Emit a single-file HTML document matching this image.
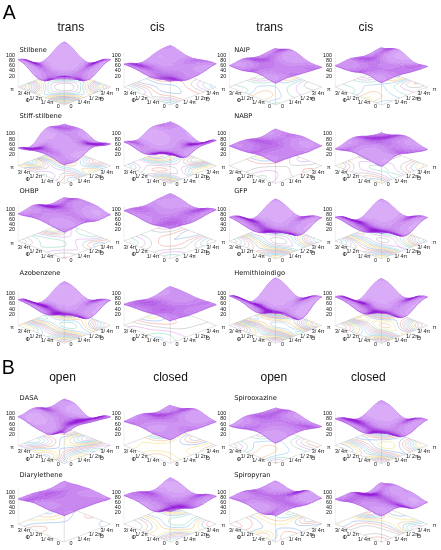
<!DOCTYPE html>
<html><head><meta charset="utf-8"><style>
html,body{margin:0;padding:0;background:#fff;}
body{width:441px;height:550px;position:relative;overflow:hidden;font-family:"Liberation Sans","DejaVu Sans",sans-serif;}
svg{position:absolute;left:0;top:0;}
div{position:absolute;white-space:nowrap;line-height:1;}
.zt{font-size:5.4px;color:#111;}
.fl{font-size:5.4px;color:#111;}
.ax{font-family:"DejaVu Sans",sans-serif;font-size:5.6px;color:#111;}
.nm{font-family:"DejaVu Sans",sans-serif;font-size:6.7px;color:#111;}
.hd{font-size:12px;color:#111;}
.big{font-size:19.5px;color:#000;}
.a{fill:#e0b8fa;stroke:#e0b8fa}.b{fill:#daacf7;stroke:#daacf7}.c{fill:#d4a0f5;stroke:#d4a0f5}.d{fill:#ce94f2;stroke:#ce94f2}.e{fill:#c988f0;stroke:#c988f0}.f{fill:#c37ced;stroke:#c37ced}.g{fill:#bd70ea;stroke:#bd70ea}.h{fill:#b764e8;stroke:#b764e8}.i{fill:#b158e5;stroke:#b158e5}.j{fill:#ab4ce2;stroke:#ab4ce2}.k{fill:#a640e0;stroke:#a640e0}.l{fill:#a034dd;stroke:#a034dd}.m{fill:#9a28db;stroke:#9a28db}.n{fill:#941cd8;stroke:#941cd8}
.s path[class]{stroke-width:1;stroke-linejoin:round}
</style></head><body>
<svg width="441" height="550" viewBox="0 0 1764 2200"><g class="s">
<g fill="none" stroke-width="1.8"><path d="M73 348l184 72 185-72-185-71z" stroke="#c4c4c4" stroke-width="2"/><path d="M257 420V209" stroke="#c4c4c4" stroke-width="2"/><path d="M257 348l0 0" stroke="#f08576"/><path d="M282 361l-5 1-9 1-9 0-4 0-5 0-11 0-6-2-5-1-4-2-2-2-3-4-1-3 1-4 2-4 3-2 4-2 5-2 5 0 9-1 3-1 5 0 4 0 6 0 3 1 7 0 7 1 5 2 4 2 2 2 2 3 1 4-1 4-1 3-3 3-4 2-5 1" stroke="#a8a8a8"/><path d="M290 368l-8 1-4 0-4 0-6 0-9 0-10 0-8 0-5 0-4 0-7-1-7-1-5-1-4-3-3-2-1-3-1-3-1-4 0-6 1-3 1-3 1-3 3-3 4-2 5-1 7-1 7-1 4 0 5 0 5 0 3-1 7 0 9 0 3 1 6 0 4 0 4 0 7 1 7 1 5 1 4 2 3 3 2 3 1 3 0 6 0 5-1 4-2 4-3 2-4 3-5 1-6 1" stroke="#d08be8"/><path d="M310 372l-6 1-9 1-9 0-10 0-9 0-9 0-9 0-10 0-9 0-9 0-9-1-8-1-5-1-4-2-2-3-1-3 0-4 0-4 0-6 0-4 0-4 0-4 1-6 2-3 4-2 5-2 6 0 10-1 9 0 9 0 9 0 10 0 9 0 9 0 9 0 10 0 9 1 7 0 5 2 4 2 2 2 1 4 1 3 0 4-1 4 0 4 0 6 0 4 0 4-1 3-2 3-4 2-5 1" stroke="#6fcfb0"/><path d="M328 379l-9 0-11 0-8-1-9 0-4 0-4 0-6 0-10-1-9 0-9 0-9 1-9 0-4 0-4 0-6 0-10 1-9 0-9 0-9-1-3-2 0-4 2-4 1-3 1-3 1-4 1-6 0-4 0-4-1-3-1-4-1-4-1-4-1-3 0-4 2-3 7-2 9 0 10 1 9 0 8 1 4 0 4 0 6 0 10 0 9 0 10 0 8 0 9 0 4 0 4 0 7-1 10 0 8 0 3-1 6 1 3-1 6 2 3 2 0 4-1 4-1 3-1 3-1 3-1 3 0 4 0 4 0 6 1 3 1 4 1 3 1 3 1 3 0 4-3 3-6 1" stroke="#72b8ec"/><path d="M335 390l-5-2-5-1-6-2-6-1-7-1-7 0-8-1-4 0-4-1-7 0-10 0-8 0-10 0-9 0-8 0-4 1-4 0-7 1-7 0-7 1-6 1-6 2-6 1-5 2M364 318l-5 2-3 2-4 2-2 3-3 3-2 2-2 3-1 3-1 3-1 4 0 4 1 6 1 3 1 4 2 2 2 3 3 3 2 2 4 3 3 2 5 2M151 379l4-2 4-2 3-3 2-2 3-3 2-2 2-3 2-4 1-3 1-6-1-4 0-4-1-3-2-3-2-3-2-2-2-3-3-3-3-2-4-2-4-2M179 307l5 2 6 1 6 1 5 1 8 2 6 0 8 1 4 0 4 1 7 0 10 0 9 0 9 0 9 0 8 0 4-1 4 0 7-1 8 0 6-1 7-2 6-1 5-1 5-2" stroke="#f0ac62"/><path d="M327 393l-5-2-3-1-8-2-6-1-6-1-8-1-5 0-10-1-8 0-3-1-6 0-4 0-5 0-4 1-6 0-10 1-7 0-7 1-7 1-6 1-5 2-6 1-5 2M372 321l-5 2-3 2-4 2-3 3-2 2-3 3-2 3-1 3-1 3-1 4 1 3 1 4 1 4 2 3 2 2 3 3 3 2 4 3 3 2 5 1M143 375l4-1 4-2 3-3 3-2 3-2 2-3 2-2 2-4 1-3 0-4 0-5-1-3-2-3-2-3-2-3-3-2-3-3-3-2-4-2-4-2M187 304l5 2 6 1 5 1 6 2 6 1 8 1 5 0 10 1 8 0 4 0 5 0 4 0 6 0 10 0 9-1 7 0 7-1 7-1 6-2 6-1 5-1 5-2" stroke="#eedc5a"/><path d="M321 395l-5-1-5-2-6-1-6-1-7-2-7 0-7-1-5 0-3-1-8 0-9 0-9 0-7 1-7 0-8 1-6 1-7 2-5 1-5 2-5 1M378 324l-4 2-4 2-4 2-3 2-3 3-2 2-2 3-1 3-1 3 0 4 1 3 1 3 2 3 2 3 3 2 3 3 4 2 4 2 4 2M136 373l5-2 4-2 3-2 3-2 3-3 2-3 2-3 1-3 1-3 0-4-1-3-1-3-2-3-2-2-3-3-3-2-3-2-4-2-5-2M194 301l5 2 5 2 5 1 7 1 6 1 7 1 8 1 5 0 10 1 9 0 9-1 8 0 6-1 8-1 6-1 7-1 6-1 5-2 5-2" stroke="#6c9fe0"/><path d="M315 397l-5-1-5-2-6-1-3-1-9-1-6-1-9-1-8 0-4 0-5 0-4 0-6 0-10 1-7 1-7 1-6 1-6 1-5 2-5 1M384 326l-5 2-4 2-3 2-3 2-3 3-2 2-2 4-1 3 0 5 1 3 2 3 2 3 3 2 3 3 3 2 4 2 5 2M131 371l4-2 4-2 4-2 3-3 2-2 2-2 2-4 1-3 0-4-1-3-1-4-3-3-2-3-3-2-4-2-4-2-4-2M199 299l5 2 5 2 6 1 3 1 10 1 5 1 9 1 9 0 4 0 5 0 4 0 6 0 10-1 7-1 6-1 6-1 6-1 5-2 5-2" stroke="#f08576"/><path d="M310 399l-5-1-5-2-6-1-6-1-7-1-3-1-4 0-7-1-10 0-9 0-8 1-4 0-3 1-7 1-5 1-7 1-5 2-5 1M389 328l-5 2-4 2-3 2-3 2-3 3-2 3-1 3 0 7 1 3 2 3 3 2 2 2 4 3 4 2 5 2M126 369l4-2 4-2 4-2 3-3 2-2 2-3 1-3 1-4-1-3-1-3-2-3-2-3-3-2-4-2-4-2-4-2M204 297l5 2 5 2 6 1 6 1 7 1 7 1 8 0 9 1 9-1 8 0 4-1 10-1 5-1 7-1 5-2 5-2" stroke="#a8a8a8"/><path d="M305 401l-4-1-6-2-5-1-7-1-7-1-8-1-4 0-4 0-6 0-8 0-7 1-8 1-6 1-6 1-5 2-5 1M393 330l-4 2-4 2-3 2-3 2-2 3-2 3-1 3 0 4 2 4 3 3 3 3 3 2 4 2 4 2M121 367l4-2 4-2 3-2 3-3 3-2 1-3 1-3 0-4-2-4-3-4-2-2-4-2-4-2-4-2M209 295l5 2 5 2 6 1 6 1 7 1 8 1 5 0 9 0 4 0 4 0 7-1 8-1 6-1 6-1 6-2 4-2" stroke="#d08be8"/><path d="M301 403l-5-2-6-1-3-1-9-1-6-1-9-1-9 0-10 1-7 1-7 1-6 1-5 1-5 2M398 332l-4 1-4 3-3 2-3 2-2 3-1 3 0 4 1 4 2 2 3 3 3 2 4 2 4 2M116 365l5-2 3-2 4-2 2-3 2-2 2-3 0-4-2-4-2-3-2-2-4-2-3-3-5-1M214 294l5 1 5 2 4 1 9 1 6 1 9 0 9 0 10 0 7-1 6-1 6-1 6-2 5-1" stroke="#6fcfb0"/><path d="M296 405l-5-2-6-1-6-1-7-1-3-1-4 0-7 0-8 0-4 0-4 1-7 1-4 1-7 1-5 2M403 333l-4 2-4 2-3 3-3 2-1 3-1 3 1 3 1 3 3 3 2 2 5 2 4 2M111 363l5-2 3-2 3-2 3-3 1-3 1-3-1-3-1-3-3-2-2-2-4-3-5-2M219 292l5 1 5 2 6 1 7 1 4 0 4 1 6 0 9 0 4-1 10-1 4-1 8-2 5-1" stroke="#72b8ec"/><path d="M291 407l-5-2-5-1-7-1-7-1-9 0-10 0-7 1-7 1-5 1-5 2M408 335l-4 2-3 2-4 3-2 3-1 3 1 4 2 3 3 2 4 2 4 2M106 361l4-2 4-1 3-3 2-3 1-3-1-4-2-3-3-2-4-3-4-2M224 290l5 1 4 2 8 1 7 1 8 0 10 0 8-1 6-1 6-2 5-1" stroke="#f0ac62"/><path d="M285 409l-3-1-8-2-6-1-8 0-5 0-5 0-10 1-6 2-5 1M414 338l-3 1-5 3-2 2-2 3 1 4 3 4 3 2 5 2M101 359l4-2 3-2 3-3 1-3-1-4-3-3-3-2-4-2M229 288l3 1 8 2 7 1 8 0 5 0 5 0 9-1 6-2 5-1" stroke="#eedc5a"/><path d="M279 412l-6-2-6-1-7-1-5 0-5 1-9 1-5 2M420 340l-4 2-3 2-1 3 0 4 4 4 4 2M94 357l4-2 3-3 2-3-1-4-4-3-4-2M236 285l5 2 6 1 8 0 5 0 5 0 8-1 6-2" stroke="#6c9fe0"/><path d="M270 415l-6-1-6-1-8 1-5 1M429 344l-4 2-1 3 5 4M85 353l4-2 2-2-2-3-4-2M245 282l5 1 7 1 7-1 6-1" stroke="#f08576"/></g>
<path d="M73 209V348" stroke="#c8c8c8" stroke-width="1.2"/>
<path d="M73 239l6-2 7 0 7 0 6 1 7 1 6 3 7 2 6 3 7 2 7 1 6 1 7 1 6-1 7-2 7-3 6-5 7-5 6-6 7-7 7-7 6-8 7-7 6-8 7-6 6-7 7-5 7-4 6-3 7 3 6 4 7 5 7 7 6 6 7 8 6 7 7 8 6 7 7 7 7 6 6 5 7 5 6 3 7 2 7 1 6-1 7-1 6-1 7-2 7-3 6-2 7-3 6-1 7-1 6 0 7 0 7 2" fill="none" stroke="#a040e0" stroke-width="2.6"/><path class=b d="M191 239l7-6 7-7 6-7 7-8 6-7 7-8 6-6 7-7 7-5-7-3-7 5-6 7-7 6-6 8-7 7-6 8-7 7-7 7-6 6zM191 247l7-5 7-6 6-7 7-7 6-7 7-8 6-7 7-6 7-6 6-6 7-4-7-4-6 4-7 5-7 7-6 6-7 8-6 7-7 8-6 7-7 7-7 6-6 5zM198 251l7-5 6-6 7-7 6-7 7-7 6-7 7-7 7-6 6-6 7-5 6-5 7-3-7-5-6 3-7 4-6 6-7 6-7 6-6 7-7 8-6 7-7 7-6 7-7 6-7 5zM205 255l6-5 7-6 6-6 7-7 6-7 7-7 7-6 6-7 7-5 6-5 7-4 7-3-7-7-7 3-6 5-7 5-6 6-7 6-7 7-6 7-7 7-6 7-7 7-6 6-7 5zM205 263l6-4 7-5 6-5 7-6 6-7 7-6 7-7 6-6 7-6 6-6 7-5 7-4 6-3-6-6-7 3-7 4-6 5-7 5-6 7-7 6-7 7-6 7-7 7-6 6-7 6-6 5-7 4zM106 265l6-2-6-7-7 2zM211 267l7-4 6-4 7-5 6-6 7-6 7-7 6-6 7-6 6-6 7-5 7-5 6-3 7-3-7-8-6 3-7 4-7 5-6 6-7 6-6 6-7 7-7 6-6 7-7 6-6 5-7 5-6 4zM112 272l7-2-7-7-6 2zM218 272l6-4 7-4 6-5 7-6 7-6 6-6 7-6 6-5 7-6 7-5 6-4 7-4 6-3-6-7-7 3-6 3-7 5-7 5-6 6-7 6-6 6-7 7-7 6-6 6-7 5-6 4-7 4zM119 280l6-2-6-8-7 2zM224 276l7-4 6-4 7-5 7-5 6-5 7-6 6-5 7-6 7-5 6-5 7-4 6-3 7-3-7-8-6 3-7 4-6 4-7 5-7 6-6 5-7 6-6 6-7 6-7 6-6 5-7 4-6 4zM125 287l7-2-7-7-6 2zM237 277l7-4 7-5 6-5 7-5 6-5 7-5 7-5 6-5 7-5 6-4 7-3 6-3-6-7-7 3-6 3-7 4-6 5-7 5-7 6-6 5-7 6-6 5-7 5-7 5-6 4zM132 295l7-2-7-8-7 2zM244 281l7-4 6-4 7-5 6-5 7-4 7-5 6-5 7-5 6-4 7-4 6-3 7-3-7-7-6 3-7 3-6 4-7 5-6 5-7 5-7 5-6 5-7 5-6 5-7 5-7 4zM139 302l6-3-6-6-7 2zM257 281l7-4 6-4 7-5 7-4 6-5 7-5 6-4 7-4 6-4 7-3 7-3-7-6-7 3-6 3-7 4-6 4-7 5-6 5-7 5-7 4-6 5-7 5-6 4zM270 281l7-4 7-5 6-4 7-5 6-4 7-4 6-4 7-4 7-3-7-5-7 3-6 4-7 4-6 4-7 5-6 5-7 4-7 5-6 4zM290 276l7-4 6-5 7-4 6-4-6-4-7 4-6 4-7 5-6 4zM376 302l6-7 7-8 7-7 6-8 7-7 6-7-6-2-7 7-6 7-7 8-7 7-6 8-7 6z"/><path class=c d="M251 178l6-4-6-3-7 4zM178 248l7-4 6-5-6-3-7 5-6 5zM264 178l6-3-6-4-7 3zM185 252l6-5-6-3-7 4zM185 258l6-3 7-4-7-4-6 5-7 3zM93 252l6-2-6-5-7 2zM191 262l7-3 7-4-7-4-7 4-6 3zM99 258l7-2 6-1-6-6-7 1-6 2zM198 266l7-3-7-4-7 3zM112 263l7-1-7-7-6 1zM205 270l6-3-6-4-7 3zM119 270l6-1 7-1-7-7-6 1-7 1zM205 277l6-2 7-3-7-5-6 3-7 2zM125 278l7-2 7 0-7-8-7 1-6 1zM211 281l7-2 6-3-6-4-7 3-6 2zM132 285l7-1 6-1 7-1-7-7-6 1-7 0-7 2zM218 285l6-2 7-3 6-3-6-5-7 4-6 3-7 2zM139 293l6-2 7-1 6-1-6-7-7 1-6 1-7 1zM231 287l6-3 7-3-7-4-6 3-7 3zM145 299l7-1 6-2 7-1-7-6-6 1-7 1-6 2zM237 291l7-3 7-3 6-4-6-4-7 4-7 3-6 3zM145 308l7-3 6-1 7-2-7-6-6 2-7 1-6 3zM330 244l6-3-6-5-7 3zM251 292l6-4 7-3 6-4-6-4-7 4-6 4-7 3zM152 313l6-2 7-2-7-5-6 1-7 3zM316 259l7-4 7-3 6-4 7-2-7-5-6 3-7 3-7 4-6 4zM264 292l6-4 7-4 7-4 6-4-6-4-7 5-7 4-6 4-7 3zM158 317l7-2-7-4-6 2zM277 291l7-4 6-4 7-4 6-4 7-5 6-4 7-4 7-4 6-3-6-3-7 3-7 4-6 4-7 4-6 5-7 4-6 4-7 4-7 4zM297 285l6-4 7-4 6-5-6-2-7 5-6 4-7 4zM356 296l7-6 6-7 7-7-7-1-6 7-7 7-7 6zM356 304l7-6 6-7 7-7 6-8 7-7 7-7-7-1-7 7-6 8-7 7-6 7-7 6-7 6zM356 311l7-6 6-6 7-6 6-8 7-7 7-8 6-7 7-7 6-6-6-1-7 6-6 7-7 7-7 7-6 8-7 7-6 7-7 6-7 5zM415 258l7-6 6-5-6-2-7 5-6 6zM356 317l7-4 6-5 7-6-7-3-6 6-7 6-7 4z"/><path class=d d="M257 174l7-3-7-3-6 3zM172 252l6-4-6-2-7 3zM178 255l7-3-7-4-6 4zM86 247l7-2-7-4-7 2zM178 260l7-2-7-3-6 2zM99 250l7-1-7-5-6 1zM185 264l6-2-6-4-7 2zM112 255l7 0-7-6-6 0zM191 268l7-2-7-4-6 2zM119 262l6-1-6-6-7 0zM191 274l7-2 7-2-7-4-7 2-6 1zM132 268l7 0-7-6-7-1zM198 278l7-1-7-5-7 2zM139 276l6-1 7 1-7-7-6-1-7 0zM205 283l6-2-6-4-7 1zM152 282l6 0-6-6-7-1zM211 287l7-2-7-4-6 2zM158 289l7 0 7 0-7-6-7-1-6 0zM218 291l6-2 7-2-7-4-6 2-7 2zM165 295l7 0 6 0-6-6-7 0-7 0zM224 295l7-2 6-2-6-4-7 2-6 2zM165 302l7-1 6-1 7 0-7-5-6 0-7 0-7 1zM231 299l6-2 7-3 7-2-7-4-7 3-6 2-7 2zM165 309l7-2 6-1 7-1-7-5-6 1-7 1-7 2zM244 300l7-2 6-3 7-3-7-4-6 4-7 2-7 3zM165 315l7-2 6-2-6-4-7 2-7 2zM336 255l7-3 6-3-6-3-7 2-6 4zM257 300l7-2 6-4 7-3-7-3-6 4-7 3-6 3zM165 320l7-2-7-3-7 2zM316 272l7-4 7-4 6-4 7-3-7-2-6 3-7 4-7 4-6 4zM270 300l7-3 7-4 6-4 7-4-7-2-6 4-7 4-7 3-6 4zM284 299l6-4 7-4 6-4 7-4 6-5 7-4 7-5-7-1-7 4-6 5-7 4-6 4-7 4-6 4-7 4zM336 300l7-5 6-6 7-7-7 1-6 6-7 6-6 5zM336 306l7-5 6-6 7-6 7-7 6-7 7-7-7 1-6 7-7 6-7 7-6 6-7 5-6 5zM376 276l6-8 7-7-7 1-6 6-7 7zM343 307l6-5 7-6-7-1-6 6-7 5zM396 262l6-7 7-6-7 0-6 6-7 6zM343 313l6-4 7-5-7-2-6 5-7 4zM415 250l7-5-7-1-6 5zM349 315l7-4-7-2-6 4zM428 247l7-4-7-2-6 4zM349 320l7-3-7-2-6 3z"/><path class=e d="M165 254l7-2-7-3-7 2zM79 243l7-2-7-4-6 2zM172 257l6-2-6-3-7 2zM93 245l6-1-6-4-7 1zM106 249l6 0-6-5-7 0zM178 265l7-1-7-4-6 1zM185 269l6-1-6-4-7 1zM125 261l7 1-7-7-6 0zM185 274l6 0-6-5-7 1zM139 268l6 1-6-6-7-1zM191 279l7-1-7-4-6 0zM152 276l6 0-6-6-7-1zM191 284l7 0 7-1-7-5-7 1-6 0zM158 282l7 1 7 0-7-6-7-1-6 0zM172 289l6 0 7 0 6 0 7 0 7-1 6-1-6-4-7 1-7 0-6 0-7 0-6-1-7 0zM178 295l7-1 6 0 7 0 7-1 6-1 7-1-7-4-6 1-7 1-7 0-6 0-7 0-6 0zM185 300l6-1 7 0 7-1 6 0 7-1 6-2-6-4-7 1-6 1-7 1-7 0-6 0-7 1zM218 301l6-1 7-1-7-4-6 2-7 1zM185 305l6-1 7 0-7-5-6 1-7 0zM231 303l6-1 7-2-7-3-6 2-7 1zM178 311l7-1 6-1-6-4-7 1-6 1zM244 305l7-2 6-3-6-2-7 2-7 2zM172 318l6-2 7-2-7-3-6 2-7 2zM343 257l6-3 7-3-7-2-6 3-7 3zM257 305l7-2 6-3-6-2-7 2-6 3zM330 269l6-4 7-4-7-1-6 4-7 4zM270 305l7-3 7-3-7-2-7 3-6 3zM284 303l6-3 7-3 6-5 7-4 6-4 7-5 7-5 6-4-6-1-7 5-7 4-6 5-7 4-6 4-7 4-6 4-7 3zM297 301l6-3 7-5 6-4 7-5 7-5-7 0-7 5-6 4-7 4-6 5-7 3zM310 298l6-4 7-5 7-5-7 0-7 5-6 4-7 5zM316 299l7-5 7-5 6-5-6 0-7 5-7 5-6 4zM323 299l7-5 6-5 7-6-7 1-6 5-7 5-7 5zM323 304l7-4 6-5 7-6 6-6 7-7-7 1-6 6-7 6-6 5-7 5-7 5zM356 282l7-6 6-7-6 1-7 6-7 7zM330 305l6-5-6 0-7 4zM376 268l6-6-6 1-7 6zM330 310l6-4-6-1-7 4zM389 261l7-6-7 0-7 7zM336 311l7-4-7-1-6 4zM409 249l6-5-6 0-7 5zM336 316l7-3-7-2-6 3zM422 245l6-4-6-1-7 4zM343 318l6-3-6-2-7 3zM435 243l7-4-7-2-7 4z"/><path class=f d="M172 261l6-1-6-3-7 1zM119 255l6 0-6-5-7-1zM178 270l7-1-7-4-6 0zM132 262l7 1-7-6-7-2zM178 274l7 0-7-4-6-1zM145 269l7 1-7-6-6-1zM158 276l7 1 7 1 6 1 7 0 6 0-6-5-7 0-6-1-7-1-7-1-6-1zM172 283l6 1 7 0 6 0-6-5-7 0-6-1-7-1zM198 304l7-1 6-1 7-1-7-3-6 0-7 1-7 0zM191 309l7-1 7-1 6 0 7-1 6-1 7-2-7-3-6 1-7 1-6 1-7 1-7 0-6 1zM231 308l6-2 7-1-7-3-6 1-7 2zM185 314l6-1-6-3-7 1zM251 307l6-2-6-2-7 2zM172 322l6-2-6-2-7 2zM343 261l6-3-6-1-7 3zM264 307l6-2-6-2-7 2zM336 270l7-5-7 0-6 4zM277 306l7-3-7-1-7 3zM330 279l6-5 7-5-7 1-6 4-7 5zM284 308l6-3 7-4-7-1-6 3-7 3zM330 284l6-5 7-6-7 1-6 5-7 5zM297 306l6-4 7-4-7 0-6 3-7 4zM336 284l7-6 6-6-6 1-7 6-6 5zM303 307l7-4 6-4-6-1-7 4-6 4zM343 283l6-6 7-6-7 1-6 6-7 6zM310 307l6-3 7-5-7 0-6 4-7 4zM356 276l7-6-7 1-7 6zM316 308l7-4-7 0-6 3zM369 269l7-6-7 1-6 6zM323 309l7-4-7-1-7 4zM382 262l7-7-7 2-6 6zM396 255l6-6-6 1-7 5zM330 314l6-3-6-1-7 3zM343 322l6-2-6-2-7 2z"/><path class=g d="M158 254l7 0-7-3-6 1zM86 241l7-1-7-3-7 0zM165 258l7-1-7-3-7 0zM99 244l7 0-7-4-6 0zM112 249l7 1-7-5-6-1zM172 265l6 0-6-4-7 0zM125 255l7 2-7-6-6-1zM172 269l6 1-6-5-7 0zM139 263l6 1-6-6-7-1zM152 270l6 1 7 1 7 1 6 1-6-5-7-1-7-1-6-2-7-1zM191 313l7-1 7-1 6-1 7 0 6-1 7-1-7-3-6 1-7 1-6 0-7 1-7 1-6 1zM237 310l7-1 7-2-7-2-7 1-6 2zM178 320l7-2 6-2-6-2-7 2-6 2zM349 258l7-4 7-2-7-1-7 3-6 3zM257 309l7-2-7-2-6 2zM343 265l6-4-6 0-7 4zM270 309l7-3-7-1-6 2zM343 269l6-4-6 0-7 5zM277 310l7-2-7-2-7 3zM343 273l6-5-6 1-7 5zM290 309l7-3-7-1-6 3zM349 272l7-5-7 1-6 5zM297 310l6-3-6-1-7 3zM356 271l7-6-7 2-7 5zM303 310l7-3-7 0-6 3zM363 270l6-6-6 1-7 6zM310 311l6-3-6-1-7 3zM376 263l6-6-6 1-7 6zM316 312l7-3-7-1-6 3zM389 255l7-5-7 1-7 6zM323 313l7-3-7-1-7 3zM237 307l7-1-7 2-6 1zM402 249l7-5-7 1-6 5zM415 244l7-4-7 0-6 4zM330 318l6-2-6-2-7 2zM428 241l7-4-7 0-6 3zM336 320l7-2-7-2-6 2zM277 307l7 2-7-1-7-2z"/><path class=h d="M165 261l7 0-7-3-7 0zM165 265l7 0-7-4-7-1zM165 268l7 1-7-4-7-1zM145 264l7 1-7-5-6-2zM231 311l6-1-6-2-7 1zM191 316l7-1-7-2-6 1zM251 310l6-1-6-2-7 2zM178 323l7-2-7-1-6 2zM349 261l7-3-7 0-6 3zM264 310l6-1-6-2-7 2zM349 265l7-5-7 1-6 4zM349 268l7-4-7 1-6 4zM284 311l6-2-6-1-7 2zM369 264l7-6-7 2-6 5zM323 316l7-2-7-1-7 2zM336 323l7-1-7-2-6 1z"/><path class=i d="M93 240l6 0-6-3-7 0zM158 258l7 0-7-4-6 0zM106 244l6 1-6-4-7-1zM119 250l6 1-6-5-7-1zM132 257l7 1-7-5-7-2zM152 265l6 2 7 1-7-4-6-2-7-2zM198 315l7-1 6-1 7 0 6-1 7-1-7-2-6 1-7 0-6 1-7 1-7 1zM244 312l7-2-7-1-7 1zM185 321l6-2-6-1-7 2zM356 258l7-4-7 0-7 4zM257 312l7-2-7-1-6 1zM270 312l7-2-7-1-6 1zM356 267l7-5-7 2-7 4zM290 312l7-2-7-1-6 2zM363 265l6-5-6 2-7 5zM297 313l6-3-6 0-7 2zM303 313l7-2-7-1-6 3zM382 257l7-6-7 2-6 5zM310 314l6-2-6-1-7 2zM396 250l6-5-6 1-7 5zM316 315l7-2-7-1-6 2zM409 244l6-4-6 1-7 4zM422 240l6-3-6 0-7 3zM330 321l6-1-6-2-7 1z"/><path class=j d="M152 254l6 0-6-2-7-1zM158 260l7 1-7-3-6-1zM139 258l6 2 7 2 6 2 7 1-7-5-6-1-7-2-6-2-7-2zM237 313l7-1-7-2-6 1zM191 319l7-2-7-1-6 2zM363 254l6-3-6 1-7 2zM356 260l7-3-7 1-7 3zM356 264l7-5-7 1-7 5zM277 313l7-2-7-1-7 2zM363 262l6-5-6 2-7 5zM369 260l7-5-7 2-6 5zM376 258l6-5-6 2-7 5zM323 319l7-1-7-2-7 1z"/><path class=k d="M152 257l6 1-6-4-7-1zM125 251l7 2-7-5-6-2zM231 313l6 0-6-2-7 1zM198 317l7-1-7-1-7 1zM251 313l6-1-6-2-7 2zM363 257l6-4-6 1-7 4zM264 313l6-1-6-2-7 2zM244 314l7 1-7 0-7 0zM284 313l6-1-6-1-7 2zM270 314l7 1-7 0-6 0zM389 251l7-5-7 2-7 5zM316 317l7-1-7-1-6 1z"/><path class=l d="M99 240l7 1-7-3-6-1zM112 245l7 1-7-4-6-1zM152 259l6 1-6-3-7-2zM132 253l7 2-7-4-7-3zM205 316l6-1 7 0 6-1 7-1-7-1-6 1-7 0-6 1-7 1zM244 314l7-1-7-1-7 1zM185 323l6-2-6 0-7 2zM363 259l6-4-6 2-7 3zM270 314l7-1-7-1-6 1zM290 314l7-1-7-1-6 1zM382 253l7-5-7 3-6 4zM297 315l6-2-6 0-7 1zM303 315l7-1-7-1-6 2zM224 311l7-2-7 2-6 2zM402 245l7-4-7 1-6 4zM310 316l6-1-6-1-7 1zM415 240l7-3-7 1-6 3zM330 323l6 0-6-2-7 0zM290 311l7 2-7-2-6-2z"/><path class=m d="M145 253l7 1-7-3-6-1zM139 255l6 2 7 2-7-4-6-2-7-2zM191 321l7-2-7 0-6 2zM369 253l7-3-7 1-6 3zM257 314l7-1-7-1-6 1zM369 257l7-4-7 2-6 4zM376 255l6-4-6 2-7 4zM323 321l7 0-7-2-7 0z"/><path class=n d="M106 241l6 1 7 3 6 2 7 2 7 3 6 1-6-3-7-1-7-2-6-3-7-2-6-3-7-1zM119 246l6 2 7 3 7 2 6 2 7 2-7-4-6-1-7-3-7-2-6-2-7-3zM198 319l7-2 6-1 7 0 6-1 7 0 6-1 7 0-7-1-6 0-7 1-6 1-7 0-6 1-7 1-7 2zM191 322l7-2 7-2 6-1 7-1 6-1 7 0 6 0 7 0 7-1 6 0-6-1-7 1-7 0-6 1-7 0-6 1-7 0-6 1-7 2-7 2-6 2zM369 255l7-3 6-3-6 1-7 3-6 4zM251 315l6 0 7-1 6 0-6-1-7 1-6 0-7 1zM198 320l7-2 6-2-6 2-7 2-7 2zM376 253l6-4 7-2-7 2-6 3-7 3zM264 315l6 0 7-1 7-1-7 0-7 1-6 0-7 1zM205 318l6-2-6 2-7 2zM382 251l7-4 7-3-7 3-7 2-6 4zM277 315l7 0 6-1-6-1-7 1-7 1zM389 248l7-3 6-3-6 2-7 3-7 4zM284 315l6 0 7 0-7-1-6 1-7 0zM396 246l6-4 7-3-7 3-6 3-7 3zM290 315l7 1 6-1-6 0-7 0-6 0zM409 241l6-3-6 1-7 3zM297 316l6 0 7 0-7-1-6 1-7-1zM303 317l7 0 6 0-6-1-7 0-6 0zM310 318l6 1 7 0-7-2-6 0-7 0zM310 318l6 2 7 1-7-2-6-1-7-2zM310 318l6 2 7 2 7 1-7-2-7-1-6-2-7-2z"/><path class=c d="M231 313l6 0-6 1-7 1zM231 311l6 0 7 1 7 0 6 1-6 1-7-1-7 0-6 0-7 0zM231 310l6-1 7 0 7 1 6 1 7 1 6 1-6 1-7-1-6-1-7 0-7-1-6 0-7 1zM237 308l7-1 7 1 6 1 7 1 6 2 7 1-7 0-6-1-7-1-6-1-7-1-7 0-6 1zM251 306l6 1 7 1 6 1 7 2 7 2 6 2-6-1-7-1-7-1-6-2-7-1-6-1-7-1zM264 306l6 1 7 2 7 2 6 2-6 0-7-2-7-2-6-1-7-1zM277 308l7 2 6 2-6-1-7-2-7-2z"/><path class=d d="M237 313l7 0 7 1-7 0-7 0-6 0zM218 314l6-1 7 0-7 2-6 0-7 1zM257 313l7 1-7 0-6 0zM224 312l7-1-7 2-6 1zM270 313l7 1-7 0-6 0zM224 311l7-1-7 2-6 1zM277 313l7 1-7 0-7-1zM244 306l7 0-7 1-7 1zM290 313l7 2-7 0-6-2zM257 305l7 1-7 1-6-1zM290 312l7 2 6 2-6-1-7-2-6-2zM270 306l7 2-7-1-6-1zM290 311l7 2-7-1-6-2z"/><path class=e d="M224 315l7-1-7 1-6 1zM251 314l6 0-6 1-7-1zM264 314l6 0-6 1-7-1zM218 313l6-1-6 2-7 2zM231 309l6-1-6 2-7 1zM290 315l7 1-7-1-6-1zM251 305l6 0-6 1-7 0zM264 305l6 1-6 0-7-1zM297 313l6 3-6-2-7-2zM284 309l6 2-6-1-7-2z"/><path class=f d="M231 314l6 0-6 1-7 0zM218 315l6 0-6 1-7 1zM284 314l6 1-6 0-7-1zM297 315l6 2-6-1-7-1z"/><path class=g d="M237 314l7 0-7 1-6 0zM211 316l7-2-7 2-6 2zM277 314l7 1-7 0-7-1zM303 316l7 2-7-2-6-2z"/><path class=h d="M257 314l7 1-7 0-6 0z"/><path class=i d="M211 316l7-1-7 2-6 1zM211 316l7-3-7 3-6 2zM218 313l6-2-6 2-7 3zM303 316l7 2-7-1-6-2zM297 313l6 3 7 2-7-2-6-3-7-2z"/><path class=g d="M257 311l7-2-7-2-6 2z"/><path class=i d="M251 309l6-2-6-1-7 2zM264 309l6-1-6-2-7 1z"/><path class=m d="M244 308l7-2-7 0-7 2zM257 307l7-1-7-1-6 1zM270 308l7 0-7-2-6 0z"/><path class=n d="M231 309l6-2-6 2-7 2zM237 308l7-2 7-1-7 1-7 1-6 2zM251 306l6-1 7 0-7 0-6 0-7 1zM264 306l6 0 7 1-7-1-6-1-7 0zM277 308l7 1 6 2-6-2-7-2-7-1z"/><path d="M73 239l6 4 7 4 7 5 6 6 7 7 6 7 7 8 6 7 7 8 7 7 6 6 7 5 6 4 7 3 7 2 6 1 7 0 6-1 7-2 7-2 6-2 7-3 6-2 7-2 6-1 7 0 7 1 6 2 7-2 6-1 7 0 7 1 6 2 7 2 6 3 7 2 6 2 7 2 7 1 6 0 7-1 6-2 7-3 7-4 6-5 7-6 6-7 7-8 7-7 6-8 7-7 6-7 7-6 6-5 7-4 7-4" fill="none" stroke="#a040e0" stroke-width="2.2"/>
<g fill="none" stroke-width="1.8"><path d="M496 348l185 72 184-72-184-71z" stroke="#c4c4c4" stroke-width="2"/><path d="M681 420V209" stroke="#c4c4c4" stroke-width="2"/><path d="M584 314l5 2 4 2 4 2 5 2 4 2 4 2 5 2 4 1 5 2 5 2 5 1 7 1 7 1 8 1 5 0 10 1 8 1 6 0 7 2 5 1 5 2 4 2 4 2 3 2 3 3 3 2 2 3 2 3 1 3 1 3 0 4-5 3-5 1-9-1-5 0-10-1-7-1-7-1-7-1-6-1-6-1-5-2-5-1-4-2-4-2-3-3-3-2-2-2-4-3-3-2-4-2-4-3-4-1-5-2-3-1-9-2-6-1-5-1-7-1-6-2-6-1-4-1-6-2-5-2" stroke="#6c9fe0"/><path d="M733 400l-4-2-5-2-5-2-5-1-5-2-5-2-3-1-7-2-6-1-6-1-3-1-4 0-6-1-6-1-8-1-6-1-6-1-6-2-4-2-5-2-3-2-3-2-3-3-3-2-3-3-3-2-3-2-3-3-4-2-4-2-5-2-5-1-5-2-5-2-5-1-5-2-6-1-5-2-5-1-5-2-4-2M595 310l5 2 5 2 4 1 5 2 5 2 6 1 3 1 8 2 7 1 7 1 7 0 9 1 9 0 10-1 9 0 8-1 5 0 10-1 8 1 4 2 3 3 1 3 2 3 2 2 2 3 2 3 2 3 3 2 3 2 3 3 4 2 3 2 4 2 4 3 4 2 4 1 4 2 5 2 4 2 5 2 4 2" stroke="#f08576"/><path d="M723 404l-5-2-5-2-5-1-5-2-5-2-6-1-5-1-5-1-8-2-7 0-8-1-4 0-3-1-7 0-10 0-9 0-8-1-6-1-4-2-2-3-1-3-1-3-1-3-2-3-2-3-2-3-3-2-3-3-3-2-3-2-5-2-4-2-5-2-5-2-5-1-5-2-5-2-5-1-5-2-4-2-5-1M787 318l-4 2-5 2-3 2-4 2-2 3-3 3-1 3 1 5 2 3 3 3 2 2 4 2 3 3 4 2 5 2 4 2 4 1 5 2 4 2 5 2 4 2M604 306l5 2 5 2 5 1 6 2 4 1 8 1 6 1 8 1 5 0 10 0 8 0 7-1 7-1 6-1 4-1 7-2 5-1 5-2 5-2 5-1 4-2 5-2 5-2" stroke="#a8a8a8"/><path d="M714 407l-5-2-5-1-5-2-5-1-6-2-6-1-4-1-10-1-8 0-5 0-4 0-4 0-7 1-6 1-5 2M803 324l-4 2-4 2-2 2-3 3-2 3 1 4 3 5 3 2 3 2 4 3 4 2 4 2 4 1 5 2 4 2 5 2M573 378l4-2 3-2 1-3 0-4-2-4-3-3-3-2-3-2-3-2-5-2-5-2-5-2-4-2-5-1-4-2-6-2-5-1-4-2M614 303l5 2 5 1 5 2 4 0 9 2 5 0 10 1 9-1 7 0 7-1 4-1 7-2 6-2 5-1 5-2 4-2 5-1 5-2 4-2" stroke="#d08be8"/><path d="M706 410l-5-1-5-2-6-1-6-2-6-1-5 0-10-1-8 1-6 1-6 1M819 331l-4 2-3 2-1 3 0 4 2 2 2 2 2 2 5 3 4 2 4 2 5 2 4 2M553 371l4-3 2-3-2-4-3-3-4-2-4-2-4-2-5-2-4-1-5-2-5-2-5-2-4-1M624 299l5 1 5 2 7 1 7 1 9 0 9-1 7-1 6-1 6-1 5-2 5-1 5-2 4-2 5-2 5-1" stroke="#6fcfb0"/><path d="M696 414l-5-1-5-2-7-1-7 0-8 0-5 1M843 340l-3 2 2 5 3 2 4 2 5 2M639 293l6 1 7 1 9 0 9-1 6-1 3-1 7-2 5-2 5-2 4-2" stroke="#72b8ec"/></g>
<path d="M496 209V348" stroke="#c8c8c8" stroke-width="1.2"/>
<path d="M496 257l7-2 7-1 6-1 7 0 6 0 7 1 6 0 7 0 7-1 6-2 7-2 6-3 7-4 7-5 6-4 7-6 6-5 7-5 7-5 6-4 7-5 6-3 7-4 6-3 7-3 7-3 6-2 7-3 6 3 7 3 7 4 6 5 7 4 6 5 7 4 6 5 7 4 7 4 6 3 7 3 6 3 7 2 7 1 6 2 7 1 6 1 7 1 7 1 6 1 7 1 6 2 7 1 6 2 7 2 7 3 6 2" fill="none" stroke="#a040e0" stroke-width="2.6"/><path class=b d="M641 229l7-4-7-4-6 5z"/><path class=c d="M589 244l6-4 7-5 6-5 7-5 7-5 6-5 7-5 6-4 7-4-7-2-6 3-7 5-6 4-7 5-7 5-6 5-7 6-6 4-7 5zM595 247l7-4 6-5 7-5 7-5 6-5 7-5 6-4 7-5 6-3 7-4 7-3-7-3-7 3-6 3-7 4-6 4-7 5-6 5-7 5-7 5-6 5-7 5-6 4zM602 249l6-4 7-4 7-5 6-5 7-5 6-5 7-4 6-4 7-4 7-3 6-3 7-3 6-3 7-2 7-3-7-4-7 3-6 3-7 2-6 3-7 3-7 4-6 3-7 5-6 4-7 5-6 5-7 5-7 5-6 5-7 4zM648 225l6-4 7-4 7-4 6-3 7-3 6-3 7-2 7-3 6-2-6-5-7 3-7 2-6 3-7 3-6 3-7 3-7 4-6 4-7 4zM608 252l7-4 7-5 6-4 7-5 6-5-6-3-7 5-6 5-7 5-7 4-6 4zM615 254l7-4 6-4 7-4 6-5 7-4 6-4 7-4 7-4 6-3 7-3 6-3 7-3 7-3 6-2 7-3-7-4-6 2-7 3-7 2-6 3-7 3-6 3-7 4-7 4-6 4-7 4-6 5-7 5-6 4-7 5-7 4zM628 253l7-4 6-4 7-4 6-4 7-4 7-4 6-4 7-3 6-3 7-3 7-3 6-2 7-3 6-2-6-5-7 3-6 2-7 3-7 3-6 3-7 3-6 3-7 4-7 4-6 4-7 4-6 5-7 4-6 4zM635 256l6-4 7-4 6-4 7-4 7-3 6-4 7-3 6-3 7-3 7-3 6-3 7-3 6-2 7-3-7-4-6 2-7 3-6 2-7 3-7 3-6 3-7 3-6 4-7 4-7 4-6 4-7 4-6 4-7 4zM641 259l7-4 6-3 7-4 7-4 6-3 7-4 6-3 7-3 7-3 6-3 7-2 6-3 7-3 6-2-6-5-7 3-6 2-7 3-6 3-7 3-7 3-6 3-7 3-6 4-7 3-7 4-6 4-7 4-6 4zM648 262l6-4 7-3 7-4 6-3 7-4 6-3 7-3 7-3 6-3 7-3 6-2 7-3 6-2 7-3-7-4-6 2-7 3-6 3-7 2-6 3-7 3-7 3-6 3-7 4-6 3-7 4-7 4-6 3-7 4zM654 265l7-4 7-3 6-3 7-4 6-3 7-3 7-3 6-3 7-3 6-3 7-2 6-3 7-3 7-2-7-4-7 3-6 2-7 3-6 2-7 3-6 3-7 3-7 3-6 3-7 4-6 3-7 4-7 3-6 4zM668 265l6-4 7-3 6-3 7-4 7-3 6-3-6-3-7 3-7 3-6 3-7 4-6 3-7 3zM681 264l6-3 7-3-7-3-6 3-7 3zM780 276l6-4 7-5-7-2-6 4-7 5zM780 282l6-4 7-4 6-4 7-5-7-2-6 4-7 5-6 4-7 4zM786 285l7-4 6-4 7-5 7-4 6-5-6-2-7 4-7 5-6 4-7 4-6 4zM793 287l6-4 7-4 7-4 6-5 7-5 6-4-6-2-7 4-6 5-7 4-7 5-6 4-7 4zM799 290l7-4 7-4 6-5 7-5 6-4 7-5-7-2-6 4-7 5-6 5-7 4-7 4-6 4zM806 292l7-4 6-4 7-4 6-5 7-5 6-4 7-4-7-3-6 4-7 5-6 4-7 5-6 5-7 4-7 4z"/><path class=d d="M648 202l6-3 7-3 7-3 6-3 7-2 6-3-6-3-7 3-6 2-7 3-7 3-6 3-7 4zM575 251l7-3 7-4-7-2-7 4-6 3zM668 199l6-3 7-2 6-3 7-3-7-3-6 3-7 2-6 3-7 3zM582 254l7-3 6-4-6-3-7 4-7 3zM595 253l7-4-7-2-6 4zM602 255l6-3-6-3-7 4zM608 258l7-4-7-2-6 3zM615 260l7-3 6-4-6-3-7 4-7 4zM622 262l6-3 7-3-7-3-6 4-7 3zM542 276l7-2-7-3-6 2zM628 265l7-3 6-3-6-3-7 3-6 3zM549 280l7-3-7-3-7 2zM635 268l6-3 7-3-7-3-6 3-7 3zM556 283l6-2-6-4-7 3zM641 271l7-3 6-3-6-3-7 3-6 3zM562 287l7-2 6-2-6-4-7 2-6 2zM707 245l7-3 6-3 7-2 6-3 7-3 7-2 6-3-6-3-7 2-7 3-6 3-7 2-6 3-7 3-6 3zM648 273l6-2 7-3 7-3-7-4-7 4-6 3-7 3zM569 291l6-2 7-2-7-4-6 2-7 2zM694 258l7-4 6-3 7-3 6-3 7-3 6-2 7-3 7-3 6-2 7-3-7-3-6 3-7 2-7 3-6 3-7 2-6 3-7 3-6 3-7 3-7 4zM654 276l7-2 7-3 6-4 7-3-7-3-6 4-7 3-7 3-6 2zM575 295l7-3 7-2-7-3-7 2-6 2zM661 279l7-3 6-3 7-3 6-3 7-3 7-4 6-3 7-3 6-3 7-3 6-3 7-3-7-2-6 2-7 3-6 3-7 3-6 3-7 4-7 3-6 3-7 3-6 4-7 3-7 2zM582 298l7-2 6-2-6-4-7 2-7 3zM668 282l6-3 7-3 6-3 7-3 7-4 6-3 7-3 6-3 7-4 6-3-6-2-7 3-6 3-7 3-6 3-7 4-7 3-6 3-7 3-6 3-7 3zM589 302l6-2 7-2-7-4-6 2-7 2zM681 282l6-3 7-3 7-4 6-3 7-3 6-4 7-3 6-3-6-3-7 4-6 3-7 3-6 3-7 4-7 3-6 3-7 3zM595 305l7-2-7-3-6 2zM694 281l7-3 6-3 7-4 6-3 7-3 6-4 7-3-7-2-6 3-7 3-6 4-7 3-6 3-7 4-7 3zM701 284l6-4 7-3 6-3 7-4 6-3 7-4 7-3-7-2-7 3-6 4-7 3-6 3-7 4-6 3-7 3zM714 283l6-4 7-3 6-4 7-3 7-4 6-4-6-1-7 3-7 4-6 3-7 4-6 3-7 3zM720 285l7-3 6-4 7-3 7-4 6-4 7-4 6-3-6-2-7 3-6 4-7 4-7 3-6 4-7 3-6 4zM727 287l6-3 7-4 7-3 6-4 7-4 6-4 7-4 7-4-7-1-7 4-6 3-7 4-6 4-7 4-7 3-6 4-7 3zM733 289l7-3 7-3 6-4 7-4 6-4 7-4 7-4 6-4 7-4-7-1-6 3-7 4-7 4-6 4-7 4-6 4-7 3-7 4-6 3zM740 292l7-4 6-3 7-4 6-3 7-4 7-5 6-4 7-4 6-4 7-4-7-2-6 4-7 4-6 4-7 4-7 4-6 4-7 4-6 4-7 3-7 3zM793 267l6-4 7-4 7-4-7-2-7 4-6 4-7 4zM740 297l7-3 6-3 7-4 6-3 7-4 7-4-7-2-7 4-6 3-7 4-6 3-7 4-7 3zM806 265l7-4 6-4 7-4-7-2-6 4-7 4-7 4zM747 299l6-3 7-3 6-3 7-4 7-4-7-2-7 4-6 3-7 4-6 3-7 3zM819 263l7-4 6-4-6-2-7 4-6 4zM747 305l6-3 7-3 6-4 7-3 7-3 6-4-6-3-7 4-7 4-6 3-7 3-6 3-7 3zM832 261l7-4 6-4-6-2-7 4-6 4zM753 307l7-3 6-3 7-3 7-3 6-4 7-4-7-2-6 4-7 3-7 3-6 4-7 3-6 3zM839 263l6-4 7-3-7-3-6 4-7 4zM760 310l6-3 7-3 7-4 6-3 7-3 6-4-6-3-7 4-6 4-7 3-7 3-6 3-7 3zM852 262l7-4 6-3-6-2-7 3-7 3zM766 312l7-3 7-3 6-3 7-3 6-4 7-4-7-2-6 4-7 3-6 3-7 4-7 3-6 3z"/><path class=e d="M569 254l6-3-6-2-7 2zM503 260l7-3-7-2-7 2zM575 256l7-2-7-3-6 3zM510 262l6-2-6-3-7 3zM589 256l6-3-6-2-7 3zM516 265l7-3-7-2-6 2zM595 258l7-3-7-2-6 3zM523 267l6-2-6-3-7 3zM602 260l6-2-6-3-7 3zM529 270l7-2-7-3-6 2zM608 263l7-3-7-2-6 2zM536 273l6-2-6-3-7 2zM615 265l7-3-7-2-7 3zM549 274l7-2-7-3-7 2zM622 267l6-2-6-3-7 3zM556 277l6-1-6-4-7 2zM622 272l6-2 7-2-7-3-6 2-7 3zM562 281l7-2-7-3-6 1zM628 275l7-2 6-2-6-3-7 2-6 2zM575 283l7-1-7-4-6 1zM635 278l6-2 7-3-7-2-6 2-7 2zM582 287l7-2-7-3-7 1zM641 281l7-2 6-3-6-3-7 3-6 2zM589 290l6-1 7-1-7-4-6 1-7 2zM740 242l7-2 6-3 7-3 6-2-6-3-7 3-6 2-7 3-7 3zM648 283l6-2 7-2-7-3-6 3-7 2zM595 294l7-1 6-2-6-3-7 1-6 1zM733 250l7-3 7-3 6-2 7-3 6-3 7-2-7-2-6 2-7 3-6 3-7 2-7 3-6 3zM654 286l7-2 7-2-7-3-7 2-6 2zM602 298l6-2-6-3-7 1zM733 256l7-4 7-3 6-3 7-3-7-1-6 2-7 3-7 3-6 3zM661 289l7-2 6-3 7-2-7-3-6 3-7 2-7 2zM602 303l6-2 7-2-7-3-6 2-7 2zM740 258l7-4 6-3 7-3-7-2-6 3-7 3-7 4zM674 289l7-2 6-3 7-3-7-2-6 3-7 2-6 3zM602 308l6-3 7-2-7-2-6 2-7 2zM747 260l6-4 7-3 6-4-6-1-7 3-6 3-7 4zM681 291l6-2 7-3 7-2-7-3-7 3-6 3-7 2zM608 310l7-2-7-3-6 3zM753 261l7-3 6-4 7-3-7-2-6 4-7 3-6 4zM694 291l7-2 6-3 7-3-7-3-6 4-7 2-7 3zM766 260l7-4 7-4-7-1-7 3-6 4zM701 293l6-2 7-3 6-3-6-2-7 3-6 3-7 2zM780 257l6-3 7-4-7-1-6 3-7 4zM707 296l7-3 6-3 7-3-7-2-6 3-7 3-6 2zM793 255l6-4 7-3-7-1-6 3-7 4zM714 298l6-3 7-3 6-3-6-2-7 3-6 3-7 3zM806 253l7-4-7-1-7 3zM714 303l6-3 7-2 6-3 7-3-7-3-6 3-7 3-6 3-7 2zM813 255l6-4 7-3-7-2-6 3-7 4zM720 305l7-2 6-3 7-3-7-2-6 3-7 2-6 3zM826 253l6-4-6-1-7 3zM727 307l6-2 7-3 7-3-7-2-7 3-6 3-7 2zM832 255l7-4 6-3-6-2-7 3-6 4zM733 310l7-3 7-2-7-3-7 3-6 2zM845 253l7-3-7-2-6 3zM740 312l7-2 6-3-6-2-7 2-7 3zM852 256l7-3-7-3-7 3zM740 317l7-2 6-2 7-3-7-3-6 3-7 2-7 2zM747 320l6-2 7-3 6-3-6-2-7 3-6 2-7 2z"/><path class=f d="M582 258l7-2-7-2-7 2zM589 260l6-2-6-2-7 2zM595 262l7-2-7-2-6 2zM536 268l6-2-6-2-7 1zM602 265l6-2-6-3-7 2zM542 271l7-2-7-3-6 2zM608 267l7-2-7-2-6 2zM615 270l7-3-7-2-7 2zM562 276l7-1-7-4-6 1zM615 274l7-2-7-2-7 1zM569 279l6-1-6-3-7 1zM622 277l6-2-6-3-7 2zM582 282l7-1-7-4-7 1zM622 281l6-2 7-1-7-3-6 2-7 1zM589 285l6-1 7-1-7-3-6 1-7 1zM622 285l6-1 7-2 6-1-6-3-7 1-6 2-7 1zM602 288l6-1 7-1-7-3-6 0-7 1zM608 291l7-1 7-1 6-1 7-1 6-2 7-2-7-2-6 1-7 2-6 1-7 1-7 1-6 1zM608 296l7-2 7-1 6-1 7-1 6-2 7-1 6-2-6-3-7 2-6 2-7 1-6 1-7 1-7 1-6 2zM760 243l6-2 7-3 7-3-7-1-7 2-6 3-7 3zM648 292l6-1 7-2-7-3-6 2-7 1zM615 299l7-2 6-1-6-3-7 1-7 2zM760 248l6-3 7-3 7-3-7-1-7 3-6 2-7 3zM654 295l7-2 7-2 6-2-6-2-7 2-7 2-6 1zM615 303l7-1 6-2-6-3-7 2-7 2zM766 249l7-3 7-3-7-1-7 3-6 3zM668 295l6-2 7-2-7-2-6 2-7 2zM615 308l7-2 6-2-6-2-7 1-7 2zM773 251l7-3 6-4-6-1-7 3-7 3zM681 296l6-2 7-3-7-2-6 2-7 2zM615 312l7-2-7-2-7 2zM780 252l6-3 7-3-7-2-6 4-7 3zM687 298l7-2 7-3-7-2-7 3-6 2zM793 250l6-3 7-3-7-1-6 3-7 3zM694 300l7-2 6-2-6-3-7 3-7 2zM806 248l7-3-7-1-7 3zM701 302l6-2 7-2-7-2-6 2-7 2zM813 249l6-3 7-3-7-1-6 3-7 3zM707 305l7-2-7-3-6 2zM826 248l6-3-6-2-7 3zM714 307l6-2-6-2-7 2zM832 249l7-3-7-1-6 3zM714 311l6-2 7-2-7-2-6 2-7 2zM720 313l7-1 6-2-6-3-7 2-6 2zM727 316l6-2 7-2-7-2-6 2-7 1zM733 319l7-2-7-3-6 2zM740 321l7-1-7-3-7 2zM681 325l6-2-6-2-7 2z"/><path class=g d="M562 255l7-1-7-3-6 2zM510 257l6-1-6-2-7 1zM569 258l6-2-6-2-7 1zM516 260l7-1-7-3-6 1zM575 260l7-2-7-2-6 2zM523 262l6-1-6-2-7 1zM582 262l7-2-7-2-7 2zM529 265l7-1-7-3-6 1zM589 264l6-2-6-2-7 2zM595 266l7-1-7-3-6 2zM549 269l7-1-7-2-7 0zM602 269l6-2-6-2-7 1zM556 272l6-1-6-3-7 1zM608 271l7-1-7-3-6 2zM569 275l6-1-6-3-7 0zM608 275l7-1-7-3-6 1zM575 278l7-1 7 0-7-3-7 0-6 1zM589 281l6-1 7-1 6 0 7-1 7-1-7-3-7 1-6 1-7 0-6 1-7 0zM602 283l6 0 7-1 7-1-7-3-7 1-6 0-7 1zM615 286l7-1-7-3-7 1zM628 296l7-1 6-1 7-2-7-3-6 2-7 1-6 1zM780 239l6-2-6-2-7 3zM628 300l7-1 6-2 7-1 6-1-6-3-7 2-6 1-7 1-6 1zM780 243l6-3 7-2-7-1-6 2-7 3zM628 304l7-2 6-1 7-1 6-2 7-1 7-2-7-2-7 2-6 1-7 1-6 2-7 1-6 2zM786 244l7-2 6-3-6-1-7 2-6 3zM661 301l7-2 6-1 7-2-7-3-6 2-7 2-7 1zM622 310l6-2 7-2-7-2-6 2-7 2zM793 246l6-3 7-3-7-1-6 3-7 2zM674 301l7-1 6-2-6-2-7 2-6 1zM622 314l6-3 7-2-7-1-6 2-7 2zM806 244l7-3-7-1-7 3zM681 303l6-1 7-2-7-2-6 2-7 1zM813 245l6-3-6-1-7 3zM687 305l7-1 7-2-7-2-7 2-6 1zM701 306l6-1-6-3-7 2zM707 309l7-2-7-2-6 1zM668 321l6-2-6-1-7 2zM674 323l7-2-7-2-6 2z"/><path class=h d="M556 256l6-1-6-2-7 1zM536 264l6-1-6-3-7 1zM542 266l7 0-7-3-6 1zM595 270l7-1-7-3-6 1zM562 271l7 0-7-3-6 0zM595 273l7-1 6-1-6-2-7 1-6 0zM575 274l7 0-7-3-6 0zM589 277l6-1 7 0 6-1-6-3-7 1-6 0-7 1zM635 306l6-2 7-1 6-1 7-1-7-3-6 2-7 1-6 1-7 2zM661 304l7-1 6-2-6-2-7 2-7 1zM635 309l6-1-6-2-7 2zM674 305l7-2-7-2-6 2zM628 315l7-3 6-1-6-2-7 2-6 3zM681 307l6-2-6-2-7 2zM635 316l6-3-6-1-7 3zM694 308l7-2-7-2-7 1zM701 310l6-1-6-3-7 2zM707 312l7-1-7-2-6 1zM654 318l7-2-7-1-6 2zM714 315l6-2-6-2-7 1zM661 320l7-2-7-2-7 2zM720 317l7-1-7-3-6 2zM727 320l6-1-6-3-7 1zM733 322l7-1-7-2-6 1zM687 323l7-1-7-2-6 1z"/><path class=i d="M516 256l7 0-7-3-6 1zM562 258l7 0-7-3-6 1zM523 259l6-1-6-2-7 0zM569 261l6-1-6-2-7 0zM529 261l7-1-7-2-6 1zM575 263l7-1-7-2-6 1zM582 265l7-1-7-2-7 1zM589 267l6-1-6-2-7 1zM556 268l6 0-6-3-7 1zM589 270l6 0-6-3-7 1zM569 271l6 0-6-3-7 0zM582 274l7-1 6 0-6-3-7 0-7 1zM641 308l7-2 6-1 7-1-7-2-6 1-7 1-6 2zM661 307l7-1 6-1-6-2-7 1-7 1zM641 311l7-2 6-1-6-2-7 2-6 1zM674 307l7 0-7-2-6 1zM641 313l7-1-7-1-6 1zM687 309l7-1-7-3-6 2zM641 317l7-3-7-1-6 3zM694 311l7-1-7-2-7 1zM648 317l6-2-6-1-7 3zM701 313l6-1-6-2-7 1zM707 315l7 0-7-3-6 1zM714 318l6-1-6-2-7 0zM674 319l7-1-7-2-6 2zM720 320l7 0-7-3-6 1zM681 321l6-1-6-2-7 1zM727 323l6-1-6-2-7 0z"/><path class=j d="M549 256l7 0-7-2-7 0zM523 256l6-1-6-2-7 0zM556 259l6-1-6-2-7 0zM536 260l6 0-6-2-7 0zM542 263l7 0-7-3-6 0zM575 265l7 0-7-2-6 0zM549 266l7-1-7-2-7 0zM575 268l7 0 7-1-7-2-7 0-6 0zM562 268l7 0-7-3-6 0zM575 271l7-1 7 0-7-2-7 0-6 0zM654 308l7-1-7-2-6 1zM648 312l6-2 7-1 7-1 6-1-6-1-7 1-7 1-6 1-7 2zM681 309l6 0-6-2-7 0zM648 314l6-1-6-1-7 1zM687 311l7 0-7-2-6 0zM654 315l7-1-7-1-6 1zM694 313l7 0-7-2-7 0zM661 316l7-1-7-1-7 1zM668 318l6-2-6-1-7 1zM694 322l7 0-7-3-7 1z"/><path class=k d="M542 256l7 0-7-2-6 0zM529 258l7 0-7-3-6 1zM562 261l7 0-7-3-6 1zM569 263l6 0-6-2-7 0zM549 263l7 0-7-2-7-1zM556 265l6 0 7 0 6 0-6-2-7 0-6 0-7 0zM569 268l6 0-6-3-7 0zM654 313l7-2 7 0 6-1 7-1-7-2-6 1-7 1-7 1-6 2zM681 312l6-1-6-2-7 1zM661 314l7-1-7-2-7 2zM701 315l6 0-6-2-7 0zM707 318l7 0-7-3-6 0zM681 318l6-1-6-1-7 0zM714 320l6 0-6-2-7 0zM687 320l7-1-7-2-6 1zM720 323l7 0-7-3-6 0zM701 322l6 0-6-3-7 0z"/><path class=l d="M529 255l7 1 6 0-6-2-7-1-6 0zM536 258l6 0 7 0 7 1-7-3-7 0-6 0-7-1zM542 260l7 1 7 0 6 0-6-2-7-1-7 0-6 0zM556 263l6 0 7 0-7-2-6 0-7 0zM668 313l6-1 7 0-7-2-6 1-7 0zM681 314l6-1 7 0-7-2-6 1-7 0zM668 315l6-1-6-1-7 1zM694 315l7 0-7-2-7 0zM674 316l7 0-7-2-6 1zM701 317l6 1-6-3-7 0zM707 320l7 0-7-2-6-1zM694 319l7 0-7-2-7 0zM707 322l7 0 6 1-6-3-7 0-6-1z"/><path class=m d="M674 314l7 0-7-2-6 1zM681 316l6-1 7 0-7-2-6 1-7 0zM687 317l7 0 7 0-7-2-7 0-6 1zM701 319l6 1-6-3-7 0z"/><path d="M496 257l7 3 7 2 6 3 7 2 6 3 7 3 6 3 7 4 7 3 6 4 7 4 6 4 7 3 7 4 6 3 7 3 6 2 7 2 7 2 6 1 7 1 6 1 7 0 6 1 7 2 7 1 6 2 7 2 6-2 7-1 7 0 6 0 7 0 6 1 7 0 6-1 7-1 7-1 6-2 7-3 6-3 7-3 7-3 6-3 7-3 6-4 7-4 7-4 6-4 7-4 6-5 7-5 6-4 7-4 7-4 6-3" fill="none" stroke="#a040e0" stroke-width="2.2"/>
<g fill="none" stroke-width="1.8"><path d="M918 348l184 72 185-72-185-71z" stroke="#c4c4c4" stroke-width="2"/><path d="M1102 420V209" stroke="#c4c4c4" stroke-width="2"/><path d="M1254 361l-5-2-5-1-5-2-4-2-5-1-4-2-4-2-3-3-2-3 0-4 2-3 3-2 3-2 4-2 4-2M1074 288l3 2 1 4-2 4-2 4-2 3-2 2-3 3-4 2-4 2-5 1-7 1-8 0-9 0-3-1-4 0-6-2-5-1" stroke="#a8a8a8"/><path d="M1205 380l-4-2-3-2-4-2-2-3-2-3-2-3-1-3-1-3-1-3 0-4 0-4 1-3 2-3 2-3 3-2 3-2 4-3 3-2 4-2 5-2 4-2 4-1M1115 282l-4 2-4 2-4 2-3 2-2 3-3 2-2 3-2 3-2 2-2 4-2 2-2 3-2 2-4 3-4 2-5 2-5 1-6 1-8 1-4 0-5 0-4 0-7-1-7-1-6-1-6-1-5-2-5-2" stroke="#d08be8"/><path d="M1177 391l-4-2-4-2-4-2-3-2-3-3-2-2-2-2-2-4-2-3-1-3-1-3 0-4 0-4 1-4 3-4 3-3 3-2 4-2 4-2 4-2 4-2 4-2 5-2 4-2 5-2 4-2 5-1 4-2 5-2M1088 414l5-1 6-1 7-1 10 0 5 2M1126 286l-5 2-4 2-3 2-3 2-2 2-4 3-2 3-2 3-1 3-2 3-1 3-2 3-1 3-3 3-3 2-4 2-5 2-6 1-6 1-4 0-4 1-7 0-9 0-8 0-4-1-4 0-7-1-4-1-8-1-5-2-5-1-5-2-5-2M941 340l5 1 5 2 5 1 6 2 6 1 5 1 6 2 4 2 4 2 3 2 2 3 0 4-2 3-3 2-4 2-4 2" stroke="#6fcfb0"/><path d="M1070 407l5-1 5-2 5-2 5-1 6-1 5-2 6-1 5-2 5-1 4-2 3-3 1-3 0-4-1-3-1-3-1-3-2-3-1-3-2-3-2-3-1-3-2-2-2-3-3-3-3-2-4-2-6-2-6-1-8 0-9 0-10 0-9 0-8 1-5 0-8 2-5 2-2 2-2 3-1 3-1 3-2 3-2 2-4 3-3 2-3 3-4 2-4 2-5 2M1134 289l-4 2-4 2-3 2-3 3-3 2-2 3-2 3-1 3 0 4 1 6 1 3 1 3 3 3 4 2 6 1 5 1 9-1 6 0 7-1 6-2 5-1 7-1 5-2 5-2 5-1 5-2 5-2 4-1" stroke="#72b8ec"/><path d="M1055 402l5-2 4-2 5-2 4-2 5-2 4-2 3-2 3-2 2-3 1-3-1-4-2-4-3-3-3-2-4-2-5-1-7-1-9 0-6 1-5 2-5 2-4 1-4 2-5 2-3 2-5 2-4 2-5 2-4 2M1143 293l-4 1-3 2-4 3-3 3-2 2 0 4 1 5 3 3 3 2 5 2 6 1 7 0 8 0 7-1 6-2 5-1 6-1 5-2 4-2" stroke="#f0ac62"/><path d="M1154 297l-5 2-3 2-2 3 1 4 2 2 4 1 6 1 8 0 5-1 8-1 5-2" stroke="#eedc5a"/></g>
<path d="M918 209V348" stroke="#c8c8c8" stroke-width="1.2"/>
<path d="M918 262l7-2 6-4 7-3 6-4 7-4 7-3 6-3 7-3 6-2 7-1 6-1 7 0 7-1 6 0 7-1 6-1 7-2 7-2 6-3 7-3 6-3 7-4 6-3 7-3 7-4 6-3 7-3 6-2 7 2 7 1 6 0 7 0 6 0 7 0 6 0 7 0 7 2 6 2 7 3 6 4 7 4 7 5 6 5 7 6 6 5 7 5 7 5 6 4 7 4 6 3 7 3 6 3 7 2 7 2 6 3 7 2" fill="none" stroke="#a040e0" stroke-width="2.6"/><path class=c d="M944 255l7-3-7-3-6 4zM944 262l7-4 7-4 6-3-6-3-7 4-7 3-6 4zM951 265l7-4 6-4 7-4-7-2-6 3-7 4-7 4zM964 264l7-4 6-4 7-3-7-3-6 3-7 4-6 4zM971 266l6-3 7-4-7-3-6 4-7 4zM1135 225l7-4 6-4 7-4 7-3-7-3-7 3-6 4-7 4-6 4zM1135 231l7-3 6-4 7-4 7-3 6-4 7-3 6-2-6-4-7 3-6 3-7 3-7 4-6 4-7 4-6 4zM1135 238l7-3 6-4 7-3 7-4 6-3 7-3 6-3 7-3-7-4-6 2-7 3-6 4-7 3-7 4-6 4-7 3-6 4zM1142 241l6-3 7-3 7-3 6-3 7-3 6-3 7-3 7-3-7-5-7 3-6 3-7 3-6 3-7 4-7 3-6 4-7 3zM1148 245l7-3 7-3 6-3 7-3 6-2 7-3 7-3 6-3-6-5-7 3-7 3-6 3-7 3-6 3-7 3-7 3-6 3zM1155 249l7-3 6-3 7-2 6-3 7-2 7-3 6-3 7-2-7-6-6 3-7 3-7 3-6 2-7 3-6 3-7 3-7 3zM1168 250l7-2 6-3 7-2 7-2 6-3 7-2 6-3-6-5-7 2-6 3-7 3-7 2-6 3-7 2-6 3zM1181 252l7-2 7-2 6-3 7-2 6-2 7-3-7-5-6 3-7 2-6 3-7 2-7 2-6 3zM1201 252l7-2 6-2 7-3 7-2-7-5-7 3-6 2-7 2-6 3zM1228 249l6-2-6-4-7 2zM1056 306l7-2 6-3-6-4-7 3-6 2zM1063 311l6-3 7-3 7-2 6-3-6-4-7 3-7 2-6 3-7 2zM1069 315l7-3 7-2 6-3 7-3-7-4-6 3-7 2-7 3-6 3zM1076 319l7-3 6-2 7-3 6-3 7-3-7-4-6 3-7 3-6 3-7 2-7 3zM1083 323l6-3 7-3 6-3 7-3 7-3-7-3-7 3-6 3-7 3-6 2-7 3zM1096 324l6-3 7-3 7-3-7-4-7 3-6 3-7 3z"/><path class=d d="M1056 221l7-3 6-3 7-4 7-3 6-4-6-2-7 4-7 3-6 3-7 4-6 3zM951 252l7-4 6-4 7-3-7-2-6 3-7 3-7 4zM925 265l6-3 7-3 6-4-6-2-7 3-6 4-7 2zM964 251l7-4 6-3-6-3-7 3-6 4zM931 268l7-3 6-3-6-3-7 3-6 3zM971 253l6-3 7-3-7-3-6 3-7 4zM938 271l6-3 7-3-7-3-6 3-7 3zM984 253l6-3 7-3-7-3-6 3-7 3zM944 273l7-2 7-4 6-3-6-3-7 4-7 3-6 3zM984 259l6-3 7-4 7-3-7-2-7 3-6 3-7 3zM951 276l7-3 6-3 7-4-7-2-6 3-7 4-7 2zM964 276l7-4 6-3 7-4 6-3 7-4 7-3 6-3-6-3-7 3-7 4-6 3-7 4-6 3-7 4-6 3zM977 274l7-3 6-3 7-4 7-4 6-3-6-2-7 3-7 4-6 3-7 4-6 3zM997 269l7-3 6-3 7-4-7-2-6 3-7 4-7 4zM1116 230l6-3 7-5 6-4 7-4 6-4 7-3 7-3-7-3-7 4-6 3-7 4-6 4-7 5-6 4-7 4zM1162 210l6-3 7-3-7-3-6 3-7 3zM1116 236l6-4 7-3 6-4-6-3-7 5-6 3-7 4zM1116 241l6-3 7-3 6-4-6-2-7 3-6 4-7 3zM1122 244l7-3 6-3-6-3-7 3-6 3zM1122 250l7-3 6-3 7-3-7-3-6 3-7 3-6 3zM1129 252l6-2 7-2 6-3-6-4-7 3-6 3-7 3zM1135 256l7-3 6-2 7-2-7-4-6 3-7 2-6 2zM1142 259l6-2 7-2 7-3 6-2-6-4-7 3-7 2-6 2-7 3zM1148 262l7-2 7-2 6-2 7-2 6-2-6-4-7 2-6 2-7 3-7 2-6 2zM1162 264l6-2 7-2 6-2 7-2 7-2 6-2-6-4-7 2-7 2-6 2-7 2-6 2-7 2zM1043 299l7-3 6-2 7-3 6-2-6-3-7 2-6 3-7 2-6 3zM1181 263l7-2 7-2 6-1 7-2 6-2 7-2 7-3-7-4-7 3-6 2-7 2-6 2-7 2-7 2-6 2zM1050 302l6-2 7-3 6-2 7-2 7-3 6-2-6-3-7 2-7 2-6 2-7 3-6 2-7 3zM1214 259l7-2 7-2 6-2 7-2-7-4-6 2-7 3-7 2-6 2zM1069 301l7-2 7-3 6-2 7-2 6-2-6-4-7 2-6 2-7 3-7 2-6 2zM1234 259l7-3 6-2-6-3-7 2-6 2zM1089 300l7-2 6-3 7-2-7-3-6 2-7 2-6 2zM1247 259l7-2-7-3-6 2zM1096 304l6-3 7-2 7-3 6-2-6-3-7 2-7 2-6 3-7 2zM1109 305l7-3 6-2 7-3-7-3-6 2-7 3-7 2zM1116 308l6-2 7-3 6-2-6-4-7 3-6 2-7 3zM1116 315l6-3 7-3 6-3 7-3-7-2-6 2-7 3-6 2-7 3zM1089 327l7-3-7-4-6 3zM1096 330l6-3 7-3 7-3 6-3 7-3 6-3 7-3-7-3-6 3-7 3-6 3-7 3-7 3-6 3-7 3zM1102 333l7-3 7-3 6-3 7-4 6-3 7-3 6-3-6-2-7 3-6 3-7 3-6 3-7 3-7 3-6 3z"/><path class=e d="M1089 204l7-3 6-3 7-2-7-2-6 2-7 3-6 3zM1043 227l7-3 6-3-6-2-7 3-6 3zM971 241l6-2-6-3-7 3zM1056 226l7-3 6-3 7-4 7-3 6-4 7-3-7-2-6 4-7 3-7 4-6 3-7 3-6 3zM977 244l7-2-7-3-6 2zM984 247l6-3 7-2-7-2-6 2-7 2zM997 247l7-2-7-3-7 2zM1004 249l6-2-6-2-7 2zM1010 252l7-3-7-2-6 2zM958 278l6-2-6-3-7 3zM1010 257l7-3 6-2-6-3-7 3-6 3zM964 280l7-2 6-4-6-2-7 4-6 2zM1109 224l7-5 6-4 7-4-7-1-6 5-7 4-7 4zM1017 259l6-3 7-2-7-2-6 2-7 3zM977 279l7-3 6-3 7-4-7-1-6 3-7 3-6 4zM1102 232l7-3 7-4 6-4 7-5 6-4 7-4 6-3-6-2-7 4-6 4-7 4-6 4-7 5-7 4-6 3zM990 278l7-4 7-3 6-3 7-4 6-3 7-3 7-2-7-2-7 2-6 3-7 4-6 3-7 3-7 4-6 3zM1162 204l6-3-6-2-7 2zM1102 237l7-3 7-4-7-1-7 3-6 4zM1010 272l7-3 6-3 7-3 7-3-7-2-7 3-6 3-7 4-6 3zM1102 242l7-3 7-3-7-2-7 3-6 3zM1102 247l7-3 7-3-7-2-7 3-6 3zM1102 251l7-2 7-2 6-3-6-3-7 3-7 3-6 2zM1102 256l7-2 7-2 6-2-6-3-7 2-7 2-6 2zM1102 261l7-2 7-2 6-2 7-3-7-2-6 2-7 2-7 2-6 2zM1102 265l7-1 7-2 6-2 7-2 6-2-6-4-7 3-6 2-7 2-7 2-6 2zM1102 270l7-2 7-1 6-2 7-2 6-2 7-2-7-3-6 2-7 2-6 2-7 2-7 1-6 2zM1030 293l7-3 6-2 7-3 6-2 7-2 6-2-6-3-7 3-6 2-7 2-6 3-7 2-7 3zM1037 296l6-3 7-2 6-3 7-2 6-2 7-2 7-2 6-2 7-2 6-1 7-2 7-2 6-1 7-2 6-2 7-2 6-2-6-3-7 2-6 2-7 2-6 2-7 1-7 2-6 2-7 1-6 2-7 2-7 2-6 2-7 2-6 2-7 3-6 2-7 3zM1069 289l7-2 7-2 6-2 7-2 6-2 7-1 7-2 6-1 7-2 6-2 7-2 6-2 7-1 7-2-7-4-7 2-6 2-7 2-6 2-7 2-6 1-7 2-7 2-6 1-7 2-6 2-7 2-7 2-6 2zM1089 288l7-2 6-2 7-1 7-2 6-2 7-1 6-2 7-2 6-1 7-2 7-2 6-2 7-2 6-2-6-3-7 2-6 2-7 2-7 1-6 2-7 2-6 2-7 2-6 1-7 2-7 1-6 2-7 2-6 2zM1102 290l7-2 7-2 6-2 7-1 6-2 7-2 6-1 7-2 7-2 6-2 7-2 6-2 7-2 7-1 6-2 7-2 6-2-6-3-7 2-6 1-7 2-7 2-6 2-7 2-6 2-7 2-7 2-6 1-7 2-6 2-7 1-6 2-7 2-7 1-6 2zM1109 293l7-2 6-2 7-2 6-1 7-2 6-2 7-1 7-2 6-2 7-2 6-2 7-2 7-1 6-2 7-2 6-2 7-2 7-1 6-2-6-4-7 2-7 2-6 2-7 2-6 2-7 1-7 2-6 2-7 2-6 2-7 2-7 2-6 1-7 2-6 2-7 1-6 2-7 2-7 2zM1122 294l7-2 6-1 7-2 6-2 7-1 7-2 6-2 7-2 6-2 7-2 7-2 6-1 7-2 6-2 7-2 7-2 6-1 7-2 6-3-6-3-7 3-6 2-7 1-7 2-6 2-7 2-6 2-7 1-7 2-6 2-7 2-6 2-7 2-7 1-6 2-7 2-6 1-7 2-6 2zM1241 266l6-2 7-2 6-2-6-3-7 2-6 3-7 2zM1129 297l6-2 7-1 6-2 7-2 7-1 6-2 7-2 6-2 7-2 7-2 6-2 7-2 6-1-6-3-7 2-6 1-7 2-7 2-6 2-7 2-6 2-7 2-7 1-6 2-7 2-6 1-7 2zM1254 267l6-3 7-2-7-2-6 2-7 2zM1175 290l6-2 7-2 7-2 6-2 7-2 6-2 7-2-7-2-6 1-7 2-6 2-7 2-7 2-6 2-7 2zM1135 301l7-3 6-1 7-2-7-3-6 2-7 1-6 2zM1260 269l7-2 7-3-7-2-7 2-6 3zM1188 291l7-2 6-2 7-2 6-2 7-2-7-3-6 2-7 2-6 2-7 2-7 2zM1142 303l6-2 7-2-7-2-6 1-7 3zM1267 272l7-3 6-2-6-3-7 3-7 2zM1195 294l6-2 7-2 6-2 7-2 7-3 6-2-6-2-7 2-7 2-6 2-7 2-6 2-7 2zM1142 309l6-3 7-2 7-2-7-3-7 2-6 2-7 3zM1274 274l6-2 7-3-7-2-6 2-7 3zM1208 294l6-2 7-2 7-2 6-2 7-2-7-3-6 2-7 3-7 2-6 2-7 2zM1148 311l7-2 7-2-7-3-7 2-6 3z"/><path class=f d="M1030 231l7-2 6-2-6-2-7 2-7 2zM977 239l7-2-7-3-6 2zM1096 206l6-3 7-3-7-2-6 3-7 3zM1043 231l7-2 6-3-6-2-7 3-6 2zM984 242l6-2-6-3-7 2zM1056 230l7-3 6-3 7-3 7-4 6-4 7-3-7-1-6 4-7 3-7 4-6 3-7 3-6 3zM1076 225l7-4 6-3 7-4-7-1-6 4-7 4-7 3zM1004 245l6-2-6-2-7 1zM1089 222l7-4-7 0-6 3zM1010 247l7-2-7-2-6 2zM1089 226l7-4 6-4 7-4-7 0-6 4-7 4-6 4zM1017 249l6-2-6-2-7 2zM1089 230l7-3 6-4 7-4 7-4 6-5-6 0-7 4-7 4-6 4-7 4-6 4zM1023 252l7-3-7-2-6 2zM1129 211l6-4 7-4-7 0-6 3-7 4zM1089 235l7-4 6-3 7-4-7-1-6 4-7 3-6 4zM1030 254l7-3-7-2-7 3zM971 282l6-3-6-1-7 2zM1148 205l7-4 7-2-7-2-7 3-6 3zM1089 239l7-3 6-4-6-1-7 4-6 2zM1037 256l6-3-6-2-7 3zM984 281l6-3-6-2-7 3zM1089 243l7-3 6-3-6-1-7 3-6 2zM1037 260l6-2 7-3 6-2-6-2-7 2-6 3-7 2zM997 279l7-3 6-4-6-1-7 3-7 4zM1089 247l7-2 6-3-6-2-7 3-6 2zM1010 277l7-3 6-3 7-3 7-3 6-3 7-3 6-2 7-2-7-2-6 2-7 3-6 2-7 3-7 3-6 3-7 3-6 4zM1023 275l7-3 7-3 6-3 7-2 6-3 7-2 6-2 7-2 7-2 6-2 7-2 6-2-6-2-7 2-6 2-7 2-7 2-6 2-7 2-6 2-7 3-6 3-7 3-7 3-6 3zM1037 273l6-3 7-2 6-2 7-3 6-2 7-2 7-2 6-2 7-2 6-2-6-2-7 2-6 2-7 2-7 2-6 2-7 2-6 3-7 2-6 3-7 3zM1043 275l7-3 6-2 7-2 6-2 7-2 7-2 6-2 7-2 6-2-6-3-7 2-6 2-7 2-7 2-6 2-7 3-6 2-7 2-6 3zM1037 281l6-2 7-3 6-2 7-2 6-2 7-2 7-2 6-2 7-1 6-2-6-3-7 2-6 2-7 2-7 2-6 2-7 2-6 2-7 3-6 2-7 3zM1023 291l7-3 7-2 6-3 7-2 6-2 7-3 6-2 7-2 7-1 6-2 7-2 6-2-6-2-7 1-6 2-7 2-7 2-6 2-7 2-6 2-7 3-6 2-7 3-7 2-6 3zM1069 279l7-2 7-2 6-2 7-1 6-2-6-3-7 2-6 2-7 1-7 2-6 2zM1214 274l7-2 7-2 6-2 7-2-7-2-6 1-7 2-7 2-6 2zM1221 276l7-2 6-2 7-1 6-2 7-2-7-3-6 2-7 2-6 2-7 2-7 2zM1155 295l7-2 6-1 7-2-7-3-6 2-7 1-7 2zM1221 281l7-2 6-2 7-2 6-2 7-2 6-2-6-2-7 2-6 2-7 1-6 2-7 2-7 2zM1155 299l7-1 6-2 7-2 6-1 7-2-7-3-6 2-7 2-6 1-7 2-7 2zM1234 281l7-2 6-2 7-1 6-2 7-2-7-3-6 2-7 2-6 2-7 2-6 2zM1162 302l6-2 7-1 6-2 7-1 7-2-7-3-7 2-6 1-7 2-6 2-7 1zM1241 284l6-2 7-2 6-2 7-2 7-2-7-2-7 2-6 2-7 1-6 2-7 2zM1162 307l6-2 7-2 6-2 7-1 7-2 6-2 7-2-7-2-6 2-7 2-7 1-6 2-7 1-6 2-7 2z"/><path class=g d="M1023 232l7-1-7-2-6 1zM984 237l6-1-6-3-7 1zM1109 200l7-3-7-1-7 2zM1037 233l6-2-6-2-7 2zM990 240l7-2-7-2-6 1zM1096 210l6-4 7-3-7 0-6 3-7 3zM1050 233l6-3-6-1-7 2zM997 242l7-1-7-3-7 2zM1096 214l6-4 7-3-7-1-6 4-7 3zM1063 231l6-3 7-3-7-1-6 3-7 3zM1096 218l6-4 7-4-7 0-6 4-7 4zM1069 232l7-3 7-3 6-4-6-1-7 4-7 3-6 3zM1109 214l7-4 6-4-6 0-7 4-7 4zM1076 233l7-3 6-4-6 0-7 3-7 3zM1023 247l7-1-7-2-6 1zM1122 210l7-4 6-3-6 0-7 3-6 4zM1083 234l6-4-6 0-7 3zM1030 249l7-2-7-1-7 1zM1142 203l6-3-6 0-7 3zM1083 237l6-2-6-1-7 2zM1037 251l6-2-6-2-7 2zM1083 241l6-2-6-2-7 3zM1043 253l7-2 6-2-6-2-7 2-6 2zM977 283l7-2-7-2-6 3zM1056 253l7-2 6-2 7-2 7-2 6-2-6-2-7 2-7 2-6 2-7 2-6 2zM984 284l6-2 7-3-7-1-6 3-7 2zM1063 255l6-2 7-2 7-2 6-2-6-2-7 2-7 2-6 2-7 2zM997 282l7-2 6-3-6-1-7 3-7 3zM1010 280l7-2 6-3-6-1-7 3-6 3zM1017 281l6-2 7-3 7-3-7-1-7 3-6 3-7 2zM1017 285l6-3 7-2 7-3 6-2-6-2-7 3-7 3-6 2-7 3zM1017 289l6-3 7-2 7-3-7-1-7 2-6 3-7 2z"/><path class=h d="M1017 233l6-1-6-2-7 1zM990 236l7-1-7-3-6 1zM1030 234l7-1-7-2-7 1zM997 238l7-1-7-2-7 1zM1109 203l7-3-7 0-7 3zM1043 235l7-2-7-2-6 2zM1004 241l6-2-6-2-7 1zM1109 207l7-4-7 0-7 3zM1056 234l7-3-7-1-6 3zM1010 243l7-1-7-3-6 2zM1109 210l7-4-7 1-7 3zM1063 235l6-3-6-1-7 3zM1017 245l6-1-6-2-7 1zM1122 206l7-3-7 0-6 3zM1069 236l7-3-7-1-6 3zM1030 246l7-2-7-2-7 2zM1135 203l7-3-7-1-6 4zM1069 239l7-3 7-2-7-1-7 3-6 2zM1037 247l6-1-6-2-7 2zM1148 200l7-3-7 0-6 3zM1069 242l7-2 7-3-7-1-7 3-6 2zM1043 249l7-2 6-1-6-2-7 2-6 1zM1056 249l7-2 6-2 7-2 7-2-7-1-7 2-6 2-7 2-6 1zM990 285l7-3-7 0-6 2zM997 286l7-3 6-3-6 0-7 2-7 3zM1004 287l6-3 7-3-7-1-6 3-7 3zM1010 287l7-2-7-1-6 3z"/><path class=i d="M997 235l7-1 6 0 7-1-7-2-6 0-7 1-7 0zM1023 235l7-1-7-2-6 1zM1004 237l6 0-6-3-7 1zM1116 200l6-3-6 0-7 3zM1037 236l6-1-6-2-7 1zM1010 239l7 0-7-2-6 0zM1116 203l6-3-6 0-7 3zM1043 237l7-1 6-2-6-1-7 2-6 1zM1017 242l6-1-6-2-7 0zM1116 206l6-3-6 0-7 4zM1056 237l7-2-7-1-6 2zM1023 244l7-2-7-1-6 1zM1129 203l6-4-6 1-7 3zM1056 240l7-2 6-2-6-1-7 2-6 2zM1037 244l6-1-6-2-7 1zM1043 246l7-2 6-1 7-2 6-2-6-1-7 2-6 1-7 2-6 1zM1056 246l7-2 6-2-6-1-7 2-6 1z"/><path class=j d="M1010 237l7-1 6-1-6-2-7 1-6 0zM1017 239l6-1 7-1 7-1-7-2-7 1-6 1-7 1zM1122 200l7-3-7 0-6 3zM1023 241l7-1 7-1 6-2-6-1-7 1-7 1-6 1zM1122 203l7-3-7 0-6 3zM1030 242l7-1 6-1 7-1 6-2-6-1-7 1-6 2-7 1-7 1zM1043 243l7-2 6-1-6-1-7 1-6 1zM1142 200l6-3-6 0-7 2z"/><path class=k d="M1129 200l6-3-6 0-7 3zM1135 199l7-2-7 0-6 3z"/><path d="M918 262l7 3 6 3 7 3 6 2 7 3 7 2 6 2 7 2 6 1 7 1 6 1 7 1 7 1 6 0 7 2 6 2 7 2 7 3 6 3 7 3 6 4 7 5 6 4 7 4 7 4 6 4 7 3 6 3 7-3 7-3 6-3 7-4 6-3 7-3 6-3 7-2 7-2 6-2 7-2 6-2 7-1 7-2 6-2 7-2 6-2 7-2 7-2 6-2 7-2 6-2 7-2 6-2 7-2 7-2 6-2 7-3" fill="none" stroke="#a040e0" stroke-width="2.2"/>
<g fill="none" stroke-width="1.8"><path d="M1341 348l185 72 184-72-184-71z" stroke="#c4c4c4" stroke-width="2"/><path d="M1526 420V209" stroke="#c4c4c4" stroke-width="2"/><path d="M1673 334l-6 1-7 1-4-3 6-3" stroke="#f08576"/><path d="M1696 343l-4 2-6 1-5 2-7 1-7 1-8 0-8 0-8-1-6-1-5-2-3-2-3-2-1-4 3-4 2-2 4-2 4-3 4-1 4-2M1489 291l3 1 3 4-1 4-2 3-2 2-4 3-5 2-5 1-3 1-4 0-7 0-7 0-6-2-6-1" stroke="#a8a8a8"/><path d="M1656 369l-4-2-6-1-5-2-5-1-5-2-5-1-5-2-5-2-4-2-3-2-3-3-2-2-1-4 1-3 3-3 2-3 3-1 5-3 4-2 4-2 4-2 5-2 4-1M1509 283l3 3 1 3 0 4-1 3-2 3-1 3-2 3-2 3-3 3-3 2-4 2-4 2-6 1-4 1-9 1-4 0-5 1-4-1-7 0-7-1-6-1-5-2-5-2" stroke="#d08be8"/><path d="M1626 381l-4-2-5-2-4-2-4-2-5-1-4-2-4-3-3-2-4-2-3-2-3-3-2-2-2-3-2-3 0-4 2-4 4-4 4-2 4-2 4-2 4-2 5-1 4-2 5-2 4-2 5-2 5-1 4-2M1541 283l-5 2-3 2-3 2-2 3-2 3-2 3-2 3-2 3-2 5-3 3-2 3-2 3-3 2-3 2-5 2-5 2-6 1-7 1-7 1-9 0-9 0-9-1-7 0-6-2-6-1-6-1-5-2-5-2M1373 336l5 2 5 2 3 1 6 2 5 2 4 1 5 2 4 2 3 3 3 2 2 2 2 4 0 4-2 2-2 3-4 2-5 2" stroke="#6fcfb0"/><path d="M1598 392l-5-2-4-2-4-2-5-2-4-2-4-2-3-2-4-2-3-2-3-2-4-3-2-2-3-3-2-3-3-2-2-3-2-3-2-3-2-3-1-3-2-2-2-2-5-3-10 0-9 1-8 1-5 0-10 1-8 0-6 1-7 2-5 1-4 2-2 3-1 3 0 4-1 3-1 3-2 3-2 3-3 2-3 2-4 3-4 2-4 2-4 1M1504 412l5-2 5-2 5-1 6-2 4-1 8-1 6-1 10 0 8 1 5 1M1551 287l-4 2-4 2-3 2-3 3-2 2-2 3-1 3-2 3-1 4-1 4 0 4 1 6 1 4 1 3 2 3 4 0 4 0 4 0 8-1 6-1 7-1 4-1 8-2 6-1 6-1 5-2 5-1 6-2 5-1 4-2 5-2 5-2" stroke="#72b8ec"/><path d="M1491 407l5-2 4-2 5-2 4-2 5-2 4-2 4-2 3-2 2-3 1-3-1-4-3-3-3-3-3-2-4-2-4-2-5-2-6-1-9 0-7 2-5 1-5 2-4 2-5 2-4 2-4 1-5 2-4 2-5 2-4 2M1560 290l-5 2-3 2-3 2-3 3-2 3-1 3-1 3 1 4 2 4 2 2 4 3 5 1 5 1 10 0 8 0 6-1 7-1 6-2 5-1 6-2 5-1 4-2" stroke="#f0ac62"/><path d="M1473 400l5-2 3-2 3-3-6-5-5 1-7 1-5 1-5 2M1569 294l-5 1-3 3-3 2-2 3 0 5 2 3 3 2 4 2 7 1 8 0 8 0 6-1 7-2 5-1 5-2" stroke="#eedc5a"/><path d="M1581 298l-3 2-3 3 2 4 6 1 5 0 7-1 5-1" stroke="#6c9fe0"/></g>
<path d="M1341 209V348" stroke="#c8c8c8" stroke-width="1.2"/>
<path d="M1341 263l7-3 6-3 7-3 7-4 6-3 7-3 6-4 7-2 6-3 7-2 7-1 6-1 7-1 6-1 7-1 7-1 6-1 7-2 6-3 7-3 7-3 6-3 7-4 6-4 7-4 6-3 7-4 7-2 6 2 7 1 6 0 7 1 7-1 6 0 7 0 6 1 7 1 6 2 7 3 7 5 6 5 7 5 6 7 7 6 7 6 6 6 7 5 6 4 7 3 6 3 7 2 7 1 6 2 7 1 6 2 7 2" fill="none" stroke="#a040e0" stroke-width="2.6"/><path class=b d="M1578 227l7-4 6-3 7-4 7-3-7-5-7 4-6 3-7 4-6 4zM1585 232l6-4 7-3 7-3 6-3 7-3-7-5-6 2-7 3-7 4-6 3-7 4zM1591 237l7-3 7-3 6-3 7-3 6-2-6-7-7 3-6 3-7 3-7 3-6 4zM1605 239l6-2 7-3 6-2 7-3-7-6-6 2-7 3-6 3-7 3zM1624 240l7-2 7-3-7-6-7 3-6 2z"/><path class=c d="M1552 228l7-4 6-5 7-4 6-4 7-4 6-3-6-3-7 3-6 4-7 4-6 5-7 4-7 4zM1552 234l7-3 6-4 7-4 6-4 7-4 6-3 7-4 7-2-7-5-7 3-6 3-7 4-6 4-7 4-6 5-7 4-7 3zM1605 213l6-2-6-5-7 2zM1552 241l7-3 6-4 7-3 6-4-6-4-7 4-6 4-7 3-7 4zM1559 244l6-3 7-3 6-3 7-3-7-5-6 4-7 3-6 4-7 3zM1565 248l7-3 6-3 7-2 6-3-6-5-7 3-6 3-7 3-6 3zM1578 249l7-2 6-3 7-2 7-3-7-5-7 3-6 3-7 2-6 3zM1591 251l7-2 7-2 6-2 7-3 6-2-6-6-7 3-6 2-7 3-7 2-6 3zM1611 251l7-1 6-2 7-2 7-3 6-2-6-6-7 3-7 2-6 2-7 3-6 2zM1631 252l7-2 6-2 7-2-7-5-6 2-7 3-7 2zM1651 252l6-2-6-4-7 2zM1486 307l7-2-7-4-6 2zM1493 312l6-3 7-2 6-3-6-4-7 2-6 3-7 2zM1499 316l7-2 6-3 7-3 7-2 6-3-6-4-7 3-7 2-6 3-7 2-6 3zM1506 321l6-3 7-3 7-3 6-3 7-3-7-3-6 3-7 2-7 3-6 3-7 2zM1512 325l7-3 7-3 6-3 7-3 6-3-6-4-7 3-6 3-7 3-7 3-6 3zM1532 322l7-3 6-3-6-3-7 3-6 3z"/><path class=d d="M1480 221l6-4 7-3 6-4 7-4 6-4 7-3-7-2-6 3-7 4-6 4-7 4-6 3-7 3zM1354 263l7-3 7-3 6-4 7-3 6-4 7-3 6-3-6-2-7 2-6 4-7 3-6 3-7 4-7 3-6 3zM1361 266l7-4 6-3 7-3 6-4 7-3 6-3 7-3-7-3-6 3-7 3-6 4-7 3-6 4-7 3-7 3zM1368 268l6-3 7-3 6-4 7-3 6-4 7-3 7-3-7-2-7 3-6 3-7 3-6 4-7 3-6 3-7 4zM1374 271l7-3 6-4 7-3 6-4 7-3 7-3 6-3-6-3-7 3-7 3-6 4-7 3-6 4-7 3-6 3zM1381 273l6-3 7-3 6-4 7-3 7-4 6-3 7-3-7-2-6 3-7 3-7 3-6 4-7 3-6 4-7 3zM1387 275l7-3 6-3 7-3 7-4 6-3 7-4 6-3-6-2-7 3-6 3-7 4-7 3-6 4-7 3-6 3zM1400 275l7-4 7-3 6-4 7-3 6-3-6-3-7 4-6 3-7 4-7 3-6 3zM1414 273l6-3 7-3 6-4 7-3-7-2-6 3-7 3-6 4-7 3zM1539 223l6-4 7-4 7-5 6-4-6-1-7 4-7 4-6 5-7 4zM1532 233l7-4 6-4 7-4 7-4 6-5 7-4 6-4 7-3-7-2-6 3-7 4-6 4-7 5-7 4-6 4-7 4-6 4zM1591 204l7-3-7-3-6 3zM1532 238l7-3 6-4 7-3-7-3-6 4-7 4-6 3zM1539 241l6-3 7-4-7-3-6 4-7 3zM1539 246l6-2 7-3-7-3-6 3-7 2zM1545 249l7-2 7-3-7-3-7 3-6 2zM1552 252l7-2 6-2-6-4-7 3-7 2zM1559 255l6-2 7-2 6-2-6-4-7 3-6 2-7 2zM1572 257l6-2 7-2 6-2-6-4-7 2-6 2-7 2zM1585 258l6-1 7-2 7-2 6-2-6-4-7 2-7 2-6 2-7 2zM1605 259l6-2 7-1 6-2 7-2-7-4-6 2-7 1-6 2-7 2zM1631 258l7-2 6-2 7-2-7-4-6 2-7 2-7 2zM1473 300l7-3-7-3-7 3zM1651 258l6-2 7-3-7-3-6 2-7 2zM1480 303l6-2 7-2 6-3 7-2-7-3-6 2-7 2-6 2-7 3zM1493 305l6-3 7-2 6-2 7-3 7-2-7-3-7 2-6 2-7 2-6 3-7 2zM1512 304l7-2 7-3 6-2 7-2-7-4-6 2-7 2-7 3-6 2zM1532 303l7-3 6-2 7-3-7-3-6 3-7 2-6 2zM1539 306l6-2 7-3 7-3-7-3-7 3-6 2-7 3zM1545 310l7-3 7-3 6-3-6-3-7 3-7 3-6 2zM1545 316l7-3 7-3 6-3 7-3-7-3-6 3-7 3-7 3-6 3zM1519 328l7-3 6-3-6-3-7 3-7 3zM1526 331l6-3 7-3 6-3 7-3 7-3 6-3 7-4 6-2-6-3-7 3-6 3-7 3-7 3-6 3-7 3-6 3-7 3z"/><path class=e d="M1519 199l7-4 6-2-6-2-7 2-7 4zM1466 226l7-2 7-3-7-3-7 3-6 3zM1400 240l7-2-7-3-6 3zM1348 266l6-3-6-3-7 3zM1486 222l7-3 6-4 7-4 6-4 7-3 7-4-7-1-7 3-6 4-7 4-6 4-7 3-6 4zM1407 243l7-3-7-2-7 2zM1354 268l7-2-7-3-6 3zM1414 245l6-2-6-3-7 3zM1361 271l7-3-7-2-7 2zM1420 248l7-3-7-2-6 2zM1368 273l6-2-6-3-7 3zM1427 250l6-3-6-2-7 3zM1374 276l7-3-7-2-6 2zM1433 252l7-2-7-3-6 3zM1381 278l6-3-6-2-7 3zM1433 258l7-3 7-3-7-2-7 2-6 3zM1387 280l7-2 6-3-6-3-7 3-6 3zM1526 226l6-4 7-4 6-5 7-4-7-1-6 5-7 4-6 4-7 4zM1440 260l7-3 6-3-6-2-7 3-7 3zM1394 282l6-2 7-3 7-4-7-2-7 4-6 3-7 2zM1565 206l7-4 6-3-6-2-7 4-6 4zM1526 231l6-4 7-4-7-1-6 4-7 4zM1407 281l7-3 6-3 7-3 6-3 7-4 7-3 6-3 7-3 6-3-6-2-7 3-6 3-7 3-7 3-6 4-7 3-6 3-7 4-7 3zM1585 201l6-3-6-2-7 3zM1526 236l6-3-6-2-7 3zM1420 280l7-3 6-3 7-4 7-3 6-3 7-3 6-3 7-3-7-2-6 3-7 3-6 3-7 3-7 4-6 3-7 3-6 3zM1526 241l6-3-6-2-7 3zM1440 275l7-3 6-3 7-3 6-4 7-2-7-2-6 3-7 3-6 3-7 3-7 4zM1526 246l6-3 7-2-7-3-6 3-7 3zM1460 270l6-3 7-3 7-2-7-2-7 2-6 4-7 3zM1526 251l6-3 7-2-7-3-6 3-7 2zM1526 255l6-2 7-2 6-2-6-3-7 2-6 3-7 2zM1519 262l7-2 6-2 7-2 6-2 7-2-7-3-6 2-7 2-6 2-7 2-7 2zM1519 267l7-2 6-2 7-2 6-2 7-2 7-2-7-3-7 2-6 2-7 2-6 2-7 2-7 2zM1526 269l6-1 7-2 6-2 7-2 7-2 6-1 7-2-7-4-6 2-7 2-7 2-6 2-7 2-6 2-7 2zM1532 272l7-1 6-2 7-2 7-2 6-2 7-1 6-2 7-2-7-3-6 2-7 2-6 1-7 2-7 2-6 2-7 2-6 1zM1539 275l6-2 7-1 7-2 6-2 7-1 6-2 7-2 6-1 7-2 7-1-7-4-7 2-6 1-7 2-6 2-7 1-6 2-7 2-7 2-6 2-7 1zM1466 297l7-3 7-2 6-2-6-3-7 3-7 2-6 3zM1552 276l7-1 6-2 7-2 6-1 7-2 6-2 7-1 7-2 6-1 7-1 6-2 7-1-7-4-6 2-7 1-6 2-7 1-7 2-6 1-7 2-6 2-7 1-6 2-7 2-7 1zM1480 297l6-2 7-2 6-2 7-2 6-2 7-2 7-2-7-3-7 2-6 2-7 2-6 2-7 2-6 2-7 2zM1638 261l6-1 7-2-7-4-6 2-7 2zM1506 294l6-2 7-2 7-2 6-2 7-2 6-1-6-3-7 2-6 1-7 2-7 2-6 2-7 2zM1657 260l7-2 6-2-6-3-7 3-6 2zM1526 293l6-2 7-2 6-2 7-1-7-3-6 1-7 2-6 2-7 2zM1539 295l6-3 7-2 7-2-7-2-7 1-6 2-7 2zM1552 295l7-2 6-2-6-3-7 2-7 2zM1559 298l6-2 7-2 6-2-6-3-7 2-6 2-7 2zM1565 301l7-2 6-2 7-2-7-3-6 2-7 2-6 2zM1572 304l6-3 7-2 6-2-6-2-7 2-6 2-7 2zM1690 273l7-2 6-2 7-3-7-2-6 2-7 3-6 2zM1578 307l7-3 6-2 7-2-7-3-6 2-7 2-6 3z"/><path class=f d="M1460 228l6-2-6-2-7 2zM1407 238l7-2-7-3-7 2zM1526 200l6-3-6-2-7 4zM1473 228l7-3 6-3-6-1-7 3-7 2zM1414 240l6-2-6-2-7 2zM1486 226l7-3 6-3 7-4 6-4 7-4 7-4 6-3-6-1-7 4-7 3-6 4-7 4-6 4-7 3-6 3zM1420 243l7-2-7-3-6 2zM1506 220l6-4 7-4 7-4-7 0-7 4-6 4-7 4zM1427 245l6-2-6-2-7 2zM1433 247l7-2-7-2-6 2zM1519 221l7-4 6-5-6 0-7 5-7 4zM1440 250l7-3 6-2-6-2-7 2-7 2zM1519 225l7-4 6-4 7-4 6-5 7-4-7 0-6 4-7 4-6 5-7 4-7 4zM1447 252l6-3 7-2-7-2-6 2-7 3zM1552 209l7-4 6-4-6-1-7 4-7 4zM1512 233l7-3 7-4-7-1-7 4-6 3zM1453 254l7-3 6-2-6-2-7 2-6 3zM1578 199l7-3-7-1-6 2zM1512 237l7-3 7-3-7-1-7 3-6 3zM1466 253l7-2-7-2-6 2zM1400 284l7-3-7-1-6 2zM1512 242l7-3 7-3-7-2-7 3-6 3zM1473 255l7-2 6-3-6-2-7 3-7 2zM1407 286l7-3 6-3-6-2-7 3-7 3zM1473 260l7-3 6-2 7-3 6-2 7-2 6-2 7-2 7-3-7-2-7 3-6 2-7 2-6 2-7 2-6 3-7 2-7 3zM1420 284l7-3 6-3 7-3-7-1-6 3-7 3-6 3zM1480 262l6-3 7-2 6-2 7-3 6-2 7-2 7-2-7-2-7 2-6 2-7 2-6 2-7 3-6 2-7 3zM1433 282l7-3 7-3 6-3 7-3-7-1-6 3-7 3-7 3-6 3zM1453 278l7-3 6-3 7-3 7-3 6-2 7-3 6-2 7-2 6-2 7-2 7-2-7-3-7 2-6 2-7 3-6 2-7 2-6 3-7 2-7 3-6 3-7 3-6 3zM1460 279l6-3 7-3 7-2 6-3 7-2 6-2 7-3 6-2 7-2 7-2-7-2-7 2-6 2-7 2-6 2-7 3-6 2-7 3-7 3-6 3-7 3zM1473 278l7-3 6-2 7-3 6-2 7-2 6-2 7-2-7-3-6 2-7 3-6 2-7 2-6 3-7 2-7 3zM1480 279l6-2 7-2 6-2 7-2 6-2 7-2-7-3-6 2-7 2-6 2-7 3-6 2-7 3zM1486 281l7-2 6-2 7-2 6-2 7-2 7-2-7-2-7 2-6 2-7 2-6 2-7 2-6 2zM1460 295l6-3 7-2 7-3 6-2 7-2 6-2 7-2 6-1 7-2 7-2 6-2-6-3-7 2-7 2-6 2-7 2-6 2-7 2-6 2-7 2-7 3-6 2-7 3zM1486 290l7-2 6-2 7-2 6-2 7-2 7-1 6-2 7-2-7-3-6 2-7 2-7 2-6 1-7 2-6 2-7 2-6 2zM1526 283l6-1 7-2 6-2 7-2-7-3-6 2-7 2-6 2-7 1zM1545 283l7-2 7-2 6-1 7-2 6-2 7-2 6-1 7-2 7-1 6-1 7-2 6-1 7-1 7-2-7-3-7 1-6 2-7 1-6 1-7 2-7 1-6 2-7 2-6 1-7 2-6 2-7 1-7 2-6 2zM1638 265l6-1 7-2 6-2-6-2-7 2-6 1-7 2zM1552 286l7-2 6-2 7-2 6-1 7-2 6-2 7-1 7-2 6-1 7-2 6-1-6-3-7 2-6 1-7 1-7 2-6 1-7 2-6 2-7 2-6 1-7 2-7 2zM1664 262l6-2 7-2-7-2-6 2-7 2zM1559 288l6-1 7-2 6-2 7-2 6-1 7-2 7-2 6-1 7-2 6-1-6-3-7 2-6 1-7 2-7 1-6 2-7 2-6 1-7 2-6 2-7 2zM1565 291l7-2 6-2 7-1 6-2 7-2 7-1 6-2 7-1 6-2-6-3-7 2-6 1-7 2-7 2-6 1-7 2-6 2-7 2-6 1zM1578 292l7-2 6-2 7-1 7-2 6-2 7-1 6-2 7-2 7-1-7-3-7 2-6 2-7 1-6 2-7 1-7 2-6 2-7 1-6 2zM1585 295l6-2 7-2 7-2 6-1 7-2 6-2 7-1 7-2 6-2 7-2-7-2-6 2-7 1-7 2-6 2-7 1-6 2-7 2-7 1-6 2-7 2zM1591 297l7-2 7-1 6-2 7-2 6-1 7-2 7-2 6-2 7-1 6-2 7-2 6-2 7-3 7-2 6-2 7-3 6-2-6-2-7 3-6 2-7 2-7 2-6 2-7 2-6 2-7 2-6 2-7 2-7 1-6 2-7 2-6 1-7 2-7 2-6 2zM1598 300l7-2 6-2 7-2 6-1 7-2 7-1 6-2 7-2 6-2 7-2 6-2 7-2 7-2 6-3-6-2-7 2-7 3-6 2-7 2-6 2-7 1-6 2-7 2-7 2-6 1-7 2-6 2-7 1-7 2z"/><path class=g d="M1453 229l7-1-7-2-6 1zM1414 236l6-2 7-1-7-2-6 1-7 1zM1532 197l7-3-7-1-6 2zM1466 230l7-2-7-2-6 2zM1420 238l7-1-7-3-6 2zM1532 201l7-4-7 0-6 3zM1480 229l6-3-6-1-7 3zM1427 241l6-2-6-2-7 1zM1526 208l6-4 7-3-7 0-6 3-7 4zM1493 227l6-3 7-4-7 0-6 3-7 3zM1433 243l7-2-7-2-6 2zM1499 228l7-4 6-3 7-4 7-5 6-4 7-4-7 0-6 4-7 4-7 4-6 4-7 4-6 3zM1440 245l7-2-7-2-7 2zM1532 212l7-4 6-4-6 0-7 4-6 4zM1506 228l6-3 7-4-7 0-6 3-7 4zM1453 245l7-2-7-2-6 2zM1552 204l7-4-7 0-7 4zM1506 232l6-3 7-4-7 0-6 3-7 3zM1460 247l6-2-6-2-7 2zM1565 201l7-4-7 0-6 3zM1506 236l6-3-6-1-7 3zM1466 249l7-2 7-2-7-2-7 2-6 2zM1473 251l7-3 6-2 7-2 6-2 7-2 6-3-6-1-7 2-6 3-7 2-6 2-7 2-7 2zM1486 250l7-2 6-2 7-2 6-2-6-2-7 2-6 2-7 2-6 2zM1414 287l6-3-6-1-7 3zM1420 288l7-3 6-3-6-1-7 3-6 3zM1433 286l7-3 7-3 6-2-6-2-7 3-7 3-6 3zM1447 284l6-3 7-2-7-1-6 2-7 3zM1453 285l7-2 6-3 7-2-7-2-6 3-7 2-6 3zM1453 289l7-3 6-2 7-3 7-2-7-1-7 2-6 3-7 2-6 3zM1453 293l7-3 6-2 7-3 7-2 6-2-6-2-7 2-7 3-6 2-7 3-6 2zM1624 268l7-1 7-2-7-2-7 1-6 1zM1624 272l7-2 7-1 6-2 7-1 6-2 7-2-7-2-6 2-7 2-6 1-7 2-7 1-6 1zM1624 276l7-2 7-1 6-2 7-2 6-1 7-2 6-2 7-2 7-3-7-1-7 2-6 2-7 2-6 2-7 1-6 2-7 1-7 2-6 1zM1638 277l6-2 7-2 6-2 7-2 6-2 7-2 7-2 6-2-6-2-7 3-7 2-6 2-7 2-6 1-7 2-6 2-7 1zM1651 277l6-2 7-2 6-2 7-2 7-2 6-2 7-3-7-1-6 2-7 2-7 2-6 2-7 2-6 2-7 2z"/><path class=h d="M1427 233l6-1 7-1 7-1 6-1-6-2-7 1-7 1-6 1-7 1zM1460 231l6-1-6-2-7 1zM1427 237l6-2 7-1-7-2-6 1-7 1zM1539 197l6-3-6 0-7 3zM1473 231l7-2-7-1-7 2zM1433 239l7-1-7-3-6 2zM1539 201l6-4-6 0-7 4zM1480 232l6-2 7-3-7-1-6 3-7 2zM1440 241l7-2-7-1-7 1zM1539 204l6-4-6 1-7 3zM1493 231l6-3-6-1-7 3zM1447 243l6-2 7-1-7-2-6 1-7 2zM1545 204l7-4-7 0-6 4zM1493 234l6-3 7-3-7 0-6 3-7 2zM1460 243l6-2-6-1-7 1zM1559 200l6-3-6 0-7 3zM1493 237l6-2 7-3-7-1-6 3-7 2zM1466 245l7-2 7-2-7-1-7 1-6 2zM1572 197l6-2-6-1-7 3zM1480 245l6-2 7-2 6-3 7-2-7-1-6 2-7 2-6 2-7 2zM1427 289l6-3-6-1-7 3zM1433 289l7-2 7-3-7-1-7 3-6 3zM1440 290l7-2 6-3-6-1-7 3-7 2zM1447 291l6-2-6-1-7 2z"/><path class=i d="M1440 234l7-1 6-1 7-1-7-2-6 1-7 1-7 1zM1440 238l7-2 6-1 7-1 6-1 7-2-7-1-6 1-7 1-6 1-7 1-7 1zM1473 234l7-2-7-1-7 2zM1447 239l6-1 7-1-7-2-6 1-7 2zM1545 200l7-3-7 0-6 4zM1480 235l6-2 7-2-7-1-6 2-7 2zM1460 240l6-2-6-1-7 1zM1552 200l7-3-7 0-7 3zM1466 241l7-1 7-2 6-2 7-2-7-1-6 2-7 2-7 1-6 2zM1480 241l6-2 7-2-7-1-6 2-7 2z"/><path class=j d="M1545 197l7-2-7-1-6 3zM1460 237l6-1 7-2-7-1-6 1-7 1zM1466 238l7-1 7-2-7-1-7 2-6 1zM1565 197l7-3-7 0-6 3z"/><path class=k d="M1552 197l7-3-7 1-7 2zM1559 197l6-3-6 0-7 3z"/><path d="M1341 263l7 3 6 2 7 3 7 2 6 3 7 2 6 2 7 2 6 2 7 2 7 1 6 1 7 1 6 0 7 1 7 1 6 2 7 2 6 2 7 3 7 3 6 4 7 5 6 4 7 5 6 4 7 3 7 3 6-3 7-3 6-3 7-3 7-3 6-3 7-4 6-2 7-3 6-2 7-2 7-2 6-2 7-2 6-1 7-2 7-1 6-2 7-2 6-2 7-2 6-2 7-2 7-2 6-3 7-2 6-2 7-3" fill="none" stroke="#a040e0" stroke-width="2.2"/>
<g fill="none" stroke-width="1.8"><path d="M73 663l184 71 185-71-185-72z" stroke="#c4c4c4" stroke-width="2"/><path d="M257 734V524" stroke="#c4c4c4" stroke-width="2"/><path d="M127 642l4 2 3 2-1 4-5 2-8 0-8-1-6-1" stroke="#6fcfb0"/><path d="M134 639l4 2 4 2 2 3 2 2 0 4-3 2-5 2-6 1-8 0-8 0-4 0-3-1-6-1-5-2" stroke="#72b8ec"/><path d="M138 637l5 2 4 2 3 3 3 2 2 2 1 4-2 3-3 2-5 2-6 1-7 1-9 0-10 0-7-1-6-1-6-1-5-2" stroke="#f0ac62"/><path d="M142 636l5 2 4 2 4 2 3 2 3 3 2 2 1 3-1 5-5 3-5 2-5 1-4 1-10 1-9 0-9 0-11 0-7-1-6-1-8-1-5-2" stroke="#eedc5a"/><path d="M275 728l-4-3-2-2 0-4 2-4 3-3 4-2 7-1 9 0 6 1 6 2 5 2M146 634l4 2 5 2 4 2 3 2 4 3 2 2 3 3 1 3 0 5-3 3-3 2-5 2-5 1-6 2-7 0-8 1-5 0-10 1-10 0-8 1-6 1" stroke="#6c9fe0"/><path d="M238 727l4-2 3-2 2-3 3-3 2-3 2-2 2-3 3-3 3-2 5-2 6-1 6 0 8 0 7 1 6 2 5 1 6 2 5 1 4 2M407 649l-6 2-4 1-10 0-7-1-6-1-3-3-2-3 4-4 4-2M149 633l5 2 4 2 4 2 4 2 4 2 3 2 3 3 3 2 2 3 1 3-1 4-2 4-4 3-4 2-6 1-6 1-7 1-7 1-7 0-9 1-7 1-7 1-5 1" stroke="#f08576"/><path d="M417 653l-5 2-6 1-4 1-11 0-8 0-7-1-7-1-5-2-4-1-3-3-1-3 1-4 4-3 3-3 5-2M223 721l5-2 3-2 2-2 3-3 2-3 1-3 2-3 1-3 2-3 3-2 5-2 3-1 10 0 8 1 7 0 6 2 6 1 6 1 5 2 3 1 7 2 5 2 5 1 4 2M153 632l4 2 5 1 4 2 4 2 3 2 5 3 3 2 3 2 3 3 2 2 2 3 1 3 1 4 0 4-1 3-3 2-5 2-6 1-7 1-4 0-3 1-7 0-8 1-6 1-8 1-7 1-5 1" stroke="#a8a8a8"/><path d="M428 658l-5 1-6 1-7 1-8 1-9 0-4 0-7-1-8-1-4 0-9-2-5-1-5-2-3-2-2-2-2-4 1-4 2-3 3-2 3-2 4-2 5-2M209 716l4-2 4-3 2-2 1-3 0-4-2-3-2-2-3-3-3-2-5-2-5-2-5-1-6-1-8-1-6 0-9 0-9 0-4 0-3 1-6 1-5 1M156 630l5 2 4 2 5 2 4 2 4 2 4 2 4 2 3 2 3 2 3 3 3 2 2 2 3 4 3 2 2 3 2 2 4 3 3 2 4 2 5 2 5 2 5 1 7 1 6 1 6 1 7 2 6 1 6 1 6 1 6 2 5 1 5 2 5 1 5 2 4 2 5 2 5 1 4 2 5 2 5 2" stroke="#d08be8"/><path d="M426 669l-6-1-3-1-4 0-8 0-9-1-8 0-4 0-4-1-7 0-8-1-6-1-6-2-6-1-4-2-4-2-3-2-2-3-1-3 1-4 3-4 2-2 4-3 4-2 4-2 4-2M186 707l3-3-3-3-4-2-7-1-9 1M160 629l4 2 5 2 4 1 5 2 4 2 4 2 4 2 4 2 4 2 2 2 5 3 3 2 3 3 3 2 4 2 3 2 4 2 3 2 6 2 5 2 5 1 6 2 6 1 5 1 7 2 6 1 6 1 3 1 8 2 5 2 4 1 5 2 4 2 4 2 5 2 4 2 4 2 5 2 4 2 5 1" stroke="#6fcfb0"/><path d="M412 674l-6-1-6-1-7-1-6-1-9-1-7 0-8-1-7-1-7-1-6-1-6-1-5-2-4-2-3-2-2-3-2-3 0-4 1-3 2-3 2-2 3-3 3-2 4-3 4-2 4-2 4-1M164 628l4 1 5 2 4 2 5 2 4 2 5 1 4 2 4 2 4 2 4 2 4 2 4 3 4 2 4 2 3 2 5 2 4 2 4 2 5 1 6 2 5 1 6 1 3 1 3 1 7 1 6 1 6 1 6 1 5 2 5 2 4 2 4 2 4 2 4 2 3 2 4 2 4 2 4 2 4 2 4 2 5 2" stroke="#72b8ec"/><path d="M400 679l-5-2-6-1-6-1-8-1-7 0-8-1-9 0-4 0-5 0-4 0-6 1-4 2 0 4 3 4 3 3 3 2 4 2 2 2 6 2 4 2M279 600l-6 1-6 1-9 0-7-1-6-2-5-1M168 626l4 2 5 1 5 2 4 2 5 2 5 2 4 1 5 2 4 2 5 2 4 2 4 2 5 2 4 1 5 2 4 2 5 2 5 1 6 2 5 1 7 1 7 1 8 1 5 0 4 0 4-1 5-1 2-3 1-3 1-3 1-3 1-3 2-3 2-2 3-4 3-2 3-2 4-3 3-2 5-2 4-2 4-2" stroke="#f0ac62"/><path d="M387 684l-5-2-7-1-7 0-8 0-5 2-1 3 2 3 3 2 5 2M305 610l-5 1-5 1-8 1-5 1-9 0-4 0-4-1-8 0-6-1-6-2-6-1-5-2-5-1-5-2M173 624l4 2 5 2 5 1 5 2 4 2 5 1 5 2 5 2 5 1 5 2 5 2 5 1 5 2 6 1 5 2 5 1 7 2 7 0 10 0 5-1 4-2 4-3 2-2 3-3 3-2 3-3 2-2 3-3 3-2 4-2 3-3 4-2 4-2 4-2" stroke="#eedc5a"/><path d="M179 622l4 1 5 2 5 2 6 1 5 2 6 1 5 2 6 1 6 1 6 1 4 1 9 1 5 1 8 0 6-2 4-2 3-2-1-4-4-2-5-2-4-1-6-2-6-1-5-2-5-2-5-1-5-2-5-2-5-1-4-2" stroke="#6c9fe0"/></g>
<path d="M73 524V663" stroke="#c8c8c8" stroke-width="1.2"/>
<path d="M73 592l6-2 7 0 7 0 6 0 7 1 6-1 7-2 6-4 7-6 7-8 6-8 7-10 6-9 7-10 7-7 6-7 7-5 6-4 7-2 7-2 6 0 7-1 6 0 7-1 6-1 7-2 7-2 6-2 7 2 6 2 7 2 7 2 6 2 7 1 6 2 7 2 6 2 7 3 7 3 6 5 7 5 6 5 7 6 7 7 6 6 7 5 6 5 7 3 7 3 6 1 7 1 6 0 7 0 6 1 7 1 7 2" fill="none" stroke="#a040e0" stroke-width="2.6"/><path class=b d="M139 580l6-7 7-9 6-10 7-9 7-9 6-8 7-6-7-3-6 7-7 7-7 10-6 9-7 10-6 8-7 8zM152 574l6-8 7-9 7-10 6-8 7-8 6-7-6-2-7 6-6 8-7 9-7 9-6 10-7 9zM165 567l7-9 6-9 7-8 6-7 7-7-7-3-6 7-7 8-6 8-7 10-7 9zM172 568l6-8 7-9 6-7 7-8 7-6-7-3-7 7-6 7-7 8-6 9-7 9zM185 561l6-8 7-7 7-7 6-6-6-3-7 6-7 8-6 7-7 9zM198 555l7-7 6-6 7-6-7-3-6 6-7 7-7 7zM205 557l6-7 7-6 6-5-6-3-7 6-6 6-7 7zM349 544l7-3-7-6-6 3zM356 550l7-2-7-7-7 3zM290 623l7-5 6-5 7-6-7-2-6 5-7 5-6 5zM297 627l6-5 7-6 6-6-6-3-7 6-6 5-7 5zM303 630l7-5 6-6 7-7 7-6-7-2-7 6-6 6-7 6-6 5zM310 633l6-6 7-6 7-6 6-7-6-2-7 6-7 7-6 6-7 5zM316 636l7-6 7-6 6-7 7-6 6-6-6-3-7 6-6 7-7 6-7 6-6 6z"/><path class=c d="M185 522l6-6-6-2-7 5zM132 586l7-6-7-2-7 6zM191 524l7-5 7-3-7-3-7 3-6 6zM139 587l6-6 7-7-7-1-6 7-7 6zM198 527l7-5 6-3-6-3-7 3-7 5zM152 582l6-7 7-8-7-1-6 8-7 7zM205 530l6-5 7-3-7-3-6 3-7 5zM165 576l7-8-7-1-7 8zM211 533l7-5 6-3-6-3-7 3-6 5zM172 576l6-7 7-8-7-1-6 8-7 8zM218 536l6-5 7-3-7-3-6 3-7 5zM185 569l6-7 7-7-7-2-6 8-7 8zM224 539l7-5 6-3-6-3-7 3-6 5zM191 570l7-6 7-7-7-2-7 7-6 7zM198 571l7-6 6-6 7-6 6-6 7-5 6-5 7-3-7-3-6 3-7 5-6 5-7 6-6 7-7 7-7 6zM205 572l6-6 7-5 6-6 7-5 6-5 7-5 7-3-7-3-7 3-6 5-7 5-6 6-7 6-6 6-7 6zM211 574l7-6 6-5 7-6 6-5 7-4 7-5 6-3-6-3-7 3-7 5-6 5-7 5-6 6-7 5-6 6zM211 580l7-5 6-5 7-5 6-5 7-5 7-5 6-3 7-4-7-3-6 3-7 5-7 4-6 5-7 6-6 5-7 6-6 5zM323 529l7-2 6-2-6-5-7 3-7 2zM218 582l6-5 7-5 6-5 7-5 7-4 6-5 7-3 6-3-6-4-7 4-6 3-7 5-7 5-6 5-7 5-6 5-7 5zM316 538l7-2 7-2 6-2 7-2-7-5-6 2-7 2-7 2-6 3zM218 589l6-5 7-4 6-5 7-5 7-5 6-4 7-4 6-4 7-3-7-3-6 3-7 3-6 5-7 4-7 5-6 5-7 5-6 5-7 4zM316 545l7-2 7-1 6-2 7-2 6-3-6-5-7 2-6 2-7 2-7 2-6 2zM224 591l7-4 6-5 7-4 7-5 6-5 7-4 6-4 7-4 7-2-7-4-7 3-6 4-7 4-6 4-7 5-7 5-6 5-7 4-6 5zM330 549l6-2 7-1 6-2-6-6-7 2-6 2-7 1zM231 594l6-4 7-5 7-4 6-5 7-5 6-4 7-4 7-3-7-4-7 4-6 4-7 4-6 5-7 5-7 4-6 5-7 4zM336 554l7-1 6-1 7-2-7-6-6 2-7 1-6 2zM237 597l7-4 7-5 6-4 7-5 6-4 7-5 7-3 6-4-6-3-7 3-7 4-6 4-7 5-6 5-7 4-7 5-6 4zM349 559l7-1 7-2 6-2-6-6-7 2-7 2-6 1zM244 600l7-4 6-4 7-5 6-5 7-4 7-4 6-4 7-3-7-4-6 4-7 3-7 5-6 4-7 5-6 4-7 5-7 4zM363 563l6-2 7-2-7-5-6 2-7 2zM251 603l6-4 7-4 6-5 7-4 7-5 6-4 7-4-7-3-6 4-7 4-7 4-6 5-7 5-6 4-7 4zM376 566l6-2-6-5-7 2zM251 609l6-3 7-4 6-4 7-5 7-4 6-5 7-4 6-4-6-3-7 4-6 4-7 5-7 4-6 5-7 4-6 4-7 3zM257 613l7-4 6-3 7-5 7-5 6-4 7-5 6-5 7-3-7-3-6 4-7 4-6 5-7 4-7 5-6 4-7 4-6 3zM257 619l7-3 6-3 7-4 7-5 6-5 7-5 6-5 7-4-7-3-6 5-7 5-6 4-7 5-7 5-6 3-7 4-6 2zM264 623l6-3 7-4 7-4 6-5 7-5 6-5 7-5 6-5-6-2-7 4-6 5-7 5-6 5-7 5-7 4-6 3-7 3zM218 636l6-2-6-4-7 2zM264 630l6-3 7-3 7-4 6-5 7-5 6-5 7-6 6-5 7-5-7-2-6 5-7 5-6 5-7 5-6 5-7 4-7 4-6 3-7 2zM224 641l7-3-7-4-6 2zM310 607l6-6 7-5 7-5-7-2-7 5-6 5-7 6zM270 634l7-3 7-3 6-5-6-3-7 4-7 3-6 3zM231 645l6-2-6-5-7 3zM316 610l7-6 7-6 6-5-6-2-7 5-7 5-6 6zM277 638l7-3 6-4 7-4-7-4-6 5-7 3-7 3zM237 649l7-2-7-4-6 2zM330 606l6-6 7-6-7-1-6 5-7 6zM284 641l6-3 7-3 6-5-6-3-7 4-6 4-7 3zM336 608l7-6 6-5 7-5-7-2-6 4-7 6-6 6zM297 642l6-4 7-5-7-3-6 5-7 3zM349 605l7-6 7-5-7-2-7 5-6 5zM303 644l7-4 6-4-6-3-7 5-6 4z"/><path class=d d="M191 516l7-3-7-3-6 4zM125 590l7-4-7-2-6 4zM211 519l7-3-7-3-6 3zM145 588l7-6-7-1-6 6zM218 522l6-3-6-3-7 3zM158 582l7-6-7-1-6 7zM224 525l7-3-7-3-6 3zM165 582l7-6-7 0-7 6zM231 528l6-3-6-3-7 3zM178 576l7-7-7 0-6 7zM237 531l7-3-7-3-6 3zM185 576l6-6-6-1-7 7zM244 534l7-3 6-3-6-3-7 3-7 3zM191 577l7-6-7-1-6 6zM251 537l6-3 7-3-7-3-6 3-7 3zM198 577l7-5-7-1-7 6zM257 540l7-3 6-3 7-2-7-3-6 2-7 3-6 3zM198 583l7-4 6-5-6-2-7 5-7 5zM264 543l6-3 7-2 7-3 6-2 7-2 6-2 7-2 6-2 7-2 7-3-7-3-7 2-6 2-7 3-6 2-7 2-6 2-7 2-7 2-6 3-7 3zM205 585l6-5-6-1-7 4zM270 547l7-3 7-3 6-2 7-2 6-2 7-1 6-3 7-2-7-4-6 2-7 2-6 2-7 2-6 2-7 3-7 2-6 3zM205 590l6-4 7-4-7-2-6 5-7 3zM277 550l7-3 6-2 7-2 6-1 7-2 6-2-6-4-7 1-6 2-7 2-6 2-7 3-7 3zM211 592l7-3-7-3-6 4zM284 554l6-3 7-2 6-1 7-2 6-1-6-5-7 2-6 1-7 2-6 2-7 3zM218 595l6-4-6-2-7 3zM284 560l6-3 7-2 6-1 7-2 6-1 7-1 7-1-7-6-7 2-6 1-7 2-6 1-7 2-6 3-7 2zM218 600l6-3 7-3-7-3-6 4-7 2zM323 556l7-1 6-1-6-5-7 1-7 1zM290 563l7-2 6-2 7-1-7-4-6 1-7 2-6 3zM224 603l7-3 6-3-6-3-7 3-6 3zM336 560l7 0 6-1-6-6-7 1-6 1zM297 567l6-3 7-1-7-4-6 2-7 2zM231 606l6-3 7-3-7-3-6 3-7 3zM356 564l7-1-7-5-7 1zM297 573l6-3 7-2-7-4-6 3-7 3zM237 609l7-3 7-3-7-3-7 3-6 3zM191 621l7-3-7-3-6 3zM369 567l7-1-7-5-6 2zM303 576l7-3-7-3-6 3zM244 612l7-3-7-3-7 3zM198 624l7-2-7-4-7 3zM382 570l7-3-7-3-6 2zM310 579l6-3-6-3-7 3zM244 618l7-3 6-2-6-4-7 3-7 2zM205 628l6-2 7-2-7-4-6 2-7 2zM310 585l6-4 7-3-7-2-6 3-7 3zM244 623l7-2 6-2-6-4-7 3-7 1zM211 632l7-2 6-2 7-2-7-4-6 2-7 2-6 2zM316 587l7-4-7-2-6 4zM224 634l7-2 6-2 7-1 7-2 6-2 7-2-7-4-6 2-7 2-7 2-6 1-7 2-6 2zM323 589l7-4-7-2-7 4zM231 638l6-2 7-1 7-2 6-1 7-2-7-5-6 2-7 2-7 1-6 2-7 2zM330 591l6-5-6-1-7 4zM237 643l7-2 7-2 6-1 7-2 6-2-6-4-7 2-6 1-7 2-7 1-6 2zM336 593l7-5-7-2-6 5zM244 647l7-2 6-2 7-1 6-2 7-2-7-4-6 2-7 2-6 1-7 2-7 2zM343 594l6-4 7-4-7-2-6 4-7 5zM270 645l7-1 7-3-7-3-7 2-6 2zM244 653l7-2 6-2 7-2-7-4-6 2-7 2-7 2zM356 592l7-4-7-2-7 4zM284 647l6-2 7-3-7-4-6 3-7 3zM251 656l6-2-6-3-7 2zM363 594l6-4-6-2-7 4zM297 648l6-4-6-2-7 3z"/><path class=e d="M257 501l7-2-7-2-6 2zM198 513l7-3-7-2-7 2zM205 516l6-3-6-3-7 3zM132 591l7-4-7-1-7 4zM152 587l6-5-6 0-7 6zM231 522l6-2-6-3-7 2zM237 525l7-3-7-2-6 2zM172 582l6-6-6 0-7 6zM244 528l7-3-7-3-7 3zM178 582l7-6-7 0-6 6zM257 528l7-2-7-3-6 2zM185 582l6-5-6-1-7 6zM310 516l6-2-6-2-7 2zM264 531l6-2 7-2-7-3-6 2-7 2zM191 582l7-5-7 0-6 5zM277 532l7-2 6-2 7-2 6-2 7-3 6-2 7-2-7-3-6 2-7 3-6 2-7 2-6 2-7 2-7 2zM191 587l7-4-7-1-6 4zM198 588l7-3-7-2-7 4zM198 593l7-3-7-2-7 3zM205 595l6-3-6-2-7 3zM211 597l7-2-7-3-6 3zM211 602l7-2-7-3-6 3zM310 558l6-1 7-1-7-5-6 1-7 2zM218 605l6-2-6-3-7 2zM178 615l7-2-7-3-6 2zM310 563l6-1 7-1 7-1 6 0-6-5-7 1-7 1-6 1-7 1zM224 608l7-2-7-3-6 2zM185 618l6-3 7-2-7-2-6 2-7 2zM349 564l7 0-7-5-6 1zM310 568l6-2-6-3-7 1zM224 612l7-1 6-2-6-3-7 2-6 1zM198 618l7-1-7-4-7 2zM363 568l6-1-6-4-7 1zM310 573l6-2-6-3-7 2zM205 622l6-2 7-2 6-1 7-1 6-2 7-2-7-3-6 2-7 1-6 2-7 1-6 2-7 1zM376 571l6-1-6-4-7 1zM316 576l7-3-7-2-6 2zM218 624l6-2 7-1 6-2 7-1-7-4-6 2-7 1-6 1-7 2zM231 626l6-1 7-2-7-4-6 2-7 1zM323 583l7-3-7-2-7 3zM330 585l6-4-6-1-7 3zM336 586l7-3-7-2-6 4zM343 588l6-4-6-1-7 3zM264 647l6-2-6-3-7 1zM363 588l6-3-6-2-7 3zM257 654l7-2 6-2 7-1 7-2-7-3-7 1-6 2-7 2-6 2zM369 590l7-3-7-2-6 3zM284 652l6-2 7-2-7-3-6 2-7 2zM257 659l7-2 6-2-6-3-7 2-6 2z"/><path class=f d="M251 503l6-2-6-2-7 2zM119 592l6-2-6-2-7 2zM79 594l7-2-7-2-6 2zM257 506l7-2 6-3-6-2-7 2-6 2zM211 513l7-1-7-3-6 1zM270 506l7-3-7-2-6 3zM218 516l6-2-6-2-7 1zM139 591l6-3-6-1-7 4zM277 507l7-2-7-2-7 3zM224 519l7-2-7-3-6 2zM158 587l7-5-7 0-6 5zM244 522l7-1-7-3-7 2zM251 525l6-2 7-2-7-2-6 2-7 1zM297 516l6-2 7-2-7-2-6 2-7 2zM264 526l6-2 7-2-7-2-6 1-7 2zM277 527l7-2 6-2 7-2 6-2 7-3-7-2-6 2-7 2-6 2-7 2-7 2zM185 586l6-4-6 0-7 4zM191 591l7-3-7-1-6 3zM191 595l7-2-7-2-6 3zM198 597l7-2-7-2-7 2zM158 608l7-2-7-2-6 2zM205 600l6-3-6-2-7 2zM165 610l7-2-7-2-7 2zM205 604l6-2-6-2-7 1zM172 612l6-2 7-2-7-2-6 2-7 2zM211 606l7-1-7-3-6 2zM185 613l6-2-6-3-7 2zM198 613l7-1 6-1 7-2 6-1-6-3-7 1-6 2-7 1-7 2zM316 566l7-1 7 0 6-1 7 0 6 0-6-4-7 0-6 0-7 1-7 1-6 1zM205 617l6-2 7-1 6-2-6-3-7 2-6 1-7 1zM356 568l7 0-7-4-7 0zM316 571l7-2-7-3-6 2zM323 573l7-1-7-3-7 2zM389 572l7-2-7-3-7 3zM323 578l7-3-7-2-7 3zM330 580l6-3-6-2-7 3zM336 581l7-2-7-2-6 3zM343 583l6-3-6-1-7 2zM349 584l7-2-7-2-6 3zM356 586l7-3-7-1-7 2zM435 578l7-2-7-2-7 2zM376 587l6-2-6-2-7 2zM270 655l7-2 7-1-7-3-7 1-6 2z"/><path class=g d="M237 506l7-1 7-2-7-2-7 2-6 1zM205 510l6-1-6-3-7 2zM251 507l6-1-6-3-7 2zM86 596l7-2-7-2-7 2zM257 509l7-1 6-2-6-2-7 2-6 1zM270 509l7-2-7-1-6 2zM231 517l6-1-6-3-7 1zM277 511l7-2 6-2-6-2-7 2-7 2zM237 520l7-2-7-2-6 1zM284 513l6-2 7-3-7-1-6 2-7 2zM251 521l6-2-6-2-7 1zM165 586l7-4-7 0-7 5zM284 516l6-2 7-2 6-2-6-2-7 3-6 2-7 2zM264 521l6-1 7-2-7-2-6 2-7 1zM172 586l6-4-6 0-7 4zM277 522l7-2 6-2 7-2-7-2-6 2-7 2-7 2zM178 586l7-4-7 0-6 4zM185 590l6-3-6-1-7 3zM185 594l6-3-6-1-7 3zM145 605l7-3-7-1-6 2zM152 606l6-2-6-2-7 3zM191 599l7-2-7-2-6 2zM165 606l7-2-7-2-7 2zM191 603l7-2 7-1-7-3-7 2-6 2zM172 608l6-2 7-2-7-2-6 2-7 2zM185 608l6-1 7-2 7-1-7-3-7 2-6 1-7 2zM191 611l7-2 7-1 6-2-6-2-7 1-7 2-6 1zM349 568l7 0-7-4-6 0zM323 569l7-1-7-3-7 1zM369 571l7 0-7-4-6 1zM382 573l7-1-7-2-6 1zM330 575l6-1-6-2-7 1zM369 585l7-2-7-2-6 2zM428 580l7-2-7-2-6 2zM382 585l7-1-7-2-6 1z"/><path class=h d="M231 507l6-1-6-2-7 1zM211 509l7-1-7-2-6 0zM244 508l7-1-7-2-7 1zM218 512l6-1-6-3-7 1zM125 593l7-2-7-1-6 2zM251 511l6-2-6-2-7 1zM224 514l7-1-7-2-6 1zM93 597l6-2-6-1-7 2zM257 512l7-1 6-2-6-1-7 1-6 2zM237 516l7-1-7-3-6 1zM145 591l7-4-7 1-6 3zM264 514l6-1 7-2-7-2-6 2-7 1zM244 518l7-1 6-1-6-2-7 1-7 1zM257 519l7-1 6-2 7-1 7-2-7-2-7 2-6 1-7 2-6 1zM277 518l7-2-7-1-7 1zM178 589l7-3-7 0-6 3zM178 593l7-3-7-1-6 3zM139 603l6-2-6-1-7 2zM152 602l6-1-6-2-7 2zM178 599l7-2 6-2-6-1-7 2-6 1zM158 604l7-2-7-1-6 1zM172 604l6-2 7-1 6-2-6-2-7 2-6 1-7 2zM185 604l6-1-6-2-7 1zM330 568l6 0 7 0 6 0-6-4-7 0-6 1-7 0zM363 572l6-1-6-3-7 0zM330 572l6-1-6-3-7 1zM396 573l6-2-6-1-7 2zM336 577l7-1-7-2-6 1zM356 582l7-2-7-2-7 2zM363 583l6-2-6-1-7 2zM428 576l7-2-7-1-6 2zM422 581l6-1-6-2-7 1z"/><path class=i d="M218 508l6 0 7-1-7-2-6 0-7 1zM86 592l7 0-7-2-7 0zM224 511l7-1 6-1 7-1-7-2-6 1-7 1-6 0zM231 513l6-1 7 0 7-1-7-3-7 1-6 1-7 1zM244 515l7-1 6-2-6-1-7 1-7 0zM99 598l7-2-7-1-6 2zM257 516l7-2-7-2-6 2zM152 591l6-4-6 0-7 4zM165 589l7-3-7 0-7 4zM119 601l6-3-6 0-7 2zM172 589l6-3-6 0-7 3zM125 601l7-2-7-1-6 3zM132 602l7-2-7-1-7 2zM145 601l7-2-7-1-6 2zM172 597l6-1 7-2-7-1-6 2-7 1zM158 601l7-2-7-1-6 1zM165 602l7-2 6-1-6-2-7 2-7 2zM356 571l7 1-7-4-7 0zM336 571l7 0-7-3-6 0zM376 574l6-1-6-2-7 0zM336 574l7-1-7-2-6 1zM343 579l6-2-6-1-7 1zM349 580l7-2-7-1-6 2zM422 578l6-2-6-1-7 2zM376 583l6-1-6-2-7 1zM415 582l7-1-7-2-6 1zM389 584l7-1-7-2-7 1z"/><path class=j d="M112 593l7-1-7-2-6 1zM132 594l7-3-7 0-7 2zM106 599l6-2-6-1-7 2zM158 590l7-4-7 1-6 4zM112 600l7-2-7-1-6 2zM172 592l6-3-6 0-7 3zM139 600l6-2-6-1-7 2zM172 595l6-2-6-1-7 2zM152 599l6-1-6-1-7 1zM165 599l7-2-7-1-7 2zM343 571l6 0 7 0-7-3-6 0-7 0zM389 575l7-2-7-1-7 1zM343 576l6-1-6-2-7 1zM402 574l7-2-7-1-6 2zM422 575l6-2-6-1-7 2zM369 581l7-1-7-1-6 1zM396 583l6 0 7-1 6 0-6-2-7 0-6 1-7 0z"/><path class=k d="M93 594l6-1-6-1-7 0zM165 592l7-3-7 0-7 3zM132 599l7-2-7 0-7 1zM158 598l7-2 7-1-7-1-7 1-6 2zM369 574l7 0-7-3-6 1zM343 573l6 0-6-2-7 0zM349 577l7-1-7-1-6 1zM409 574l6-2-6 0-7 2zM356 578l7-1-7-1-7 1zM415 574l7-2-7 0-6 2zM363 580l6-1-6-2-7 1zM415 579l7-1-7-1-6 1zM382 582l7-1-7-2-6 1z"/><path class=l d="M119 594l6-1-6-1-7 1zM99 595l7 0-7-2-6 1zM139 593l6-2-6 0-7 3zM125 598l7-1-7-1-6 2zM165 594l7-2-7 0-7 1zM145 598l7-1-7-1-6 1zM363 574l6 0-6-2-7-1zM382 575l7 0-7-2-6 1zM396 575l6-1-6-1-7 2zM415 577l7-2-7-1-6 2zM376 580l6-1-6-1-7 1zM409 580l6-1-6-1-7 0zM389 581l7 0-7-2-7 0z"/><path class=m d="M106 593l6 0-6-2-7-1zM93 592l6 0-6-2-7 0zM106 596l6-1-6 0-7 0zM145 593l7-2-7 0-6 2zM112 597l7-1-7-1-6 1zM119 598l6-2-6 0-7 1zM158 592l7-3-7 1-6 2zM139 597l6-1-6 0-7 1zM152 597l6-2 7-1-7-1-6 2-7 1zM349 573l7 0 7 1-7-3-7 0-6 0zM349 575l7 0-7-2-6 0zM409 576l6-2-6 0-7 2zM396 581l6-1 7 0-7-2-6 1-7 0z"/><path class=n d="M99 592l7 1-7-3-6 0zM99 593l7 1 6 0 7 0-7-1-6 0-7-1-6 0zM106 595l6 0 7 0 6 0 7-1-7-1-6 1-7 0-6 0-7-1zM112 595l7 0 6 0 7 0 7-2-7 1-7 1-6 0-7 0-6 0zM119 596l6-1 7 0 7-1 6-1-6 0-7 2-7 0-6 0-7 0zM125 596l7 0 7-1 6-1 7-2 6-2-6 1-7 2-6 1-7 1-7 0-6 1zM132 597l7-1 6-1 7-1 6-2-6 0-7 2-6 1-7 1-7 0zM145 596l7-1 6-2 7-1-7 0-6 2-7 1-6 1zM356 575l7 0 6 0 7 0 6 0-6-1-7 0-6 0-7-1-7 0zM356 576l7 0 6 0 7 0 6 0 7 0 7-1-7 0-7 0-6 0-7 0-6 0-7 0-7 0zM363 577l6 0 7 0 6 0 7 0 7 0 6-1 7-2-7 0-6 1-7 1-7 0-6 0-7 0-6 0-7 0zM369 579l7-1 6 0 7 0 7-1 6 0 7-1-7 0-6 1-7 0-7 0-6 0-7 0-6 0zM382 579l7 0 7 0 6-1 7 0 6-1-6-1-7 1-6 0-7 1-7 0-6 0z"/><path d="M73 592l6 2 7 2 7 1 6 1 7 1 6 1 7 1 6 0 7 1 7 1 6 2 7 1 6 2 7 2 7 2 6 3 7 3 6 3 7 3 7 4 6 4 7 4 6 5 7 4 6 4 7 4 7 3 6 3 7-2 6-2 7-2 7-1 6-2 7-2 6-4 7-4 6-4 7-6 7-6 6-7 7-6 6-6 7-6 7-5 6-4 7-3 6-2 7-1 7-1 6 0 7-1 6 0 7-1 6-1 7-2 7-2" fill="none" stroke="#a040e0" stroke-width="2.2"/>
<g fill="none" stroke-width="1.8"><path d="M496 663l185 71 184-71-184-72z" stroke="#c4c4c4" stroke-width="2"/><path d="M681 734V524" stroke="#c4c4c4" stroke-width="2"/><path d="M808 641l-5 1-6 1-10 0-6-1-2-3 4-5 4-2" stroke="#eedc5a"/><path d="M816 644l-4 2-6 1-3 1-10 1-9 0-10-1-4-1-3-1-3-1-1-3 0-4 3-3 3-2 4-2 3-2 2 0" stroke="#6c9fe0"/><path d="M823 646l-5 2-6 1-5 2-6 1-8 1-5 0-10 1-8-1-5 0-8-2-4-2-3-2-1-3 1-4 2-3 3-3 3-2 4-2 4-2 4-2M660 683l-5 1-11 0-9 1-9-1-9 0-3-1-6-2-1-4 3-2 5-2 6-1 7-1 4 0 6 0 10 1 7 1 6 1 5 2 4 2-4 4-6 1" stroke="#f08576"/><path d="M828 648l-5 2-5 2-6 1-6 1-4 1-9 1-5 1-10 1-9 0-10 0-8-1-5-1-6-2-3-1-3-4 1-5 1-3 2-2 3-3 3-2 4-3 3-2 4-2 4-2 5-2M563 689l4-2 3-3 3-2 3-3 2-3 3-5 1-3 2-3 4-3 6-1 8 0 9 0 8 1 4 0 4 0 6 0 11 1 8 0 3 1 5 0 6 0 9 1 4 1 9 1 6 2 4 1 4 3 3 2 2 3 1 3 1 3 1 3 1 4-2 4-9 0-8-1-5 0-10-1-7-1-6 0-10 0-9 0-9 0-8 0-6 1-9 1-7 0-7 2-6 1-5 2" stroke="#a8a8a8"/><path d="M730 715l-5-1-5-2-4-2-5-2-4-2-5-1-5-2-6-1-5-2-6-1-7-1-4 0-3-1-8 0-9 0-10 0-8 0-3 1-4 0-7 1-4 1-8 2-4 1M833 650l-5 2-5 1-6 2-5 1-6 2-6 1-7 1-4 0-3 1-8 0-7 1-6 0-10 1-8 1-6 1-6 1-4 2-3 2-1 3-1 4 1 4 1 3 1 3 2 2 3 3 3 3 3 2 3 2 4 2 5 2 4 2M548 683l4-2 4-2 2-3 2-2 1-4-1-3-2-3-2-3-4-2-3-2-4-2-5-2-4-2-5-2M558 639l4 2 5 2 5 1 4 2 5 2 6 1 5 2 5 1 7 1 7 1 7 1 7 1 8 0 4 1 4 0 7 0 10 0 9 1 9 0 9-1 8 0 5-1 8-1 4-2 3-3 3-2 3-3 2-2 3-3 3-2 3-3 3-2 4-2 3-2 4-2 5-2 4-2 4-2" stroke="#d08be8"/><path d="M723 718l-5-2-5-1-4-2-5-2-4-2-6-1-5-2-5-1-6-2-6-1-8-1-5 0-10 0-9 0-7 0-7 1-6 1-6 2-5 2M837 652l-4 2-5 1-5 2-6 1-6 2-6 1-6 1-6 1-4 1-10 1-4 1-9 1-7 1-5 2-5 1-3 2-3 3-1 3-1 3 1 4 2 2 2 3 3 3 3 2 4 2 4 2 5 2M535 678l4-2 3-2 2-4-1-3-2-3-3-3-4-2-4-2-4-2-5-2M566 636l4 2 5 1 5 2 5 2 5 1 6 2 5 1 5 1 8 1 7 1 7 1 5 0 10 1 10 0 9 0 8-1 4 0 10-1 6-2 5-1 5-2 4-2 4-2 4-2 3-2 4-2 3-2 4-3 4-2 3-2 5-2 4-2 4-2 5-2" stroke="#6fcfb0"/><path d="M717 720l-4-2-5-1-5-2-5-2-5-1-5-2-5-1-6-2-6-1-7-1-4 0-4 0-6-1-9 1-5 0-9 1-5 2-5 1M843 654l-5 2-5 1-5 2-5 2-6 1-6 1-6 2-6 1-6 1-5 1-8 1-6 1-5 2-4 1-5 2-4 3-2 3 1 7 2 2 3 3 3 2 5 2 4 2M521 672l4-2 1-3-3-4-3-2-4-2-4-2M572 633l5 2 4 2 5 2 6 1 5 2 6 1 6 1 7 1 7 1 7 1 8 0 9 0 11 0 8-1 4 0 9-2 5-1 5-2 5-2 4-2 4-2 4-2 4-2 4-2 4-2 4-2 4-2 4-2 4-2 5-2 4-2" stroke="#72b8ec"/><path d="M712 722l-4-2-5-1-5-2-5-2-5-1-5-2-6-1-3-1-10-1-4-1-4 0-6 0-8 0-7 1-6 2-5 1M848 656l-4 2-5 2-5 1-5 2-3 1-8 2-6 1-6 2-4 0-8 2-6 1-5 2-5 1-5 2-3 2-3 3 0 4 2 3 3 3 4 2 4 2M578 631l4 2 5 2 6 1 4 1 7 2 6 1 6 1 8 1 4 0 4 1 6 0 9 0 3-1 5 0 7-1 7-1 5-1 6-2 5-1 4-2 4-2 4-2 4-2 4-2 4-2 4-2 4-2 4-2 4-2 5-2 4-2" stroke="#f0ac62"/><path d="M708 724l-5-2-5-2-5-1-5-2-5-1-6-2-4 0-9-2-4 0-4 0-6 0-4 0-4 0-6 2-5 1M857 659l-5 2-5 2-5 1-5 2-5 2-6 1-5 2-6 1-6 1-6 2-5 1-5 2-5 1-3 3-3 2 1 3 3 3 4 2M583 629l5 2 5 1 6 2 5 1 7 1 3 1 11 1 8 0 4 0 6 0 9-1 7-1 6-1 5-1 5-2 5-2 4-2 4-2 3-2 4-2 4-2 3-3 4-2 3-2 4-2 3-1 6-3" stroke="#eedc5a"/><path d="M703 726l-5-2-5-2-5-1-5-2-6-1-4-1-9-1-4 0-5 0-4 0-7 1-3 1-2 0M590 627l4 1 6 2 5 1 6 1 7 1 7 1 9 0 8-1 6 0 7-2 5-1 5-2 4-2 4-2 3-2 3-3 3-2 2-3 2-3 2-3 2-2 2-3 3-3 4-1 0-1" stroke="#6c9fe0"/><path d="M697 728l-4-2-5-1-6-2-6-1-6-1-8-1-8 1-5 1 0 0M597 624l5 1 4 2 8 1 7 1 9 0 8-1 6-1 5-2 4-2 3-2 3-3 1-3-1-3-2-4-3-2-5-2" stroke="#f08576"/><path d="M690 731l-5-2-6-1-6-1-4-1-6 1-1 0M609 619l6 1 4 1 4 0 4-1 5-1 1-3-5-4" stroke="#a8a8a8"/></g>
<path d="M496 524V663" stroke="#c8c8c8" stroke-width="1.2"/>
<path d="M496 568l7-2 7-1 6 0 7 0 6 0 7-1 6-2 7-2 7-4 6-6 7-6 6-6 7-7 7-7 6-6 7-5 6-4 7-3 7-3 6-2 7-1 6-2 7-1 6-2 7-1 7-2 6-2 7-3 6 3 7 3 7 3 6 3 7 4 6 4 7 4 6 5 7 5 7 5 6 6 7 6 6 7 7 6 7 6 6 5 7 4 6 3 7 1 7 1 6-1 7-2 6-3 7-2 6-2 7-1 7 0 6 2" fill="none" stroke="#a040e0" stroke-width="2.6"/><path class=b d="M569 553l6-6 7-7 7-6 6-7 7-6-7-3-6 6-7 7-7 7-6 6-7 6zM575 556l7-6 7-7 6-6 7-7 6-6 7-5-7-3-6 5-7 6-6 7-7 6-7 7-6 6zM582 558l7-5 6-7 7-6 6-6 7-6 7-5 6-4-6-4-7 4-7 5-6 6-7 7-6 6-7 7-7 6zM589 561l6-5 7-6 6-6 7-6 7-6 6-5 7-4-7-4-6 4-7 5-7 6-6 6-7 6-6 7-7 5zM595 564l7-5 6-5 7-6 7-6 6-5 7-5 6-4-6-5-7 4-6 5-7 6-7 6-6 6-7 6-6 5zM602 568l6-5 7-6 7-5 6-6 7-5 6-4 7-4 6-4-6-5-7 4-6 4-7 5-6 5-7 6-7 6-6 5-7 5zM608 571l7-5 7-5 6-5 7-5 6-5 7-4 6-4 7-4-7-5-6 4-7 4-6 4-7 5-6 6-7 5-7 6-6 5zM615 575l7-5 6-5 7-5 6-4 7-5 6-4 7-4 7-4-7-5-7 4-6 4-7 4-6 5-7 5-6 5-7 5-7 5zM622 578l6-4 7-5 6-4 7-5 6-4 7-4 7-4 6-4-6-5-7 4-7 4-6 4-7 5-6 4-7 5-6 5-7 5zM628 582l7-4 6-5 7-4 6-4 7-5 7-4 6-3 7-4-7-5-6 4-7 4-7 4-6 4-7 5-6 4-7 5-6 4zM747 535l6-3-6-6-7 3zM641 582l7-5 6-4 7-4 7-4 6-4 7-4-7-4-6 3-7 4-7 5-6 4-7 4-6 5zM753 541l7-3-7-6-6 3zM654 581l7-4 7-4 6-4 7-4-7-4-6 4-7 4-7 4-6 4zM760 547l6-2-6-7-7 3zM766 553l7-2-7-6-6 2z"/><path class=c d="M602 521l6-5 7-4-7-3-6 4-7 5zM556 562l6-4 7-5-7-3-6 6-7 4zM615 519l7-4 6-3-6-4-7 4-7 4zM562 565l7-4 6-5-6-3-7 5-6 4zM628 519l7-3 6-3-6-4-7 3-6 3zM569 567l6-4 7-5-7-2-6 5-7 4zM635 523l6-3 7-3-7-4-6 3-7 3zM575 570l7-4 7-5-7-3-7 5-6 4zM641 528l7-4 6-2 7-3-7-4-6 2-7 3-6 3zM582 573l7-4 6-5-6-3-7 5-7 4zM654 529l7-3 7-2 6-2-6-5-7 2-7 3-6 2zM589 576l6-4 7-4-7-4-6 5-7 4zM536 590l6-2-6-5-7 2zM661 534l7-3 6-2 7-3 6-2 7-2 7-2 6-2 7-2 6-3 7-2-7-4-6 2-7 2-6 3-7 2-7 2-6 2-7 2-6 2-7 2-7 3zM595 579l7-4 6-4-6-3-7 4-6 4zM542 594l7-2-7-4-6 2zM668 539l6-3 7-2 6-3 7-2 7-2 6-2 7-2 6-3 7-2 6-2-6-5-7 2-6 3-7 2-6 2-7 2-7 2-6 2-7 3-6 2-7 3zM602 582l6-3 7-4-7-4-6 4-7 4zM549 599l7-3-7-4-7 2zM674 544l7-3 6-2 7-3 7-2 6-2 7-2 6-2 7-2 6-3 7-2-7-5-6 2-7 2-6 3-7 2-6 2-7 2-7 2-6 3-7 2-6 3zM602 589l6-3 7-4 7-4-7-3-7 4-6 3-7 3zM556 603l6-2-6-5-7 3zM681 549l6-2 7-3 7-2 6-2 7-3 6-2 7-2 6-2 7-2 7-3-7-5-7 2-6 3-7 2-6 2-7 2-6 2-7 2-7 3-6 2-7 3zM608 592l7-3 7-3 6-4-6-4-7 4-7 4-6 3zM681 557l6-3 7-2 7-3 6-2 7-2 6-2 7-2 6-2 7-2 7-2-7-6-7 2-6 2-7 2-6 2-7 3-6 2-7 2-7 3-6 2-7 4zM622 593l6-4 7-3 6-4-6-4-7 4-6 4-7 3zM681 565l6-3 7-3 7-3 6-2 7-2 6-2 7-1 6-2 7-2 7-2 6-2-6-6-7 2-7 2-6 2-7 2-6 2-7 2-6 2-7 3-7 2-6 3-7 4zM628 596l7-3 6-4 7-4 6-4-6-4-7 5-6 4-7 3-6 4zM641 596l7-3 6-4 7-4 7-4 6-4 7-4 6-4 7-3 7-3 6-2 7-2 6-2 7-1 6-2 7-1 7-2 6-2 7-2-7-6-6 2-7 2-7 2-6 2-7 1-6 2-7 2-6 2-7 3-7 3-6 3-7 4-6 4-7 4-7 4-6 4-7 4-6 4zM740 559l7-1 6-1 7-2 6-2-6-6-7 2-6 2-7 2-7 1zM654 596l7-4 7-4 6-4 7-4 6-3 7-4 7-3 6-3 7-2-7-4-6 2-7 3-7 3-6 4-7 4-6 4-7 4-7 4-6 4zM760 562l6-1 7-2 7-2-7-6-7 2-6 2-7 2zM668 595l6-4 7-4 6-3 7-4 7-3 6-3-6-4-7 3-7 4-6 3-7 4-6 4-7 4zM773 566l7-2 6-2-6-5-7 2-7 2zM681 594l6-4 7-3 7-4-7-3-7 4-6 3-7 4zM740 611l7-5-7-2-7 5zM740 618l7-5 6-6 7-5 6-6-6-1-7 5-6 6-7 5-7 4zM747 620l6-5 7-6 6-5 7-6 7-5-7-2-7 5-6 6-7 5-6 6-7 5zM747 627l6-5 7-5 6-5 7-6 7-6 6-5 7-4-7-3-6 5-7 5-7 6-6 5-7 6-6 5-7 4z"/><path class=d d="M615 512l7-4 6-2-6-3-7 3-7 3zM628 512l7-3-7-3-6 2zM694 498l7-2-7-3-7 2zM641 513l7-2-7-4-6 2zM516 577l7-2-7-3-6 2zM687 506l7-2 7-2 6-3-6-3-7 2-7 2-6 2zM648 517l6-2 7-2 7-2-7-4-7 2-6 2-7 2zM569 573l6-3-6-3-7 3zM523 581l6-2-6-4-7 2zM661 519l7-2 6-2 7-2 6-1 7-2 7-3 6-2 7-2-7-4-6 3-7 2-7 2-6 2-7 2-6 1-7 2-7 2zM575 576l7-3-7-3-6 3zM529 585l7-2 6-1-6-4-7 1-6 2zM674 522l7-2 6-2 7-2 7-2 6-3 7-2 6-2-6-4-7 2-6 2-7 3-7 2-6 1-7 2-6 2zM582 579l7-3-7-3-7 3zM542 588l7-2-7-4-6 1zM582 584l7-2 6-3-6-3-7 3-7 2zM549 592l7-2 6-1-6-4-7 1-7 2zM582 589l7-1 6-3 7-3-7-3-6 3-7 2-7 2zM556 596l6-2 7-1 6-2-6-4-7 2-6 1-7 2zM562 601l7-2 6-2 7-2 7-2 6-2 7-2-7-4-6 3-7 1-7 2-6 2-7 1-6 2zM562 607l7-2 6-2 7-2 7-2 6-2 7-2 6-3-6-3-7 2-6 2-7 2-7 2-6 2-7 2-6 2zM602 600l6-2 7-2 7-3-7-4-7 3-6 3-7 2zM569 611l6-3 7-2 7-2-7-3-7 2-6 2-7 2zM615 601l7-2 6-3-6-3-7 3-7 2zM575 614l7-3-7-3-6 3zM628 602l7-3 6-3-6-3-7 3-6 3zM714 565l6-2 7-1 6-1 7-2-7-5-6 2-7 1-6 2-7 2zM641 602l7-3 6-3-6-3-7 3-6 3zM707 574l7-3 6-2 7-2 6-1 7-1 7-1 6-1 7-1-7-5-6 1-7 1-7 2-6 1-7 1-6 2-7 2-6 3zM654 601l7-3 7-3-7-3-7 4-6 3zM760 568l6-1 7-1-7-5-6 1-7 1zM701 583l6-3 7-3 6-3-6-3-7 3-6 3-7 3zM668 601l6-3 7-4-7-3-6 4-7 3zM780 570l6-2 7-2-7-4-6 2-7 2zM674 603l7-3 6-3 7-4 7-4 6-4 7-3 6-3-6-2-7 3-6 3-7 4-7 3-6 4-7 4-6 3zM687 602l7-3 7-4 6-4 7-3 6-4-6-2-7 3-6 4-7 4-7 4-6 3zM701 601l6-4 7-4 6-4-6-1-7 3-6 4-7 4zM707 602l7-3 6-4-6-2-7 4-6 4zM714 604l6-4-6-1-7 3zM720 606l7-5 6-4-6-1-7 4-6 4zM720 611l7-4 6-4 7-5-7-1-6 4-7 5-6 3zM720 617l7-4 6-4 7-5 7-5 6-5-6-1-7 5-7 5-6 4-7 4-6 4zM747 606l6-6 7-5-7-1-6 5-7 5zM727 619l6-4 7-4-7-2-6 4-7 4zM766 596l7-5-7-1-6 5zM733 622l7-4-7-3-6 4zM780 593l6-5-6-1-7 4zM740 624l7-4-7-2-7 4zM793 591l6-4 7-4-7-2-6 4-7 3z"/><path class=e d="M674 494l7-2 6-2-6-3-7 3-6 2zM628 506l7-2-7-3-6 2zM549 565l7-3-7-2-7 2zM503 571l7-2-7-3-7 2zM668 501l6-2 7-2 6-2 7-2-7-3-6 2-7 2-6 2-7 2zM635 509l6-2 7-2-7-3-6 2-7 2zM556 567l6-2-6-3-7 3zM510 574l6-2-6-3-7 2zM648 511l6-2 7-2 7-1 6-2 7-2 6-2 7-2-7-3-6 2-7 2-6 2-7 2-7 1-6 1-7 2zM562 570l7-3-7-2-6 2zM668 511l6-1 7-2 6-2-6-4-7 2-6 2-7 1zM529 579l7-1-7-4-6 1zM569 578l6-2-6-3-7 2zM542 582l7-1-7-4-6 1zM569 582l6-1 7-2-7-3-6 2-7 1zM549 586l7-1 6-2-6-3-7 1-7 1zM562 589l7-2 6-1 7-2-7-3-6 1-7 1-6 2zM575 591l7-2-7-3-6 1zM589 604l6-2 7-2-7-3-6 2-7 2zM582 611l7-2 6-2 7-2 6-2 7-2-7-3-6 2-7 2-6 2-7 2-7 2zM615 606l7-2 6-2-6-3-7 2-7 2zM582 616l7-3-7-2-7 3zM635 604l6-2-6-3-7 3zM648 604l6-3-6-2-7 3zM747 569l6-1 7 0-7-5-6 1-7 1zM720 574l7-2 6-1-6-4-7 2-6 2zM661 604l7-3-7-3-7 3zM773 571l7-1-7-4-7 1zM720 579l7-2-7-3-6 3zM668 606l6-3-6-2-7 3zM793 571l6-2-6-3-7 2zM720 584l7-3-7-2-6 3zM681 605l6-3-6-2-7 3zM720 589l7-3-7-2-6 4zM687 607l7-3 7-3-7-2-7 3-6 3zM720 595l7-4 6-4-6-1-7 3-6 4zM694 609l7-3 6-4-6-1-7 3-7 3zM720 600l7-4 6-4-6-1-7 4-6 4zM701 611l6-3 7-4-7-2-6 4-7 3zM733 597l7-5-7 0-6 4zM707 613l7-4 6-3-6-2-7 4-6 3zM740 598l7-5 6-4-6-1-7 4-7 5zM714 615l6-4-6-2-7 4zM753 594l7-5-7 0-6 4zM760 595l6-5-6-1-7 5zM720 622l7-3-7-2-6 2zM773 591l7-4-7-1-7 4zM727 624l6-2-6-3-7 3zM786 588l7-3-7-2-6 4zM733 627l7-3-7-2-6 2zM806 583l7-2-7-2-7 2zM740 629l7-2-7-3-7 3z"/><path class=f d="M654 500l7-2 7-2 6-2-6-2-7 2-7 1-6 2zM635 504l6-2 7-1-7-3-6 2-7 1zM542 567l7-2-7-3-6 2zM648 505l6-1 7-1 7-2-7-3-7 2-6 1-7 1zM549 569l7-2-7-2-7 2zM516 572l7-1-7-3-6 1zM556 572l6-2-6-3-7 2zM523 575l6-1-6-3-7 1zM562 575l7-2-7-3-6 2zM536 578l6-1-6-4-7 1zM562 579l7-1-7-3-6 1zM549 581l7-1-7-4-7 1zM562 583l7-1-7-3-6 1zM589 613l6-2 7-2 6-1 7-2-7-3-6 2-7 2-6 2-7 2zM628 606l7-2-7-2-6 2zM641 606l7-2-7-2-6 2zM733 571l7-1 7-1-7-4-7 1-6 1zM654 606l7-2-7-3-6 3zM766 571l7 0-7-4-6 1zM727 577l6-2 7-1-7-3-6 1-7 2zM786 572l7-1-7-3-6 2zM727 581l6-2-6-2-7 2zM674 607l7-2-7-2-6 3zM727 586l6-3-6-2-7 3zM681 609l6-2-6-2-7 2zM733 587l7-3-7-1-6 3zM733 592l7-4-7-1-6 4zM740 592l7-4-7 0-7 4zM701 615l6-2-6-2-7 2zM707 617l7-2-7-2-6 2zM760 589l6-4-6 0-7 4zM714 619l6-2-6-2-7 2zM766 590l7-4-7-1-6 4zM780 587l6-4-6-1-7 4zM793 585l6-4-6-1-7 3zM813 581l6-3 7-2 6-2 7-2 6-3 7-2 7-3 6-2-6-2-7 3-7 2-6 2-7 3-6 2-7 2-6 2-7 3z"/><path class=g d="M648 501l6-1-6-3-7 1zM510 569l6-1-6-3-7 1zM529 574l7-1-7-3-6 1zM556 576l6-1-6-3-7 1zM542 577l7-1-7-3-6 0zM556 580l6-1-6-3-7 0zM615 610l7-2 6-2-6-2-7 2-7 2zM589 617l6-2 7-2-7-2-6 2-7 3zM635 608l6-2-6-2-7 2zM648 608l6-2-6-2-7 2zM740 574l7-1 6-1 7 0 6-1-6-3-7 0-6 1-7 1-7 1zM661 608l7-2-7-2-7 2zM780 573l6-1-6-2-7 1zM733 579l7-2-7-2-6 2zM799 573l7-3-7-1-6 2zM733 583l7-3-7-1-6 2zM687 611l7-2-7-2-6 2zM740 588l7-4-7 0-7 3zM694 613l7-2-7-2-7 2zM747 588l6-3-6-1-7 4zM753 589l7-4-7 0-6 3zM773 586l7-4-7 0-7 3zM714 623l6-1-6-3-7 1zM786 583l7-3-7-1-6 3zM720 625l7-1-7-2-6 1zM799 581l7-2-7-2-6 3zM727 628l6-1-6-3-7 1zM733 631l7-2-7-2-6 1zM681 622l6-2-6-2-7 2z"/><path class=h d="M542 570l7-1-7-2-6 0zM523 571l6-1-6-3-7 1zM549 573l7-1-7-3-7 1zM536 573l6 0-6-3-7 0zM549 576l7 0-7-3-7 0zM602 613l6-2 7-1-7-2-6 1-7 2zM628 609l7-1-7-2-6 2zM595 618l7-2-7-1-6 2zM654 609l7-1-7-2-6 2zM773 574l7-1-7-2-7 0zM740 577l7-1-7-2-7 1zM668 609l6-2-6-1-7 2zM740 580l7-2-7-1-7 2zM674 611l7-2-7-2-6 2zM740 584l7-3-7-1-7 3zM747 584l6-2-6-1-7 3zM701 618l6-1-6-2-7 1zM766 585l7-3-7 0-6 3zM707 620l7-1-7-2-6 1zM806 579l7-3-7-1-7 2zM674 620l7-2-7-2-6 2z"/><path class=i d="M536 567l6 0-6-3-7 1zM516 568l7-1-7-2-6 0zM529 570l7 0 6 0-6-3-7 0-6 0zM542 573l7 0-7-3-6 0zM622 611l6-2-6-1-7 2zM602 616l6-2-6-1-7 2zM641 609l7-1-7-2-6 2zM766 574l7 0-7-3-6 1zM747 576l6-1-6-2-7 1zM793 574l6-1-6-2-7 1zM681 612l6-1-6-2-7 2zM687 614l7-1-7-2-6 1zM753 585l7-3-7 0-6 2zM694 616l7-1-7-2-7 1zM760 585l6-3-6 0-7 3zM826 567l6-2-6 3-7 2zM780 582l6-3-6 0-7 3zM793 580l6-3-6 0-7 2zM668 618l6-2-6-1-7 1zM813 576l6-2 7-2-7-1-6 2-7 2z"/><path class=j d="M523 567l6 0 7 0-7-2-6 0-7 0zM608 614l7-2 7-1-7-1-7 1-6 2zM635 610l6-1-6-1-7 1zM602 618l6-2-6 0-7 2zM648 610l6-1-6-1-7 1zM753 575l7 0 6-1-6-2-7 0-6 1zM661 610l7-1-7-1-7 1zM747 578l6-1-6-1-7 1zM747 581l6-2-6-1-7 2zM773 582l7-3-7 0-7 3zM661 616l7-1-7-1-7 1zM826 572l6-2 7-3 6-2 7-2 7-3-7 0-7 2-6 3-7 2-6 2-7 2z"/><path class=k d="M786 575l7-1-7-2-6 1zM668 612l6-1-6-2-7 1zM806 573l7-2-7-1-7 3zM753 582l7-2-7-1-6 2zM760 582l6-2-6 0-7 2zM766 582l7-3-7 1-6 2zM674 614l7 2-7-2-6-1zM701 620l6 0-6-2-7 0zM681 616l6 2-6-2-7-2zM654 615l7-1-7-1-6 2zM786 579l7-2-7 0-6 2zM707 623l7 0-7-3-6 0zM799 577l7-2-7 0-6 2zM714 625l6 0-6-2-7 0zM694 619l7 3-7-2-7-3zM720 628l7 0-7-3-6 0zM701 622l6 2-6-2-7-3zM727 630l6 1-6-3-7 0zM687 620l7 0-7-2-6 0z"/><path class=l d="M608 616l7-2 7-1 6-1 7-2-7-1-6 2-7 1-7 2-6 2zM608 618l7-2-7 0-6 2zM654 611l7-1-7-1-6 1zM780 576l6-1-6-2-7 1zM753 577l7-1-7-1-6 1zM753 579l7-1-7-1-6 1zM674 613l7-1-7-1-6 1zM681 614l6 0-6-2-7 1zM687 616l7 0-7-2-6 0zM668 613l6 1-6-1-7 0zM694 618l7 0-7-2-7 0zM648 615l6-2-6 0-7 2zM687 617l7 2-7-2-6-1zM707 624l7 3-7-3-6-2z"/><path class=m d="M641 611l7-1-7-1-6 1zM773 576l7 0-7-2-7 0zM760 576l6 0-6-1-7 0zM799 574l7-1-7 0-6 1zM813 572l6-2-6 2-7 2zM826 568l6-3-6 3-7 2zM832 565l7-2-7 2-6 3zM780 579l6-2-6 0-7 2zM681 618l6 0-6-2-7 0z"/><path class=n d="M615 616l7-2 6-1 7-1 6-1-6-1-7 2-6 1-7 1-7 2zM615 617l7-2 6-1 7-1 6-1 7 0 6-1-6-1-7 1-6 1-7 1-6 1-7 2-7 2zM766 576l7 0-7-2-6 1zM622 617l6-2 7-2 6-1 7 0 6 0 7 0 7 0-7-2-7 1-6 1-7 0-6 1-7 1-6 1-7 2zM760 578l6-1 7 0 7-1 6 0 7-1 6-1-6 0-7 1-6 1-7 0-7 0-6 0-7 1zM628 616l7-2 6-1 7-1 6 0 7 1 7 0 6 0-6-1-7 0-7 0-6 0-7 0-6 1-7 2-6 2zM793 575l6 0 7-1 7-2 6-2-6 1-7 2-7 1-6 1-7 1zM786 576l7-1-7 1-6 0zM760 580l6-2 7-1 7-1 6 0-6 0-7 1-7 0-6 1-7 1zM661 613l7 0 6 1 7 0-7-1-6 0-7 0-7-1zM635 615l6-2 7-1 6 0-6 0-7 1-6 1-7 2zM819 570l7-2-7 2-6 2zM766 580l7-2 7-1 6-1-6 0-7 1-7 1-6 2zM674 614l7 1 6 1-6-2-7 0-6-1zM641 615l7-2 6-1 7 0-7 0-6 0-7 1-6 2zM681 616l6 1 7 1-7-2-6-1-7-1zM687 618l7 1 7 1-7-2-7-1-6-1zM694 620l7 2 6 1-6-3-7-1-7-1zM701 622l6 2 7 1-7-2-6-1-7-2zM707 624l7 3 6 1-6-3-7-1-6-2zM714 627l6 2 7 1-7-2-6-1-7-3z"/><path class=f d="M799 574l7-1-7 2-6 0zM799 574l7-1 7-2 6-1-6 2-7 1-7 1-6 1z"/><path class=g d="M793 575l6-1-6 1-7 1z"/><path class=h d="M806 573l7-1-7 2-7 1zM819 570l7-2-7 2-6 2zM813 571l6-2 7-2-7 3-6 1-7 2z"/><path class=i d="M786 576l7-1-7 1-6 0zM793 575l6-1-6 1-7 1z"/><path class=j d="M661 612l7 1-7 0-7-1zM668 613l6 1-6-1-7-1zM806 572l7-1-7 2-7 1zM674 614l7 2-7-2-6-1z"/><path class=k d="M654 612l7 1-7-1-6 0zM681 616l6 1 7 3-7-2-6-2-7-2z"/><path class=n d="M694 620l7 2 6 2-6-2-7-3-7-1z"/><path class=l d="M806 575l7-2-7 0-7 2z"/><path class=m d="M813 573l6-2-6 0-7 2z"/><path class=n d="M773 579l7-2 6-1 7-1-7 1-6 1-7 1-7 2zM654 613l7 0 7 0-7-1-7 0-6 1zM786 577l7-2 6-1 7-2-7 2-6 1-7 1-6 1zM661 614l7-1 6 1-6-1-7 0-7 0zM793 577l6-2 7-2 7-2 6-1 7-2 6-2 7-3 6-2-6 2-7 2-6 2-7 2-6 2-7 1-7 2-6 1-7 2zM668 615l6-1 7 2-7-2-6-1-7 1zM819 571l7-2 6-2 7-2 6-3 7-2-7 1-6 2-7 3-6 2-7 2-6 1zM674 616l7 0 6 1-6-1-7-2-6 1zM687 618l7 1 7 3-7-3-7-2-6-1z"/><path d="M496 568l7 3 7 3 6 3 7 4 6 4 7 5 6 4 7 5 7 4 6 4 7 4 6 3 7 2 7 1 6 1 7 0 6 0 7-1 7 0 6-1 7-1 6 0 7 0 6 0 7 1 7 2 6 2 7 2 6-2 7 0 7 2 6 2 7 3 6 2 7 1 6 1 7-2 7-2 6-5 7-5 6-5 7-6 7-6 6-5 7-4 6-4 7-4 7-2 6-3 7-2 6-2 7-2 6-3 7-2 7-3 6-2" fill="none" stroke="#a040e0" stroke-width="2.2"/>
<g fill="none" stroke-width="1.8"><path d="M918 663l184 71 185-71-185-72z" stroke="#c4c4c4" stroke-width="2"/><path d="M1102 734V524" stroke="#c4c4c4" stroke-width="2"/><path d="M1056 609l4 2 3 3 2 2-1 3-4 2-6 2-6 0-7-1-6-1-5-2" stroke="#f0ac62"/><path d="M1072 603l5 2 4 2 3 2 4 2 2 3 2 2 1 4-1 3-2 3-3 2-4 2-5 2-6 1-6 1-10 0-8 0-3-1-4 0-6-1-6-2-5-1-5-2-5-1" stroke="#eedc5a"/><path d="M1088 597l5 2 4 1 4 2 4 2 4 3 3 2 2 3 2 2 1 4-1 4-1 3-2 3-2 2-3 3-3 2-4 2-4 2-5 2-6 1-7 1-7 1-4 0-5 0-4 0-6 0-9-1-5-1-8-2-5-1-6-2-5-1-5-2-4-2-5-1" stroke="#6c9fe0"/><path d="M1217 690l-4-2-3-3 1-5 4-2 4-2 6-1 5-1 10 0 8 0 5 2M1155 611l-4 2-4 3-2 2-3 3-2 3-1 3-2 3-2 2-2 3-2 3-2 3-3 2-3 3-5 2-4 1-6 2-4 1-9 1-6 1-9 0-8 1-4 0-5 0-5 0-4 0-4 0-7-1-8-1-6-1-6-1-5-2-5-2-5-1-4-2-5-2-4-2-5-2-4-1" stroke="#f08576"/><path d="M1174 707l-4-3-3-2-2-3-1-3-2-3-1-3-1-3-1-3 0-4-2-3-1-3-2-3-3-2-5-2-7-1-8 0-8 0-4 0-5 0-4 0-6 0-10 0-10 0-8 1-8 0-5 1-11 0-7 1-7 1-7 1-5 1-6 2-5 1-5 2-4 2-5 2-4 2-5 2-4 1-5 2M1176 620l-5 2-3 2-3 2-3 3-2 3-1 3-1 3 0 7 1 4 1 4 3 4 3 2 3 1 3 1 8 0 9 1 9-1 10 0 8-1 4 0 4 0 7-1 8-1 5 0 8-1 6-2 5-1" stroke="#a8a8a8"/><path d="M1087 729l5-2 3-2 3-3 3-2 3-3 2-3 2-3 1-3 2-2 1-4 0-4-2-6-2-3-3-2-5-2-5-1-6-1-8-1-10 0-9 1-7 1-7 1-4 0-8 2-5 2-6 1-5 2-5 1-5 2-4 2M1197 628l-4 2-3 2-2 3 1 4 3 3 4 2 6 2 6 1 9 0 9-1 4 0 7-3" stroke="#d08be8"/><path d="M1057 717l4-2 3-3 2-2-1-4-3-2-5-1-10-1-6 1-6 2-5 1" stroke="#6fcfb0"/></g>
<path d="M918 524V663" stroke="#c8c8c8" stroke-width="1.2"/>
<path d="M918 584l7-3 6-3 7-2 6-3 7-3 7-3 6-2 7-2 6-2 7-2 6-1 7-1 7-1 6 0 7-1 6-1 7-1 7-2 6-2 7-3 6-3 7-4 6-4 7-5 7-4 6-4 7-3 6-3 7 3 7 2 6 3 7 2 6 2 7 2 6 2 7 2 7 2 6 1 7 1 6 2 7 1 7 1 6 2 7 2 6 2 7 3 7 3 6 3 7 4 6 3 7 4 6 3 7 3 7 4 6 3 7 2" fill="none" stroke="#a040e0" stroke-width="2.6"/><path class=c d="M1069 541l7-4 7-4 6-4-6-3-7 4-7 5-6 4zM1083 539l6-4 7-4-7-2-6 4-7 4zM1201 572l7-3 6-3-6-3-7 3-6 3zM1201 579l7-3 6-4 7-3 7-3-7-3-7 3-6 3-7 3-6 4zM1208 582l6-3 7-3 7-3 6-3 7-3-7-4-6 3-7 3-7 3-6 4-7 3zM1208 589l6-3 7-4 7-3 6-3 7-3 6-3-6-3-7 3-6 3-7 3-7 3-6 3-7 3zM1221 589l7-3 6-3 7-3 6-3 7-3-7-4-6 3-7 3-6 3-7 3-7 4zM1228 592l6-3 7-3 6-3 7-3-7-3-6 3-7 3-6 3-7 3z"/><path class=d d="M1089 529l7-4 6-4 7-2-7-3-6 3-7 3-6 4zM1056 548l7-3 6-4-6-2-7 4-6 3zM944 578l7-3-7-2-6 3zM1096 531l6-4 7-3 7-3-7-2-7 2-6 4-7 4zM1063 550l6-3 7-4 7-4-7-2-7 4-6 4-7 3zM944 583l7-2 7-3-7-3-7 3-6 3zM1076 549l7-4 6-4 7-4 6-4 7-3 7-4-7-2-7 3-6 4-7 4-6 4-7 4-7 4zM951 586l7-3 6-2 7-3-7-3-6 3-7 3-7 2zM1089 547l7-4 6-4 7-3 7-4 6-3-6-3-7 4-7 3-6 4-7 4-6 4zM958 589l6-3 7-3-7-2-6 2-7 3zM1096 549l6-4 7-4 7-3 6-4 7-3-7-2-6 3-7 4-7 3-6 4-7 4zM1116 543l6-3-6-2-7 3zM1168 565l7-3 6-4-6-2-7 4-6 3zM1168 571l7-3 6-4 7-3 7-4 6-3-6-2-7 3-7 3-6 4-7 3-6 4zM1168 576l7-3 6-3 7-3 7-4 6-3 7-3 6-3-6-3-7 3-6 3-7 4-7 3-6 4-7 3-6 3zM1168 582l7-3 6-3 7-3 7-4 6-3 7-3 6-3 7-3 7-3-7-3-7 3-6 3-7 3-6 3-7 4-7 3-6 3-7 3-6 3zM1214 566l7-3 7-3 6-3-6-3-7 3-7 3-6 3zM1168 587l7-2 6-3 7-3 7-3 6-4-6-3-7 4-7 3-6 3-7 3-6 2zM1228 566l6-3 7-2-7-4-6 3-7 3zM1175 590l6-2 7-3 7-3 6-3-6-3-7 3-7 3-6 3-7 2zM1056 628l7-3-7-3-6 3zM1241 567l6-3-6-3-7 2zM1175 595l6-2 7-2 7-3 6-3 7-3-7-3-6 3-7 3-7 3-6 2-7 2zM1063 631l6-2 7-3 7-2-7-3-7 2-6 2-7 3zM1247 570l7-2-7-4-6 3zM1181 599l7-3 7-2 6-3 7-2-7-4-6 3-7 3-7 2-6 2zM1069 635l7-3 7-2 6-2 7-3-7-3-6 2-7 2-7 3-6 2zM1254 574l6-3-6-3-7 2zM1188 602l7-2 6-3 7-2 6-3 7-3-7-3-6 3-7 2-6 3-7 2-7 3zM1076 638l7-2 6-3 7-2 6-2 7-2-7-4-6 2-7 3-6 2-7 2-7 3zM1254 580l6-3 7-3-7-3-6 3-7 3zM1201 603l7-3 6-2 7-3 7-3-7-3-7 3-6 3-7 2-6 3zM1083 641l6-2 7-2 6-3 7-2 7-2-7-3-7 2-6 2-7 2-6 3-7 2zM1214 603l7-2 7-3 6-3 7-3 6-3 7-3 6-3 7-3 7-2-7-4-7 3-6 3-7 3-6 3-7 3-6 3-7 3-7 3-6 2zM1089 645l7-3 6-2 7-3 7-2-7-3-7 2-6 3-7 2-6 2zM1221 606l7-2 6-3 7-3 6-3 7-3 6-3 7-3 7-3 6-2-6-3-7 2-7 3-6 3-7 3-6 3-7 3-6 3-7 3-7 2zM1096 648l6-3 7-2-7-3-6 2-7 3zM1241 604l6-3 7-3 6-3 7-3 7-3 6-3 7-3-7-2-6 2-7 3-7 3-6 3-7 3-6 3-7 3z"/><path class=e d="M1043 554l7-3 6-3-6-2-7 3-6 2zM951 575l7-2 6-3 7-2 6-3-6-2-7 2-6 2-7 3-7 3zM925 586l6-2 7-3 6-3-6-2-7 2-6 3-7 3zM1056 553l7-3-7-2-6 3zM958 578l6-3 7-2 6-3 7-2-7-3-6 3-7 2-6 3-7 2zM931 589l7-3 6-3-6-2-7 3-6 2zM1116 526l6-2-6-3-7 3zM1063 555l6-3 7-3-7-2-6 3-7 3zM971 578l6-3 7-2 6-2-6-3-7 2-6 3-7 2zM938 591l6-2 7-3-7-3-6 3-7 3zM1122 529l7-3-7-2-6 2zM1076 554l7-3 6-4-6-2-7 4-7 3zM971 583l6-2 7-3 6-2 7-3-7-2-6 2-7 2-6 3-7 3zM944 594l7-3 7-2-7-3-7 3-6 2zM1129 531l6-3-6-2-7 3zM1083 555l6-3 7-3-7-2-6 4-7 3zM951 596l7-2 6-3 7-2 6-3 7-3 6-2 7-3 7-2-7-3-7 3-6 2-7 3-6 2-7 3-6 3-7 2-7 3zM1122 540l7-4 6-3 7-3-7-2-6 3-7 3-6 4zM1096 554l6-4 7-3 7-4-7-2-7 4-6 4-7 3zM958 599l6-3 7-2 6-3 7-3 6-2 7-3 7-2 6-3-6-2-7 2-7 3-6 2-7 3-6 3-7 2-6 3-7 2zM1102 555l7-3 7-4 6-3 7-4 6-3 7-3 6-3-6-2-7 3-6 3-7 4-6 3-7 4-7 3-6 4zM964 601l7-2 6-3 7-3 6-2 7-3 7-2 6-3 7-2-7-3-6 3-7 2-7 3-6 2-7 3-6 3-7 2-6 3zM1116 553l6-3 7-4 6-3 7-3 6-3-6-2-7 3-6 3-7 4-6 3-7 4zM971 603l6-2 7-3 6-2 7-3 7-3 6-2 7-3-7-2-6 3-7 2-7 3-6 2-7 3-6 3-7 2zM1129 551l6-3 7-4-7-1-6 3-7 4zM990 600l7-2 7-3 6-3-6-2-7 3-7 3-6 2zM1142 558l6-3 7-3-7-2-6 4-7 3zM1135 566l7-3 6-3 7-4 7-3 6-3-6-2-7 4-7 3-6 3-7 4-6 3zM1142 568l6-3 7-4 7-3 6-3 7-4 6-3-6-1-7 3-6 3-7 3-7 4-6 3-7 3zM1142 573l6-3 7-3 7-4 6-3 7-4 6-3 7-3 7-3-7-2-7 3-6 3-7 4-6 3-7 3-7 4-6 3-7 3zM1181 558l7-3 7-3 6-3 7-3-7-2-6 3-7 3-7 3-6 3zM1142 577l6-2 7-3 7-3 6-4-6-2-7 4-7 3-6 3-7 2zM1201 554l7-3 6-3-6-2-7 3-6 3zM1142 582l6-2 7-3 7-3 6-3-6-2-7 3-7 3-6 2-7 3zM1214 554l7-3-7-3-6 3zM1142 587l6-3 7-2 7-3 6-3-6-2-7 3-7 3-6 2-7 2zM1142 591l6-2 7-2 7-3 6-2-6-3-7 3-7 2-6 3-7 2zM1043 622l7-2 6-3 7-2-7-2-6 2-7 2-6 3zM1050 625l6-3 7-2 6-2 7-2 7-2 6-2 7-2 6-2 7-2 7-2 6-2 7-2 6-2 7-2 6-2 7-2 7-2 6-3-6-3-7 3-7 2-6 2-7 2-6 2-7 2-6 2-7 2-7 2-6 2-7 2-6 2-7 2-7 2-6 2-7 2-6 3-7 2zM1063 625l6-2 7-2 7-2 6-2 7-2 6-2 7-2 7-2 6-2 7-2 6-2 7-2 6-2 7-2 7-2 6-3 7-2-7-3-6 3-7 2-7 2-6 2-7 2-6 2-7 2-6 2-7 2-7 2-6 2-7 2-6 2-7 2-7 2-6 2-7 2zM1083 624l6-2 7-2 6-2 7-2 7-2 6-2 7-2 6-2 7-2 6-2 7-2 7-2 6-2 7-3-7-3-6 3-7 2-7 2-6 2-7 2-6 2-7 2-6 2-7 2-7 2-6 2-7 2-6 2-7 2zM1096 625l6-2 7-2 7-2 6-2 7-2 6-2 7-2 6-2 7-2 7-2 6-2 7-2 6-2-6-4-7 3-6 2-7 2-7 2-6 2-7 2-6 2-7 2-6 2-7 2-7 2-6 2-7 2zM1109 627l7-2 6-3 7-2 6-2 7-2 6-2 7-2 7-2 6-2 7-2 6-2 7-2-7-3-6 2-7 2-6 2-7 2-7 2-6 2-7 2-6 2-7 2-6 2-7 2-7 2zM1116 630l6-2 7-2 6-3 7-2 6-2 7-2 7-2 6-2 7-2 6-2 7-2 7-2 6-2-6-3-7 2-7 2-6 2-7 2-6 2-7 2-7 2-6 2-7 2-6 2-7 2-6 3-7 2zM1116 635l6-2 7-2 6-2 7-3 6-2 7-2 7-2 6-2 7-2 6-2 7-2 7-2 6-2 7-2 6-3-6-3-7 3-6 2-7 2-7 2-6 2-7 2-6 2-7 2-7 2-6 2-7 2-6 3-7 2-6 2-7 2zM1109 643l7-3 6-2 7-2 6-2 7-3 6-2 7-2 7-2 6-3 7-2 6-2 7-2 7-2 6-1 7-2 6-2 7-3-7-3-6 3-7 2-6 2-7 2-7 2-6 2-7 2-6 2-7 2-7 2-6 2-7 3-6 2-7 2-6 2-7 2-7 3zM1214 613l7-2 7-2 6-2 7-3-7-3-6 3-7 2-7 3-6 2zM1102 650l7-2 7-3 6-2 7-2 6-2 7-3 6-2 7-2 7-2 6-3 7-2 6-2 7-2-7-3-6 2-7 2-6 3-7 2-7 2-6 2-7 3-6 2-7 2-6 2-7 3-7 2-6 3z"/><path class=f d="M1037 555l6-1-6-3-7 2zM977 565l7-1 6-2-6-3-7 2-6 2zM1050 556l6-3-6-2-7 3zM984 568l6-2 7-1-7-3-6 2-7 1zM1056 558l7-3-7-2-6 3zM990 571l7-2 7-2-7-2-7 1-6 2zM1069 557l7-3-7-2-6 3zM997 573l7-2 6-1-6-3-7 2-7 2zM1076 558l7-3-7-1-7 3zM1004 576l6-2 7-2-7-2-6 1-7 2zM1083 560l6-3 7-3-7-2-6 3-7 3zM1010 578l7-2 6-1-6-3-7 2-6 2zM1096 558l6-3-6-1-7 3zM1017 581l6-2 7-2-7-2-6 1-7 2zM1148 537l7-3-7-2-6 3zM1102 559l7-3 7-3-7-1-7 3-6 3zM1017 585l6-2 7-2 7-2-7-2-7 2-6 2-7 2zM1142 544l6-3 7-3 7-2-7-2-7 3-6 3-7 3zM1102 563l7-3 7-3 6-3 7-3-7-1-6 3-7 3-7 3-6 3zM1010 592l7-2 6-3 7-2 7-2-7-2-7 2-6 2-7 3-6 2zM977 605l7-2 6-3-6-2-7 3-6 2zM1109 565l7-3 6-3 7-3 6-4 7-3 6-3 7-3 7-3 6-3-6-1-7 2-7 3-6 3-7 4-6 3-7 3-6 3-7 3-7 3zM984 607l6-2 7-3 7-3 6-2 7-3 6-2 7-3 7-2 6-2-6-2-7 2-7 2-6 3-7 2-6 3-7 3-7 2-6 3-7 2zM1116 566l6-3 7-3 6-3 7-3 6-4 7-3 7-3 6-3-6-1-7 3-7 3-6 3-7 3-6 4-7 3-6 3-7 3zM990 609l7-3 7-2 6-3 7-2 6-3 7-2 7-3 6-2-6-2-7 2-7 3-6 2-7 3-6 2-7 3-7 3-6 2zM1155 552l7-4 6-3 7-3-7-1-6 3-7 3-7 3zM1116 570l6-2 7-3 6-3 7-4-7-1-6 3-7 3-6 3-7 3zM1017 603l6-3 7-2 7-3-7-1-7 2-6 3-7 2zM1168 550l7-3 6-3-6-2-7 3-6 3zM1116 574l6-2 7-3 6-3-6-1-7 3-6 2-7 3zM1181 548l7-3 7-3-7-1-7 3-6 3zM1122 576l7-2 6-3 7-3-7-2-6 3-7 3-6 2zM1195 547l6-3-6-2-7 3zM1122 580l7-2 6-3 7-2-7-2-6 3-7 2-6 2zM1122 584l7-2 6-2 7-3-7-2-6 3-7 2-6 2zM1023 616l7-3-7-1-6 2zM1030 618l7-3 6-2 7-2 6-3 7-2 6-2 7-2 7-2 6-2 7-2 6-2 7-2 7-2 6-2 7-2 6-2 7-2-7-2-6 2-7 2-6 2-7 2-7 2-6 2-7 2-6 2-7 2-7 2-6 2-7 2-6 3-7 2-6 2-7 2-7 3zM1037 620l6-3 7-2 6-2 7-2 6-2 7-2 7-2 6-2 7-2 6-2 7-2 7-2 6-2 7-2 6-2 7-2-7-3-6 2-7 2-6 2-7 2-7 2-6 2-7 2-6 2-7 2-7 2-6 2-7 2-6 3-7 2-6 2-7 3zM1063 615l6-2 7-2 7-2 6-2 7-2 6-2 7-2 7-2 6-2 7-2 6-2 7-2-7-2-6 2-7 2-6 2-7 2-7 2-6 2-7 2-6 2-7 2-7 2-6 2-7 2zM1188 621l7-2 6-2 7-2 6-2-6-2-7 2-6 1-7 2-7 2z"/><path class=g d="M1030 557l7-2-7-2-7 1zM990 562l7-1-7-3-6 1zM1043 557l7-1-7-2-6 1zM997 565l7-2-7-2-7 1zM1050 559l6-1-6-2-7 1zM1004 567l6-1-6-3-7 2zM1056 561l7-2 6-2-6-2-7 3-6 1zM1010 570l7-2-7-2-6 1zM1069 561l7-3-7-1-6 2zM1017 572l6-1 7-2-7-2-6 1-7 2zM1076 562l7-2-7-2-7 3zM1023 575l7-2 7-1-7-3-7 2-6 1zM1083 563l6-2 7-3-7-1-6 3-7 2zM1030 577l7-2 6-1-6-2-7 1-7 2zM1089 565l7-3 6-3-6-1-7 3-6 2zM1037 579l6-2 7-1-7-2-6 1-7 2zM1089 568l7-2 6-3-6-1-7 3-6 2zM1037 583l6-2 7-2 6-1-6-2-7 1-6 2-7 2zM1089 572l7-2 6-3 7-2-7-2-6 3-7 2-6 2zM1043 585l7-2 6-2 7-2-7-1-6 1-7 2-6 2zM1168 541l7-3-7-1-6 3zM1096 573l6-2 7-2 7-3-7-1-7 2-6 3-7 2zM1043 589l7-2 6-2 7-2 6-2-6-2-7 2-6 2-7 2-6 2zM1175 542l6-2-6-2-7 3zM1096 577l6-2 7-2 7-3-7-1-7 2-6 2-7 2zM1037 595l6-2 7-2 6-2 7-2 6-2 7-2-7-2-6 2-7 2-6 2-7 2-6 2-7 3zM997 610l7-2 6-3 7-2-7-2-6 3-7 2-7 3zM1181 544l7-3-7-1-6 2zM1004 612l6-3 7-2 6-3 7-2 7-3 6-2 7-2 6-2 7-3 6-2 7-2 7-2 6-1 7-2 6-2 7-2 7-3-7-1-7 2-6 2-7 2-6 2-7 2-7 2-6 2-7 2-6 2-7 2-6 2-7 3-7 2-6 3-7 2-6 3-7 2zM1010 613l7-3 6-2 7-2 7-3 6-2 7-2 6-3 7-2 6-2 7-2 7-2 6-2 7-2 6-2 7-2 7-2 6-2-6-2-7 3-7 2-6 2-7 2-6 1-7 2-7 2-6 2-7 3-6 2-7 2-6 2-7 3-7 2-6 3-7 2-6 3zM1017 614l6-2 7-3 7-2 6-2 7-2 6-3 7-2 6-2 7-2 7-2 6-2 7-2 6-2 7-2 7-2 6-2-6-2-7 2-7 2-6 2-7 2-6 2-7 2-7 2-6 2-7 2-6 3-7 2-6 2-7 3-7 2-6 2-7 3zM1030 613l7-2 6-2 7-2 6-3 7-2 6-2 7-2 7-2 6-2 7-2 6-2 7-2 7-2 6-2-6-2-7 2-7 2-6 2-7 2-6 2-7 2-7 2-6 2-7 2-6 3-7 2-6 2-7 2-7 3z"/><path class=h d="M1017 558l6 0 7-1-7-3-6 1-7 1zM997 561l7-1 6-1-6-3-7 1-7 1zM1030 560l7-1 6-2-6-2-7 2-7 1zM1004 563l6-1 7-1-7-2-6 1-7 1zM1043 561l7-2-7-2-6 2zM1010 566l7-1 6-1-6-3-7 1-6 1zM1050 563l6-2-6-2-7 2zM1017 568l6-1 7-1-7-2-6 1-7 1zM1056 564l7-1 6-2-6-2-7 2-6 2zM1030 569l7-1-7-2-7 1zM1063 566l6-2 7-2-7-1-6 2-7 1zM1037 572l6-2 7-1-7-2-6 1-7 1zM1043 574l7-2 6-1 7-2 6-2 7-1 7-3-7-1-7 2-6 2-7 1-6 2-7 1-6 2zM1050 576l6-2 7-2 6-1 7-2 7-2 6-2-6-2-7 3-7 1-6 2-7 2-6 1-7 2zM1056 578l7-2 6-2 7-2 7-2 6-2-6-1-7 2-7 2-6 1-7 2-6 2zM1063 579l6-1 7-2 7-2 6-2-6-2-7 2-7 2-6 2-7 2zM1069 581l7-2 7-2 6-2 7-2-7-1-6 2-7 2-7 2-6 1zM1076 583l7-2 6-2 7-2-7-2-6 2-7 2-7 2z"/><path class=i d="M1010 559l7-1-7-2-6 0zM1017 561l6 0 7-1-7-2-6 0-7 1zM1023 564l7-1 7-1 6-1-6-2-7 1-7 1-6 0zM1030 566l7-1 6-1 7-1-7-2-6 1-7 1-7 1zM1037 568l6-1 7-1 6-2-6-1-7 1-6 1-7 1zM1050 569l6-2 7-1-7-2-6 2-7 1z"/><path d="M918 584l7 2 6 3 7 2 6 3 7 2 7 3 6 2 7 2 6 2 7 2 6 2 7 1 7 2 6 1 7 1 6 2 7 2 7 2 6 2 7 3 6 3 7 3 6 4 7 3 7 3 6 4 7 3 6 2 7-2 7-3 6-2 7-2 6-2 7-3 6-2 7-2 7-2 6-3 7-2 6-2 7-2 7-2 6-2 7-2 6-2 7-2 7-2 6-2 7-3 6-3 7-3 6-3 7-3 7-3 6-3 7-3" fill="none" stroke="#a040e0" stroke-width="2.2"/>
<g fill="none" stroke-width="1.8"><path d="M1341 663l185 71 184-71-184-72z" stroke="#c4c4c4" stroke-width="2"/><path d="M1526 734V524" stroke="#c4c4c4" stroke-width="2"/><path d="M1551 601l-5 2-6 1-4 1-8 1-6 1-10 0-7-1-7-1-5-1" stroke="#72b8ec"/><path d="M1693 669l-3-2-2-3 4-5 4-2M1564 606l-5 2-5 1-5 2-6 1-7 1-4 1-10 1-8 0-4 0-6 0-10-1-6-1-6-1-5-2" stroke="#f0ac62"/><path d="M1673 677l-4-2-3-2-2-3-1-3 2-4 2-3 3-2 3-2 4-2 5-2M1506 727l3-1 4 0 5 1 6 1 6 1 5 2M1574 610l-4 2-5 2-6 1-5 1-3 1-3 1-6 1-7 1-7 1-6 0-10 1-9-1-8 0-5-1-9-1-6-1-5-2-5-1M1359 656l4 2 3 2 1 3-3 5-4 2" stroke="#eedc5a"/><path d="M1657 683l-4-2-4-2-2-2-2-3-1-3 0-4 2-4 2-3 3-2 3-2 4-3 4-2 4-2 5-1M1478 716l6-1 9-1 8 1 4 1 9 1 6 2 5 1 6 2 5 1 5 2 4 2M1584 614l-5 2-5 1-5 2-5 1-6 2-5 1-7 1-6 1-7 1-7 1-9 0-9 0-10 0-8-1-4 0-10-1-5-1-7-2-5-1-5-2M1370 652l4 1 4 3 3 2 2 3 1 3-1 4-3 3-3 2-4 2" stroke="#6c9fe0"/><path d="M1643 689l-4-2-4-2-4-2-3-3-2-3-1-3-1-3 0-4 3-4 2-3 3-2 4-3 3-2 4-2 4-2 5-2 4-2 4-1M1451 705l5-1 8-1 9 0 3 1 7 0 7 1 7 1 5 1 6 2 6 1 5 2 5 1 5 2 5 2 5 1 5 2 5 2 4 2M1594 618l-5 1-5 2-5 2-5 1-5 2-5 1-6 2-6 1-7 1-4 1-10 1-8 0-4 0-5 0-5 0-4 0-4 0-7 0-9-1-7-1-7-1-6-1-6-1-5-2-6-1-4-2M1380 648l4 2 4 2 4 2 3 2 2 3 2 3 0 5-1 3-3 3-2 3-4 2-4 2" stroke="#f08576"/><path d="M1630 694l-4-2-4-2-4-2-4-2-3-3-3-2-2-3-2-3-1-3 0-4 1-3 1-4 2-2 3-3 4-2 3-2 4-2 5-2 4-2 5-2 4-1 5-2 5-2M1420 693l5-1 8 0 9 0 8 0 4 0 4 1 8 0 7 1 6 1 7 1 6 1 6 1 6 2 5 1 5 2 5 2 5 1 5 2 4 2 5 2 4 2 5 1 4 2 5 2 4 2M1605 622l-4 2-5 2-5 2-4 1-5 2-5 2-5 1-6 2-6 1-6 1-7 1-7 0-9 1-9 0-9 0-10 0-9-1-8 0-5-1-10-1-6-1-7-1-6-1-3-1-8-2-5-2-4-1M1391 643l5 2 4 2 4 2 3 3 3 2 2 3 2 2 2 4 0 4-1 6-1 4-1 3-2 2-2 4-4 2" stroke="#a8a8a8"/><path d="M1618 698l-4-1-5-2-4-2-4-2-4-2-3-3-3-1-4-3-2-3-2-3-2-2-2-3-2-3-1-3-2-3-2-3-2-3-4-2-5-1-6-2-4 0-11-1-8-1-5 0-10 0-9-1-8 0-4 0-5-1-6 0-10 0-9-1-8 0-4 0-5 0-4 0-6 1-3 3 1 4 0 4 1 3 0 4 1 3 1 3 2 3 3 2 3 3 5 1 5 2 6 1 6 2 6 1 6 1 6 1 6 1 6 2 6 1 5 1 4 2 6 2 5 1 4 2 5 2 4 2 4 2 4 2 4 2 4 2 4 2 5 2 4 2" stroke="#d08be8"/><path d="M1605 704l-5-2-5-2-5-1-3-2-7-2-5-1-6-2-5-1-5-2-5-2-2-2-2-3-1-3-2-3-2-3-3-2-3-3-4-2-5-1-5-2-6-1-7-1-8-1-10 1-8 1-5 1-4 3 1 5 3 2 4 2 5 2 6 1 5 1 6 1 7 2 6 1 4 1 9 1 6 1 5 2 4 2 4 2 1 3 3 3 2 3 2 2 3 2 2 2 6 3 4 2 4 2" stroke="#6fcfb0"/></g>
<path d="M1341 524V663" stroke="#c8c8c8" stroke-width="1.2"/>
<path d="M1341 595l7-3 6-3 7-5 7-4 6-5 7-5 6-5 7-5 6-3 7-4 7-2 6-2 7-2 6-1 7 0 7-1 6 0 7 0 6 0 7-1 7-1 6-1 7-1 6-1 7-2 6-2 7-2 7-3 6 3 7 2 6 1 7 1 7 1 6 1 7 0 6 0 7 0 6 0 7 0 7 1 6 1 7 1 6 2 7 3 7 3 6 4 7 4 6 5 7 5 6 5 7 4 7 5 6 4 7 4 6 4 7 3" fill="none" stroke="#a040e0" stroke-width="2.6"/><path class=b d="M1532 648l7-6 6-6-6-2-7 5-6 6zM1539 650l6-5 7-6-7-3-6 6-7 6zM1552 647l7-6-7-2-7 6z"/><path class=c d="M1361 591l7-4 6-5 7-5 6-5 7-5 6-4 7-4-7-2-6 3-7 5-6 5-7 5-6 5-7 4-7 5zM1381 584l6-5 7-5 6-4 7-5-7-2-6 4-7 5-6 5-7 5zM1400 576l7-4-7-2-6 4zM1440 610l7-4 6-3 7-4 6-4-6-3-7 4-6 4-7 3-7 4zM1440 616l7-3 6-4 7-3 6-4 7-4 7-4-7-3-7 4-6 4-7 4-6 3-7 4-7 3zM1447 619l6-3 7-3 6-4 7-4 7-4 6-4 7-4-7-3-6 4-7 4-7 4-6 4-7 3-6 4-7 3zM1453 623l7-3 6-4 7-4 7-4 6-4 7-4 6-4 7-4-7-3-6 4-7 4-6 4-7 4-7 4-6 4-7 3-6 3zM1460 626l6-3 7-4 7-4 6-4 7-4 6-4 7-4 6-4-6-3-7 4-6 4-7 4-6 4-7 4-7 4-6 4-7 3zM1466 630l7-4 7-3 6-4 7-5 6-4 7-4 6-4 7-4-7-3-6 4-7 4-6 4-7 4-6 4-7 4-7 4-6 3zM1624 569l7-2 7-3 6-2 7-3-7-4-6 2-7 3-7 3-6 2zM1473 633l7-3 6-4 7-4 6-5 7-4 6-4 7-5 7-3-7-3-7 4-6 4-7 4-6 4-7 5-6 4-7 3-7 4zM1624 576l7-3 7-2 6-2 7-3 6-2-6-5-7 3-6 2-7 3-7 2-6 3zM1480 637l6-4 7-4 6-4 7-5 6-4 7-5 7-4 6-4-6-2-7 3-7 5-6 4-7 4-6 5-7 4-6 4-7 3zM1631 580l7-2 6-2 7-3 6-2 7-2-7-5-6 2-7 3-6 2-7 2-7 3zM1486 640l7-4 6-4 7-4 6-5 7-5 7-4 6-4-6-3-7 4-7 5-6 4-7 5-6 4-7 4-6 4zM1644 582l7-2 6-2 7-2 6-2-6-5-7 2-6 2-7 3-6 2zM1486 646l7-3 6-3 7-5 6-4 7-5 7-5 6-5 7-4-7-2-6 4-7 4-7 5-6 5-7 4-6 4-7 4-6 3zM1657 585l7-2 6-2 7-3-7-4-6 2-7 2-6 2zM1493 650l6-3 7-4 6-4 7-5 7-5 6-6 7-4 6-5-6-2-7 4-6 5-7 5-7 5-6 4-7 5-6 3-7 3zM1670 588l7-3 7-2-7-5-7 3-6 2zM1499 653l7-3 6-4 7-4 7-5 6-6 7-5 6-5 7-5-7-2-6 5-7 4-6 6-7 5-7 5-6 4-7 4-6 3zM1684 590l6-3-6-4-7 2zM1512 653l7-4 7-4 6-6 7-5 6-6 7-5 7-4-7-3-7 5-6 5-7 5-6 6-7 5-7 4-6 4zM1545 636l7-5 7-6 6-4-6-2-7 4-7 5-6 6zM1519 657l7-4 6-5-6-3-7 4-7 4zM1552 639l7-6 6-5 7-5-7-2-6 4-7 6-7 5zM1526 660l6-5 7-5-7-2-6 5-7 4zM1559 641l6-5 7-6 6-4-6-3-7 5-6 5-7 6zM1532 662l7-4 6-5 7-6-7-2-6 5-7 5-6 5z"/><path class=d d="M1407 559l7-3-7-3-7 4zM1354 595l7-4-7-2-6 3zM1407 565l7-4 6-3-6-2-7 3-7 4zM1368 593l6-5 7-4-7-2-6 5-7 4zM1407 572l7-5 6-3 7-3-7-3-6 3-7 4-7 5zM1381 590l6-5 7-4 6-5-6-2-7 5-6 5-7 4zM1394 587l6-5 7-4 7-5 6-4 7-3 6-3-6-2-7 3-6 3-7 5-7 4-6 5-7 4zM1407 583l7-4 6-4 7-4 6-3-6-2-7 3-6 4-7 5-7 4zM1420 581l7-4 6-4-6-2-7 4-6 4zM1427 598l6-3 7-4 7-3 6-4-6-2-7 4-7 3-6 4-7 3zM1420 607l7-3 6-4 7-3 7-4 6-3 7-4 6-3-6-2-7 3-6 4-7 3-7 4-6 3-7 3-6 3zM1420 612l7-2 6-3 7-4 7-3 6-4 7-4 6-3 7-4 7-3-7-2-7 3-6 3-7 4-6 3-7 4-7 3-6 4-7 3-6 3zM1466 595l7-4 7-3 6-4-6-2-7 3-7 4-6 3zM1427 615l6-2 7-3-7-3-6 3-7 2zM1480 594l6-4 7-3 6-3-6-3-7 3-6 4-7 3zM1433 619l7-3-7-3-6 2zM1493 593l6-4 7-3 6-3-6-2-7 3-6 3-7 3zM1440 622l7-3-7-3-7 3zM1506 592l6-3 7-3-7-3-6 3-7 3zM1447 626l6-3-6-4-7 3zM1591 569l7-2 7-3 6-2 7-3 6-3 7-2 7-3-7-3-7 3-6 2-7 3-6 3-7 2-7 3-6 2zM1512 595l7-3 7-3-7-3-7 3-6 3zM1453 629l7-3-7-3-6 3zM1591 575l7-3 7-2 6-2 7-3 6-2 7-3 7-3 6-2-6-4-7 3-7 2-6 3-7 3-6 2-7 3-7 2-6 2zM1519 598l7-3 6-3 7-3-7-3-6 3-7 3-7 3zM1460 632l6-2-6-4-7 3zM1598 578l7-2 6-2 7-2 6-3-6-4-7 3-6 2-7 2-7 3zM1526 601l6-4 7-3-7-2-6 3-7 3zM1466 636l7-3-7-3-6 2zM1605 582l6-2 7-2 6-2-6-4-7 2-6 2-7 2zM1532 603l7-3 6-3-6-3-7 3-6 4zM1473 639l7-2-7-4-7 3zM1611 585l7-1 6-2 7-2-7-4-6 2-7 2-6 2zM1532 610l7-4 6-3 7-3-7-3-6 3-7 3-6 4zM1480 643l6-3-6-3-7 2zM1618 589l6-1 7-2 7-2 6-2-6-4-7 2-7 2-6 2-7 1zM1539 612l6-4 7-3-7-2-6 3-7 4zM1631 592l7-2 6-1 7-2 6-2-6-5-7 2-6 2-7 2-7 2zM1545 614l7-4 7-3-7-2-7 3-6 4zM1644 594l7-1 6-2 7-1 6-2-6-5-7 2-6 2-7 2-6 1zM1552 616l7-3-7-3-7 4zM1657 597l7-2 6-1 7-2 7-2-7-5-7 3-6 2-7 1-6 2zM1559 619l6-4-6-2-7 3zM1506 657l6-4-6-3-7 3zM1677 597l7-1 6-2 7-3-7-4-6 3-7 2-7 2zM1565 621l7-4-7-2-6 4zM1512 660l7-3-7-4-6 4zM1690 599l7-2 6-2-6-4-7 3-6 2zM1572 623l6-4-6-2-7 4zM1519 663l7-3-7-3-7 3zM1578 626l7-4 6-3-6-3-7 3-6 4zM1526 665l6-3-6-2-7 3z"/><path class=e d="M1526 536l6-2-6-3-7 3zM1414 556l6-3-6-2-7 2zM1348 598l6-3-6-3-7 3zM1420 558l7-2-7-3-6 3zM1361 596l7-3-7-2-7 4zM1427 561l6-3-6-2-7 2zM1374 594l7-4-7-2-6 5zM1433 563l7-3-7-2-6 3zM1381 595l6-4 7-4-7-2-6 5-7 4zM1433 568l7-3 7-3-7-2-7 3-6 3zM1394 592l6-4 7-5-7-1-6 5-7 4zM1433 573l7-3 7-3 6-3-6-2-7 3-7 3-6 3zM1400 592l7-3 7-4 6-4-6-2-7 4-7 5-6 4zM1407 593l7-3 6-4 7-4 6-3 7-4 7-3 6-3-6-2-7 3-7 3-6 4-7 4-6 4-7 4-7 3zM1414 595l6-4 7-4 6-3 7-4 7-3 6-3 7-3-7-2-6 3-7 3-7 4-6 3-7 4-6 4-7 3zM1414 599l6-3 7-3 6-4 7-3 7-4 6-3 7-3 6-3-6-2-7 3-6 3-7 3-7 4-6 3-7 4-6 4-7 3zM1453 584l7-3 6-3 7-3-7-2-6 3-7 3-6 3zM1407 607l7-3 6-3 7-3-7-2-6 3-7 3-7 3zM1466 583l7-3 7-3-7-2-7 3-6 3zM1414 610l6-3-6-3-7 3zM1480 582l6-3 7-3-7-2-6 3-7 3zM1486 584l7-3 6-3-6-2-7 3-6 3zM1499 584l7-3 6-3-6-2-7 2-6 3zM1578 564l7-3 6-2 7-3 7-3 6-2 7-3-7-2-6 3-7 2-7 3-6 2-7 3-6 2zM1512 583l7-2 7-2-7-3-7 2-6 3zM1572 571l6-3 7-2 6-2 7-3 7-2 6-3 7-3 6-2 7-3-7-3-6 3-7 3-6 2-7 3-7 3-6 2-7 3-6 2-7 2zM1519 586l7-2 6-3-6-2-7 2-7 2zM1572 575l6-2 7-2 6-2-6-3-7 2-6 3-7 1zM1526 589l6-3 7-2 6-2-6-3-7 2-6 3-7 2zM1572 580l6-2 7-1 6-2-6-4-7 2-6 2-7 2zM1539 589l6-2 7-2-7-3-6 2-7 2zM1572 585l6-2 7-1 6-2 7-2-7-3-6 2-7 1-6 2-7 2zM1539 594l6-2 7-2 7-2 6-2-6-3-7 2-7 2-6 2-7 3zM1578 588l7-2 6-1 7-2 7-1-7-4-7 2-6 2-7 1-6 2zM1545 597l7-2 7-2 6-2 7-2-7-3-6 2-7 2-7 2-6 2zM1585 591l6-1 7-2 7-1 6-2-6-3-7 1-7 2-6 1-7 2zM1552 600l7-3 6-1-6-3-7 2-7 2zM1598 593l7-1 6-1 7-2-7-4-6 2-7 1-7 2zM1552 605l7-3 6-2-6-3-7 3-7 3zM1611 596l7-2 6-1 7-1-7-4-6 1-7 2-6 1zM1559 607l6-2-6-3-7 3zM1624 598l7-1 7-1 6-2-6-4-7 2-7 1-6 1zM1559 613l6-4 7-2-7-2-6 2-7 3zM1638 600l6-1 7-1 6-1-6-4-7 1-6 2-7 1zM1565 615l7-3 6-3-6-2-7 2-6 4zM1657 601l7-1 6-1 7-2-7-3-6 1-7 2-6 1zM1572 617l6-3-6-2-7 3zM1677 602l7-1 6-2-6-3-7 1-7 2zM1578 619l7-3-7-2-6 3zM1697 602l6-2 7-2-7-3-6 2-7 2zM1591 619l7-2-7-3-6 2z"/><path class=f d="M1506 542l6-2 7-2 7-2-7-2-7 2-6 2-7 2zM1420 553l7-2-7-2-6 2zM1526 540l6-2 7-2-7-2-6 2-7 2zM1427 556l6-2-6-3-7 2zM1354 599l7-3-7-1-6 3zM1433 558l7-2-7-2-6 2zM1368 597l6-3-6-1-7 3zM1440 560l7-2-7-2-7 2zM1374 598l7-3-7-1-6 3zM1447 562l6-2-6-2-7 2zM1387 595l7-3-7-1-6 4zM1453 564l7-2-7-2-6 2zM1394 596l6-4-6 0-7 3zM1453 569l7-3 6-2-6-2-7 2-6 3zM1400 597l7-4-7-1-6 4zM1460 571l6-3 7-2-7-2-6 2-7 3zM1400 601l7-3 7-3-7-2-7 4-6 3zM1466 573l7-3 7-2-7-2-7 2-6 3zM1400 605l7-3 7-3-7-1-7 3-6 3zM1473 575l7-3 6-2-6-2-7 2-7 3zM1480 577l6-3 7-2-7-2-6 2-7 3zM1493 576l6-2 7-2-7-2-6 2-7 2zM1499 578l7-2 6-2-6-2-7 2-6 2zM1559 566l6-3 7-2 6-2 7-3 6-2 7-3 7-2 6-3-6-2-7 3-7 3-6 2-7 3-6 2-7 2-6 2-7 2zM1512 578l7-2 7-2-7-2-7 2-6 2zM1618 548l6-3-6-2-7 3zM1526 579l6-2 7-2 6-2 7-1 7-2 6-2 7-2 6-2-6-3-7 2-6 3-7 1-7 2-6 2-7 2-6 1-7 2zM1532 581l7-2 6-1 7-2 7-2 6-2 7-1-7-3-6 2-7 2-7 1-6 2-7 2-6 2zM1545 582l7-2 7-1 6-2 7-2-7-3-6 2-7 2-7 2-6 1zM1552 585l7-2 6-1 7-2-7-3-6 2-7 1-7 2zM1565 586l7-1-7-3-6 1zM1572 589l6-1-6-3-7 1zM1565 596l7-2 6-2 7-1-7-3-6 1-7 2-6 2zM1565 600l7-2 6-1 7-1 6-2 7-1-7-3-6 1-7 1-6 2-7 2-6 1zM1565 605l7-2 6-2 7-1 6-1 7-1 7-1 6-1-6-4-7 1-7 1-6 2-7 1-6 1-7 2-6 2zM1605 601l6-1 7-1 6-1-6-4-7 2-6 1-7 1zM1572 607l6-2 7-1-7-3-6 2-7 2zM1618 603l6-1 7-1 7-1-7-3-7 1-6 1-7 1zM1578 609l7-1-7-3-6 2zM1631 606l7-1 6-1 7-1 6-2-6-3-7 1-6 1-7 1-7 1zM1578 614l7-2-7-3-6 3zM1651 607l6-1 7-1 6-2 7-1-7-3-6 1-7 1-6 2-7 1zM1585 616l6-2-6-2-7 2zM1684 605l6-1 7-2-7-3-6 2-7 1z"/><path class=g d="M1499 543l7-1-7-2-6 1zM1427 551l6-1-6-3-7 2zM1512 544l7-2 7-2-7-2-7 2-6 2zM1433 554l7-2-7-2-6 1zM1532 542l7-2 6-3-6-1-7 2-6 2zM1440 556l7-2-7-2-7 2zM1361 600l7-3-7-1-7 3zM1545 541l7-3-7-1-6 3zM1447 558l6-1-6-3-7 2zM1453 560l7-1-7-2-6 1zM1381 598l6-3-6 0-7 3zM1460 562l6-2-6-1-7 1zM1387 599l7-3-7-1-6 3zM1466 564l7-2-7-2-6 2zM1394 600l6-3-6-1-7 3zM1473 566l7-2-7-2-7 2zM1394 604l6-3-6-1-7 3zM1480 568l6-2-6-2-7 2zM1486 570l7-2-7-2-6 2zM1493 572l6-2 7-2-7-2-6 2-7 2zM1506 572l6-2 7-2-7-2-6 2-7 2zM1512 574l7-2 7-2 6-1 7-2 6-2 7-2 7-2 6-2 7-2 6-2 7-3 6-2 7-3-7-1-6 2-7 3-6 2-7 3-6 2-7 2-7 2-6 1-7 2-6 2-7 1-7 2-6 2zM1611 546l7-3-7-1-6 2zM1526 574l6-1 7-2 6-2 7-2 7-1-7-3-7 2-6 2-7 2-6 1-7 2zM1585 604l6-1 7-1 7-1-7-3-7 1-6 1-7 1zM1585 608l6-2 7 0 7-1 6-1 7-1-7-3-6 1-7 1-7 1-6 1-7 1zM1618 607l6-1 7 0-7-4-6 1-7 1zM1585 612l6-2 7-1-7-3-6 2-7 1zM1631 609l7 0 6-1 7-1-7-3-6 1-7 1-7 0zM1591 614l7-1-7-3-6 2zM1651 610l6-1 7-1 6-1 7-1 7-1-7-3-7 1-6 2-7 1-6 1-7 1zM1598 617l7-2-7-2-7 1z"/><path class=h d="M1486 546l7-1 6-2-6-2-7 1-6 1zM1433 550l7-1-7-3-6 1zM1506 545l6-1-6-2-7 1zM1440 552l7-1-7-2-7 1zM1519 545l7-1 6-2-6-2-7 2-7 2zM1447 554l6-1-6-2-7 1zM1539 543l6-2-6-1-7 2zM1453 557l7-2-7-2-6 1zM1368 601l6-3-6-1-7 3zM1552 542l7-3-7-1-7 3zM1460 559l6-2-6-2-7 2zM1374 601l7-3-7 0-6 3zM1466 560l7-1-7-2-6 2zM1381 602l6-3-6-1-7 3zM1473 562l7-1-7-2-7 1zM1387 603l7-3-7-1-6 3zM1480 564l6-1-6-2-7 1zM1486 566l7-2-7-1-6 1zM1493 568l6-2 7-2-7-1-6 1-7 2zM1506 568l6-2 7-1-7-2-6 1-7 2zM1519 568l7-1 6-2 7-2 6-1 7-2 7-2 6-2 7-3 6-2-6-1-7 2-6 2-7 2-7 2-6 2-7 2-6 1-7 2-7 1zM1598 547l7-3 6-2-6-1-7 2-7 3zM1598 609l7-1 6 0 7-1-7-3-6 1-7 1-7 0zM1598 613l7-1 6-1 7-1 6 0 7-1-7-3-6 1-7 1-6 0-7 1-7 1zM1631 613l7-1 6-1 7-1-7-2-6 1-7 0-7 1zM1605 615l6-1 7 0-7-3-6 1-7 1z"/><path class=i d="M1473 547l7-1 6 0-6-3-7 1-7 1zM1440 549l7-1-7-2-7 0zM1493 548l6-1 7-2-7-2-6 2-7 1zM1447 551l6-1-6-2-7 1zM1512 547l7-2-7-1-6 1zM1453 553l7-1-7-2-6 1zM1526 547l6-2 7-2-7-1-6 2-7 1zM1545 544l7-2-7-1-6 2zM1559 542l6-2-6-1-7 3zM1473 559l7-1-7-2-7 1zM1480 561l6-2-6-1-7 1zM1486 563l7-2-7-2-6 2zM1493 564l6-1 7-2-7-1-6 1-7 2zM1506 564l6-1 7-1-7-2-6 1-7 2zM1519 565l7-2 6-1 7-2 6-2 7-2 7-2-7 0-7 1-6 2-7 2-6 1-7 2-7 1zM1578 551l7-3 6-2 7-3 7-2-7-1-7 3-6 2-7 3-6 2zM1618 614l6-1 7 0-7-3-6 0-7 1z"/><path class=j d="M1447 548l6 0 7 0 6-1 7 0-7-2-6 0-7 0-6 0-7 1zM1480 549l6-1 7 0-7-2-6 0-7 1zM1453 550l7 0-7-2-6 0zM1499 549l7-1 6-1-6-2-7 2-6 1zM1519 548l7-1-7-2-7 2zM1460 555l6-1-6-2-7 1zM1532 548l7-2 6-2-6-1-7 2-6 2zM1466 557l7-1-7-2-6 1zM1545 546l7-2 7-2-7 0-7 2-6 2zM1480 558l6-1-6-2-7 1zM1565 542l7-2-7 0-6 2zM1486 559l7-1-7-1-6 1zM1572 542l6-2-6 0-7 2zM1493 561l6-1 7-1-7-2-6 1-7 1zM1506 561l6-1 7-1-7-1-6 1-7 1zM1585 543l6-3-6 0-7 3zM1519 562l7-2 6-1 7-2 6-2-6 0-7 1-6 1-7 2-7 1zM1559 554l6-2 7-2 6-2 7-3 6-2 7-3-7 0-6 3-7 2-6 2-7 3-6 2-7 2z"/><path class=k d="M1460 550l6 0 7-1 7 0-7-2-7 0-6 1-7 0zM1486 551l7-1 6-1-6-1-7 0-6 1zM1460 552l6 0 7 0-7-2-6 0-7 0zM1506 550l6-1 7-1-7-1-6 1-7 1zM1466 554l7 0-7-2-6 0zM1519 550l7-1 6-1-6-1-7 1-7 1zM1473 556l7-1-7-1-7 0zM1539 548l6-2-6 0-7 2zM1486 557l7-1-7-1-6 0zM1552 547l7-2 6-3-6 0-7 2-7 2zM1493 558l6-1-6-1-7 1zM1559 547l6-2 7-3-7 0-6 3-7 2zM1506 559l6-1-6-2-7 1zM1559 549l6-2 7-2 6-2 7-3-7 0-6 2-7 3-6 2-7 2zM1519 559l7-2 6-1 7-1-7-1-6 1-7 1-7 2zM1545 555l7-1 7-2 6-2 7-3 6-2 7-2-7 0-6 2-7 2-6 2-7 2-7 2-6 2z"/><path class=l d="M1473 552l7-1 6 0-6-2-7 0-7 1zM1473 554l7-1 6 0 7-1 6-1 7-1-7-1-6 1-7 1-6 0-7 1-7 0zM1506 552l6 0 7-2-7-1-6 1-7 1zM1480 555l6 0 7-1-7-1-6 0-7 1zM1526 551l6-1 7-2-7 0-6 1-7 1zM1493 556l6-1-6-1-7 1zM1532 552l7-2 6-1 7-2-7-1-6 2-7 2-6 1zM1499 557l7-1 6-1-6-1-7 1-6 1zM1512 558l7-2 7-1 6-1 7-2 6-1 7-2 7-2-7 0-7 2-6 1-7 2-6 1-7 1-7 1-6 1zM1539 555l6-2 7-2 7-2-7 0-7 2-6 1-7 2z"/><path class=m d="M1493 554l6-1 7-1-7-1-6 1-7 1zM1499 555l7-1 6-1 7-1 7-1-7-1-7 2-6 0-7 1-6 1zM1512 555l7-1 7-1 6-1-6-1-7 1-7 1-6 1z"/><path d="M1341 595l7 3 6 1 7 1 7 1 6 0 7 1 6 1 7 1 6 1 7 2 7 3 6 2 7 3 6 4 7 3 7 4 6 3 7 3 6 4 7 3 7 4 6 3 7 4 6 3 7 4 6 3 7 3 7 2 6-3 7-4 6-5 7-6 7-6 6-5 7-6 6-4 7-4 6-3 7-2 7-2 6-1 7 0 6-1 7 0 7-1 6-1 7-1 6-1 7-1 6-1 7-1 7-1 6-1 7-2 6-2 7-2" fill="none" stroke="#a040e0" stroke-width="2.2"/>
<g fill="none" stroke-width="1.8"><path d="M73 964l184 71 185-71-185-72z" stroke="#c4c4c4" stroke-width="2"/><path d="M257 1035V824" stroke="#c4c4c4" stroke-width="2"/><path d="M234 901l4 2 2 3-1 4-2 3-2 3-3 2-4 2-5 2-6 1-9 0-10-1-3-1-8-2" stroke="#eedc5a"/><path d="M381 987l-4-2-3-2-1-3 2-3 4-2 5-1 6-2 7-1 8 0 8 0 3 1 3 0M267 896l-4 2-3 2-2 3-2 3-2 3-1 3-2 3-2 2-3 3-3 2-4 2-5 2-5 2-7 1-4 0-4 0-6 0-4 0-3-1-7-1-5-1-7-1-4-2" stroke="#6c9fe0"/><path d="M366 993l-4-2-4-2-3-3-2-2-2-3 1-4 4-4 4-2 4-2 6-1 6-1 3-1 4 0 7-1 4-1 9-1 5-1 8-1 6-1 5-2M246 1031l5-2 5 0 8 0 6 1M280 901l-4 2-4 2-3 2-2 3-3 3-2 2-2 3-2 3-2 3-3 2-4 2-4 2-5 2-5 1-8 1-5 0-9 0-4 0-4 0-7-1-7-1-6-1-6-2-5-1-5-2" stroke="#f08576"/><path d="M353 998l-5-2-4-2-3-2-3-2-3-3-2-3-2-2-1-4 1-3 2-4 3-2 4-2 5-2 6-1 6-1 4 0 3-1 7-1 4 0 3-1 7 0 4-1 9-2 6-1 6-1 5-2M213 1018l5-2 5-1 6-1 7-1 7-1 8-1 9 0 10 1 9 0 4 1 9 2 5 1 5 2M289 905l-4 1-3 3-3 2-3 2-2 3-2 3-2 3-1 3-2 3-3 3-3 2-3 2-5 2-6 1-6 1-5 1-10 0-9 0-8-1-6 0-8-1-7-1-6-2-5-1-6-1-5-2-5-2M92 956l5 2 3 2 3 3 2 2-1 4-2 2-4 2" stroke="#a8a8a8"/><path d="M189 1009l4-2 6-2 6-1 5-1 9-1 4 0 11-1 8 0 9-1 4 0 4 0 6 0 9 0 10 0 9 0 10-1 5-1 2-3 0-4-2-4-1-3-1-3-2-4-1-3-1-7 1-3 1-4 4-2 6-1 8-1 8 0 9 0 9 0 9 0 4 0 4-1 7 0 8-1 5-1 8-1 6-1 5-2M299 908l-4 2-3 3-3 2-2 3-2 3-1 3 0 4 0 4 0 6 0 4-3 2-4 2-5 1-9 1-9 0-10 0-10-1-8 0-8-1-6 0-8-1-6-1-8-1-6-1-3-1-9-2-5-1-5-2-5-1-5-2M107 950l4 2 4 2 4 2 3 3 3 2 2 2 2 4 0 4-1 3-3 3-3 2-5 2" stroke="#d08be8"/><path d="M313 914l-4 2-3 2-1 3 1 4 3 4 3 2 4 3 4 2 4 2 5 1 4 2 5 2 6 1 4 1 9 1 4 1 4 0 6 0 4-1 9-1 5-2M126 943l4 2 5 2 3 2 3 2 4 2 3 3 3 2 3 3 2 2 2 3 2 3 1 3 1 4 1 5 1 4 4 3 6 0 9 1 9 0 9 0 10 0 9 0 8-1 8 0 7-1 8-1 6-1 4-2 3-2 1-3-1-5-3-4-3-1-4-3-5-2-5-2-5-1-6-1-6-1-6-1-8-1-6-1-7-1-7-1-6-1-7-1-6-2-6-1-6-1-6-2-4-1-7-1-5-2-5-2" stroke="#6fcfb0"/></g>
<path d="M73 824V964" stroke="#c8c8c8" stroke-width="1.2"/>
<path d="M73 855l6-2 7-4 7-4 6-4 7-4 6-4 7-4 6-4 7-3 7-2 6-1 7 0 6-1 7 1 7 0 6 1 7 0 6-1 7-1 7-2 6-2 7-3 6-4 7-4 6-3 7-4 7-3 6-3 7 2 6 1 7 1 7 0 6 0 7 0 6 0 7 1 6 1 7 2 7 2 6 3 7 2 6 3 7 2 7 3 6 3 7 2 6 4 7 3 7 4 6 5 7 4 6 5 7 5 6 4 7 4 7 3" fill="none" stroke="#a040e0" stroke-width="2.6"/><path class=b d="M369 850l7-3 6-4-6-4-7 3-6 4zM376 855l6-4 7-3 7-4-7-5-7 4-6 4-7 3zM382 859l7-3 7-4 6-3-6-5-7 4-7 3-6 4zM396 860l6-3-6-5-7 4z"/><path class=c d="M99 848l7-4 6-5 7-4 6-4-6-2-7 4-6 4-7 4-6 4zM112 846l7-4 6-5-6-2-7 4-6 5zM205 884l6-3 7-3 6-3-6-4-7 3-6 4-7 3zM330 842l6-4 7-3 6-4 7-3-7-3-6 3-7 4-6 3-7 4zM205 890l6-3 7-3 6-3 7-3 6-3-6-4-7 4-6 3-7 3-6 3-7 3zM330 848l6-3 7-3 6-4 7-4 7-3 6-4-6-3-7 4-7 3-6 4-7 3-6 4-7 3zM205 897l6-3 7-3 6-3 7-3 6-4 7-3 7-3-7-3-7 3-6 3-7 3-6 3-7 3-6 3-7 3zM336 852l7-3 6-4 7-3 7-4 6-4 7-3 6-3-6-4-7 3-6 4-7 3-7 4-6 4-7 3-6 3zM211 900l7-3 6-3 7-3 6-3 7-3 7-4 6-3-6-3-7 3-7 3-6 4-7 3-6 3-7 3-6 3zM336 858l7-2 6-3 7-4 7-3 6-4 7-3 6-4 7-3 7-3-7-4-7 3-6 3-7 3-6 4-7 4-7 3-6 4-7 3-6 2zM218 904l6-3 7-3 6-3 7-3 7-4 6-3 7-3 6-3-6-4-7 3-6 3-7 4-7 3-6 3-7 3-6 3-7 3zM382 843l7-4 7-3 6-2-6-5-7 3-7 3-6 4zM343 862l6-2 7-3 7-3 6-4-6-4-7 3-7 4-6 3-7 2zM224 907l7-2 6-3 7-4 7-3 6-3 7-4 6-3 7-3-7-3-6 3-7 3-6 3-7 4-7 3-6 3-7 3-6 3zM396 844l6-3 7-3-7-4-6 2-7 3zM349 866l7-2 7-3 6-3 7-3-7-5-6 4-7 3-7 3-6 2zM237 908l7-3 7-3 6-3 7-4 6-3 7-4 7-3-7-3-7 3-6 3-7 4-6 3-7 3-7 4-6 3zM402 849l7-3 6-3-6-5-7 3-6 3zM363 868l6-2 7-3 6-4-6-4-7 3-6 3-7 3zM244 911l7-3 6-3 7-3 6-4 7-3 7-4 6-3-6-3-7 3-7 4-6 3-7 4-6 3-7 3-7 3zM402 857l7-3 6-4 7-2-7-5-6 3-7 3-6 3zM369 872l7-2 6-3 7-3 7-4-7-4-7 3-6 4-7 3-6 2zM257 912l7-4 6-3 7-3 7-4 6-3 7-4-7-3-6 3-7 4-7 3-6 4-7 3-6 3zM382 874l7-3 7-3 6-3 7-4 6-3 7-3 6-3-6-4-7 2-6 4-7 3-6 3-7 4-7 3-6 3zM270 911l7-3 7-3 6-4 7-3-7-3-6 3-7 4-7 3-6 3zM396 875l6-3 7-4 6-3 7-4 6-3 7-2-7-4-6 3-7 3-6 3-7 4-6 3-7 3zM290 907l7-3 6-4-6-2-7 3-6 4zM415 871l7-3-7-3-6 3z"/><path class=d d="M224 813l7-4 6-3 7-4 7-4 6-3-6-2-7 3-7 4-6 3-7 4-6 4zM125 831l7-3-7-3-6 4zM86 855l7-3 6-4-6-3-7 4-7 4zM125 837l7-3 7-4-7-2-7 3-6 4zM93 857l6-3 7-4 6-4-6-2-7 4-6 4-7 3zM106 855l6-3 7-4 6-4 7-4 7-4 6-3-6-3-7 4-7 3-6 5-7 4-6 4-7 4zM119 853l6-3 7-4 7-4 6-4 7-3-7-2-6 3-7 4-7 4-6 4-7 4zM132 851l7-3 6-4 7-3 6-4-6-2-7 3-6 4-7 4-7 4zM139 853l6-3 7-4 6-3 7-3-7-3-6 4-7 3-6 4-7 3zM152 852l6-4 7-3-7-2-6 3-7 4zM297 817l6-4 7-3 6-4-6-2-7 4-6 3-7 4zM178 860l7-3 6-3-6-2-7 3-6 3zM297 823l6-4 7-4 6-3 7-3 7-4-7-2-7 3-6 4-7 3-6 4-7 3zM172 869l6-3 7-3 6-3 7-3 7-3-7-2-7 2-6 3-7 3-6 3-7 3zM297 828l6-3 7-4 6-3 7-4 7-3 6-3-6-3-7 4-7 3-6 3-7 4-6 4-7 3zM158 879l7-2 7-3 6-3 7-3 6-3 7-2 7-3 6-3-6-3-7 3-7 3-6 3-7 3-6 3-7 2-7 3-6 3zM297 833l6-3 7-3 6-3 7-4 7-3 6-3 7-4-7-2-6 3-7 3-7 4-6 3-7 4-6 3-7 3zM165 882l7-2 6-3 7-3 6-3 7-3 7-3 6-3 7-2 6-3-6-3-7 3-6 3-7 3-7 2-6 3-7 3-6 3-7 3-7 2zM303 836l7-3 6-3 7-4 7-3 6-4 7-3 6-3-6-3-7 4-6 3-7 3-7 4-6 3-7 3-6 3zM172 886l6-3 7-3 6-3 7-3 7-3 6-3 7-3 6-3 7-2 6-3-6-3-7 3-6 3-7 2-6 3-7 3-7 3-6 3-7 3-6 3-7 2zM303 841l7-2 6-3 7-4 7-3 6-4 7-3 6-3 7-3-7-3-6 3-7 3-6 4-7 3-7 4-6 3-7 3-6 3zM178 889l7-3 6-3 7-2 7-3 6-4 7-3 6-3 7-3 6-2 7-3-7-3-6 3-7 2-6 3-7 3-6 3-7 3-7 3-6 3-7 3-6 3zM303 847l7-3 6-2 7-3 7-4 6-3 7-4 6-3 7-4 7-3 6-2-6-3-7 3-7 3-6 3-7 3-6 4-7 3-7 4-6 3-7 2-6 3zM224 875l7-4 6-3 7-2 7-3 6-2-6-3-7 2-7 3-6 2-7 3-6 3zM185 892l6-2 7-3 7-3-7-3-7 2-6 3-7 3zM356 828l7-4 6-3 7-3-7-2-6 2-7 3-7 4zM310 850l6-3 7-2 7-3-7-3-7 3-6 2-7 3zM237 875l7-3 7-3 6-3 7-2-7-3-6 2-7 3-7 2-6 3zM191 896l7-3 7-3-7-3-7 3-6 2zM369 827l7-3 6-2-6-4-7 3-6 3zM310 855l6-2 7-2 7-3-7-3-7 2-6 3-7 2zM251 875l6-3 7-3 6-2-6-3-7 2-6 3-7 3zM198 899l7-2-7-4-7 3zM382 828l7-3-7-3-6 2zM316 859l7-2 7-3 6-2-6-4-7 3-7 2-6 2zM257 878l7-3 6-3 7-2 7-2-7-4-7 3-6 2-7 3-6 3zM205 903l6-3-6-3-7 2zM323 862l7-2 6-2-6-4-7 3-7 2zM270 879l7-3 7-3 6-2-6-3-7 2-7 2-6 3zM211 906l7-2-7-4-6 3zM330 866l6-2 7-2-7-4-6 2-7 2zM277 882l7-3 6-3 7-2-7-3-6 2-7 3-7 3zM218 910l6-3-6-3-7 2zM343 868l6-2-6-4-7 2zM284 885l6-3 7-3 6-2-6-3-7 2-6 3-7 3zM224 913l7-2 6-3-6-3-7 2-6 3zM349 872l7-2 7-2-7-4-7 2-6 2zM290 888l7-3 6-3 7-2-7-3-6 2-7 3-6 3zM231 917l6-3 7-3-7-3-6 3-7 2zM363 874l6-2-6-4-7 2zM297 891l6-3 7-3-7-3-6 3-7 3zM237 920l7-3 7-2 6-3-6-4-7 3-7 3-6 3zM369 878l7-2 6-2-6-4-7 2-6 2zM297 898l6-4 7-3 6-3-6-3-7 3-6 3-7 4zM244 923l7-3 6-2 7-3 6-4-6-3-7 4-6 3-7 2-7 3zM382 879l7-2 7-2-7-4-7 3-6 2zM303 900l7-3 6-3 7-3-7-3-6 3-7 3-6 4zM251 926l6-3 7-2 6-3 7-4 7-3 6-4-6-2-7 3-7 3-6 4-7 3-6 2-7 3zM422 868l6-4 7-3 7-2-7-3-7 2-6 3-7 4zM396 880l6-3 7-3 6-3-6-3-7 4-6 3-7 2zM264 926l6-3 7-3 7-3 6-3 7-4 6-3 7-4 6-3 7-4 7-2-7-3-7 3-6 3-7 3-6 4-7 3-6 4-7 3-7 4-6 3-7 2z"/><path class=e d="M257 795l7-3-7-2-6 3zM211 819l7-3 6-3-6-2-7 3-6 2zM132 828l7-3-7-3-7 3zM79 858l7-3-7-2-6 2zM231 814l6-3 7-4 7-4 6-4-6-1-7 4-7 4-6 3-7 4zM139 830l6-3-6-2-7 3zM86 860l7-3-7-2-7 3zM145 833l7-3-7-3-6 3zM99 859l7-4-7-1-6 3zM152 835l6-3-6-2-7 3zM106 860l6-3 7-4-7-1-6 3-7 4zM158 837l7-2-7-3-6 3zM119 858l6-3 7-4-7-1-6 3-7 4zM165 840l7-3-7-2-7 2zM125 860l7-3 7-4-7-2-7 4-6 3zM165 845l7-3 6-3-6-2-7 3-7 3zM132 861l7-3 6-3 7-3-7-2-6 3-7 4-7 3zM139 863l6-3 7-3 6-3 7-4 7-3 6-3 7-2 6-3-6-2-7 2-6 3-7 3-7 3-6 4-7 3-6 3-7 3zM277 817l7-3 6-4 7-4 6-4-6-1-7 4-6 4-7 4-7 3zM145 865l7-3 6-3 7-3 7-3 6-3 7-3 6-3 7-2-7-3-6 3-7 2-6 3-7 3-7 4-6 3-7 3-6 3zM277 822l7-3 6-4 7-4 6-3 7-4 6-3-6-2-7 3-6 4-7 4-6 4-7 3-7 4zM145 869l7-2 6-3 7-3 7-3 6-3 7-3 6-3 7-3 7-2-7-2-7 2-6 3-7 3-6 3-7 3-7 3-6 3-7 3-6 2zM316 806l7-3 7-3-7-2-7 3-6 3zM277 827l7-3 6-4 7-3-7-2-6 4-7 3-7 3zM191 854l7-2 7-3 6-2-6-3-7 2-7 3-6 3zM145 874l7-2 6-3 7-3 7-3 6-3-6-2-7 3-7 3-6 3-7 2-6 3zM330 805l6-2-6-3-7 3zM284 829l6-3 7-3-7-3-6 4-7 3zM205 854l6-3 7-2 6-2-6-3-7 3-6 2-7 3zM152 877l6-3 7-3 7-2-7-3-7 3-6 3-7 2zM336 808l7-3-7-2-6 2zM284 834l6-3 7-3-7-2-6 3-7 3zM211 857l7-3 6-2 7-3-7-2-6 2-7 2-6 3zM343 810l6-2-6-3-7 3zM284 838l6-2 7-3-7-2-6 3-7 2zM224 857l7-3 6-2 7-2-7-3-6 2-7 3-6 2zM349 813l7-3-7-2-6 2zM284 843l6-2 7-2 6-3-6-3-7 3-6 2-7 3zM237 857l7-2 7-2 6-2-6-3-7 2-7 2-6 2zM356 816l7-3-7-3-7 3zM284 848l6-2 7-2 6-3-6-2-7 2-6 2-7 2zM244 860l7-2 6-3 7-2 6-1-6-3-7 2-6 2-7 2-7 2zM257 861l7-3 6-2 7-2 7-1 6-2 7-2 6-2-6-3-7 2-6 2-7 2-7 2-6 1-7 2-6 3zM264 864l6-3 7-2 7-2 6-1 7-2 6-2 7-2-7-3-6 2-7 2-6 2-7 1-7 2-6 2-7 3zM270 867l7-3 7-2 6-1 7-2 6-2 7-2-7-3-6 2-7 2-6 1-7 2-7 2-6 3zM284 868l6-2 7-2 6-2 7-2 6-1-6-4-7 2-6 2-7 2-6 1-7 2zM290 871l7-2 6-2 7-2 6-1 7-2-7-3-6 1-7 2-6 2-7 2-6 2zM297 874l6-2 7-2 6-1 7-2 7-1-7-4-7 2-6 1-7 2-6 2-7 2zM303 877l7-2 6-2 7-1 7-1 6-2 7-1-7-4-6 2-7 1-7 2-6 1-7 2-6 2zM336 874l7-1 6-1-6-4-7 1-6 2zM310 880l6-2 7-1-7-4-6 2-7 2zM349 877l7-2 7-1-7-4-7 2-6 1zM310 885l6-2 7-2-7-3-6 2-7 2zM363 879l6-1-6-4-7 1zM316 888l7-2 7-2-7-3-7 2-6 2zM376 881l6-2-6-3-7 2zM323 891l7-2 6-2-6-3-7 2-7 2zM389 882l7-2-7-3-7 2zM330 894l6-3-6-2-7 2zM257 929l7-3-7-3-6 3z"/><path class=f d="M139 825l6-2-6-3-7 2zM257 799l7-3 6-3-6-1-7 3-6 3zM224 818l7-4-7-1-6 3zM145 827l7-2-7-2-6 2zM237 815l7-4 7-3 6-4 7-4-7-1-6 4-7 4-7 4-6 3zM152 830l6-2-6-3-7 2zM93 862l6-3-6-2-7 3zM158 832l7-2-7-2-6 2zM99 863l7-3-7-1-6 3zM165 835l7-3-7-2-7 2zM106 864l6-2 7-4-7-1-6 3-7 3zM172 837l6-2-6-3-7 3zM119 863l6-3-6-2-7 4zM270 812l7-4-7 0-6 4zM178 839l7-2 6-2-6-2-7 2-6 2zM125 864l7-3-7-1-6 3zM270 816l7-3 7-4 6-4 7-4-7-1-6 4-7 4-7 4-6 4zM191 839l7-2-7-2-6 2zM125 868l7-2 7-3-7-2-7 3-6 3zM303 802l7-3-7-1-6 3zM270 821l7-4-7-1-6 4zM198 842l7-2-7-3-7 2zM132 870l7-3 6-2-6-2-7 3-7 2zM316 801l7-3-7-2-6 3zM270 825l7-3-7-1-6 3zM205 844l6-2 7-2-7-2-6 2-7 2zM139 872l6-3-6-2-7 3zM270 830l7-3-7-2-6 3zM211 847l7-3 6-2-6-2-7 2-6 2zM270 834l7-2 7-3-7-2-7 3-6 2zM224 847l7-2 6-2-6-2-7 1-6 2zM264 840l6-2 7-2 7-2-7-2-7 2-6 2-7 2zM231 849l6-2 7-2 7-1 6-2-6-3-7 2-7 2-6 2-7 2zM244 850l7-2 6-2 7-2 6-1 7-2 7-3-7-2-7 2-6 2-7 2-6 2-7 1-7 2zM257 851l7-2 6-2 7-2 7-2-7-2-7 2-6 1-7 2-6 2zM270 852l7-2 7-2-7-3-7 2-6 2zM323 877l7-2 6-1-6-3-7 1-7 1zM323 881l7-1 6-2 7-1 6 0-6-4-7 1-6 1-7 2-7 1zM356 880l7-1-7-4-7 2zM330 884l6-1 7-2-7-3-6 2-7 1zM369 882l7-1-7-3-6 1zM336 887l7-2-7-2-6 1zM382 884l7-2-7-3-6 2zM336 891l7-2-7-2-6 2z"/><path class=g d="M205 820l6-1-6-3-7 2zM145 823l7-1-7-3-6 1zM218 820l6-2-6-2-7 3zM152 825l6-1-6-2-7 1zM264 800l6-3-6-1-7 3zM231 818l6-3-6-1-7 4zM158 828l7-2-7-2-6 1zM244 815l7-3 6-4 7-4 6-4-6 0-7 4-6 4-7 3-7 4zM165 830l7-1-7-3-7 2zM251 816l6-4 7-4 6-4-6 0-7 4-6 4-7 3zM172 832l6-1-6-2-7 1zM257 816l7-4 6-4 7-4 7-4-7 0-7 4-6 4-7 4-6 4zM178 835l7-2-7-2-6 1zM112 866l7-3-7-1-6 2zM277 808l7-4 6-4-6 0-7 4-7 4zM257 819l7-3 6-4-6 0-7 4-6 3zM119 867l6-3-6-1-7 3zM297 801l6-3-6-1-7 3zM257 823l7-3 6-4-6 0-7 3-6 3zM198 837l7-1-7-2-7 1zM310 799l6-3-6-1-7 3zM264 824l6-3-6-1-7 3zM205 840l6-2-6-2-7 1zM257 830l7-2 6-3-6-1-7 3-6 2zM218 840l6-2-6-2-7 2zM257 834l7-2 6-2-6-2-7 2-6 2zM224 842l7-1 6-2-6-2-7 1-6 2zM237 843l7-2 7-2 6-1 7-2 6-2-6-2-7 2-6 2-7 1-7 2-6 2zM257 842l7-2-7-2-6 1zM343 881l6 0 7-1-7-3-6 0-7 1zM343 885l6-1 7 0 7-1 6-1-6-3-7 1-7 1-6 0-7 2zM376 885l6-1-6-3-7 1zM343 889l6-1 7-1-7-3-6 1-7 2z"/><path class=h d="M198 822l7-2-7-2-7 1zM211 822l7-2-7-1-6 1zM270 797l7-3-7-1-6 3zM224 821l7-3-7 0-6 2zM270 800l7-3-7 0-6 3zM237 819l7-4-7 0-6 3zM270 804l7-4 7-3-7 0-7 3-6 4zM244 819l7-3-7-1-7 4zM178 831l7-1-7-2-6 1zM284 800l6-3-6 0-7 3zM251 819l6-3-6 0-7 3zM185 833l6-1-6-2-7 1zM290 800l7-3-7 0-6 3zM251 822l6-3-6 0-7 3zM191 835l7-1-7-2-6 1zM303 798l7-3-7-1-6 3zM251 826l6-3-6-1-7 3zM205 836l6-2-6-2-7 2zM251 829l6-2 7-3-7-1-6 3-7 2zM211 838l7-2-7-2-6 2zM251 832l6-2-6-1-7 2zM224 838l7-1 6-2-6-1-7 1-6 1zM237 839l7-2 7-1 6-2-6-2-7 2-7 1-6 2zM356 887l7-1 6 0 7-1-7-3-6 1-7 1-7 0z"/><path class=i d="M152 822l6-1-6-2-7 0zM158 824l7-1-7-2-6 1zM218 823l6-2-6-1-7 2zM165 826l7 0-7-3-7 1zM277 797l7-3-7 0-7 3zM231 822l6-3-6-1-7 3zM172 829l6-1-6-2-7 0zM237 822l7-3-7 0-6 3zM244 822l7-3-7 0-7 3zM297 797l6-3-6 0-7 3zM244 825l7-3-7 0-7 3zM198 834l7-2-7-1-7 1zM244 831l7-2-7-1-7 2zM218 836l6-1 7-1-7-2-6 1-7 1zM237 835l7-1 7-2-7-1-7 1-6 2z"/><path class=j d="M191 822l7 0-7-3-6 1zM205 823l6-1-6-2-7 2zM224 824l7-2-7-1-6 2zM284 797l6-3-6 0-7 3zM231 824l6-2-6 0-7 2zM185 830l6-1-6-2-7 1zM290 797l7-3-7 0-6 3zM237 825l7-3-7 0-6 2zM191 832l7-1-7-2-6 1zM244 828l7-2-7-1-7 2zM211 834l7-1-7-1-6 0zM231 834l6-2 7-1-7-1-6 1-7 1z"/><path class=k d="M158 821l7 0-7-3-6 1zM198 824l7-1-7-1-7 0zM165 823l7 0-7-2-7 0zM211 824l7-1-7-1-6 1zM172 826l6-1-6-2-7 0zM178 828l7-1-7-2-6 1zM198 831l7-1-7-2-7 1zM237 827l7-2-7 0-6 1zM205 832l6 0-6-2-7 1zM218 833l6-1 7-1 6-1 7-2-7-1-6 2-7 1-6 1-7 1z"/><path class=l d="M185 822l6 0-6-2-7 0zM165 821l7 0-7-2-7-1zM218 825l6-1-6-1-7 1zM224 826l7-2-7 0-6 1zM191 829l7-1-7-1-6 0zM231 826l6-1-6-1-7 2zM211 832l7-1 6-1 7-1 6-2-6-1-7 2-6 1-7 0-6 1z"/><path class=m d="M172 821l6 1 7 0-7-2-6-1-7 0zM191 824l7 0-7-2-6 0zM172 823l6 0-6-2-7 0zM205 825l6-1-6-1-7 1zM178 825l7 0-7-2-6 0zM211 826l7-1-7-1-6 1zM185 827l6 0-6-2-7 0zM218 827l6-1-6-1-7 1zM224 828l7-2-7 0-6 1zM205 830l6-1-6-1-7 0z"/><path class=n d="M178 823l7 1 6 0-6-2-7 0-6-1zM185 825l6 0 7 0 7 0-7-1-7 0-6 0-7-1zM191 827l7 0 7 0 6-1-6-1-7 0-7 0-6 0zM198 828l7 0 6 0 7-1-7-1-6 1-7 0-7 0zM211 829l7 0 6-1-6-1-7 1-6 0z"/><path d="M73 855l6 3 7 2 7 2 6 1 7 1 6 2 7 1 6 1 7 2 7 2 6 2 7 3 6 2 7 3 7 4 6 3 7 3 6 4 7 3 7 4 6 3 7 4 6 3 7 4 6 3 7 3 7 3 6 3 7-3 6-3 7-3 7-3 6-3 7-4 6-3 7-4 6-3 7-4 7-2 6-3 7-2 6-1 7-1 7-1 6 0 7-1 6-1 7-2 7-2 6-3 7-3 6-3 7-3 6-4 7-3 7-2" fill="none" stroke="#a040e0" stroke-width="2.2"/>
<g fill="none" stroke-width="1.8"><path d="M496 964l185 71 184-71-184-72z" stroke="#c4c4c4" stroke-width="2"/><path d="M681 1035V824" stroke="#c4c4c4" stroke-width="2"/><path d="M797 937l-5 2-4 2-6 1-5 2-5 1-6 1-6 2-6 1-7 1-6 1-7 1-6 1-3 1-4 0-7 1-5 2-7 0-5 0 5-3 3-2 3-3 3-2 2-3 3-3 3-2 2-2 4-3 4-2 4-2 3-2 4-2 5-2 4-2 5-2" stroke="#6c9fe0"/><path d="M807 941l-5 2-4 2-5 1-5 2-5 2-4 1-5 2-5 2-5 2-4 1-5 2-4 2-4 2-4 2-4 2-3 3-3 1-5 3-5 2-4 1-5 2-5 1-7 2-6 1-8 0-7 1-9 0-10 0-7-1-6-1-4-2-4-2-3-3-2-2-1-3-1-4 0-4 1-7 1-3 3-2 3-3 4-2 5-1 5-2 5-1 6-2 6-1 5-1 6-2 5-1 5-2 6-2 5-1 4-2 5-2 5-1 4-2 5-2 5-2 4-1 5-2" stroke="#f08576"/><path d="M816 944l-5 2-5 2-4 2-5 2-4 1-4 2-5 2-4 2-3 2-4 3-4 2-3 2-3 2-2 2-4 3-2 3-3 3-3 2-3 3-3 2-4 2-5 1-6 2-7 1-7 0-7 1-7 1-9 0-3 1-4 0-8 1-7 0-5 1-10 1-4 1-9 1-6 1-3 1-3 1-5 1-5 2-5 1M584 998l4-2 4-2 4-2 3-3 2-3 2-2 2-3 1-4 0-6-1-3-1-3-2-3-2-3-2-2-3-3-3-3-3-2-4-2-5-2-4-2-4-1-5-2-5-2M606 921l4 2 6 2 4 1 7 1 7 1 8 1 4 0 5 0 4-1 7 0 8-1 5-1 8-1 6-1 4-1 7-2 6-1 5-2 5-2 5-1 5-2 4-2" stroke="#a8a8a8"/><path d="M741 1012l-4-1-7-2-6-1-4-1-4 0-7 0-10 0-8 0-8 0-6 1-9 1-5 1-7 1-6 1-5 2-6 2-3 1-1 0M824 948l-4 1-5 2-4 2-4 2-4 2-4 2-4 2-3 2-4 3-2 3-3 2-2 3-1 3 0 4 1 3 2 4 3 2 5 3M563 989l4-1 4-3 3-1 3-3 2-3 1-3 0-4-1-4-2-3-2-2-3-3-3-2-4-2-3-2-5-2-4-2-5-2-4-2M630 912l4 1 7 2 6 1 4 0 4 0 6 0 8 0 7-1 7-1 6-1 4 0 8-3 5-1 5-2 5-1" stroke="#d08be8"/><path d="M716 1022l-5-2-6-1-8-1-6 0-8 0-5 1-9 1-6 1-3 1-3 1-4 1M833 951l-4 2-4 2-5 2-3 2-4 2-3 3-3 2-2 3-2 3 0 5 2 3 3 2 4 2M543 982l4-2 4-3 2-2 0-4-1-4-3-2-3-3-3-2-4-2-4-2-4-2-5-2" stroke="#6fcfb0"/><path d="M845 956l-4 2-4 2-4 2-3 2-2 3-1 3 2 4 3 2 1 0" stroke="#72b8ec"/></g>
<path d="M496 824V964" stroke="#c8c8c8" stroke-width="1.2"/>
<path d="M496 843l7-3 7-2 6-2 7-1 6-2 7-1 6-1 7-1 7-1 6-2 7-1 6-2 7-2 7-3 6-3 7-3 6-4 7-3 7-4 6-4 7-3 6-3 7-3 6-3 7-3 7-3 6-3 7-2 6 2 7 3 7 3 6 4 7 3 6 4 7 4 6 5 7 4 7 5 6 5 7 4 6 4 7 3 7 3 6 1 7 2 6 0 7 0 7 0 6 0 7-1 6 0 7 1 6 0 7 1 7 2 6 2" fill="none" stroke="#a040e0" stroke-width="2.6"/><path class=c d="M628 811l7-4 6-3-6-3-7 4-6 3zM635 814l6-4 7-3 6-3 7-4-7-3-6 4-7 3-6 3-7 4zM635 820l6-3 7-3 6-4 7-3 7-3 6-3 7-3-7-4-6 3-7 3-7 4-6 3-7 3-6 4-7 3zM641 823l7-3 6-3 7-3 7-4 6-3 7-3 6-3 7-3 7-3-7-3-7 3-6 3-7 3-6 3-7 3-7 3-6 4-7 3-6 3zM648 827l6-3 7-4 7-3 6-3 7-3 6-3 7-3 7-3 6-3 7-2 6-3-6-4-7 3-6 2-7 3-7 3-6 3-7 3-6 3-7 4-7 3-6 3-7 3zM654 830l7-3 7-3 6-3 7-3 6-3 7-3 7-3 6-3 7-2 6-3 7-3-7-4-6 3-7 2-6 3-7 3-7 3-6 3-7 3-6 3-7 3-7 4-6 3zM661 833l7-2 6-3 7-3 6-3 7-3 7-3 6-3 7-2 6-3 7-3 6-2-6-5-7 3-6 3-7 2-6 3-7 3-7 3-6 3-7 3-6 3-7 3-7 3zM674 834l7-3 6-2 7-3 7-3 6-2 7-3 6-3 7-2 6-3 7-3-7-4-6 2-7 3-6 3-7 2-6 3-7 3-7 3-6 3-7 3-6 3zM687 835l7-3 7-2 6-3 7-2 6-3 7-2 6-3 7-2 7-3-7-5-7 3-6 3-7 2-6 3-7 3-6 2-7 3-7 3-6 2zM714 831l6-2 7-3 6-2 7-2 7-3 6-2-6-5-7 3-7 2-6 3-7 2-6 3-7 2zM740 828l7-2 6-2 7-3-7-4-6 2-7 3-7 2z"/><path class=d d="M595 821l7-3 6-3 7-3 7-4 6-3 7-4 6-3 7-4 6-3 7-3 7-3 6-2-6-3-7 3-7 3-6 3-7 3-6 3-7 3-6 4-7 4-7 3-6 4-7 3-6 3zM641 804l7-3 6-4 7-3 7-3 6-3 7-2 6-3 7-3-7-3-6 3-7 3-6 2-7 3-7 3-6 3-7 4-6 3zM602 824l6-3 7-3 7-3 6-4-6-3-7 4-7 3-6 3-7 3zM661 800l7-3 6-3 7-3 6-2 7-3 7-3-7-3-7 3-6 3-7 2-6 3-7 3-7 3zM608 827l7-3 7-3 6-4 7-3-7-3-6 4-7 3-7 3-6 3zM681 798l6-3 7-3 7-3 6-2-6-4-7 3-7 3-6 2-7 3zM615 829l7-2 6-3 7-4-7-3-6 4-7 3-7 3zM701 795l6-2 7-3-7-3-6 2-7 3zM622 832l6-3 7-2 6-4-6-3-7 4-6 3-7 2zM529 857l7-3-7-3-6 3zM622 838l6-3 7-3 6-2 7-3-7-4-6 4-7 2-6 3-7 3zM536 860l6-2-6-4-7 3zM628 841l7-3 6-2 7-3 6-3-6-3-7 3-6 2-7 3-6 3zM542 863l7-2 7-2-7-4-7 3-6 2zM635 844l6-3 7-2 6-3 7-3-7-3-6 3-7 3-6 2-7 3zM549 867l7-2 6-2 7-2-7-4-6 2-7 2-7 2zM635 849l6-2 7-2 6-3 7-2 7-3 6-3-6-3-7 2-7 3-6 3-7 2-6 3-7 2zM556 871l6-3 7-2 6-2 7-2-7-3-6 2-7 2-6 2-7 2zM641 852l7-2 6-2 7-3 7-2 6-3 7-2 6-3-6-4-7 3-6 3-7 3-7 2-6 3-7 2-6 2zM562 875l7-3 6-2 7-2 7-2-7-4-7 2-6 2-7 2-6 3zM648 856l6-3 7-2 7-2 6-3 7-2 6-3 7-2 7-3 6-2 7-3-7-4-6 3-7 2-7 3-6 3-7 2-6 3-7 2-7 3-6 2-7 2zM569 879l6-3 7-2 7-2 6-2 7-2-7-4-6 2-7 2-7 2-6 2-7 3zM661 857l7-3 6-2 7-3 6-2 7-3 7-2 6-3 7-2 6-2 7-2 6-3 7-2-7-4-6 2-7 3-6 2-7 3-6 2-7 3-7 2-6 3-7 2-6 3-7 2-7 2zM575 882l7-2 7-2 6-3 7-2 6-2-6-3-7 2-6 2-7 2-7 2-6 3zM674 857l7-2 6-3 7-2 7-3 6-2 7-2 6-3 7-2 6-2 7-2 7-2 6-2 7-3 6-2-6-4-7 3-6 2-7 2-7 2-6 3-7 2-6 2-7 2-6 3-7 2-7 3-6 2-7 3-6 2zM582 886l7-2 6-3 7-2 6-2-6-4-7 2-6 3-7 2-7 2zM760 833l6-2 7-3-7-3-6 2-7 3zM589 889l6-2 7-3 6-2-6-3-7 2-6 3-7 2zM595 892l7-2 6-3-6-3-7 3-6 2zM773 881l7-3 6-3 7-4 6-4 7-3 7-4 6-4 7-3-7-2-6 3-7 4-7 4-6 3-7 4-6 4-7 3-7 3zM773 887l7-3 6-3 7-4 6-3 7-4 7-4 6-4 7-4 6-3 7-4 6-3 7-3-7-2-6 3-7 3-6 4-7 3-6 4-7 4-7 3-6 4-7 4-6 3-7 3-7 3z"/><path class=e d="M674 783l7-3 6-3-6-2-7 2-6 3zM582 826l7-2 6-3-6-2-7 3-7 2zM503 845l7-2 6-2-6-3-7 2-7 3zM589 829l6-2 7-3-7-3-6 3-7 2zM510 848l6-2 7-3-7-2-6 2-7 2zM595 832l7-3 6-2-6-3-7 3-6 2zM516 851l7-3 6-2-6-3-7 3-6 2zM602 834l6-2 7-3-7-2-6 2-7 3zM523 854l6-3 7-2 6-2-6-3-7 2-6 2-7 3zM602 839l6-2 7-2 7-3-7-3-7 3-6 2-7 2zM536 854l6-2 7-2-7-3-6 2-7 2zM608 842l7-2 7-2-7-3-7 2-6 2zM542 858l7-3 7-1 6-2-6-3-7 1-7 2-6 2zM608 847l7-2 7-2 6-2-6-3-7 2-7 2-6 1zM556 859l6-2 7-2 6-1-6-3-7 1-6 2-7 1zM569 861l6-2 7-2 7-1 6-2 7-1 6-2 7-1 7-2 6-2 7-2-7-3-6 2-7 2-7 2-6 1-7 2-6 1-7 1-7 2-6 1-7 2zM582 862l7-1 6-2 7-1 6-2 7-1 7-2 6-2 7-2-7-3-6 2-7 2-7 1-6 2-7 1-6 2-7 1-7 2zM589 866l6-2 7-1 6-2 7-2 7-1 6-2 7-2 6-2-6-3-7 2-6 2-7 2-7 1-6 2-7 1-6 2-7 1zM602 868l6-2 7-2 7-1 6-2 7-2 6-2 7-1-7-4-6 2-7 2-6 2-7 1-7 2-6 2-7 1zM608 871l7-1 7-2 6-2 7-2 6-1 7-2 6-2 7-2-7-4-6 3-7 1-6 2-7 2-6 2-7 1-7 2-6 2zM608 877l7-2 7-2 6-2 7-2 6-2 7-1 6-2 7-2 7-2 6-3-6-3-7 3-7 2-6 2-7 2-6 1-7 2-6 2-7 2-7 1-6 2zM608 882l7-2 7-2 6-2 7-2 6-2 7-2 6-2 7-1 7-2 6-3 7-2 6-2 7-3 7-2 6-3 7-2 6-3 7-2 6-2 7-2 7-2 6-2 7-2-7-3-6 2-7 2-7 2-6 2-7 2-6 3-7 2-6 2-7 3-7 2-6 3-7 2-6 3-7 2-7 2-6 2-7 1-6 2-7 2-6 2-7 2-7 2-6 2zM760 837l6-2 7-2 7-2-7-3-7 3-6 2-7 2zM674 867l7-2 6-2 7-3 7-2 6-3 7-2 6-3 7-2 6-2-6-3-7 2-6 3-7 2-6 3-7 2-7 3-6 2-7 2-6 3zM608 887l7-2 7-2 6-2 7-2 6-2-6-3-7 2-6 2-7 2-7 2-6 2zM694 865l7-3 6-2 7-3 6-2-6-2-7 2-6 3-7 2-7 3zM602 895l6-3 7-2 7-2 6-3 7-2-7-2-6 2-7 2-7 2-6 3-7 2zM608 897l7-2 7-3-7-2-7 2-6 3zM760 872l6-3 7-3-7-2-6 4-7 3zM753 880l7-3 6-3 7-3 7-4 6-3 7-4 6-4-6-1-7 4-6 3-7 4-7 3-6 3-7 3-6 3zM753 885l7-3 6-3 7-3 7-3 6-4 7-4 6-3 7-4 7-4 6-3 7-4-7-1-6 3-7 4-7 3-6 4-7 4-6 3-7 4-7 3-6 3-7 3-6 3zM826 853l6-4 7-3 6-3-6-2-7 3-6 3-7 4zM753 889l7-2 6-3 7-3-7-2-6 3-7 3-6 2zM852 845l7-3 6-3-6-2-7 3-7 3zM753 894l7-2 6-2 7-3-7-3-6 3-7 2-6 3zM681 914l6-2 7-2-7-3-6 3-7 2z"/><path class=f d="M569 830l6-2 7-2-7-2-6 2-7 1zM516 841l7-2 6-2-6-2-7 1-6 2zM575 833l7-2 7-2-7-3-7 2-6 2zM523 843l6-1 7-2-7-3-6 2-7 2zM575 837l7-2 7-2 6-1-6-3-7 2-7 2-6 1zM529 846l7-2 6-1 7-1-7-3-6 1-7 2-6 1zM582 839l7-1 6-2 7-2-7-2-6 1-7 2-7 2zM542 847l7-1 7-2 6-1-6-3-7 2-7 1-6 1zM549 850l7-1 6-2 7-1 6-1 7-1 7-2 6-1 7-2-7-3-6 2-7 1-7 2-6 1-7 1-6 1-7 2-7 1zM562 852l7-1 6-2 7-1 7-1 6-2 7-2 6-1-6-3-7 2-6 1-7 2-7 1-6 1-7 1-6 2zM575 854l7-2 7-1 6-1 7-2 6-1-6-4-7 2-6 2-7 1-7 1-6 2zM733 846l7-2 7-2 6-2 7-3-7-2-6 2-7 2-7 2-6 2zM641 877l7-2 6-2 7-2 7-2 6-2-6-2-7 2-7 1-6 2-7 2-6 2zM773 837l7-2 6-3-6-1-7 2-7 2zM720 855l7-3 6-2 7-2 7-2-7-2-7 2-6 2-7 2-6 3zM635 883l6-2 7-2 6-2 7-2 7-2 6-2 7-2 6-2 7-2-7-2-6 2-7 2-6 2-7 2-7 2-6 2-7 2-6 2-7 2zM622 892l6-2 7-2 6-3 7-2 6-2 7-2 7-2 6-1 7-2 6-3 7-2 7-2 6-3 7-2 6-3 7-2 6-3 7-2-7-2-6 2-7 3-6 2-7 3-6 2-7 3-7 2-6 2-7 2-6 2-7 2-7 2-6 2-7 2-6 2-7 2-6 3-7 2zM694 873l7-2 6-2 7-3 6-2 7-3 6-3 7-2-7-2-6 3-7 2-6 3-7 2-6 3-7 2-7 2zM615 899l7-3 6-2 7-2 6-3 7-2-7-2-6 3-7 2-6 2-7 3-7 2zM714 870l6-2 7-3 6-3 7-2-7-2-6 3-7 3-6 2-7 3zM622 901l6-3-6-2-7 3zM727 869l6-2 7-3-7-2-6 3-7 3zM727 873l6-2 7-3 7-3 6-3-6-1-7 3-7 3-6 2-7 3zM733 875l7-3 7-3 6-3 7-3 6-3-6-1-7 3-6 3-7 3-7 3-6 2zM733 879l7-3 7-2 6-3 7-3 6-4 7-3 7-3-7-1-7 3-6 3-7 3-6 3-7 3-7 3-6 2zM773 866l7-4 6-3 7-4 6-3-6-1-7 3-6 4-7 3-7 3zM733 883l7-2 7-3 6-3 7-3-7-1-6 3-7 2-7 3-6 2zM799 856l7-3 7-4 6-3-6-1-7 3-7 4-6 3zM733 887l7-2 7-2 6-3-6-2-7 3-7 2-6 2zM826 847l6-3 7-3-7-1-6 3-7 3zM733 891l7-2 7-2 6-2-6-2-7 2-7 2-6 2zM668 910l6-2-6-2-7 2zM845 843l7-3 7-3-7-2-7 3-6 3zM740 894l7-2 6-3-6-2-7 2-7 2zM674 912l7-2 6-3 7-2-7-2-6 2-7 3-6 2zM733 899l7-1 7-2 6-2-6-2-7 2-7 1-6 2zM694 910l7-2 6-2 7-2-7-2-6 1-7 2-7 2z"/><path class=g d="M529 837l7-1 6-1 7-1 7-1 6-2 7-1-7-3-6 2-7 1-7 1-6 1-7 1-6 2zM536 840l6-1 7-1 7-2 6-1 7-1 6-1-6-3-7 1-6 2-7 1-7 1-6 1-7 1zM549 842l7-2 6-1 7-1 6-1-6-3-7 1-6 1-7 2-7 1zM562 843l7-1 6-1 7-2-7-2-6 1-7 1-6 1zM747 846l6-3 7-2 6-2 7-2-7-2-6 2-7 3-6 2-7 2zM786 836l7-2-7-2-6 3zM740 852l7-3 6-2 7-2-7-2-6 3-7 2-7 2zM740 856l7-3 6-2-6-2-7 3-7 2zM648 887l6-2 7-2 7-2 6-2 7-2 6-2 7-2-7-2-6 3-7 2-6 1-7 2-7 2-6 2-7 2zM740 860l7-3 6-3 7-2-7-1-6 2-7 3-7 2zM628 898l7-2 6-3 7-2 6-2 7-2 7-2 6-2 7-2 6-2 7-2 7-2 6-2 7-3-7-1-6 2-7 2-7 2-6 2-7 2-6 2-7 2-7 2-6 2-7 2-6 3-7 2-6 2zM740 864l7-3 6-3 7-3-7-1-6 3-7 3-7 2zM687 883l7-2 7-2 6-2 7-3 6-2 7-3-7-1-6 2-7 3-6 2-7 2-7 2-6 2zM628 902l7-3 6-2 7-2 6-2-6-2-7 2-6 3-7 2-6 3zM753 862l7-3 6-3 7-3-7-1-6 3-7 3-6 3zM701 882l6-2 7-2 6-2 7-3-7-1-6 2-7 3-6 2-7 2zM635 903l6-2-6-2-7 3zM766 860l7-3 7-3-7-1-7 3-6 3zM707 884l7-2 6-2 7-3 6-2-6-2-7 3-6 2-7 2-6 2zM641 904l7-2-7-1-6 2zM780 858l6-4 7-3-7-1-6 4-7 3zM714 886l6-2 7-3 6-2-6-2-7 3-6 2-7 2zM648 905l6-2-6-1-7 2zM799 852l7-4 7-3-7 0-7 3-6 3zM714 889l6-2 7-2 6-2-6-2-7 3-6 2-7 1zM654 907l7-3 7-2-7-1-7 2-6 2zM819 846l7-3 6-3-6-1-7 3-6 3zM714 893l6-2 7-2 6-2-6-2-7 2-6 2-7 2zM661 908l7-2 6-2 7-3-7-1-6 2-7 2-7 3zM839 841l6-3 7-3-7-1-6 3-7 3zM714 896l6-1 7-2 6-2-6-2-7 2-6 2-7 1zM674 908l7-3 6-2 7-2 7-1-7-2-7 2-6 1-7 3-6 2zM694 905l7-2 6-1 7-2 6-1 7-2 6-2 7-1-7-3-6 2-7 2-6 1-7 2-6 2-7 1-7 2zM714 904l6-1 7-2 6-2-6-2-7 2-6 1-7 2z"/><path class=h d="M760 845l6-2 7-2 7-3 6-2-6-1-7 2-7 2-6 2-7 2zM753 851l7-3 6-2-6-1-7 2-6 2zM760 852l6-3-6-1-7 3zM760 855l6-3 7-2-7-1-6 3-7 2zM654 893l7-3 7-1 6-2 7-2 6-2-6-2-7 2-6 2-7 2-7 2-6 2zM773 853l7-3-7 0-7 2zM641 901l7-3 6-2 7-2 7-2 6-2 7-2 6-2 7-2 7-2-7-1-7 2-6 2-7 2-6 2-7 1-7 3-6 2-7 2-6 2zM780 854l6-4 7-3-7 0-6 3-7 3zM648 902l6-3 7-2 7-2 6-2 7-2 6-1 7-2 7-2 6-2-6-2-7 2-7 2-6 2-7 2-6 2-7 2-7 2-6 2-7 3zM793 851l6-3 7-3-7-1-6 3-7 3zM654 903l7-2 7-3 6-2 7-1 6-2 7-2 7-2 6-2 7-1-7-2-6 2-7 2-7 2-6 1-7 2-6 2-7 2-7 2-6 3zM813 845l6-3 7-3-7 0-6 3-7 3zM668 902l6-2 7-2 6-2 7-2 7-1 6-2 7-2-7-2-6 2-7 2-7 2-6 2-7 1-6 2-7 3zM832 840l7-3 6-3-6 0-7 2-6 3zM681 901l6-1 7-2 7-2 6-2 7-1-7-2-6 2-7 1-7 2-6 2-7 2zM701 900l6-2 7-2-7-2-6 2-7 2z"/><path class=i d="M766 846l7-2 7-3 6-2 7-2 6-3-6 0-7 2-6 2-7 3-7 2-6 2zM766 849l7-3 7-2-7 0-7 2-6 2zM773 850l7-3-7-1-7 3zM780 850l6-3 7-3-7 0-6 3-7 3zM793 847l6-3-6 0-7 3zM806 845l7-3 6-3-6 0-7 2-7 3zM826 839l6-3 7-2-7-1-6 3-7 3z"/><path class=j d="M780 844l6-2 7-3 6-2 7-3-7 0-6 3-7 2-6 2-7 3zM780 847l6-3 7-2-7 0-6 2-7 2zM793 844l6-2-6 0-7 2zM799 844l7-3 7-2-7 0-7 3-6 2zM819 839l7-3 6-3-6 0-7 3-6 3z"/><path class=k d="M793 842l6-3 7-3 7-2-7 0-7 3-6 2-7 3zM799 842l7-3 7-3-7 0-7 3-6 3zM813 839l6-3 7-3-7 1-6 2-7 3z"/><path class=l d="M813 836l6-2-6 0-7 2z"/><path d="M496 843l7 2 7 3 6 3 7 3 6 3 7 3 6 3 7 4 7 4 6 4 7 4 6 3 7 4 7 3 6 3 7 3 6 2 7 2 7 2 6 1 7 1 6 1 7 1 6 2 7 1 7 2 6 2 7 2 6-2 7-2 7-2 6-2 7-2 6-1 7-2 6-2 7-1 7-2 6-2 7-2 6-2 7-3 7-3 6-3 7-4 6-3 7-4 7-4 6-4 7-4 6-3 7-4 6-3 7-3 7-3 6-3" fill="none" stroke="#a040e0" stroke-width="2.2"/>
<g fill="none" stroke-width="1.8"><path d="M918 964l184 71 185-71-185-72z" stroke="#c4c4c4" stroke-width="2"/><path d="M1102 1035V824" stroke="#c4c4c4" stroke-width="2"/><path d="M1140 975l-6 1-8 0-8-1-5 0-8-2-5-1-5-2-4-2-3-2-3-3-2-3-2-3 1-4 6-2 7-1 6 0 8 0 6 1 8 1 5 1 5 2 4 2 3 3 3 2 2 3 1 3-1 4-5 3" stroke="#a8a8a8"/><path d="M1027 921l4 2 5 2 4 2 5 2 4 2 4 2 5 1 5 2 6 1 6 2 6 1 7 0 7 1 7 1 8 1 4 0 4 0 7 1 6 1 6 1 6 2 4 2 4 2 3 2 2 3 3 3 2 2 2 3 2 3 2 3 2 3 1 3 1 3-1 3-5 1-6 1-9 0-9-1-4 0-4 0-7-1-8-1-6 0-7-2-6-1-5-1-5-2-5-2-4-2-4-2-3-2-3-2-3-3-3-2-2-2-3-3-3-3-3-2-4-3-4-2-4-2-5-1-5-2-5-2-5-1-5-2-5-1-5-2-5-2" stroke="#d08be8"/><path d="M1191 1001l-5-2-5-1-5-2-6-1-6-2-6-1-7-1-7-1-7 0-6-1-8-1-5-1-9-1-6-1-7-1-6-1-5-2-5-2-4-1-4-2-4-2-4-3-3-2-4-2-3-3-3-2-3-2-3-3-3-2-3-2-5-2-4-2-4-2-4-2-5-2-5-2-4-1-5-2-5-2-4-2M1035 918l4 2 5 2 4 2 5 1 5 2 5 2 5 1 6 2 4 1 8 1 6 1 3 1 4 0 8 1 7 1 5 0 11 1 7 0 6 1 8 1 5 2 4 2 3 2 3 3 2 3 3 5 2 3 2 2 3 4 2 2 2 3 3 2 3 3 3 2 4 2 3 3 4 2 4 2 4 2 5 2" stroke="#6fcfb0"/><path d="M1182 1004l-5-1-5-2-5-1-6-2-6-1-6-1-7-1-7-1-7-1-7-1-7-1-7-1-7-1-6-1-6-1-6-1-5-2-5-1-4-2-5-2-3-2-4-3-3-2-4-2-3-2-2-2-4-3-3-3-3-2-4-2-4-2-3-2-4-2-5-2-4-2-4-2-5-2-4-2-5-2-5-1M1040 916l5 2 5 2 5 1 5 2 5 2 5 1 6 1 5 2 6 1 4 1 10 1 4 0 3 1 8 0 8 1 9 0 4 0 5 0 4 0 6 0 9 0 8 0 6 1 3 3 0 5 1 4 0 4 2 4 1 3 2 3 2 2 2 3 3 3 3 2 3 3 3 2 3 1 4 3 4 2 4 2 5 2 4 2" stroke="#72b8ec"/><path d="M1175 1007l-5-2-5-1-5-2-6-1-4-1-8-2-7-1-7 0-7-1-7-1-6-1-9-1-4 0-9-2-6-1-6-1-5-2-5-1-5-2-4-2-3-2-4-2-3-3-4-2-2-2-4-3-3-2-2-2-4-3-3-2-4-3-3-2-4-2-4-2-4-2-4-2-4-2-5-2-4-1-5-2M1208 933l-5 2-3 2-3 2-3 3-2 3-1 3-1 3 1 3 1 3 2 3 2 3 2 3 3 2 2 3 4 2 3 2 4 2 4 3 4 1 5 2 4 2M1046 914l4 2 5 2 5 1 5 2 5 1 6 2 6 1 6 1 6 1 7 1 3 1 5 0 7 0 9 1 9 0 9-1 7-1 7 0 7-1 6-2 5-1 5-2" stroke="#f0ac62"/><path d="M1169 1009l-5-1-5-2-5-1-3-1-3-1-6-1-7-1-7-1-7-1-7-1-6 0-9-1-7-1-8 0-6-1-7-1-4-1-7-2-5-2-5-2-4-2-3-2-4-2-3-2-3-3-3-2-2-3-3-2-3-3-3-2-3-3-3-2-4-2-2-2-5-3-4-2-4-2-4-2-4-2-5-1-4-2M1217 937l-4 1-4 3-3 2-3 2-2 3-1 4 1 5 2 3 2 3 2 3 3 2 3 3 4 2 3 2 4 2 4 2 5 2 4 2M1051 912l4 2 5 2 5 1 3 1 8 2 6 2 6 1 6 1 7 1 4 0 11 1 9 0 9 0 8-1 6-1 7-1 6-1 5-2 5-1" stroke="#eedc5a"/><path d="M1164 1011l-5-1-5-2-4-1-8-2-6-1-4 0-3-1-7-1-7 0-8-1-8 0-3-1-5 0-6 0-9-1-8-1-7-1-6-1-6-1-6-1-4-2-4-2-3-3-3-2-2-3-3-2-2-3-3-3-2-2-3-3-2-2-3-3-2-2-4-3-3-2-4-2-3-2-4-3-4-2-4-2-5-1-4-2M1225 939l-5 2-3 2-3 2-3 4-1 3-1 3 1 3 2 3 2 2 2 3 3 2 3 3 4 2 4 2 4 2 4 2 5 2M1055 910l5 2 5 2 5 1 6 2 5 1 6 1 5 1 8 1 6 1 10 1 9 0 9-1 7-1 7-1 3-1 8-1 5-2" stroke="#6c9fe0"/><path d="M1158 1013l-4-1-4-1-7-2-6-1-7-1-7-1-6-1-9-1-8 0-5 0-4 0-6-1-10 0-9 0-10 0-9 0-8 0-3 1-5 0-6 1M1232 942l-5 2-3 2-3 3-2 3-1 3 1 3 1 3 3 2 2 3 3 2 4 3 4 2 4 2 4 2 4 1M1009 999l3-2 2-3-1-3 0-5-2-4-2-4-1-3-2-2-2-3-2-3-3-3-3-2-3-3-3-2-3-2-4-2-4-2-4-2-4-2-5-2M1060 908l5 2 5 2 5 1 6 2 6 1 6 1 7 1 7 1 8 0 9 0 10 0 7-1 6-2 5-1 5-2" stroke="#f08576"/><path d="M1153 1016l-5-2-5-2-6-1-6-1-3-1-4 0-7-1-8 0-4-1-4 0-6 0-10 0-8 0-5 1-4 0-7 0-7 1-6 2-5 1M1239 945l-4 2-4 2-2 3-1 3 1 4 3 4 3 3 3 2 4 2 4 2 3 2 5 2M987 990l4-2 2-2 2-3 1-4-1-3-1-3-1-3-2-2-2-3-3-3-3-2-3-3-3-2-3-2-4-2-5-2-4-2M1065 906l5 2 5 2 5 1 6 2 6 1 4 0 3 1 7 1 8 0 4 0 6 0 10-1 6-1 6-2 5-1" stroke="#a8a8a8"/><path d="M1148 1018l-5-2-6-2-6-1-4 0-9-2-4 0-4 0-6 0-10 0-8 0-4 0-4 0-8 1-6 1-6 1-5 2M1247 948l-4 2-3 3-1 3 0 4 3 3 2 2 4 3 4 2 4 2 5 2M972 984l4-2 3-2 1-3 1-3-1-4-2-5-2-2-3-3-3-2-3-3-4-2-4-2-5-2M1071 904l4 2 6 2 5 1 6 1 4 1 10 1 8 1 4 0 6-1 9-1 6-1 3-1 2-1" stroke="#d08be8"/><path d="M1142 1020l-5-2-6-1-4-1-9-1-5-1-10 0-9 0-8 1-6 0-8 1-5 2-5 1M1258 952l-4 2-2 3 2 4 3 3 3 3 4 2 5 2M957 979l4-2 3-3 1-3 0-4-1-3-3-3-3-2-2-2-5-3-4-2M1077 902l5 2 5 1 6 1 6 2 7 0 9 1 10-1 6-1 5-2" stroke="#6fcfb0"/><path d="M1135 1022l-5-1-6-2-6-1-4 0-4 0-7 0-8 0-4 0-4 1-6 1-6 1-5 2M1284 962l2 2M940 972l4-2 2-3-1-3-2-3-3-2-4-2M1085 899l5 2 5 1 7 1 8 1 4 0 7-1 5-2" stroke="#72b8ec"/><path d="M1127 1026l-5-2-5-1-8-1-4 0-6 0-9 1-4 1-8 2" stroke="#f0ac62"/><path d="M1116 1030l-6-1-7-1-7 1-6 1" stroke="#eedc5a"/></g>
<path d="M918 824V964" stroke="#c8c8c8" stroke-width="1.2"/>
<path d="M918 869l7-2 6-2 7-1 6 0 7 0 7 1 6 2 7 2 6 2 7 2 6 2 7 1 7 0 6-1 7-3 6-4 7-5 7-6 6-7 7-7 6-8 7-7 6-7 7-7 7-6 6-5 7-4 6-3 7 3 7 3 6 4 7 5 6 5 7 5 6 6 7 7 7 6 6 6 7 6 6 5 7 4 7 3 6 2 7 0 6 1 7-1 7-1 6-1 7 0 6-1 7 0 6 1 7 1 7 2 6 2 7 2" fill="none" stroke="#a040e0" stroke-width="2.6"/><path class=b d="M1037 866l6-6 7-7 6-7 7-8 6-7 7-8 7-6 6-6-6-3-7 6-7 7-6 7-7 7-6 8-7 7-6 7-7 6zM1043 868l7-5 6-7 7-7 6-8 7-7 7-7 6-7 7-6 6-5-6-3-7 5-6 6-7 6-7 8-6 7-7 8-6 7-7 7-6 6zM1050 871l6-6 7-6 6-7 7-8 7-7 6-7 7-6 6-6 7-5-7-4-6 5-7 6-6 7-7 7-7 7-6 8-7 7-6 7-7 5zM1056 874l7-6 6-6 7-7 7-7 6-7 7-7 6-6 7-5 7-5 6-4-6-5-7 4-7 5-6 6-7 6-6 7-7 7-7 8-6 7-7 6-6 6zM1069 871l7-6 7-6 6-7 7-7 6-6 7-6 7-6 6-4 7-4-7-5-6 4-7 5-7 5-6 6-7 7-6 7-7 7-7 7-6 6zM1076 874l7-5 6-6 7-7 6-6 7-6 7-6 6-5 7-5 6-4 7-3-7-5-6 3-7 4-6 4-7 6-7 6-6 6-7 7-6 7-7 6-7 6zM1083 878l6-6 7-5 6-6 7-6 7-6 6-6 7-5 6-4 7-4 6-3-6-6-7 3-6 4-7 5-6 5-7 6-7 6-6 6-7 7-6 6-7 5zM1089 881l7-5 6-5 7-6 7-5 6-6 7-5 6-5 7-4 6-3 7-3-7-7-6 3-7 4-6 4-7 5-6 6-7 6-7 6-6 6-7 5-6 6zM1096 885l6-5 7-5 7-5 6-5 7-5 6-5 7-5 6-4 7-3 7-3-7-6-7 3-6 3-7 4-6 5-7 5-6 6-7 5-7 6-6 5-7 5zM1102 888l7-4 7-5 6-5 7-5 6-4 7-5 6-4 7-4 7-3 6-3-6-6-7 3-7 3-6 4-7 5-6 5-7 5-6 5-7 5-7 5-6 5zM1109 892l7-4 6-5 7-4 6-5 7-5 6-4 7-4 7-3 6-3 7-3-7-6-6 3-7 3-7 4-6 4-7 5-6 4-7 5-6 5-7 5-7 4zM1122 891l7-4 6-5 7-4 6-4 7-4 7-4 6-3-6-5-7 3-7 4-6 4-7 5-6 5-7 4-6 5zM1221 920l7-7 6-6 7-7 6-7-6-2-7 7-6 6-7 7-7 6zM1228 922l6-6 7-7 6-7 7-7 6-6-6-2-7 6-6 7-7 7-6 6-7 7z"/><path class=c d="M1089 811l7-5 6-4-6-3-7 4-6 5zM1030 871l7-5-7-3-7 5zM1102 809l7-4 7-3-7-3-7 3-6 4zM1037 873l6-5-6-2-7 5zM1109 813l7-4 6-3-6-4-7 3-7 4zM1043 876l7-5-7-3-6 5zM1122 814l7-3-7-5-6 3zM1050 878l6-4-6-3-7 5zM1129 819l6-3-6-5-7 3zM1056 881l7-5 6-5-6-3-7 6-6 4zM1063 883l6-4 7-5-7-3-6 5-7 5zM1069 886l7-4 7-4-7-4-7 5-6 4zM964 895l7-3-7-4-6 2zM1076 889l7-3 6-5-6-3-7 4-7 4zM971 899l6-2-6-5-7 3zM1083 893l6-4 7-4-7-4-6 5-7 3zM977 903l7-2-7-4-6 2zM1089 896l7-4 6-4-6-3-7 4-6 4zM1096 899l6-3 7-4-7-4-6 4-7 4zM1168 863l7-4 6-2-6-5-7 3-6 3zM1102 903l7-4 7-4 6-4-6-3-7 4-7 4-6 3zM1109 906l7-3 6-4 7-5 6-4 7-4 6-5 7-4 7-4 6-3 7-4 6-3 7-2-7-4-6 2-7 4-6 3-7 4-7 4-6 4-7 4-6 5-7 4-6 4-7 4-7 4zM1122 905l7-3 6-5 7-4 6-4 7-5 7-4 6-4 7-3-7-3-6 3-7 4-7 4-6 5-7 4-6 4-7 5-6 4zM1129 908l6-4 7-4 6-5 7-4 7-4-7-3-7 5-6 4-7 4-6 5-7 3zM1148 902l7-5-7-2-6 5zM1188 910l7-5 6-6-6-1-7 5-7 6zM1188 917l7-5 6-6 7-6 6-7 7-6-7-1-6 6-7 7-6 6-7 5-7 6zM1195 919l6-6 7-6 6-6 7-7 7-6 6-6-6-1-7 6-7 6-6 7-7 6-6 6-7 5zM1195 926l6-5 7-6 6-6 7-6 7-7 6-7 7-6 6-6-6-1-7 6-6 6-7 6-7 7-6 6-7 6-6 6-7 5zM1201 928l7-5 6-6 7-6 7-7 6-6 7-7 6-6 7-6 6-5-6-2-7 5-6 6-7 6-6 7-7 7-7 6-6 6-7 6-6 5zM1247 893l7-6 6-6 7-5-7-2-6 5-7 6-6 6zM1208 930l6-5 7-5-7-3-6 6-7 5zM1260 889l7-6 7-5 6-4-6-2-7 4-7 5-6 6zM1208 937l6-4 7-5 7-6-7-2-7 5-6 5-7 4z"/><path class=d d="M1102 802l7-3-7-3-6 3zM1023 875l7-4-7-3-6 4zM1030 877l7-4-7-2-7 4zM931 875l7-2-7-3-6 2zM1037 879l6-3-6-3-7 4zM938 879l6-3-6-3-7 2zM1043 882l7-4-7-2-6 3zM944 882l7-2-7-4-6 3zM1050 884l6-3-6-3-7 4zM951 886l7-2 6-2-6-4-7 2-7 2zM1056 887l7-4-7-2-6 3zM958 890l6-2 7-1-7-5-6 2-7 2zM1063 889l6-3-6-3-7 4zM971 892l6-1-6-4-7 1zM1069 892l7-3-7-3-6 3zM977 897l7-2-7-4-6 1zM1069 898l7-3 7-2-7-4-7 3-6 2zM984 901l6-2-6-4-7 2zM1076 901l7-2 6-3-6-3-7 2-7 3zM984 907l6-2 7-2-7-4-6 2-7 2zM1083 904l6-2 7-3-7-3-6 3-7 2zM990 911l7-2 7-2-7-4-7 2-6 2zM1089 908l7-2 6-3-6-4-7 3-6 2zM997 915l7-2 6-2-6-4-7 2-7 2zM1096 911l6-2 7-3-7-3-6 3-7 2zM1004 919l6-3-6-3-7 2zM1175 873l6-4 7-3 7-2-7-3-7 2-6 3-7 4zM1109 912l7-3 6-4-6-2-7 3-7 3zM1010 922l7-2-7-4-6 3zM1162 887l6-5 7-4 6-3-6-2-7 3-6 4-7 4zM1116 914l6-3 7-3-7-3-6 4-7 3zM1155 897l7-4 6-5 7-4-7-2-6 5-7 4-7 4zM1129 914l6-4 7-4 6-4-6-2-7 4-6 4-7 3zM1135 916l7-4 6-4 7-4 7-5 6-5 7-5 6-4-6-1-7 4-6 5-7 4-7 5-6 4-7 4-6 4zM1148 914l7-4 7-5 6-5 7-5 6-5-6-1-7 5-6 5-7 5-7 4-6 4zM1155 915l7-4 6-4 7-6 6-5 7-5-7-1-6 5-7 5-6 5-7 5-7 4zM1162 917l6-4 7-5 6-6 7-5 7-6-7 0-7 5-6 5-7 6-6 4-7 4zM1168 918l7-4 6-5 7-6 7-5 6-6 7-6-7 0-6 5-7 6-7 5-6 6-7 5-6 4zM1201 899l7-7 6-6 7-6-7 0-6 6-7 6-6 6zM1175 920l6-4 7-6-7-1-6 5-7 4zM1221 887l7-6 6-6-6 0-7 5-7 6zM1175 926l6-4 7-5-7-1-6 4-7 4zM1234 882l7-6-7-1-6 6zM1181 928l7-4 7-5-7-2-7 5-6 4zM1247 877l7-5-7-1-6 5zM1188 930l7-4-7-2-7 4zM1260 874l7-4-7-2-6 4zM1195 932l6-4-6-2-7 4zM1267 876l7-4-7-2-7 4zM1201 934l7-4-7-2-6 4zM1280 874l7-3-7-2-6 3z"/><path class=e d="M1017 877l6-2-6-3-7 3zM925 872l6-2-6-3-7 2zM1023 879l7-2-7-2-6 2zM938 873l6-2-6-3-7 2zM1030 882l7-3-7-2-7 2zM944 876l7-1-7-4-6 2zM1037 884l6-2-6-3-7 3zM951 880l7-2 6-1-6-3-7 1-7 1zM1043 886l7-2-7-2-6 2zM964 882l7-1-7-4-6 1zM1050 889l6-2-6-3-7 2zM971 887l6-1-6-5-7 1zM1056 892l7-3-7-2-6 2zM977 891l7-1-7-4-6 1zM1063 894l6-2-6-3-7 3zM984 895l6-1-6-4-7 1zM990 899l7-1-7-4-6 1zM1069 902l7-1-7-3-6 1zM997 903l7-1-7-4-7 1zM1076 906l7-2-7-3-7 1zM1004 907l6-1-6-4-7 1zM1083 909l6-1-6-4-7 2zM1010 911l7-1-7-4-6 1zM1089 912l7-1-7-3-6 1zM1010 916l7-1 6-2-6-3-7 1-6 2zM1102 914l7-2-7-3-6 2zM1017 920l6-2-6-3-7 1zM1181 875l7-4 7-3-7-2-7 3-6 4zM1109 917l7-3-7-2-7 2zM1017 925l6-2 7-2-7-3-6 2-7 2zM1175 884l6-4 7-4-7-1-6 3-7 4zM1122 917l7-3-7-3-6 3zM1023 927l7-2-7-2-6 2zM1181 885l7-5-7 0-6 4zM1129 919l6-3-6-2-7 3zM1181 890l7-5-7 0-6 4zM1135 920l7-2 6-4-6-2-7 4-6 3zM1188 891l7-6-7 0-7 5zM1148 919l7-4-7-1-6 4zM1195 891l6-5 7-6-7 0-6 5-7 6zM1155 921l7-4-7-2-7 4zM1208 886l6-6-6 0-7 6zM1162 922l6-4-6-1-7 4zM1221 880l7-5-7 0-7 5zM1168 924l7-4-7-2-6 4zM1234 875l7-5-7 0-6 5zM1168 929l7-3-7-2-6 3zM1241 876l6-5-6-1-7 5zM1175 930l6-2-6-2-7 3zM1254 872l6-4-6-1-7 4zM1181 932l7-2-7-2-6 2zM1267 870l7-3-7-2-7 3zM1188 935l7-3-7-2-7 2zM1274 872l6-3-6-2-7 3zM1195 937l6-3-6-2-7 3zM1201 940l7-3-7-3-6 3z"/><path class=f d="M931 870l7-2-7-3-6 2zM944 871l7-1-7-3-6 1zM951 875l7-1-7-4-7 1zM971 881l6 0-6-4-7 0zM977 886l7-1-7-4-6 0zM1050 893l6-1-6-3-7 1zM984 890l6-1-6-4-7 1zM1056 896l7-2-7-2-6 1zM990 894l7-1-7-4-6 1zM1063 899l6-1-6-4-7 2zM997 898l7 0-7-5-7 1zM1063 903l6-1-6-3-7 1zM1004 902l6 0-6-4-7 0zM1069 907l7-1-7-4-6 1zM1010 906l7-1-7-3-6 0zM1076 910l7-1-7-3-7 1zM1017 910l6-1-6-4-7 1zM1083 913l6-1-6-3-7 1zM1023 913l7 0-7-4-6 1zM1096 915l6-1-6-3-7 1zM1023 918l7-1-7-4-6 2zM1195 868l6-2-6-2-7 2zM1102 918l7-1-7-3-6 1zM1030 921l7-2-7-2-7 1zM1188 876l7-4-7-1-7 4zM1116 919l6-2-6-3-7 3zM1030 925l7-2-7-2-7 2zM1188 880l7-4-7 0-7 4zM1122 921l7-2-7-2-6 2zM1030 929l7-2-7-2-7 2zM1188 885l7-4-7-1-7 5zM1129 923l6-3-6-1-7 2zM1195 885l6-5-6 1-7 4zM1142 922l6-3-6-1-7 2zM1208 880l6-5-6 1-7 4zM1148 924l7-3-7-2-6 3zM1214 880l7-5-7 0-6 5zM1155 925l7-3-7-1-7 3zM1228 875l6-5-6 0-7 5zM1162 927l6-3-6-2-7 3zM1247 871l7-4-7-1-6 4zM1260 868l7-3-7-1-6 3zM1188 939l7-2-7-2-7 1zM1195 941l6-1-6-3-7 2zM1102 934l7-2-7-2-6 2z"/><path class=g d="M1010 878l7-1-7-2-6 1zM938 868l6-1-6-3-7 1zM958 874l6-1-6-3-7 0zM964 877l7 0-7-4-6 1zM1037 888l6-2-6-2-7 1zM977 881l7 0-7-4-6 0zM1043 890l7-1-7-3-6 2zM984 885l6 0-6-4-7 0zM990 889l7 0-7-4-6 0zM1050 897l6-1-6-3-7 1zM997 893l7 0-7-4-7 0zM1056 900l7-1-7-3-6 1zM1004 898l6-1-6-4-7 0zM1010 902l7-1-7-4-6 1zM1063 907l6 0-6-4-7 1zM1017 905l6 0-6-4-7 1zM1069 910l7 0-7-3-6 0zM1023 909l7 0-7-4-6 0zM1030 913l7-1-7-3-7 0zM1089 916l7-1-7-3-6 1zM1030 917l7-1-7-3-7 0zM1096 919l6-1-6-3-7 1zM1037 919l6 0-6-3-7 1zM1195 872l6-3 7-3-7 0-6 2-7 3zM1109 921l7-2-7-2-7 1zM1037 923l6-1-6-3-7 2zM1195 876l6-3-6-1-7 4zM1116 923l6-2-6-2-7 2zM1037 927l6-2-6-2-7 2zM1195 881l6-5-6 0-7 4zM1201 880l7-4-7 0-6 5zM1135 924l7-2-7-2-6 3zM1142 926l6-2-6-2-7 2zM1221 875l7-5-7 1-7 4zM1148 927l7-2-7-1-6 2zM1155 929l7-2-7-2-7 2zM1241 870l6-4-6 0-7 4zM1162 931l6-2-6-2-7 2zM1254 867l6-3-6-1-7 3zM1168 932l7-2-7-1-6 2zM1175 934l6-2-6-2-7 2zM1181 936l7-1-7-3-6 2zM1109 932l7-1-7-3-7 2z"/><path class=h d="M1017 881l6-2-6-2-7 1zM951 870l7 0-7-3-7 0zM1023 883l7-1-7-3-6 2zM1030 885l7-1-7-2-7 1zM971 877l6 0-6-4-7 0zM990 885l7 1-7-4-6-1zM1043 894l7-1-7-3-6 1zM997 889l7 1-7-4-7-1zM1004 893l6 1-6-4-7-1zM1050 900l6 0-6-3-7 0zM1010 897l7 1-7-4-6-1zM1056 904l7-1-7-3-6 0zM1017 901l6 0-6-3-7-1zM1056 907l7 0-7-3-6-1zM1023 905l7 0-7-4-6 0zM1063 910l6 0-6-3-7 0zM1030 909l7 0-7-4-7 0zM1076 914l7-1-7-3-7 0zM1037 912l6 0-6-3-7 0zM1083 917l6-1-6-3-7 1zM1037 916l6-1-6-3-7 1zM1043 919l7-1-7-3-6 1zM1102 922l7-1-7-3-6 1zM1043 922l7-1-7-2-6 0zM1201 873l7-4-7 0-6 3zM1201 876l7-4-7 1-6 3zM1122 924l7-1-7-2-6 2zM1037 930l6-2-6-1-7 2zM1208 876l6-4-6 0-7 4zM1129 926l6-2-6-1-7 1zM1214 875l7-4-7 1-6 4zM1234 870l7-4-7 1-6 3zM1096 932l6-2-6-1-7 2z"/><path class=i d="M944 867l7 0-7-3-6 0zM964 873l7 0-7-3-6 0zM984 881l6 1-6-4-7-1zM1037 891l6-1-6-2-7 0zM1037 894l6 0-6-3-7 0zM1004 890l6 0-6-3-7-1zM1043 897l7 0-7-3-6 0zM1010 894l7 0-7-4-6 0zM1043 900l7 0-7-3-6 0zM1017 898l6 0 7 1-7-4-6-1-7 0zM1023 901l7 1 7 0 6 1 7 0 6 1-6-4-7 0-6-1-7 0-7-1-6 0zM1030 905l7 1 6 0 7 1 6 0-6-4-7 0-6-1-7 0-7-1zM1056 910l7 0-7-3-6 0zM1037 909l6 0 7 0-7-3-6 0-7-1zM1069 914l7 0-7-4-6 0zM1043 912l7 0-7-3-6 0zM1076 917l7 0-7-3-7 0zM1043 915l7 0-7-3-6 0zM1089 920l7-1-7-3-6 1zM1050 918l6 0-6-3-7 0zM1050 921l6 0-6-3-7 1zM1109 924l7-1-7-2-7 1zM1043 925l7-1-7-2-6 1zM1043 928l7-2-7-1-6 2zM1043 931l7-2-7-1-6 2zM1135 927l7-1-7-2-6 2zM1228 870l6-3-6 0-7 4zM1142 929l6-2-6-1-7 1zM1148 930l7-1-7-2-6 2zM1247 866l7-3-7 0-6 3zM1168 935l7-1-7-2-6 1zM1109 926l7 0-7 0-7-1zM1175 937l6-1-6-2-7 1zM1181 939l7 0-7-3-6 1zM1188 942l7-1-7-2-7 0z"/><path class=j d="M958 870l6 0-6-3-7 0zM1023 885l7 0-7-2-6 0zM977 877l7 1-7-4-6-1zM1030 888l7 0-7-3-7 0zM997 886l7 1-7-4-7-1zM1010 890l7 1-7-3-6-1zM1017 894l6 1 7 1 7 1 6 0-6-3-7-1-7-1-6-1-7-1zM1030 899l7 0 6 1-6-3-7-1-7-1zM1050 909l6 1-6-3-7-1zM1050 912l6 1 7 0 6 1-6-4-7 0-6-1-7 0zM1050 915l6 0 7 1 6 0 7 1-7-3-6-1-7 0-6-1-7 0zM1083 919l6 1-6-3-7 0zM1056 918l7 0-7-3-6 0zM1096 922l6 0-6-3-7 1zM1208 869l6-2-6-1-7 3zM1102 924l7 0-7-2-6 0zM1050 924l6-1-6-2-7 1zM1208 872l6-3-6 0-7 4zM1116 925l6-1-6-1-7 1zM1050 926l6-1-6-1-7 1zM1214 872l7-4-7 1-6 3zM1122 927l7-1-7-2-6 1zM1221 871l7-4-7 1-7 4zM1241 866l6-3-6 1-7 3zM1155 932l7-1-7-2-7 1zM1162 933l6-1-6-1-7 1zM1089 931l7-2-7-1-6 2zM1102 930l7-2-7-1-6 2z"/><path class=k d="M1004 878l6 0-6-2-7 0zM951 867l7 0-7-3-7 0zM1010 881l7 0-7-3-6 0zM1017 883l6 0-6-2-7 0zM971 873l6 1-6-3-7-1zM990 882l7 1-7-4-6-1zM1030 891l7 0-7-3-7 0zM1004 887l6 1-6-4-7-1zM1017 891l6 1 7 1 7 1-7-3-7-1-6-1-7-1zM1063 918l6 1 7 0 7 0-7-2-7-1-6 0-7-1zM1089 922l7 0-7-2-6-1zM1056 921l7 0-7-3-6 0zM1056 923l7 0-7-2-6 0zM1214 869l7-3-7 1-6 2zM1050 929l6-2-6-1-7 2zM1129 928l6-1-6-1-7 1zM1050 931l6-2-6 0-7 2zM1083 930l6-2-6 0-7 2z"/><path class=l d="M964 870l7 1-7-3-6-1zM984 878l6 1-6-3-7-2zM1023 888l7 0-7-3-6 0zM997 883l7 1-7-3-7-2zM1010 888l7 1 6 1 7 1-7-3-6-1-7-1-6-2zM1063 921l6 0 7 0 7 1 6 0-6-3-7 0-7 0-6-1-7 0zM1096 924l6 0-6-2-7 0zM1063 923l6 0-6-2-7 0zM1109 926l7-1-7-1-7 0zM1056 925l7-1-7-1-6 1zM1221 868l7-3-7 1-7 3zM1056 927l7-1-7-1-6 1zM1228 867l6-3-6 1-7 3zM1234 867l7-3-7 0-6 3zM1135 930l7-1-7-2-6 1zM1056 931l7-2-7 0-6 2zM1142 931l6-1-6-1-7 1zM1175 939l6 0-6-2-7 0zM1181 942l7 0-7-3-6 0z"/><path class=m d="M958 867l6 1-6-3-7-1zM977 874l7 2-7-4-6-1zM1017 885l6 0-6-2-7-1zM990 879l7 2-7-4-6-1zM1017 887l6 1-6-3-7-1zM1004 884l6 2-6-4-7-1zM1089 924l7 0-7-2-6 0zM1069 923l7 0-7-2-6 0zM1102 926l7 0-7-2-6 0zM1063 924l6 0-6-1-7 0zM1116 927l6 0-6-2-7 1zM1056 929l7-2-7 0-6 2zM1063 931l6-2-6 0-7 2zM1148 932l7 0-7-2-6 1zM1089 926l7 0-7 0-6 0zM1069 930l7-2-7 1-6 2zM1155 934l7-1-7-1-7 0zM1076 930l7-2-7 0-7 2zM1162 935l6 0-6-2-7 1zM1168 937l7 0-7-2-6 0zM1135 929l7 2-7-2-6-1z"/><path class=n d="M964 868l7 1 6 2 7 2 6 2 7 2 7 1-7-2-7-1-6-2-7-2-6-2-7-2-6-2zM971 871l6 1 7 2 6 2 7 2 7 2 6 1-6-3-7-1-7-2-6-2-7-2-6-2-7-1zM984 876l6 1 7 2 7 2 6 1 7 1-7-2-6-1-7-2-7-2-6-2-7-2zM997 881l7 1 6 2 7 1-7-3-6-1-7-2-7-2zM1010 886l7 1-7-3-6-2zM1076 923l7 0 6 1-6-2-7-1-7 0zM1069 924l7 0 7 1 6 0 7 1 6 0-6-2-7 0-6-1-7 0-7 0-6 0zM1063 926l6-1 7 0 7 0 6 1 7 0 6 1 7 0 7 0-7-1-7 0-6 0-7-1-6 0-7-1-7 0-6 0-7 1zM1063 927l6-1 7 0 7 0 6 0 7 1 6 0 7 1 7 0 6 1 7-1-7-1-6 0-7 0-7 0-6-1-7 0-6-1-7 0-7 0-6 1-7 1zM1109 928l7 1 6 0 7 1 6 0-6-2-7 1-6-1-7 0-7-1zM1063 929l6-2 7-1 7 0 6 0-6 0-7 0-7 0-6 1-7 2zM1122 929l7 1 6 1 7 0-7-1-6 0-7-1-6 0zM1069 929l7-2 7-1 6 0-6 0-7 0-7 1-6 2zM1135 931l7 1 6 0-6-1-7 0-6-1zM1076 928l7-1 6-1-6 0-7 1-7 2zM1142 932l6 1 7 1-7-2-6 0-7-1zM1148 933l7 1 7 1-7-1-7-1-6-1zM1155 935l7 1 6 1-6-2-7-1-7-1zM1162 937l6 1 7 1-7-2-6-1-7-1zM1155 935l7 2-7-2-7-2z"/><path class=d d="M1109 927l7 1-7-1-7 0zM1116 927l6 1 7 1-7 0-6-1-7-1zM1129 928l6 2-6-1-7-1z"/><path class=e d="M1116 928l6 1-6-1-7-1zM1102 926l7 1-7 0-6-1zM1129 929l6 2-6-1-7-1zM1109 926l7 1-7 0-7-1zM1135 930l7 2-7-1-6-2zM1122 927l7 1-7 0-6-1zM1135 929l7 2-7-1-6-2z"/><path class=f d="M1096 926l6 1 7 0 7 1-7 0-7-1-6-1-7 0zM1122 929l7 1-7-1-6-1zM1116 926l6 1-6 0-7-1zM1142 931l6 2-6-1-7-2zM1129 928l6 1-6-1-7-1z"/><path class=g d="M1096 926l6 0-6 0-7 0zM1102 925l7 1-7 0-6 0z"/><path class=h d="M1116 928l6 1-6 0-7-1zM1135 931l7 1-7-1-6-1zM1142 932l6 1-6-1-7-1z"/><path class=i d="M1089 926l7 0-7 0-6 0zM1148 933l7 2-7-2-6-1zM1122 927l7 1-7-1-6-1zM1142 931l6 2 7 2-7-2-6-2-7-2z"/><path class=j d="M1096 926l6 1 7 1-7-1-6 0-7-1zM1129 930l6 1-6-1-7-1z"/><path class=l d="M1089 926l7 0-7 0-6 0z"/><path class=i d="M1116 931l6-1-6-2-7 0z"/><path class=l d="M1096 929l6-2-6-1-7 2zM1109 928l7 0-7-2-7 1zM1122 930l7 0-7-2-6 0z"/><path class=n d="M1083 928l6-2 7 0 6-1-6 1-7 0-6 1-7 1zM1089 928l7-2 6 0 7 0-7-1-6 1-7 0-6 2zM1102 927l7-1 7 0 6 1-6-1-7 0-7 0-6 0zM1116 928l6 0 7 0 6 1-6-1-7-1-6-1-7 0zM1129 930l6 0 7 1 6 2 7 2 7 2 6 2 7 2 6 1-6-3-7-1-6-1-7-2-7-2-6-2-7-2-6-1-7 0z"/><path d="M918 869l7 3 6 3 7 4 6 3 7 4 7 4 6 5 7 4 6 4 7 4 6 4 7 4 7 4 6 3 7 3 6 2 7 2 7 1 6 1 7 0 6 0 7 0 6-1 7 0 7 0 6 1 7 1 6 2 7-2 7-1 6-1 7 0 6 0 7 1 6 2 7 2 7 2 6 2 7 2 6 1 7 0 7-1 6-1 7-3 6-4 7-5 7-6 6-6 7-7 6-7 7-7 6-6 7-6 7-5 6-4 7-3" fill="none" stroke="#a040e0" stroke-width="2.2"/>
<g fill="none" stroke-width="1.8"><path d="M1341 964l185 71 184-71-184-72z" stroke="#c4c4c4" stroke-width="2"/><path d="M1526 1035V824" stroke="#c4c4c4" stroke-width="2"/><path d="M1551 970l-6 1-9-1-4 0-8-2-5-2-4-2-4-2-3-2-2-3 1-4 6-2 7 0 8 1 7 1 6 1 5 2 4 2 4 2 2 3-1 5-4 2M1444 924l4 2 4 2 4 2 2 3-2 4-8-1-6-1-6-1-6-1-5-2" stroke="#a8a8a8"/><path d="M1618 999l-4-2-4-2-4-2-4-2-4-2-4-2-6-1-7-1-6-1-7-1-7-1-7-1-7-1-6-1-4 0-3-1-6-1-6-1-4-1-7-2-5-2-4-2-4-2-4-2-4-2-3-2-4-2-3-2-4-3-4-2-5-2-5-1-5-2-5-1-6-2-5-1-5-2-6-1-5-2-5-2-4-1M1453 920l5 2 4 2 5 2 4 2 4 1 5 2 4 2 5 2 5 2 5 1 6 1 6 2 7 1 6 1 4 0 10 1 4 1 9 2 6 1 5 1 4 2 4 3 3 2 2 2 3 3 2 3 2 3 1 3 2 2 2 4 2 2 2 3 4 2 2 3 4 2 5 2 6 1 5 1 5 2 5 2" stroke="#d08be8"/><path d="M1606 1004l-5-2-4-2-5-1-5-2-4-2-5-1-6-2-4-1-7-2-6-1-6-1-6-1-7-2-5-1-7-1-6-1-6-1-4-2-6-2-5-1-4-2-4-2-4-2-4-2-4-2-4-3-3-2-4-2-4-2-5-2-4-2-5-1-5-2-5-2-5-1-5-2-5-2-5-1-4-2-5-2M1460 918l4 1 5 2 4 2 5 2 5 1 5 2 5 2 5 1 5 2 6 1 6 1 4 1 10 1 4 1 10 1 7 1 7 1 7 0 7 2 5 1 4 2 3 2 3 3 2 3 2 3 2 4 3 4 3 3 2 2 2 2 4 3 4 3 3 2 4 2 5 2 4 2 4 1 5 2 4 2" stroke="#6fcfb0"/><path d="M1599 1007l-5-2-4-2-5-2-5-1-5-2-5-1-6-2-5-1-4-1-8-2-6-1-5-1-8-1-6-1-3-1-3-1-6-1-6-1-5-2-5-2-5-1-4-2-4-2-4-2-4-2-4-2-4-3-3-2-4-2-4-2-4-2-5-2-4-1-5-2-4-2-5-2-5-2-5-1-4-2-5-2-5-2M1465 915l5 2 5 2 4 2 5 1 5 2 5 2 5 1 6 2 6 1 4 1 9 1 6 1 8 1 4 0 11 1 9 0 9 0 9 0 8 1 7 1 3 2 1 3 1 4 0 4 1 3 1 3 1 3 2 3 2 2 2 3 3 3 3 2 3 2 3 3 4 2 4 2 4 2 5 2 4 1 5 2" stroke="#72b8ec"/><path d="M1593 1009l-4-2-5-2-5-1-5-2-5-1-6-2-4-1-7-2-6-1-7-1-6-1-6-1-4-1-9-1-6-2-6-1-6-1-5-2-5-2-4-1-5-2-4-2-4-2-4-2-3-3-4-2-4-2-3-2-4-2-3-2-5-2-5-2-4-2-4-2-5-2-4-1-5-2-5-2-4-2-5-2M1631 933l-4 2-4 2-3 2-3 3-2 3-2 2-1 4 0 4 1 3 2 3 2 3 2 3 3 2 3 3 3 2 3 2 4 2 4 2 5 2 4 2 5 2M1470 914l5 1 5 2 4 2 5 1 6 2 5 1 5 2 6 1 6 1 7 1 5 1 10 1 8 0 4 0 5 0 4 0 6 0 10-1 7 0 6-2 5-1 6-1 5-2" stroke="#f0ac62"/><path d="M1588 1011l-5-2-4-2-5-1-6-2-5-1-3-1-3-1-5-1-7-1-5-1-7-1-7-1-7-1-6-1-3-1-4 0-6-2-6-1-4-1-7-2-5-1-4-2-4-2-4-2-4-2-4-2-4-3-3-2-4-2-3-2-4-2-4-2-4-3-4-2-4-1-4-3-4-1-5-2-4-2-5-2-4-2-5-2M1641 937l-3 1-6 3-3 2-3 2-2 3-1 3-1 4 1 3 1 3 2 3 2 3 3 2 3 3 3 2 4 2 4 2 4 2 5 2 4 2M1475 912l5 1 4 2 5 2 6 1 5 2 5 1 6 2 6 1 7 1 5 1 10 0 8 1 10 0 10-1 7-1 6-1 5-1 6-2 5-2" stroke="#eedc5a"/><path d="M1583 1013l-4-2-5-2-5-1-6-2-4-1-7-1-6-2-6-1-7-1-7-1-7-1-7 0-7-1-7-1-7-1-6-1-5-2-6-1-5-2-4-2-4-2-4-2-4-2-3-2-4-3-3-2-3-2-4-2-3-3-3-2-4-2-4-2-4-2-4-2-4-2-4-2-4-2-5-2-4-2-5-2M1648 940l-4 1-4 3-3 2-3 2-1 3-2 4 1 3 1 3 2 3 2 3 3 2 3 3 4 2 4 2 4 2 4 2 4 2M1480 910l4 2 5 1 5 2 6 1 5 2 6 1 4 1 8 2 7 0 8 1 9 0 4 0 6 0 9-1 4-1 8-1 6-2 5-2" stroke="#6c9fe0"/><path d="M1579 1015l-5-2-5-2-5-1-6-2-6-1-6-1-6-1-7-1-7-1-7-1-6 0-10-1-7-1-7 0-8-1-5-1-8-1-6-2-5-1-4-2-4-2-3-3-3-2-3-2-3-3-3-2-3-3-2-2-3-3-4-2-3-2-3-3-4-2-3-2-4-2-4-2-5-2-4-2-4-2-5-2M1655 942l-4 2-4 2-3 3-2 2-1 4-1 3 2 3 2 3 2 3 3 2 3 3 4 2 4 2 4 2 5 2M1484 908l5 2 5 1 5 2 6 1 5 2 6 1 7 1 7 1 7 1 5 0 4 0 5 0 6-1 9-1 6-1 5-1 5-2" stroke="#f08576"/><path d="M1574 1017l-5-2-5-2-5-1-4-1-8-2-7-1-7-1-7-1-7 0-6-1-10 0-10 0-9 0-8 0-8 0-6 1-7 2M1662 945l-4 2-4 2-2 3-2 3 1 7 2 2 2 3 4 2 3 2 4 3 4 2 5 1M1419 994l4-2 1-3 0-4-1-3-2-3-2-3-2-2-3-3-2-3-3-2-3-2-4-3-3-2-4-2-4-2-4-2-5-2-4-2M1489 906l5 2 5 1 5 2 6 1 6 2 6 1 7 1 8 0 6 0 8 0 6 0 8-2 6-1 4-2" stroke="#a8a8a8"/><path d="M1569 1018l-5-1-5-2-6-1-6-2-6-1-5 0-9-1-8-1-5 0-4 0-6 0-4 0-4 0-7 1-8 1-5 1-6 2M1670 948l-4 2-4 2-2 3 1 6 2 3 2 3 3 2 4 2 4 2 5 2M1398 986l4-3 2-2 0-4-1-4-3-4-2-2-3-3-3-2-4-2-3-3-4-2-5-2-4-1M1495 904l4 2 6 1 5 2 6 1 6 1 7 1 3 1 5 0 6 0 8 0 7-1 6-2 5-1" stroke="#d08be8"/><path d="M1563 1021l-4-2-6-2-5-1-7-1-5-1-9-1-9 0-4 0-5 0-11 1-6 1-6 1-5 2M1679 952l-4 2-2 2-1 4 2 3 3 3 3 2 4 2 4 2M1381 979l4-2 2-3-1-6-2-3-3-2-4-3-3-2-4-2-5-2M1501 902l5 1 5 2 5 1 7 1 6 1 3 1 5 0 4 0 7 0 8-2 5-1" stroke="#6fcfb0"/><path d="M1557 1023l-4-2-6-1-6-2-5 0-9-1-9 0-11 0-6 1-6 2-5 1M1694 957l-3 3 1 3 3 3 4 2M1364 973l4-3-1-6-3-2-4-2-4-2M1508 899l5 1 6 2 6 1 7 1 6 0 4 0 3-1 6-1" stroke="#72b8ec"/><path d="M1550 1026l-5-2-5-1-7-1-7-1-9 0-7 1-6 1-5 2" stroke="#f0ac62"/><path d="M1540 1029l-5-1-7-1-5 0-5 0-8 2" stroke="#eedc5a"/></g>
<path d="M1341 824V964" stroke="#c8c8c8" stroke-width="1.2"/>
<path d="M1341 869l7-2 6-1 7 0 7 0 6 1 7 2 6 2 7 3 6 2 7 2 7 1 6 1 7-1 6-2 7-3 7-4 6-5 7-7 6-7 7-7 7-8 6-7 7-8 6-6 7-6 6-6 7-4 7-3 6 3 7 3 6 4 7 4 7 5 6 6 7 6 6 6 7 6 6 6 7 6 7 5 6 4 7 3 6 2 7 2 7 0 6-1 7-1 6-1 7 0 6-1 7 0 7 0 6 1 7 2 6 2 7 2" fill="none" stroke="#a040e0" stroke-width="2.6"/><path class=b d="M1460 867l6-6 7-7 7-7 6-8 7-8 6-7 7-7 6-6-6-2-7 6-6 6-7 8-6 7-7 8-7 7-6 7-7 7zM1466 870l7-6 7-7 6-8 7-7 6-8 7-7 6-7 7-5 7-6-7-3-7 5-6 6-7 7-6 7-7 8-6 8-7 7-7 7-6 6zM1473 872l7-6 6-6 7-8 6-7 7-7 6-7 7-7 7-6 6-5-6-4-7 6-7 5-6 7-7 7-6 8-7 7-6 8-7 7-7 6zM1480 875l6-6 7-7 6-6 7-7 6-8 7-6 7-7 6-6 7-4 6-5-6-4-7 4-6 5-7 6-7 7-6 7-7 7-6 7-7 8-6 6-7 6zM1493 872l6-6 7-7 6-7 7-7 7-6 6-6 7-6 6-5 7-4-7-5-6 5-7 4-6 6-7 7-7 6-6 8-7 7-6 6-7 7zM1499 875l7-6 6-6 7-7 7-6 6-6 7-6 6-6 7-4 7-4 6-3-6-6-7 3-7 4-6 5-7 6-6 6-7 6-7 7-6 7-7 7-6 6zM1506 878l6-6 7-5 7-7 6-6 7-5 6-6 7-5 7-5 6-3 7-3-7-6-6 3-7 4-7 4-6 6-7 6-6 6-7 6-7 7-6 6-7 6zM1512 881l7-5 7-5 6-6 7-6 6-5 7-6 7-4 6-5 7-3 6-3-6-6-7 3-6 3-7 5-7 5-6 6-7 5-6 6-7 7-7 5-6 6zM1519 884l7-4 6-5 7-6 6-5 7-5 7-5 6-5 7-4 6-3 7-3-7-6-6 3-7 3-6 5-7 4-7 6-6 5-7 6-6 6-7 5-7 5zM1526 888l6-5 7-5 6-4 7-5 7-5 6-5 7-4 6-4 7-3 6-3-6-6-7 3-6 3-7 4-6 5-7 5-7 5-6 5-7 6-6 5-7 4zM1539 887l6-5 7-4 7-5 6-4 7-5 6-4 7-3 6-3 7-3-7-6-6 3-7 3-6 4-7 4-6 5-7 5-7 5-6 4-7 5zM1552 886l7-5 6-4 7-4 6-4 7-4 6-3-6-5-7 3-6 4-7 5-6 4-7 5-7 4zM1638 917l6-7 7-7-7-2-6 7-7 6zM1638 925l6-6 7-7 6-7 7-7 6-7-6-2-7 7-6 7-7 7-6 7-7 6zM1644 928l7-7 6-7 7-7 6-7 7-6 7-7-7-2-7 6-6 7-7 7-6 7-7 7-6 6z"/><path class=c d="M1512 811l7-5 7-4-7-3-7 4-6 6zM1447 877l6-4 7-6-7-2-6 5-7 4zM1526 809l6-4 7-3-7-3-6 3-7 4zM1453 879l7-4 6-5-6-3-7 6-6 4zM1532 813l7-4 6-3-6-4-7 3-6 4zM1466 877l7-5-7-2-6 5zM1545 813l7-3-7-4-6 3zM1473 879l7-4-7-3-7 5zM1552 818l7-3-7-5-7 3zM1480 882l6-5 7-5-7-3-6 6-7 4zM1486 884l7-4 6-5-6-3-7 5-6 5zM1493 887l6-4 7-5-7-3-6 5-7 4zM1499 890l7-4 6-5-6-3-7 5-6 4zM1506 893l6-4 7-5-7-3-6 5-7 4zM1512 896l7-4 7-4-7-4-7 5-6 4zM1519 899l7-4 6-4 7-4-7-4-6 5-7 4-7 4zM1591 862l7-3 7-3-7-5-7 3-6 3zM1526 902l6-3 7-4 6-5 7-4-7-4-6 5-7 4-6 4-7 4zM1532 905l7-3 6-4 7-5 7-4 6-4 7-4 6-5 7-3 6-4 7-3 7-3 6-3-6-4-7 3-7 3-6 3-7 4-6 4-7 4-6 4-7 5-7 4-6 5-7 4-6 3zM1545 904l7-4 7-4 6-4 7-4 6-5 7-4 6-3 7-4-7-3-6 4-7 3-6 5-7 4-6 4-7 4-7 5-6 4zM1559 903l6-4 7-5 6-4 7-4-7-3-6 5-7 4-6 4-7 4zM1605 915l6-6 7-6 6-6-6 0-7 5-6 6-7 5zM1605 921l6-5 7-5 6-6 7-7 7-6-7-1-7 6-6 6-7 6-6 6-7 4zM1605 928l6-4 7-6 6-5 7-7 7-6 6-7 7-7-7 0-6 6-7 6-7 7-6 6-7 5-6 5-7 5zM1611 930l7-4 6-5 7-7 7-6 6-7 7-7 6-6 7-6-7-2-6 6-7 7-6 7-7 6-7 7-6 5-7 6-6 4zM1651 903l6-7 7-7 6-6 7-5-7-2-6 6-7 6-6 6-7 7zM1618 933l6-5 7-5 7-6-7-3-7 7-6 5-7 4zM1670 891l7-6 7-6 6-4-6-2-7 5-7 5-6 6zM1624 936l7-5 7-6-7-2-7 5-6 5zM1684 887l6-5 7-5-7-2-6 4-7 6zM1631 938l7-5 6-5-6-3-7 6-7 5z"/><path class=d d="M1526 802l6-3-6-3-7 3zM1440 880l7-3-7-3-7 3zM1460 881l6-4-6-2-7 4zM1361 878l7-2-7-3-7 2zM1466 883l7-4-7-2-6 4zM1368 882l6-2-6-4-7 2zM1473 885l7-3-7-3-7 4zM1374 886l7-2-7-4-6 2zM1480 888l6-4-6-2-7 3zM1381 890l6-2-6-4-7 2zM1486 890l7-3-7-3-6 4zM1387 894l7-2 6-1-6-4-7 1-6 2zM1493 893l6-3-6-3-7 3zM1394 898l6-2 7-1-7-4-6 1-7 2zM1499 896l7-3-7-3-6 3zM1400 902l7-2 7-1-7-4-7 1-6 2zM1499 901l7-2 6-3-6-3-7 3-6 2zM1407 906l7-2-7-4-7 2zM1506 904l6-2 7-3-7-3-6 3-7 2zM1414 910l6-2-6-4-7 2zM1519 905l7-3-7-3-7 3zM1420 913l7-2-7-3-6 2zM1526 908l6-3-6-3-7 3zM1427 916l6-2-6-3-7 2zM1598 872l7-3 6-3 7-3-7-3-6 3-7 3-7 3zM1532 911l7-3 6-4-6-2-7 3-6 3zM1585 886l6-4 7-4 7-4 6-3-6-2-7 3-7 4-6 3-7 4zM1545 910l7-3 7-4-7-3-7 4-6 4zM1552 912l7-3 6-4 7-4 6-5 7-4 6-5 7-4-7-1-6 4-7 4-6 4-7 5-6 4-7 4-7 3zM1565 911l7-4 6-5 7-4 6-5 7-4-7-2-6 5-7 4-6 5-7 4-6 4zM1572 912l6-4 7-4 6-5 7-5 7-5-7 0-7 4-6 5-7 4-6 5-7 4zM1578 914l7-4 6-5 7-5 7-5-7-1-7 5-6 5-7 4-6 4zM1585 916l6-5 7-4 7-6 6-5 7-6-7 0-6 5-7 5-7 5-6 5-7 4zM1585 921l6-4 7-4 7-5 6-6 7-5 6-6-6-1-7 6-6 5-7 6-7 4-6 5-7 3zM1624 897l7-6 7-6-7 0-7 6-6 6zM1591 923l7-4 7-4-7-2-7 4-6 4zM1638 892l6-6 7-6-7-1-6 6-7 6zM1591 929l7-3 7-5-7-2-7 4-6 3zM1651 886l6-6 7-5-7-1-6 6-7 6zM1598 931l7-3-7-2-7 3zM1664 882l6-6 7-5-7-1-6 5-7 5zM1605 934l6-4-6-2-7 3zM1677 878l7-5-7-2-7 5zM1611 936l7-3-7-3-6 4zM1690 875l7-4-7-2-6 4zM1618 939l6-3-6-3-7 3zM1697 877l6-4 7-3-7-2-6 3-7 4zM1624 942l7-4-7-2-6 3z"/><path class=e d="M1348 872l6-2-6-3-7 2zM1447 882l6-3-6-2-7 3zM1354 875l7-2-7-3-6 2zM1453 884l7-3-7-2-6 3zM1460 886l6-3-6-2-7 3zM1374 880l7-1-7-4-6 1zM1466 888l7-3-7-2-6 3zM1381 884l6-1-6-4-7 1zM1473 890l7-2-7-3-7 3zM1387 888l7-1-7-4-6 1zM1480 893l6-3-6-2-7 2zM1486 895l7-2-7-3-6 3zM1493 898l6-2-6-3-7 2zM1414 899l6-1-6-4-7 1zM1414 904l6-2-6-3-7 1zM1499 906l7-2-7-3-6 2zM1420 908l7-2-7-4-6 2zM1512 907l7-2-7-3-6 2zM1427 911l6-2-6-3-7 2zM1519 910l7-2-7-3-7 2zM1433 914l7-2-7-3-6 2zM1526 913l6-2-6-3-7 2zM1433 919l7-2 7-2-7-3-7 2-6 2zM1611 871l7-3 6-3-6-2-7 3-6 3zM1532 915l7-2 6-3-6-2-7 3-6 2zM1440 922l7-2-7-3-7 2zM1598 883l7-4 6-3-6-2-7 4-7 4zM1545 915l7-3-7-2-6 3zM1598 889l7-5 6-4-6-1-7 4-7 4zM1552 917l7-3 6-3-6-2-7 3-7 3zM1605 889l6-4-6-1-7 5zM1559 919l6-3 7-4-7-1-6 3-7 3zM1605 895l6-5 7-5-7 0-6 4-7 5zM1565 921l7-3 6-4-6-2-7 4-6 3zM1618 890l6-5-6 0-7 5zM1572 922l6-3 7-3-7-2-6 4-7 3zM1624 891l7-6 7-5-7 0-7 5-6 5zM1578 924l7-3-7-2-6 3zM1638 885l6-6-6 1-7 5zM1585 926l6-3-6-2-7 3zM1651 880l6-6-6 0-7 5zM1664 875l6-5-6 0-7 4zM1591 933l7-2-7-2-6 2zM1677 871l7-4-7-1-7 4zM1598 936l7-2-7-3-7 2zM1684 873l6-4-6-2-7 4zM1605 939l6-3-6-2-7 2zM1697 871l6-3-6-2-7 3zM1611 941l7-2-7-3-6 3zM1618 944l6-2-6-3-7 2z"/><path class=f d="M1433 881l7-1-7-3-6 2zM1361 873l7-1-7-3-7 1zM1368 876l6-1-6-3-7 1zM1387 883l7-1-7-4-6 1zM1394 887l6-1-6-4-7 1zM1473 894l7-1-7-3-7 2zM1400 891l7-1-7-4-6 1zM1480 897l6-2-6-2-7 1zM1407 895l7-1-7-4-7 1zM1486 900l7-2-7-3-6 2zM1493 903l6-2-6-3-7 2zM1420 902l7-1-7-3-6 1zM1427 906l6-1-6-4-7 1zM1506 909l6-2-6-3-7 2zM1433 909l7-1-7-3-6 1zM1512 912l7-2-7-3-6 2zM1440 912l7-1-7-3-7 1zM1519 914l7-1-7-3-7 2zM1447 915l6-1-6-3-7 1zM1447 920l6-2-6-3-7 2zM1611 876l7-4 6-3-6-1-7 3-6 3zM1539 917l6-2-6-2-7 2zM1447 924l6-2-6-2-7 2zM1611 880l7-4-7 0-6 3zM1545 919l7-2-7-2-6 2zM1453 926l7-2-7-2-6 2zM1611 885l7-5-7 0-6 4zM1618 885l6-5-6 0-7 5zM1624 885l7-5-7 0-6 5zM1638 880l6-5-6 0-7 5zM1572 927l6-3-6-2-7 3zM1644 879l7-5-7 1-6 5zM1578 929l7-3-7-2-6 3zM1657 874l7-4-7 0-6 4zM1585 931l6-2-6-3-7 3zM1670 870l7-4-7 0-6 4zM1690 869l7-3-7-2-6 3zM1526 934l6-3-6-2-7 2z"/><path class=g d="M1354 870l7-1-7-3-6 1zM1440 884l7-2-7-2-7 1zM1447 886l6-2-6-2-7 2zM1374 875l7 0-7-4-6 1zM1453 888l7-2-7-2-6 2zM1381 879l6-1-6-3-7 0zM1460 890l6-2-6-2-7 2zM1466 892l7-2-7-2-6 2zM1400 886l7 0-7-4-6 0zM1407 890l7 0-7-4-7 0zM1414 894l6-1-6-3-7 0zM1480 901l6-1-6-3-7 1zM1420 898l7-1-7-4-6 1zM1486 904l7-1-7-3-6 1zM1427 901l6 0-6-4-7 1zM1493 907l6-1-6-3-7 1zM1433 905l7-1-7-3-6 0zM1499 910l7-1-7-3-6 1zM1440 908l7 0-7-4-7 1zM1506 913l6-1-6-3-7 1zM1447 911l6 0-6-3-7 0zM1512 915l7-1-7-2-6 1zM1526 917l6-2-6-2-7 1zM1453 918l7-1-7-3-6 1zM1624 869l7-2-7-2-6 3zM1532 919l7-2-7-2-6 2zM1453 922l7-2-7-2-6 2zM1618 876l6-3-6-1-7 4zM1460 924l6-2-6-2-7 2zM1618 880l6-4-6 0-7 4zM1552 921l7-2-7-2-7 2zM1460 928l6-3-6-1-7 2zM1624 880l7-4-7 0-6 4zM1559 923l6-2-6-2-7 2zM1631 880l7-5-7 1-7 4zM1565 925l7-3-7-1-6 2zM1651 874l6-4-6 0-7 5zM1664 870l6-4-6 0-7 4zM1585 935l6-2-6-2-7 1zM1684 867l6-3-6-1-7 3zM1591 937l7-1-7-3-6 2zM1598 940l7-1-7-3-7 1zM1605 942l6-1-6-2-7 1zM1611 945l7-1-7-3-6 1z"/><path class=h d="M1368 872l6-1-6-3-7 1zM1394 882l6 0-6-3-7-1zM1466 895l7-1-7-2-6 1zM1473 898l7-1-7-3-7 1zM1420 893l7 1-7-4-6 0zM1427 897l6 0-6-3-7-1zM1480 904l6 0-6-3-7 0zM1433 901l7 0-7-4-6 0zM1486 907l7 0-7-3-6 0zM1440 904l7 0-7-3-7 0zM1493 910l6 0-6-3-7 0zM1447 908l6-1-6-3-7 0zM1499 913l7 0-7-3-6 0zM1453 911l7-1-7-3-6 1zM1453 914l7 0-7-3-6 0zM1519 918l7-1-7-3-7 1zM1460 917l6-1-6-2-7 0zM1460 920l6-1-6-2-7 1zM1624 873l7-4-7 0-6 3zM1539 921l6-2-6-2-7 2zM1624 876l7-4-7 1-6 3zM1545 923l7-2-7-2-6 2zM1552 924l7-1-7-2-7 2zM1466 929l7-3-7-1-6 3zM1638 875l6-4-6 1-7 4zM1559 926l6-1-6-2-7 1zM1644 875l7-5-7 1-6 4zM1565 928l7-1-7-2-6 1zM1572 930l6-1-6-2-7 1zM1578 932l7-1-7-2-6 1zM1677 866l7-3-7 0-7 3zM1519 931l7-2-7-1-7 2zM1532 931l7-1-7-2-6 1z"/><path class=i d="M1427 882l6-1-6-2-7 1zM1361 869l7-1-7-2-7 0zM1381 875l6 0-6-3-7-1zM1387 878l7 1-7-4-6 0zM1460 893l6-1-6-2-7 0zM1407 886l7 0-7-3-7-1zM1414 890l6 0-6-4-7 0zM1466 898l7 0-7-3-6 0zM1473 901l7 0-7-3-7 0zM1433 897l7 1-7-4-6 0zM1440 901l7 0-7-3-7-1zM1480 907l6 0-6-3-7 0zM1447 904l6 0-6-3-7 0zM1486 910l7 0-7-3-6 0zM1453 907l7 1-7-4-6 0zM1506 916l6-1-6-2-7 0zM1460 914l6-1-6-3-7 1zM1526 920l6-1-6-2-7 1zM1466 919l7-1-7-2-6 1zM1631 869l7-2-7 0-7 2zM1532 922l7-1-7-2-6 1zM1466 922l7-1-7-2-6 1zM1466 925l7-1-7-2-6 2zM1631 876l7-4-7 0-7 4zM1657 870l7-4-7 1-6 3zM1670 866l7-3-7 0-6 3zM1512 930l7-2-7-1-6 2z"/><path class=j d="M1433 884l7 0-7-3-6 1zM1440 886l7 0-7-2-7 0zM1447 888l6 0-6-2-7 0zM1453 890l7 0-7-2-6 0zM1400 882l7 1-7-4-6 0zM1460 895l6 0-6-2-7 0zM1420 890l7 1-7-4-6-1zM1427 894l6 0-6-3-7-1zM1466 901l7 0-7-3-6 0zM1473 904l7 0-7-3-7 0zM1447 901l6 1-6-4-7 0zM1473 906l7 1-7-3-7-1zM1453 904l7 1-7-3-6-1zM1460 908l6 0-6-3-7-1zM1493 913l6 0-6-3-7 0zM1460 910l6 1-6-3-7-1zM1499 916l7 0-7-3-6 0zM1466 913l7 1-7-3-6-1zM1512 918l7 0-7-3-6 1zM1466 916l7 0-7-3-6 1zM1473 921l7-1-7-2-7 1zM1631 872l7-3-7 0-7 4zM1539 924l6-1-6-2-7 1zM1473 924l7-1-7-2-7 1zM1638 872l6-4-6 1-7 3zM1545 925l7-1-7-1-6 1zM1473 926l7-1-7-1-7 1zM1552 927l7-1-7-2-7 1zM1473 929l7-2-7-1-7 3zM1651 870l6-3-6 0-7 4zM1559 929l6-1-6-2-7 1zM1565 931l7-1-7-2-6 1zM1572 933l6-1-6-2-7 1zM1578 935l7 0-7-3-6 1zM1585 937l6 0-6-2-7 0zM1591 940l7 0-7-3-6 0zM1526 929l6-1-6-2-7 2zM1539 930l6 0-6-3-7 1z"/><path class=k d="M1374 871l7 1-7-3-6-1zM1394 879l6 0-6-3-7-1zM1453 893l7 0-7-3-6 0zM1414 886l6 1-6-3-7-1zM1460 898l6 0-6-3-7 0zM1433 894l7 1-7-3-6-1zM1460 900l6 1-6-3-7-1zM1440 898l7 0 6 1-6-3-7-1-7-1zM1453 902l7 1 6 0 7 1-7-3-6-1-7-1-6-1zM1460 905l6 1 7 0-7-3-6 0-7-1zM1466 908l7 1 7 0 6 1-6-3-7-1-7 0-6-1zM1466 911l7 0 7 1 6 0 7 1-7-3-6-1-7 0-7-1-6 0zM1473 914l7 0-7-3-7 0zM1506 918l6 0-6-2-7 0zM1473 916l7 0-7-2-7-1zM1519 920l7 0-7-2-7 0zM1473 918l7 0-7-2-7 0zM1526 922l6 0-6-2-7 0zM1638 869l6-3-6 1-7 2zM1644 871l7-4-7 1-6 4zM1480 929l6-2-6 0-7 2zM1664 866l6-3-6 1-7 3zM1506 929l6-2-6 0-7 2zM1598 942l7 0-7-2-7 0zM1605 945l6 0-6-3-7 0z"/><path class=l d="M1368 868l6 1-6-3-7 0zM1387 875l7 1-7-3-6-1zM1447 890l6 0-6-2-7 0zM1407 883l7 1-7-3-7-2zM1453 895l7 0-7-2-6-1zM1427 891l6 1-6-3-7-2zM1440 895l7 1 6 1 7 1-7-3-6-1-7-1-7-1zM1453 899l7 1-7-3-6-1zM1480 914l6 1 7 0 6 1-6-3-7-1-6 0-7-1zM1499 918l7 0-7-2-6-1zM1480 916l6 0-6-2-7 0zM1512 920l7 0-7-2-6 0zM1480 918l6 0-6-2-7 0zM1480 920l6 0-6-2-7 0zM1532 924l7 0-7-2-6 0zM1480 923l6-1-6-2-7 1zM1480 925l6-1-6-1-7 1zM1480 927l6-2-6 0-7 1zM1657 867l7-3-7 0-6 3zM1486 929l7-2-7 0-6 2zM1493 929l6-2-6 0-7 2zM1499 929l7-2-7 0-6 2zM1532 925l7 1-7-1-6 0zM1519 928l7-2-7 0-7 1zM1572 935l6 2 7 3-7-3-6-2-7-3z"/><path class=m d="M1420 882l7 0-7-2-6-1zM1427 884l6 0-6-2-7 0zM1381 872l6 1-6-3-7-1zM1433 886l7 0-7-2-6 0zM1440 888l7 0-7-2-7 0zM1400 879l7 2-7-3-6-2zM1447 892l6 1-6-3-7 0zM1420 887l7 2-7-4-6-1zM1447 894l6 1-6-3-7-1zM1433 892l7 1-7-3-6-1zM1486 916l7 1 6 1-6-3-7 0-6-1zM1506 920l6 0-6-2-7 0zM1486 918l7 1-7-3-6 0zM1519 922l7 0-7-2-7 0zM1486 920l7 0-7-2-6 0zM1486 922l7 0-7-2-6 0zM1644 868l7-3-7 1-6 3zM1539 926l6-1-6-1-7 0zM1651 867l6-3-6 1-7 3zM1545 927l7 0-7-2-6 1zM1552 929l7 0-7-2-7 0zM1486 927l7-2-7 0-6 2zM1559 930l6 1-6-2-7 0z"/><path class=n d="M1374 869l7 1 6 2 7 2 6 2 7 2 7 2 6 2-6-3-7-1-7-2-6-2-7-3-6-2-7-2-6-1zM1387 873l7 2 6 2 7 2 7 2 6 2 7 1-7-2-6-2-7-2-7-2-6-2-7-2-6-2zM1394 876l6 2 7 1 7 2 6 2 7 2 6 1-6-2-7-1-6-2-7-2-7-2-6-2-7-2zM1407 881l7 1 6 2 7 2 6 1 7 1-7-2-6-1-7-2-6-2-7-2-7-1zM1414 884l6 1 7 2 6 2 7 1 7 0-7-2-7-1-6-1-7-2-6-2-7-1zM1427 889l6 1 7 1 7 1-7-2-7-1-6-2-7-2zM1440 893l7 1-7-3-7-1zM1493 919l6 0 7 1-7-2-6-1-7-1zM1493 920l6 1 7 0 6 1 7 0-7-2-6 0-7-1-6 0-7-1zM1493 922l6 0 7 0 6 1 7 0 7 1 6 0-6-2-7 0-7 0-6-1-7 0-6-1-7 0zM1486 924l7-1 6 0 7 0 6 1 7 0 7 1 6 0 7 1-7-2-6 0-7-1-7 0-6-1-7 0-6 0-7 0-6 1zM1486 925l7-1 6 0 7 0 6 0 7 1 7 0 6 1 7 1 6 0-6-1-7-1-6 0-7-1-7 0-6-1-7 0-6 0-7 1-6 1zM1493 925l6-1 7 0 6 0 7 1 7 0 6 1 7 1 6 1 7 1-7-2-6 0-7-1-6-1-7 0-7-1-6 0-7 0-6 0-7 1zM1539 927l6 2 7 1 7 0-7-1-7-1-6-1-7-1zM1493 927l6-2 7 0 6-1 7 0-7 0-6 0-7 0-6 1-7 2zM1552 930l7 1 6 1 7 1-7-2-6-1-7 0-7-1zM1499 927l7-2 6 0 7-1-7 0-6 1-7 0-6 2zM1559 931l6 2 7 1 6 1-6-2-7-1-6-1-7-1zM1506 927l6-2 7 0 7 0-7-1-7 1-6 0-7 2zM1565 933l7 2 6 2 7 0-7-2-6-1-7-1-6-2zM1578 937l7 2 6 1-6-3-7 0-6-2zM1572 935l6 2-6-2-7-2zM1578 937l7 2 6 2 7 1-7-2-6-1-7-2-6-2zM1585 940l6 2 7 2 7 1-7-3-7-1-6-2-7-2z"/><path class=e d="M1539 926l6 2-6-1-7-1zM1545 927l7 2 7 2-7-1-7-2-6-2z"/><path class=f d="M1532 926l7 1-7-1-6-1zM1545 928l7 2-7-1-6-2zM1532 925l7 1-7 0-6-1zM1552 928l7 2 6 3-6-2-7-2-7-2z"/><path class=g d="M1539 927l6 2-6-2-7-1zM1526 925l6 1-6-1-7-1zM1559 931l6 2-6-2-7-1zM1539 926l6 1-6-1-7-1zM1565 933l7 2-7-2-6-2zM1565 932l7 3-7-2-6-3z"/><path class=h d="M1552 930l7 1-7-1-7-1zM1572 935l6 2-6-2-7-2z"/><path class=i d="M1526 925l6 1-6-1-7 0zM1545 927l7 1-7-1-6-1zM1559 930l6 2-6-2-7-2z"/><path class=j d="M1532 926l7 1-7-1-6-1zM1519 924l7 1-7 0-7-1zM1545 929l7 1-7-1-6-2zM1526 925l6 0-6 0-7-1z"/><path class=k d="M1519 924l7 1-7-1-7 0z"/><path class=l d="M1532 928l7-1-7-1-6 0z"/><path class=m d="M1545 930l7 0-7-2-6-1z"/><path class=n d="M1512 927l7-1 7-1 6 0-6 0-7 0-7 0-6 2zM1526 926l6 0 7 0 6 1-6-1-7-1-6 0-7 1zM1539 927l6 1 7 1 7 1-7-2-7-1-6-1-7 0zM1552 930l7 1 6 1 7 3-7-3-6-2-7-1-7-1z"/><path d="M1341 869l7 3 6 3 7 3 7 4 6 4 7 4 6 4 7 4 6 4 7 4 7 4 6 3 7 3 6 3 7 3 7 2 6 2 7 2 6 1 7 0 7 0 6 0 7 0 6 0 7 0 6 1 7 1 7 3 6-3 7-1 6 0 7 0 7 1 6 1 7 3 6 2 7 3 6 2 7 2 7 1 6 0 7-1 6-2 7-4 7-5 6-5 7-7 6-7 7-7 6-7 7-6 7-7 6-5 7-5 6-4 7-3" fill="none" stroke="#a040e0" stroke-width="2.2"/>
<g fill="none" stroke-width="1.8"><path d="M73 1302l184 71 185-71-185-72z" stroke="#c4c4c4" stroke-width="2"/><path d="M257 1373V1162" stroke="#c4c4c4" stroke-width="2"/><path d="M297 1314l-7 0-8 0-4-1-4 0-6-1-6-1-5-2-5-2-4-2-4-2-2-2-3-3-1-3 2-4 5-1 7-1 9 0 9 0 8 1 6 1 4 1 7 2 2 2 4 3 3 2 1 3 1 4-3 4-6 2M175 1262l4 2 4 1 4 3 3 3 1 3-7 3-10-1-6-1-6-1-6-1-4-1-1-1" stroke="#6fcfb0"/><path d="M351 1337l-5-2-5-2-4-1-6-2-5-1-5-2-6-1-6-1-3-1-4 0-7-1-4-1-9-1-5-1-9-1-6-1-6-2-5-1-5-2-5-2-4-1-4-3-4-2-3-2-3-2-3-3-4-2-3-2-4-2-4-2-5-2-6-1-5-1-7-2-6-1-6-1-6-1-6-2-5-1-6-2-4-2M183 1259l5 1 4 2 5 2 4 2 4 2 4 2 4 2 5 2 4 2 6 1 6 2 6 1 7 0 8 1 6 0 10 1 7 1 5 0 10 1 7 1 5 1 5 2 4 2 2 3 3 3 2 2 2 3 2 3 2 3 2 3 2 2 3 3 3 2 2 2 4 3 4 2 4 2 4 2 5 2 4 2" stroke="#72b8ec"/><path d="M340 1341l-5-2-5-1-5-2-5-2-5-1-5-2-6-1-3-1-9-2-6-1-7-1-7-1-4 0-9-2-6-1-3-1-8-2-5-1-4-2-5-2-4-2-3-2-4-3-3-2-4-2-3-2-4-2-4-2-5-2-5-2-5-1-4-2-7-1-5-2-6-1-5-2-6-1-5-2-5-1-5-2M190 1256l4 2 5 2 4 2 5 1 4 2 5 2 5 2 5 1 5 2 6 1 7 1 6 1 4 1 4 0 7 1 8 0 9 0 5 1 9 0 10 0 9 1 4 0 6 3 3 3 1 3 1 3 1 3 1 3 2 3 2 3 2 3 3 2 2 2 3 3 4 2 3 3 3 1 5 3 5 2 4 1 5 2" stroke="#f0ac62"/><path d="M333 1344l-5-2-5-2-5-1-5-2-5-1-6-2-5-1-6-1-4-1-3-1-6-1-7-1-7-1-6-1-6-1-6-1-6-1-5-2-5-2-5-1-4-2-4-2-4-3-3-2-4-2-3-2-4-2-4-2-4-2-5-2-4-2-5-2-5-1-5-2-6-1-5-2-5-1-5-2-5-2-5-1-5-2M362 1271l-4 2-3 2-4 2-3 3-2 2-1 3-1 4 0 4 2 6 1 3 3 3 2 3 3 2 3 2 4 3 4 2 4 2 4 2 4 2 5 2M195 1254l5 2 4 2 5 1 5 2 5 2 5 2 5 1 4 1 7 2 6 1 6 1 8 1 5 0 10 1 10 0 9 0 8-1 4 0 4 0 7-1 7-1 6-1 5-1 6-2 5-1" stroke="#eedc5a"/><path d="M327 1346l-4-2-5-1-5-2-6-2-5-1-6-1-6-2-6-1-7-1-5-1-8-1-7-1-6-1-7-1-6-1-6-1-5-2-5-2-4-2-4-2-4-2-4-2-3-2-4-2-3-2-4-3-4-1-4-3-4-2-5-1-4-2-5-2-5-1-3-1-7-3-5-1-5-2-5-2-5-1-5-2M373 1275l-4 2-4 2-3 2-3 3-3 2-1 3-1 4 1 6 2 3 2 3 3 3 3 2 3 2 4 2 4 2 4 2 4 2 5 2M200 1252l5 2 4 2 5 1 5 2 5 2 5 1 6 2 6 1 6 1 4 1 9 1 4 0 4 1 7 0 9 0 8 0 5-1 10-1 7-1 6-1 5-1 5-2 5-2" stroke="#6c9fe0"/><path d="M322 1348l-5-2-4-1-6-2-5-1-6-2-6-1-3-1-9-1-7-1-7-1-7-1-7-1-6-1-7-1-7-1-4-1-7-2-4-2-5-2-4-2-3-2-4-2-3-2-4-3-3-2-4-2-3-2-4-2-4-2-5-2-4-2-5-2-5-1-5-2-5-2-4-1-5-2-5-2-5-2-5-1M381 1278l-4 2-3 1-5 3-2 3-2 3-2 3 1 6 2 3 2 3 3 3 3 2 3 2 4 2 4 2 5 2 4 2M205 1250l5 2 4 2 5 1 5 2 5 2 6 1 6 1 6 2 4 0 9 2 4 0 4 0 7 1 9 0 8-1 5 0 9-2 6-1 6-1 5-2 5-2" stroke="#f08576"/><path d="M317 1350l-3-1-7-2-5-2-5-1-6-2-6-1-7-1-6-1-7-1-8-1-7 0-5-1-10-1-7-1-6-1-6-1-5-2-5-1-4-2-4-2-3-3-3-2-3-2-4-3-3-2-3-2-4-3-4-2-3-2-5-2-4-2-4-1-5-2-5-2-5-2-4-1-5-2-5-2-5-2-4-1M388 1281l-5 2-3 2-4 2-2 3-2 3 1 7 2 3 2 2 3 3 3 2 4 2 4 2 4 2 4 2M210 1248l4 2 5 2 5 2 5 1 6 2 5 1 6 1 6 1 8 1 6 1 9 0 10 0 7 0 5-1 9-1 5-2 6-1 5-2" stroke="#a8a8a8"/><path d="M312 1352l-4-2-5-2-6-1-5-1-6-2-7-1-7-1-4 0-3-1-7 0-8-1-5 0-11-1-8 0-3-1-4 0-8-1-6-1-6-1-4-2-4-2-3-3-3-2-2-3-3-2-3-3-2-2-3-3-4-2-3-2-4-2-4-2-4-2-4-2-4-2-5-2-5-2-4-2-5-1-5-2-4-2-5-2M394 1283l-4 2-4 2-3 3-2 3 0 4 2 6 2 2 4 3 3 2 4 2 4 2 3 1 2 1M215 1247l4 1 5 2 5 2 4 1 7 2 6 1 6 1 7 1 7 1 9 0 9 0 9-1 4-1 8-1 6-2 5-1" stroke="#d08be8"/><path d="M308 1354l-5-2-5-2-6-1-6-1-5-1-8-2-6 0-8-1-4 0-4 0-6-1-10 0-9 0-9 0-8 1-6 0-9 1-5 2M401 1286l-4 2-3 2-3 3-1 3 0 4 2 3 2 2 4 3 4 2 4 2 4 2M165 1337l3-2 2-3 0-4-1-3-1-3-2-3-2-3-3-2-3-3-3-2-4-2-4-2-4-2-4-2-4-2-5-2-4-2-5-1-5-2-4-2-5-2M220 1245l4 1 5 2 4 1 7 2 5 1 7 2 6 1 8 0 8 1 10 0 9-1 5-1 7-2 4-2" stroke="#6fcfb0"/><path d="M302 1356l-4-2-6-2-5-1-6-1-7-1-7-1-8-1-5 0-9 0-9 0-4 0-4 1-7 0-7 1-6 2-5 1M409 1289l-4 2-3 2-2 3 1 4 1 3 3 2 3 2 4 2 5 2M146 1330l4-2 3-3 0-4-1-3-2-3-2-2-4-3-4-2-3-3-4-1-4-3-5-2-4-1-5-2-4-2-5-2-4-2M225 1243l5 1 5 2 5 1 6 2 6 1 3 1 10 1 9 0 4 0 6 0 8-1 6-2 5-1" stroke="#72b8ec"/><path d="M297 1358l-5-2-5-1-6-2-6-1-7-1-8 0-6-1-9 1-4 0-4 0-7 1-7 1-6 1-5 2M419 1293l-4 2-2 3 1 4 3 2 3 2 5 2M131 1324l4-2 2-3-1-3-2-3-2-2-3-3-4-2-3-2-4-2-4-2-5-2-4-2-5-2-4-1M231 1240l5 2 5 1 5 2 6 1 7 1 7 1 9 0 9 0 3-1 3-1 5-1" stroke="#f0ac62"/><path d="M291 1360l-5-2-5-1-6-1-7-1-8-1-6 0-8 0-6 1-8 1-6 1-5 2M112 1317l3-2 0-4-3-3-3-2-4-3-4-2-4-2-5-1-4-2M239 1237l4 2 6 1 6 2 6 1 8 0 4 0 7 0 6-2" stroke="#eedc5a"/><path d="M284 1363l-5-2-6-1-6-1-8-1-10 1-8 1-6 1-5 1M252 1232l6 1 7 0" stroke="#6c9fe0"/><path d="M275 1366l-6-1-6-1-9 0-9 1-5 2" stroke="#f08576"/></g>
<path d="M73 1162V1302" stroke="#c8c8c8" stroke-width="1.2"/>
<path d="M73 1199l6-2 7-1 7 0 6 1 7 2 6 3 7 2 6 3 7 2 7 2 6 1 7 0 6-1 7-2 7-4 6-5 7-5 6-7 7-7 7-8 6-7 7-8 6-7 7-7 6-5 7-5 7-4 6-3 7 2 6 3 7 4 7 4 6 5 7 5 6 6 7 6 6 7 7 6 7 7 6 5 7 5 6 4 7 3 7 2 6 0 7 0 6-1 7-1 7-1 6-1 7 0 6 0 7 0 6 1 7 2 7 2" fill="none" stroke="#a040e0" stroke-width="2.6"/><path class=b d="M191 1197l7-6 7-8 6-7 7-8 6-7 7-7 6-7 7-6-7-2-6 5-7 7-6 7-7 8-6 7-7 8-7 7-6 7zM198 1200l7-7 6-7 7-7 6-8 7-7 6-7 7-7 7-6-7-3-7 6-6 7-7 7-6 7-7 8-6 7-7 8-7 6zM205 1202l6-6 7-7 6-7 7-8 6-7 7-7 7-6 6-6 7-5-7-4-6 5-7 6-7 7-6 7-7 7-6 8-7 7-6 7-7 7zM211 1204l7-6 6-6 7-7 6-7 7-7 7-7 6-6 7-6 6-5 7-4-7-4-6 4-7 5-6 6-7 6-7 7-6 7-7 8-6 7-7 7-6 6zM218 1207l6-6 7-6 6-7 7-6 7-7 6-7 7-6 6-5 7-5 7-4-7-5-7 4-6 5-7 6-6 6-7 7-7 7-6 7-7 7-6 6-7 6zM224 1209l7-5 6-6 7-6 7-6 6-7 7-6 6-6 7-5 7-5 6-4 7-3-7-5-6 3-7 4-7 5-6 5-7 6-6 7-7 7-7 6-6 7-7 6-6 6zM231 1212l6-5 7-5 7-6 6-6 7-6 6-6 7-6 7-5 6-4 7-4 6-3-6-6-7 3-6 4-7 5-7 5-6 6-7 6-6 7-7 6-7 6-6 6-7 5zM237 1216l7-5 7-5 6-6 7-6 6-5 7-6 7-5 6-5 7-4 6-4 7-3-7-6-6 3-7 4-6 4-7 5-7 6-6 6-7 6-6 6-7 6-7 5-6 5zM244 1219l7-4 6-5 7-5 6-6 7-5 7-5 6-5 7-5 6-4 7-3 6-3-6-7-7 3-6 4-7 4-6 5-7 5-7 6-6 5-7 6-6 6-7 5-7 5zM257 1218l7-4 6-5 7-5 7-5 6-5 7-5 6-4 7-4 6-3 7-3-7-6-6 3-7 3-6 4-7 5-6 5-7 5-7 5-6 6-7 5-6 5zM264 1222l6-4 7-5 7-5 6-4 7-5 6-4 7-4 6-3 7-4 7-2-7-7-7 3-6 3-7 4-6 4-7 5-6 5-7 5-7 5-6 5-7 4zM270 1226l7-4 7-5 6-4 7-5 6-4 7-4 6-3 7-4 7-3 6-3-6-5-7 2-7 4-6 3-7 4-6 4-7 5-6 4-7 5-7 5-6 4zM290 1221l7-4 6-5 7-4 6-3 7-4-7-4-6 3-7 4-6 4-7 5-6 4zM376 1252l6-6 7-7 7-8 6-6-6-2-7 7-7 7-6 6-7 7zM376 1261l6-6 7-7 7-7 6-7 7-7 6-7-6-2-7 7-6 6-7 8-7 7-6 6-7 6z"/><path class=c d="M244 1141l7-5 6-4-6-2-7 4-7 5zM178 1207l7-4 6-6-6-2-7 5-6 5zM251 1144l6-5 7-4-7-3-6 4-7 5zM185 1210l6-5 7-5-7-3-6 6-7 4zM264 1143l6-4 7-3-7-4-6 3-7 4zM191 1212l7-5 7-5-7-2-7 5-6 5zM277 1143l7-3-7-4-7 3zM205 1209l6-5-6-2-7 5zM284 1148l6-3-6-5-7 3zM211 1212l7-5-7-3-6 5zM218 1214l6-5-6-2-7 5zM224 1217l7-5-7-3-6 5zM231 1220l6-4-6-4-7 5zM237 1223l7-4-7-3-6 4zM237 1229l7-3 7-4 6-4-6-3-7 4-7 4-6 3zM244 1232l7-2 6-4 7-4-7-4-6 4-7 4-7 3zM257 1233l7-3 6-4-6-4-7 4-6 4zM323 1201l7-3 6-3 7-3-7-5-6 3-7 3-7 4zM264 1236l6-3 7-4 7-4 6-4-6-4-7 5-7 4-6 4-7 3zM270 1239l7-3 7-4 6-4 7-4 6-4 7-4 6-4 7-4 7-3 6-3 7-3 6-3-6-4-7 3-6 3-7 3-7 4-6 3-7 4-6 5-7 4-6 4-7 4-7 4-6 3zM284 1239l6-4 7-4 6-4 7-4 6-4 7-4 7-4-7-3-7 4-6 4-7 4-6 4-7 4-6 4-7 4zM297 1238l6-4 7-5 6-4-6-2-7 4-6 4-7 4zM343 1250l6-6 7-6 7-6-7-1-7 6-6 6-7 5zM343 1256l6-4 7-6 7-6 6-7 7-6 6-7-6 0-7 6-6 6-7 6-7 6-6 6-7 4zM349 1258l7-4 7-6 6-7 7-6 6-7 7-7 7-6-7-1-7 6-6 7-7 6-6 7-7 6-7 6-6 4zM356 1261l7-5 6-6 7-7 6-6 7-7 7-7 6-7 7-6-7-1-6 6-7 6-7 7-6 7-7 6-6 7-7 6-7 4zM402 1225l7-7 6-6 7-5-7-2-6 5-7 6-6 7zM356 1267l7-4 6-5 7-6-7-2-6 6-7 5-7 4zM415 1220l7-5 6-6-6-2-7 5-6 6zM363 1270l6-4 7-5-7-3-6 5-7 4z"/><path class=d d="M257 1132l7-3-7-2-6 3zM172 1211l6-4-6-2-7 4zM264 1135l6-3-6-3-7 3zM178 1213l7-3-7-3-6 4zM198 1214l7-5-7-2-7 5zM205 1216l6-4-6-3-7 5zM211 1218l7-4-7-2-6 4zM112 1217l7-2-7-3-6 2zM218 1220l6-3-6-3-7 4zM119 1221l6-2-6-4-7 2zM224 1223l7-3-7-3-6 3zM125 1225l7-2-7-4-6 2zM224 1228l7-2 6-3-6-3-7 3-6 2zM132 1229l7-2-7-4-7 2zM231 1231l6-2-6-3-7 2zM139 1233l6-2 7-2-7-4-6 2-7 2zM237 1235l7-3-7-3-6 2zM145 1237l7-2 6-1-6-5-7 2-6 2zM244 1238l7-2 6-3-6-3-7 2-7 3zM152 1241l6-2 7-1-7-4-6 1-7 2zM251 1241l6-2 7-3-7-3-6 3-7 2zM158 1245l7-2 7-2-7-3-7 1-6 2zM264 1242l6-3-6-3-7 3zM165 1249l7-2-7-4-7 2zM330 1211l6-3 7-3 6-3 7-3-7-3-6 3-7 3-6 3-7 3zM270 1245l7-3 7-3-7-3-7 3-6 3zM172 1252l6-2-6-3-7 2zM316 1225l7-4 7-4 6-4-6-2-7 4-7 4-6 4zM284 1245l6-4 7-3-7-3-6 4-7 3zM290 1247l7-4 6-3 7-4 6-5 7-4 7-5 6-4-6-1-7 4-7 4-6 4-7 5-6 4-7 3-6 4zM303 1245l7-3 6-5 7-4 7-5 6-5-6-1-7 5-7 4-6 5-7 4-6 3zM310 1247l6-4 7-4 7-5 6-5-6-1-7 5-7 4-6 5-7 3zM316 1249l7-4 7-5 6-5 7-5 6-5-6-1-7 5-6 5-7 5-7 4-6 4zM323 1250l7-4 6-5 7-5 6-5 7-6-7 0-6 5-7 5-6 5-7 5-7 4zM330 1252l6-4 7-5 6-6 7-6 7-6 6-6-6 0-7 6-7 6-6 5-7 5-6 5-7 4zM363 1232l6-6 7-6 6-6-6 0-7 5-6 6-7 6zM330 1258l6-4 7-4-7-2-6 4-7 4zM382 1220l7-6-7 0-6 6zM336 1260l7-4-7-2-6 4zM396 1215l6-6-6 0-7 5zM343 1262l6-4-6-2-7 4zM409 1210l6-5-6-1-7 5zM349 1265l7-4-7-3-6 4zM422 1207l6-4-6-2-7 4zM349 1270l7-3-7-2-6 3zM428 1209l7-4 7-3-7-2-7 3-6 4zM356 1273l7-3-7-3-7 3z"/><path class=e d="M165 1213l7-2-7-2-7 2zM86 1205l7-2-7-3-7 2zM185 1215l6-3-6-2-7 3zM93 1207l6-2-6-2-7 2zM191 1217l7-3-7-2-6 3zM99 1211l7-2-7-4-6 2zM198 1219l7-3-7-2-7 3zM106 1214l6-2-6-3-7 2zM205 1221l6-3-6-2-7 3zM211 1223l7-3-7-2-6 3zM125 1219l7-1-7-4-6 1zM218 1225l6-2-6-3-7 3zM132 1223l7-1-7-4-7 1zM139 1227l6-2-6-3-7 1zM224 1233l7-2-7-3-6 2zM231 1236l6-1-6-4-7 2zM158 1234l7-1-7-4-6 0zM237 1240l7-2-7-3-6 1zM165 1238l7-1-7-4-7 1zM244 1243l7-2-7-3-7 2zM172 1241l6-1-6-3-7 1zM257 1244l7-2-7-3-6 2zM172 1247l6-2-6-4-7 2zM264 1247l6-2-6-3-7 2zM178 1250l7-2-7-3-6 2zM336 1213l7-3 6-4 7-3-7-1-6 3-7 3-6 3zM277 1247l7-2-7-3-7 3zM178 1255l7-2-7-3-6 2zM336 1218l7-4-7-1-6 4zM284 1249l6-2-6-2-7 2zM336 1223l7-4-7-1-6 4zM297 1249l6-4-6-2-7 4zM336 1229l7-5 6-5-6 0-7 4-6 5zM303 1250l7-3-7-2-6 4zM349 1225l7-6-7 0-6 5zM310 1252l6-3-6-2-7 3zM356 1225l7-6-7 0-7 6zM316 1254l7-4-7-1-6 3zM369 1219l7-5-7 0-6 5zM323 1256l7-4-7-2-7 4zM382 1214l7-6-7 1-6 5zM323 1261l7-3-7-2-7 3zM389 1214l7-5-7-1-7 6zM330 1263l6-3-6-2-7 3zM402 1209l7-5-7 0-6 5zM336 1265l7-3-7-2-6 3zM415 1205l7-4-7-1-6 4zM343 1268l6-3-6-3-7 3zM428 1203l7-3-7-2-6 3z"/><path class=f d="M79 1202l7-2-7-3-6 2zM172 1215l6-2-6-2-7 2zM178 1217l7-2-7-2-6 2zM112 1212l7-1-7-3-6 1zM119 1215l6-1-6-3-7 1zM205 1225l6-2-6-2-7 1zM211 1227l7-2-7-2-6 2zM218 1230l6-2-6-3-7 2zM145 1225l7 0-7-4-6 1zM152 1229l6 0-6-4-7 0zM251 1246l6-2-6-3-7 2zM178 1245l7-1-7-4-6 1zM257 1248l7-1-7-3-6 2zM185 1248l6-1-6-3-7 1zM356 1203l7-2-7-2-7 3zM270 1249l7-2-7-2-6 2zM185 1253l6-2-6-3-7 2zM343 1214l6-3 7-4-7-1-6 4-7 3zM277 1252l7-3-7-2-7 2zM185 1257l6-2-6-2-7 2zM343 1219l6-4-6-1-7 4zM290 1251l7-2-7-2-6 2zM349 1219l7-4-7 0-6 4zM297 1253l6-3-6-1-7 2zM356 1219l7-5-7 1-7 4zM303 1255l7-3-7-2-6 3zM363 1219l6-5-6 0-7 5zM310 1257l6-3-6-2-7 3zM376 1214l6-5-6 0-7 5zM316 1259l7-3-7-2-6 3zM396 1209l6-5-6 0-7 4zM409 1204l6-4-6 0-7 4zM330 1267l6-2-6-2-7 2zM422 1201l6-3-6-1-7 3zM336 1269l7-1-7-3-6 2zM343 1272l6-2-6-2-7 1zM349 1274l7-1-7-3-6 2zM257 1264l7-3-7-2-6 2z"/><path class=g d="M93 1203l6-1-6-3-7 1zM99 1205l7-1-7-2-6 1zM185 1219l6-2-6-2-7 2zM106 1209l6-1-6-4-7 1zM191 1221l7-2-7-2-6 2zM198 1222l7-1-7-2-7 2zM132 1218l7-1-7-3-7 0zM139 1222l6-1-6-4-7 1zM211 1231l7-1-7-3-6 1zM218 1234l6-1-6-3-7 1zM158 1229l7 0-7-4-6 0zM224 1237l7-1-7-3-6 1zM165 1233l7-1-7-3-7 0zM231 1240l6 0-6-4-7 1zM172 1237l6-1-6-4-7 1zM237 1244l7-1-7-3-6 0zM178 1240l7 0-7-4-6 1zM244 1247l7-1-7-3-7 1zM185 1244l6-1-6-3-7 0zM191 1247l7 0-7-4-6 1zM264 1251l6-2-6-2-7 1zM191 1251l7-1-7-3-6 1zM356 1207l7-3-7-1-7 3zM191 1255l7-2-7-2-6 2zM349 1215l7-4-7 0-6 3zM284 1253l6-2-6-2-7 3zM191 1259l7-3-7-1-6 2zM356 1215l7-5-7 1-7 4zM290 1255l7-2-7-2-6 2zM363 1214l6-4-6 0-7 5zM297 1257l6-2-6-2-7 2zM369 1214l7-5-7 1-6 4zM303 1259l7-2-7-2-6 2zM310 1260l6-1-6-2-7 2zM389 1208l7-4-7 0-7 5zM316 1262l7-1-7-2-6 1zM402 1204l7-4-7 0-6 4zM323 1265l7-2-7-2-7 1z"/><path class=h d="M158 1214l7-1-7-2-6 1zM86 1200l7-1-7-3-7 1zM119 1211l6 0-6-4-7 1zM125 1214l7 0-7-3-6 0zM205 1228l6-1-6-2-7 1zM145 1221l7 0-7-3-6-1zM152 1225l6 0-6-4-7 0zM211 1234l7 0-7-3-6 0zM218 1237l6 0-6-3-7 0zM172 1232l6 1-6-4-7 0zM224 1241l7-1-7-3-6 0zM178 1236l7 0-7-3-6-1zM231 1244l6 0-6-4-7 1zM185 1240l6 0-6-4-7 0zM191 1243l7 0-7-3-6 0zM251 1249l6-1-6-2-7 1zM198 1250l7-1-7-2-7 0zM363 1204l6-3-6 0-7 2zM270 1253l7-1-7-3-6 2zM198 1253l7-1-7-2-7 1zM356 1211l7-4-7 0-7 4zM277 1255l7-2-7-1-7 1zM198 1256l7-1-7-2-7 2zM198 1260l7-3-7-1-7 3zM382 1209l7-5-7 1-6 4zM396 1204l6-4-6 0-7 4zM415 1200l7-3-7 0-6 3zM251 1261l6-2-6-1-7 2zM264 1261l6-1-6-2-7 1z"/><path class=i d="M165 1216l7-1-7-2-7 1zM172 1218l6-1-6-2-7 1zM112 1208l7-1-7-2-6-1zM191 1223l7-1-7-1-6 1zM198 1226l7-1-7-3-7 1zM139 1217l6 1-6-4-7 0zM205 1231l6 0-6-3-7 0zM165 1229l7 0-7-4-7 0zM218 1240l6 1-6-4-7 0zM185 1236l6 1-6-4-7 0zM191 1240l7 0-7-3-6-1zM237 1247l7 0-7-3-6 0zM244 1249l7 0-7-2-7 0zM198 1247l7-1-7-3-7 0zM257 1252l7-1-7-3-6 1zM264 1254l6-1-6-2-7 1zM363 1207l6-3-6 0-7 3zM363 1210l6-3-6 0-7 4zM284 1256l6-1-6-2-7 2zM369 1210l7-4-7 1-6 3zM290 1258l7-1-7-2-6 1zM376 1209l6-4-6 1-7 4zM297 1260l6-1-6-2-7 1zM303 1261l7-1-7-1-6 1zM310 1263l6-1-6-2-7 1zM409 1200l6-3-6 0-7 3zM316 1265l7 0-7-3-6 1zM323 1268l7-1-7-2-7 0zM330 1270l6-1-6-2-7 1zM244 1260l7-2-7-1-7 2zM336 1272l7 0-7-3-6 1zM343 1275l6-1-6-2-7 0z"/><path class=j d="M99 1202l7 0-7-3-6 0zM106 1204l6 1-6-3-7 0zM178 1220l7-1-7-2-6 1zM185 1222l6-1-6-2-7 1zM132 1214l7 0-7-3-7 0zM198 1228l7 0-7-2-7 0zM158 1225l7 0-7-3-6-1zM205 1234l6 0-6-3-7 0zM172 1229l6 1-6-4-7-1zM211 1237l7 0-7-3-6 0zM178 1233l7 0-7-3-6-1zM191 1237l7 1-7-4-6-1zM224 1243l7 1-7-3-6-1zM198 1240l7 1-7-3-7-1zM231 1246l6 1-6-3-7-1zM198 1243l7 1-7-4-7 0zM205 1246l6 1-6-3-7-1zM251 1252l6 0-6-3-7 0zM205 1249l6 0-6-3-7 1zM205 1252l6-1-6-2-7 1zM369 1204l7-3-7 0-6 3zM270 1255l7 0-7-2-6 1zM205 1255l6-1-6-2-7 1zM369 1207l7-4-7 1-6 3zM205 1257l6-1-6-1-7 1zM205 1260l6-2-6-1-7 3zM389 1204l7-4-7 1-7 4zM310 1266l6 2-6-2-7-2zM257 1259l7-1-7-2-6 2z"/><path class=k d="M152 1214l6 0-6-2-7 0zM93 1199l6 0-6-3-7 0zM139 1211l6 3-6-2-7-3zM125 1211l7 0-7-3-6-1zM191 1226l7 0-7-3-6 1zM152 1221l6 1-6-3-7-1zM198 1231l7 0-7-3-7 0zM165 1225l7 1-7-3-7-1zM205 1236l6 1-6-3-7-1zM185 1233l6 1-6-3-7-1zM198 1238l7 1 6 1 7 0-7-3-6-1-7-1-7-1zM205 1241l6 1 7 1 6 0-6-3-7 0-6-1-7-1zM224 1246l7 0-7-3-6 0zM205 1244l6 0 7 1-7-3-6-1-7-1zM237 1249l7 0-7-2-6-1zM211 1247l7 0-7-3-6 0zM211 1249l7 0-7-2-6-1zM257 1254l7 0-7-2-6 0zM211 1251l7 0-7-2-6 0zM277 1257l7-1-7-1-7 0zM376 1206l6-4-6 1-7 4zM382 1205l7-4-7 1-6 4zM264 1257l6 1-6-1-7-1zM211 1260l7-2-7 0-6 2zM244 1255l7 0-7 0-7 0zM402 1200l7-3-7 0-6 3zM237 1259l7-2-7 0-6 2z"/><path class=l d="M119 1204l6 3 7 2-7-2-6-3-7-2zM158 1216l7 0-7-2-6 0zM125 1207l7 2-7-2-6-3zM119 1207l6 1-6-3-7 0zM185 1224l6-1-6-1-7 0zM145 1218l7 1-7-4-6-1zM191 1228l7 0-7-2-6-1zM178 1230l7 1 6 1 7 1 7 1-7-3-7-1-6-1-7-1-6-2zM191 1234l7 1 7 1-7-3-7-1-6-1zM218 1245l6 1-6-3-7-1zM218 1247l6 1 7 1 6 0-6-3-7 0-6-1-7-1zM244 1252l7 0-7-3-7 0zM211 1254l7-1-7-2-6 1zM376 1203l6-3-6 1-7 3zM211 1256l7-1-7-1-6 1zM284 1259l6-1-6-2-7 1zM211 1258l7-2-7 0-6 1zM290 1260l7 0-7-2-6 1zM244 1255l7 0-7 0-7 0zM396 1200l6-3-6 1-7 3zM231 1259l6-2-6 0-7 2zM251 1258l6-2-6 0-7 1zM310 1266l6 2-6-2-7-2z"/><path class=m d="M165 1218l7 0-7-2-7 0zM145 1214l7 2-7-2-6-2zM112 1205l7 0-7-2-6-1zM172 1220l6 0-6-2-7 0zM178 1222l7 0-7-2-6 0zM139 1214l6 1-6-2-7-2zM158 1222l7 1-7-3-6-1zM191 1230l7 1-7-3-6-1zM172 1226l6 2-6-4-7-1zM237 1251l7 1-7-3-6 0zM218 1249l6 1 7 0-7-2-6-1-7 0zM251 1254l6 0-6-2-7 0zM218 1251l6 0-6-2-7 0zM264 1256l6-1-6-1-7 0zM218 1253l6 0-6-2-7 0zM382 1202l7-3-7 1-6 3zM389 1201l7-3-7 1-7 3zM297 1262l6-1-6-1-7 0zM277 1259l7 1-7-1-7-1zM218 1260l6-2-6 0-7 2zM303 1263l7 0-7-2-6 1zM224 1259l7-2-7 1-6 2zM310 1265l6 0-6-2-7 0zM316 1267l7 1-7-3-6 0zM323 1269l7 1-7-2-7-1zM330 1272l6 0-6-2-7-1zM336 1274l7 1-7-3-6 0z"/><path class=n d="M132 1209l7 3 6 1 7 1-7-2-6-1-7-2-7-2zM99 1199l7 1 6 2 7 2-7-2-6-3-7-2-6-1zM145 1214l7 2 6 0-6-2-7-1-6-1zM139 1212l6 2-6-2-7-3zM106 1202l6 1 7 1 6 3-6-3-7-2-6-2-7-1zM152 1216l6 1 7 1-7-2-6 0-7-2zM119 1205l6 2 7 2 7 2-7-2-7-2-6-3-7-1zM132 1211l7 2 6 1 7 2 6 2 7 2 7 1 6 1-6-2-7-1-7-1-6-2-7-2-6-2-7-2-7-2zM145 1215l7 2 6 2 7 1 7 2 6 1 7 1-7-2-6-1-7-1-7-2-6-2-7-2-6-1zM152 1219l6 1 7 1 7 2 6 1 7 1 6 1-6-2-7-1-6-1-7-2-7-1-6-2-7-2zM165 1223l7 1 6 2 7 1 6 1-6-3-7-1-6-1-7-2-7-1zM178 1228l7 1 6 1-6-3-7-1-6-2zM231 1250l6 1-6-2-7-1zM224 1251l7 1 6 1 7 0 7 1-7-2-7-1-6-1-7 0-6-1zM224 1253l7 0 6 1 7 0 7 1 6 0 7 1-7-2-6 0-7-1-7 0-6-1-7-1-6 0zM218 1255l6-1 7 0 6 0 7 1 7 0 6 1 7 1 6 0 7 0-7-2-6 1-7-1-6 0-7-1-7 0-6-1-7 0-6 0-7 1zM218 1256l6-1 7 0 6 0 7 0 7 1 6 0 7 1 6 1 7 1 7 0-7-2-7 0-6 0-7-1-6-1-7 0-7-1-6 0-7 0-6 1-7 1zM270 1258l7 1 7 1 6 0-6-1-7 0-7-1-6-1zM218 1258l6-2 7-1 6 0 7 0-7 0-6 0-7 0-6 1-7 2zM284 1260l6 1 7 1-7-2-6 0-7-1zM224 1258l7-2 6-1 7 0-7 0-6 0-7 1-6 2zM290 1262l7 1 6 0-6-1-7-1-6-1zM231 1257l6-1 7-1 7 0-7 0-7 0-6 1-7 2zM297 1263l6 1 7 1-7-2-6 0-7-1zM303 1264l7 2 6 1-6-2-7-1-6-1zM310 1266l6 2 7 1-7-2-6-1-7-2zM316 1268l7 2 7 2-7-3-7-1-6-2zM316 1268l7 3 7 2 6 1-6-2-7-2-7-2-6-2zM303 1264l7 2-7-2-6-3z"/><path class=d d="M270 1256l7 2 7 1-7 0-7-2-6-1zM284 1258l6 2-6-1-7-1z"/><path class=e d="M264 1256l6 1 7 2-7-1-6-1-7-1zM284 1259l6 2-6-1-7-1zM264 1255l6 1-6 0-7-1zM290 1260l7 2-7-1-6-2zM277 1257l7 1-7 0-7-2zM290 1260l7 2-7-2-6-2z"/><path class=f d="M257 1256l7 1 6 1-6-1-7-1-6-1zM277 1259l7 1-7-1-7-1zM257 1255l7 1-7 0-6-1zM270 1256l7 1-7-1-6-1zM297 1262l6 2-6-2-7-2zM284 1258l6 2-6-2-7-1z"/><path class=g d="M270 1258l7 1-7-1-6-1zM251 1255l6 1-6-1-7 0zM297 1262l6 2-6-1-7-2zM297 1261l6 3 7 2-7-2-6-2-7-2z"/><path class=h d="M251 1255l6 0-6 0-7 0zM290 1261l7 2-7-1-6-2zM257 1255l7 0-7 0-6 0zM303 1264l7 2-7-2-6-2z"/><path class=i d="M251 1255l6 1 7 1-7-1-6 0-7-1zM284 1260l6 2-6-2-7-1zM277 1257l7 1-7-1-7-1z"/><path class=j d="M132 1209l7 3-7-3-7-2zM290 1259l7 2-7-1-6-2z"/><path class=k d="M264 1255l6 1-6-1-7 0z"/><path class=j d="M270 1260l7-1-7-2-6 1z"/><path class=l d="M264 1258l6-1-6-1-7 0zM277 1259l7 0-7-2-7 0z"/><path class=n d="M125 1208l7 2 7 2 6 2 7 2 6 2 7 1 7 1-7-2-7-1-6-1-7-2-6-3-7-2-7-2-6-2zM237 1257l7-1 7-1 6 0-6 0-7 0-7 1-6 1zM244 1257l7-1 6-1 7 0-7 0-6 0-7 1-7 1zM257 1256l7 0 6 0 7 1-7-1-6-1-7 0-6 1zM270 1257l7 0 7 1 6 1-6-1-7-1-7-1-6 0zM284 1259l6 1 7 2 6 2-6-3-7-2-6-1-7-1z"/><path d="M73 1199l6 3 7 3 7 2 6 4 7 3 6 3 7 4 6 4 7 4 7 4 6 4 7 4 6 4 7 4 7 3 6 3 7 2 6 2 7 1 7 0 6 0 7 0 6-1 7 0 6 0 7 1 7 1 6 3 7-3 6-1 7-1 7 0 6 1 7 2 6 2 7 2 6 2 7 3 7 2 6 1 7 1 6-1 7-1 7-3 6-4 7-5 6-6 7-7 7-7 6-7 7-7 6-7 7-5 6-6 7-4 7-3" fill="none" stroke="#a040e0" stroke-width="2.2"/>
<g fill="none" stroke-width="1.8"><path d="M496 1302l185 71 184-71-184-72z" stroke="#c4c4c4" stroke-width="2"/><path d="M681 1373V1162" stroke="#c4c4c4" stroke-width="2"/><path d="M621 1253l4 2 4 2 2 3 2 3-2 4-4 3-5 2-4 0-3 1-8 0-8-1-4 0-8-2-5-2" stroke="#eedc5a"/><path d="M635 1248l5 2 4 2 3 2 4 2 3 2 2 3 2 3 1 3 0 5-1 3-3 2-4 2-5 2-6 1-3 1-11 1-9 0-9-1-8 0-7-1-6-1-6-1-6-2-5-1-5-2" stroke="#6c9fe0"/><path d="M647 1243l5 2 4 2 4 2 4 2 3 2 3 2 4 3 3 2 3 3 2 2 3 2 3 3 3 3 3 2 3 3 3 2 2 2 3 3 1 3-4 4-4 2-6 1-6 1-9 1-8 0-4 0-6 0-10-1-9 0-8 0-4-1-4 0-7-1-8 0-7-1-6-1-7-1-6-2-6-1-6-1-5-2-6-1-5-2-4-1" stroke="#f08576"/><path d="M831 1288l-5 2-5 2-5 1-5 2-5 1-3 1-3 1-5 1-5 2-6 1-5 2-5 2-5 1-6 2-5 1-6 1-6 2-7 1-7 0-8 1-4 0-5 0-4 0-5 0-4 0-7-1-9 0-7-1-7-1-8 0-5-1-9-1-4 0-3-1-7-1-4 0-3-1-7 0-4-1-9-1-6-2-7-1-6-1-5-1-7-1-6-2-6-1-6-1-6-1-6-2-5-1-5-2-5-2M660 1238l5 2 4 2 4 2 4 2 4 2 4 2 3 2 4 2 4 2 4 2 4 2 5 2 5 2 6 1 6 1 8 1 4 0 6-1 9-1 6-1 5-2 0 0" stroke="#a8a8a8"/><path d="M744 1349l-5-2-4-2-4-2-4-2-4-2-5-2-5-2-4-1-3-1-8-2-5-2-6-1-6-1-6-2-7-1-7-1-7 0-3-1-4 0-7-1-8 0-5-1-10-1-7 0-7-1-7-1-6-2-6-1-5-1-6-2-6-1-6-1-6-1-7-1-3-1-4 0-7-1-10 0-7 1-6 1" stroke="#d08be8"/><path d="M705 1364l-3-2-2-3-3-3-1-3-3-3-2-2-3-3-4-2-4-2-4-2-5-1-6-2-6-1-4-1-10-1-8 0-5 0-4 0-4 0-8 1-7 1-6 1-3 1-8 2" stroke="#6fcfb0"/><path d="M645 1359l4-2 2-3-3-4-5-1-7-1-10 0-5 2 0 0" stroke="#72b8ec"/></g>
<path d="M496 1162V1302" stroke="#c8c8c8" stroke-width="1.2"/>
<path d="M496 1217l7-2 7-3 6-2 7-1 6-2 7-1 6-2 7-1 7-1 6-1 7-1 6-1 7-1 7-1 6-2 7-3 6-2 7-4 7-3 6-4 7-5 6-4 7-5 6-4 7-5 7-4 6-3 7-3 6 3 7 2 7 3 6 2 7 3 6 2 7 3 6 3 7 3 7 3 6 3 7 3 6 3 7 4 7 3 6 3 7 2 6 3 7 2 7 2 6 3 7 2 6 1 7 2 6 3 7 2 7 2 6 3" fill="none" stroke="#a040e0" stroke-width="2.6"/><path class=c d="M628 1185l7-4 6-4 7-5 6-4 7-5 7-4-7-3-7 5-6 4-7 5-6 4-7 5-6 4zM641 1183l7-4 6-5 7-4 7-5 6-4-6-2-7 4-7 5-6 4-7 5-6 4zM654 1181l7-4 7-5 6-4 7-4-7-3-6 4-7 5-7 4-6 5zM668 1179l6-5 7-4-7-2-6 4-7 5z"/><path class=d d="M668 1159l6-4 7-3 6-3-6-3-7 3-6 3-7 4zM615 1192l7-3 6-4-6-2-7 3-7 4zM674 1161l7-4 6-3-6-2-7 3-6 4zM628 1191l7-4 6-4-6-2-7 4-6 4zM681 1164l6-4 7-4-7-2-6 3-7 4zM635 1193l6-4 7-4 6-4-6-2-7 4-6 4-7 4zM681 1170l6-4 7-4 7-3-7-3-7 4-6 4-7 4zM648 1191l6-4 7-4 7-4-7-2-7 4-6 4-7 4zM654 1193l7-4 7-4 6-4 7-5 6-4 7-4 7-3 6-4-6-2-7 3-7 4-6 4-7 4-6 5-7 4-7 4-6 4zM661 1194l7-3 6-4 7-4 6-4 7-5 7-3 6-4 7-3-7-3-6 4-7 3-7 4-6 4-7 5-6 4-7 4-7 4zM668 1196l6-4 7-3 6-4 7-4 7-4 6-4 7-3 6-3 7-3-7-3-6 3-7 3-6 4-7 3-7 5-6 4-7 4-6 4-7 3zM674 1198l7-4 6-3 7-4 7-4 6-4 7-3 6-4 7-3 6-2-6-3-7 3-6 3-7 3-6 4-7 4-7 4-6 4-7 3-6 4zM681 1200l6-4 7-3 7-4 6-3 7-4 6-3 7-4 6-3 7-2-7-3-6 2-7 3-6 4-7 3-6 4-7 4-7 4-6 3-7 4zM687 1202l7-3 7-4 6-3 7-4 6-3 7-4 6-3 7-3 7-2-7-3-7 2-6 3-7 4-6 3-7 4-6 3-7 4-7 3-6 4zM694 1204l7-3 6-3 7-4 6-3 7-3 6-4 7-3 7-2 6-3-6-3-7 2-7 3-6 3-7 4-6 3-7 4-6 3-7 4-7 3zM701 1206l6-3 7-3 6-3 7-3 6-3 7-3 7-3 6-3 7-3-7-3-6 3-7 2-7 3-6 4-7 3-6 3-7 4-6 3-7 3zM707 1209l7-3 6-3 7-3 6-3 7-3 7-3 6-3 7-3 6-3-6-3-7 3-6 3-7 3-7 3-6 3-7 3-6 3-7 3-6 3zM720 1208l7-3 6-3 7-3 7-3 6-2 7-3 6-3 7-2-7-4-6 3-7 3-6 3-7 3-7 3-6 3-7 3-6 3zM733 1208l7-3 7-3 6-3 7-2 6-3 7-3 7-2-7-3-7 2-6 3-7 3-6 2-7 3-7 3-6 3zM747 1207l6-2 7-3 6-3 7-2 7-3 6-2-6-3-7 2-7 3-6 3-7 2-6 3-7 3zM648 1268l6-2-6-3-7 2zM654 1272l7-3 7-2-7-3-7 2-6 2zM661 1275l7-2 6-3-6-3-7 2-7 3zM668 1278l6-2 7-3-7-3-6 3-7 2zM674 1281l7-2-7-3-6 2z"/><path class=e d="M602 1197l6-2 7-3-7-2-6 2-7 3zM503 1220l7-3 6-2-6-3-7 3-7 2zM687 1154l7-3-7-2-6 3zM615 1197l7-3 6-3-6-2-7 3-7 3zM510 1222l6-2-6-3-7 3zM694 1156l7-2-7-3-7 3zM622 1199l6-3 7-3-7-2-6 3-7 3zM516 1224l7-2-7-2-6 2zM701 1159l6-3-6-2-7 2zM635 1198l6-3 7-4-7-2-6 4-7 3zM707 1161l7-2-7-3-6 3zM641 1199l7-3 6-3-6-2-7 4-6 3zM714 1164l6-3-6-2-7 2zM648 1201l6-3 7-4-7-1-6 3-7 3zM536 1231l6-3-6-2-7 2zM654 1202l7-3 7-3-7-2-7 4-6 3zM542 1233l7-2-7-3-6 3zM661 1204l7-3 6-3-6-2-7 3-7 3zM549 1235l7-2 6-2-6-3-7 3-7 2zM668 1206l6-3 7-3-7-2-6 3-7 3zM556 1238l6-3 7-2-7-2-6 2-7 2zM674 1208l7-3 6-3-6-2-7 3-6 3zM562 1240l7-2 6-2-6-3-7 2-6 3zM674 1212l7-2 6-3 7-3-7-2-6 3-7 3-6 2zM569 1243l6-3 7-2-7-2-6 2-7 2zM681 1215l6-3 7-3 7-3-7-2-7 3-6 3-7 2zM575 1245l7-2 7-3-7-2-7 2-6 3zM687 1217l7-3 7-2 6-3-6-3-7 3-7 3-6 3zM582 1247l7-2-7-2-7 2zM694 1219l7-3 6-2 7-3 6-3-6-2-7 3-6 3-7 2-7 3zM707 1218l7-2 6-3 7-2 6-3-6-3-7 3-6 3-7 3-6 2zM714 1221l6-3 7-2 6-3 7-3 7-3-7-2-7 3-6 3-7 2-6 3-7 2zM727 1220l6-2 7-3 7-2 6-3 7-3 6-2 7-3 7-3 6-2 7-3-7-2-6 2-7 3-7 2-6 3-7 3-6 2-7 3-7 3-6 3-7 2zM740 1220l7-3 6-2 7-3 6-2 7-3 7-2 6-3 7-3 6-2-6-3-7 3-6 2-7 3-7 3-6 2-7 3-6 3-7 2-7 3zM753 1219l7-2 6-3 7-2 7-3 6-2 7-3 6-2 7-3-7-2-6 2-7 3-6 3-7 2-7 3-6 2-7 3-6 2zM780 1214l6-3 7-2 6-3 7-2 7-3-7-2-7 3-6 2-7 3-6 2-7 3zM813 1206l6-2-6-3-7 3zM635 1263l6-3 7-2-7-3-6 3-7 2zM641 1265l7-2 6-2 7-2-7-3-6 2-7 2-6 3zM747 1240l6-2 7-3 6-2 7-3-7-2-6 2-7 3-6 2-7 3zM654 1266l7-2 7-2 6-2-6-3-7 2-7 2-6 2zM740 1247l7-2 6-3 7-2 6-3 7-2 7-3 6-2 7-3-7-2-6 2-7 3-7 3-6 2-7 3-6 2-7 2-7 2zM668 1267l6-2 7-2 6-2-6-3-7 2-6 2-7 2zM740 1251l7-2 6-2 7-2 6-3 7-2 7-3 6-3 7-2 6-3 7-2 7-3-7-2-7 3-6 2-7 3-6 2-7 3-7 2-6 3-7 2-6 3-7 2-7 2zM674 1270l7-2 6-2 7-2 7-2-7-3-7 2-6 2-7 2-6 2zM747 1254l6-2 7-2 6-3 7-2 7-3 6-3 7-2 6-3 7-3 7-2 6-3 7-2 6-3 7-2 6-3 7-2-7-2-6 2-7 3-6 2-7 3-6 2-7 3-7 2-6 3-7 2-6 3-7 3-7 2-6 3-7 2-6 2-7 2zM681 1273l6-2 7-2 7-2 6-2-6-3-7 2-7 2-6 2-7 2zM753 1257l7-3 6-2 7-2 7-3 6-2 7-3 6-3 7-3 7-2 6-3 7-2 6-3 7-2 6-3 7-2 7-3-7-2-7 2-6 3-7 2-6 3-7 2-6 3-7 2-7 3-6 3-7 2-6 3-7 3-7 2-6 3-7 2-6 2zM681 1279l6-3 7-2 7-2 6-2 7-2-7-3-6 2-7 2-7 2-6 2-7 3zM760 1259l6-2 7-2 7-3 6-2 7-3 6-3 7-2 7-3 6-3 7-2 6-3 7-2 6-3 7-2 7-3 6-2-6-3-7 3-7 2-6 3-7 2-6 3-7 2-6 3-7 2-7 3-6 3-7 3-6 2-7 3-7 2-6 2-7 3zM681 1284l6-3 7-2 7-2 6-2 7-3-7-2-6 2-7 2-7 2-6 3-7 2z"/><path class=f d="M595 1199l7-2-7-2-6 2zM516 1215l7-2 6-2 7-2-7-2-6 2-7 1-6 2zM608 1199l7-2-7-2-6 2zM516 1220l7-3 6-2 7-2-7-2-6 2-7 2-6 2zM615 1201l7-2-7-2-7 2zM523 1222l6-3 7-2-7-2-6 2-7 3zM628 1201l7-3-7-2-6 3zM523 1226l6-2 7-2 6-2-6-3-7 2-6 3-7 2zM635 1202l6-3-6-1-7 3zM529 1228l7-2 6-2 7-2-7-2-6 2-7 2-6 2zM641 1204l7-3-7-2-6 3zM542 1228l7-2 7-2-7-2-7 2-6 2zM648 1205l6-3-6-1-7 3zM549 1231l7-3 6-2 7-1-7-3-6 2-7 2-7 2zM648 1209l6-2 7-3-7-2-6 3-7 3zM562 1231l7-2 6-2-6-2-7 1-6 2zM654 1211l7-2 7-3-7-2-7 3-6 2zM569 1233l6-2 7-2-7-2-6 2-7 2zM654 1215l7-2 7-3 6-2-6-2-7 3-7 2-6 2zM575 1236l7-2 7-2 6-2-6-2-7 1-7 2-6 2zM661 1217l7-2 6-3-6-2-7 3-7 2zM582 1238l7-2 6-2 7-2-7-2-6 2-7 2-7 2zM668 1219l6-2 7-2-7-3-6 3-7 2zM589 1240l6-2 7-2 6-2-6-2-7 2-6 2-7 2zM674 1221l7-2 6-2-6-2-7 2-6 2zM589 1245l6-2 7-3 6-2-6-2-7 2-6 2-7 3zM681 1223l6-2 7-2-7-2-6 2-7 2zM589 1249l6-2 7-2 6-3-6-2-7 3-6 2-7 2zM687 1225l7-2 7-2 6-3-6-2-7 3-7 2-6 2zM595 1251l7-2 6-3-6-1-7 2-6 2zM694 1227l7-2 6-2 7-2-7-3-6 3-7 2-7 2zM602 1253l6-3-6-1-7 2zM701 1229l6-2 7-2 6-2 7-3-7-2-6 3-7 2-6 2-7 2zM608 1254l7-2-7-2-6 3zM707 1231l7-2 6-2 7-2 6-3 7-2-7-2-6 2-7 3-6 2-7 2-6 2zM615 1256l7-2-7-2-7 2zM707 1235l7-2 6-2 7-2 6-2 7-3 7-2 6-3-6-2-7 3-7 2-6 3-7 2-6 2-7 2-6 2zM622 1258l6-3 7-2-7-2-6 3-7 2zM707 1239l7-2 6-2 7-2 6-2 7-2 7-3 6-2 7-3 6-2 7-3 7-2-7-2-7 2-6 3-7 2-6 3-7 2-7 3-6 2-7 2-6 2-7 2-6 2zM628 1260l7-2 6-3 7-1-7-3-6 2-7 2-6 3zM707 1243l7-1 6-2 7-2 6-3 7-2 7-2 6-3 7-2 6-3 7-2 7-3 6-2 7-2 6-3 7-2 7-3-7-2-7 2-6 3-7 2-6 3-7 2-7 3-6 2-7 3-6 2-7 3-7 2-6 2-7 2-6 2-7 2-6 2zM648 1258l6-2 7-2-7-2-6 2-7 1zM701 1249l6-1 7-2 6-2 7-2 6-2 7-2 7-3 6-2 7-3 6-2 7-3 7-2 6-3 7-2 6-2 7-3 7-2 6-3 7-2-7-2-6 2-7 3-7 2-6 3-7 2-6 2-7 3-7 2-6 3-7 2-6 3-7 2-7 2-6 3-7 2-6 2-7 1-6 2-7 2zM661 1259l7-2 6-2 7-1-7-3-6 2-7 1-7 2zM773 1230l7-3 6-2 7-3 6-2 7-2 7-3 6-2 7-3 6-3-6-1-7 2-6 3-7 2-7 3-6 2-7 2-6 3-7 2-7 3zM674 1260l7-2 6-1 7-2 7-2 6-1 7-2 6-2 7-2 6-2 7-2 7-2-7-2-7 2-6 2-7 2-6 2-7 2-6 1-7 2-7 1-6 2-7 1-6 2zM793 1227l6-2 7-3 7-2 6-3 7-2 6-3 7-3-7-2-6 3-7 3-6 2-7 3-7 2-6 2-7 3zM687 1261l7-2 7-1 6-2 7-2 6-1 7-2 6-2 7-2-7-3-6 2-7 2-6 2-7 2-6 1-7 2-7 2-6 1zM813 1224l6-2 7-3 6-2 7-3 6-2-6-3-7 3-6 3-7 2-6 3-7 2zM701 1262l6-1 7-2 6-2 7-2 6-2 7-2-7-2-6 2-7 2-6 1-7 2-6 2-7 1zM707 1265l7-2 6-1 7-2 6-2 7-2 7-2-7-3-7 2-6 2-7 2-6 2-7 2-6 1zM714 1268l6-2 7-2 6-2 7-1 7-2 6-2-6-3-7 2-7 2-6 2-7 2-6 1-7 2zM714 1272l6-1 7-2 6-2 7-2 7-2 6-2 7-2-7-2-6 2-7 2-7 1-6 2-7 2-6 2-7 2z"/><path class=g d="M582 1202l7-1 6-2-6-2-7 1-7 1zM536 1209l6-1 7-1-7-3-6 2-7 1zM595 1203l7-2 6-2-6-2-7 2-6 2zM536 1213l6-1 7-2 7-1-7-2-7 1-6 1-7 2zM608 1203l7-2-7-2-6 2zM536 1217l6-1 7-2 7-1-7-3-7 2-6 1-7 2zM615 1205l7-2 6-2-6-2-7 2-7 2zM542 1220l7-2 7-2 6-1-6-2-7 1-7 2-6 1zM622 1207l6-3 7-2-7-1-6 2-7 2zM549 1222l7-2 6-1 7-2-7-2-6 1-7 2-7 2zM628 1208l7-2 6-2-6-2-7 2-6 3zM556 1224l6-2 7-1 6-2-6-2-7 2-6 1-7 2zM635 1210l6-2 7-3-7-1-6 2-7 2zM569 1225l6-2 7-1-7-3-6 2-7 1zM635 1213l6-2 7-2-7-1-6 2-7 2zM575 1227l7-2 7-1 6-2-6-2-7 2-7 1-6 2zM635 1217l6-2 7-2 6-2-6-2-7 2-6 2-7 2zM582 1229l7-1 6-2 7-1-7-3-6 2-7 1-7 2zM635 1221l6-2 7-2 6-2-6-2-7 2-6 2-7 2zM595 1230l7-2 6-1 7-2-7-2-6 2-7 1-6 2zM602 1232l6-2 7-1 7-2 6-1 7-2 6-1 7-2 6-2 7-2-7-2-6 2-7 2-6 2-7 1-6 2-7 1-7 2-6 1-7 2zM608 1234l7-1 7-2 6-2 7-1 6-2 7-1 6-2 7-2 7-2-7-2-7 2-6 2-7 2-6 1-7 2-6 1-7 2-7 1-6 2zM608 1238l7-2 7-1 6-2 7-2 6-1 7-2 6-1 7-2 7-2 6-2-6-2-7 2-7 2-6 2-7 1-6 2-7 1-6 2-7 2-7 1-6 2zM608 1242l7-2 7-2 6-1 7-2 6-2 7-1 6-2 7-1 7-2 6-2 7-2-7-2-6 2-7 2-7 2-6 1-7 2-6 1-7 2-6 2-7 1-7 2-6 2zM654 1234l7-2 7-1 6-2 7-2 6-2-6-2-7 2-6 2-7 2-7 1-6 2zM608 1246l7-2 7-2 6-2 7-1 6-2-6-2-7 2-6 1-7 2-7 2-6 3zM668 1234l6-1 7-2 6-2 7-2-7-2-6 2-7 2-6 2-7 1zM608 1250l7-2 7-2 6-2 7-2-7-2-6 2-7 2-7 2-6 3zM668 1238l6-2 7-1 6-2 7-2 7-2-7-2-7 2-6 2-7 2-6 1-7 2zM615 1252l7-2 6-2 7-2-7-2-6 2-7 2-7 2zM674 1240l7-2 6-1 7-2 7-2 6-2-6-2-7 2-7 2-6 2-7 1-6 2zM622 1254l6-3 7-2 6-1-6-2-7 2-6 2-7 2zM668 1245l6-1 7-2 6-1 7-2 7-2 6-2-6-2-7 2-7 2-6 1-7 2-6 1-7 2zM635 1253l6-2 7-1 6-2 7-2-7-2-6 2-7 2-6 1-7 2zM648 1254l6-2 7-2 7-1 6-2 7-1 6-2 7-1 7-2 6-2-6-2-7 2-7 2-6 1-7 2-6 1-7 1-7 2-6 2-7 1zM661 1254l7-1 6-2 7-1 6-2 7-1 7-2 6-2-6-2-7 2-7 1-6 2-7 1-6 2-7 1-7 2zM681 1254l6-2 7-1 7-2-7-2-7 1-6 2-7 1z"/><path class=h d="M549 1207l7-1 6-1 7-1 6-1 7-1-7-3-6 1-7 1-6 1-7 1-7 1zM556 1209l6-1 7-1 6-1 7-1 7-1 6-1-6-2-7 1-7 1-6 1-7 1-6 1-7 1zM589 1207l6-1 7-1 6-2-6-2-7 2-6 1-7 1zM556 1213l6-1 7-2 6-1-6-2-7 1-6 1-7 1zM602 1208l6-1 7-2-7-2-6 2-7 1zM562 1215l7-1 6-1 7-2-7-2-6 1-7 2-6 1zM608 1210l7-2 7-1-7-2-7 2-6 1zM569 1217l6-1 7-1 7-1-7-3-7 2-6 1-7 1zM608 1213l7-1 7-2 6-2-6-1-7 1-7 2-6 1zM575 1219l7-1 7-1 6-1 7-2-7-2-6 2-7 1-7 1-6 1zM582 1222l7-2 6-1 7-1 6-2 7-1 7-2 6-1 7-2-7-2-6 2-7 2-7 1-6 1-7 2-6 1-7 1-7 1zM595 1222l7-1 6-1 7-2 7-1 6-2 7-2-7-1-6 1-7 2-7 1-6 2-7 1-6 1zM602 1225l6-2 7-1 7-2 6-1 7-2-7-2-6 2-7 1-7 2-6 1-7 1zM615 1225l7-1 6-2 7-1-7-2-6 1-7 2-7 1zM641 1237l7-2 6-1-6-2-7 1-6 2zM635 1242l6-2 7-1 6-2 7-1 7-2-7-2-7 2-6 1-7 2-6 2-7 1zM635 1246l6-2 7-2 6-1 7-2 7-1-7-2-7 1-6 2-7 1-6 2-7 2zM641 1248l7-2 6-2 7-1 7-2 6-1-6-2-7 1-7 2-6 1-7 2-6 2zM661 1246l7-1-7-2-7 1z"/><path class=i d="M575 1209l7-1 7-1-7-2-7 1-6 1zM582 1211l7-1 6-1 7-1-7-2-6 1-7 1-7 1zM589 1214l6-2 7-1 6-1-6-2-7 1-6 1-7 1zM602 1214l6-1-6-2-7 1z"/><path d="M496 1217l7 3 7 2 6 2 7 2 6 2 7 3 6 2 7 2 7 3 6 2 7 3 6 2 7 2 7 2 6 2 7 2 6 1 7 2 7 2 6 2 7 3 6 2 7 3 6 4 7 3 7 3 6 3 7 3 6-3 7-2 7-2 6-2 7-3 6-1 7-2 6-2 7-2 7-2 6-2 7-2 6-2 7-2 7-3 6-2 7-3 6-3 7-2 7-3 6-3 7-2 6-3 7-2 6-3 7-2 7-3 6-2" fill="none" stroke="#a040e0" stroke-width="2.2"/>
<g fill="none" stroke-width="1.8"><path d="M918 1302l184 71 185-71-185-72z" stroke="#c4c4c4" stroke-width="2"/><path d="M1102 1373V1162" stroke="#c4c4c4" stroke-width="2"/><path d="M1194 1338l-5-2-3-2-3-3-2-3 2-2 5 0 4 0 4 0 6 1 5 2 5 2" stroke="#6fcfb0"/><path d="M1186 1341l-4-2-4-2-4-2-4-2-3-3-4-2-3-2-3-3-3-2-3-2-5-2-5-2-6-1-6-1-7-1-4-1-8-1-6-2-5-1-5-2-4-2-3-3-3-2-2-3 1-4 5-2 7-1 6 0 9 0 4 0 4 1 6 0 5 1 7 2 4 2 3 2 4 3 3 2 2 2 3 3 3 3 4 1 5 2 5 2 5 2 6 1 6 1 5 2 6 1 5 2 5 1 5 2 4 2M1020 1262l4 2 4 2 3 2 3 3 0 4-4 1-10 0-7-1-6-1-6-1-5-2" stroke="#72b8ec"/><path d="M1181 1343l-5-2-4-2-4-2-4-2-4-2-4-2-4-2-4-2-4-2-5-2-5-2-5-1-6-1-6-2-4-1-7-1-6-2-6-1-5-2-4-2-4-2-4-2-4-2-3-2-3-2-4-3-3-2-4-2-4-2-5-2-5-1-6-1-7-1-6-2-7-1-5-1-7-1-5-2-5-1-5-2M1027 1259l4 2 5 2 4 2 4 2 4 2 4 2 4 2 3 1 5 2 7 2 6 1 6 1 9 1 8 0 6 1 9 0 8 1 7 1 7 1 6 1 5 2 4 2 3 2 3 2 3 3 3 2 3 3 3 2 4 2 3 2 5 2 4 2 5 2 5 1 5 2 5 2 4 2 5 1 5 2 5 2" stroke="#f0ac62"/><path d="M1176 1344l-4-1-5-2-4-2-4-2-4-2-5-2-4-2-5-2-4-1-5-2-5-2-6-1-6-1-6-2-5-1-6-1-6-2-5-1-5-2-4-2-5-2-4-2-3-2-4-2-4-2-3-2-4-2-4-2-5-2-4-2-6-2-5-1-6-1-6-2-6-1-5-1-6-2-5-1-5-2-5-2M1033 1257l4 2 5 2 4 2 5 1 4 2 5 2 5 2 5 1 5 2 6 1 7 1 7 1 7 1 8 0 4 1 4 0 7 0 9 1 7 0 7 1 7 1 4 2 4 2 3 3 2 2 2 3 3 3 2 2 3 3 3 2 4 3 3 2 4 2 5 2 4 1 5 2 4 2 5 2 5 1 4 2 5 2" stroke="#eedc5a"/><path d="M1172 1346l-4-2-5-2-4-1-5-2-4-2-5-2-4-2-5-1-5-2-5-2-6-1-6-1-6-2-6-1-5-1-6-2-6-1-5-2-4-1-5-2-4-2-4-2-4-2-3-3-3-1-5-3-4-2-4-2-4-2-5-1-5-2-5-2-6-1-5-2-6-1-5-1-6-2-5-2-5-1-4-2M1037 1255l5 2 5 2 4 2 5 1 5 2 5 2 5 1 5 2 6 1 7 1 6 1 7 1 8 1 4 0 4 0 6 0 10 0 9 0 10 1 9 0 7 1 4 2 2 2 2 3 1 4 1 3 2 3 2 3 2 2 2 3 4 2 3 2 4 3 4 2 4 2 4 1 5 2 4 2 5 2 4 2 5 1" stroke="#6c9fe0"/><path d="M1168 1348l-4-2-5-2-4-2-5-2-5-1-4-2-5-2-5-1-4-1-7-2-6-2-6-1-4-1-8-1-6-2-6-1-5-1-5-2-5-2-4-2-4-2-4-2-4-2-3-2-4-2-4-3-4-2-4-2-4-1-5-2-5-2-5-2-4-1-6-2-6-1-5-2-5-1-5-2-5-2-5-1M1204 1269l-4 2-4 3-3 2-2 3-1 3-1 3 0 5 1 3 1 3 2 3 3 2 3 2 3 3 4 2 4 2 4 2 5 2 4 2 5 1 4 2 5 2M1042 1254l4 1 5 2 5 2 5 2 3 1 7 2 5 1 6 2 6 1 7 1 7 1 8 0 4 0 4 1 6 0 10 0 8-1 5 0 10-1 8-1 6-1 6-1 6-1 5-2" stroke="#f08576"/><path d="M1165 1349l-5-2-5-2-4-1-5-2-5-2-5-1-5-2-6-1-5-2-6-1-6-1-4-1-9-2-6-1-6-1-6-1-5-2-5-2-4-1-4-2-4-3-4-2-3-2-4-2-3-2-4-2-4-3-4-2-4-1-5-2-5-2-4-2-4-1-7-2-5-1-5-2-5-2-5-1-5-2-4-2M1214 1273l-4 2-4 2-3 3-3 2-2 3-1 3 0 4 2 4 2 3 3 3 3 2 4 2 3 2 4 2 4 2 4 2 5 2 5 2 4 2M1046 1252l4 2 5 1 5 2 5 2 4 1 7 2 5 1 6 1 5 1 9 1 4 1 11 1 9 0 9-1 8 0 5-1 9-1 6-1 6-1 5-2 5-2" stroke="#a8a8a8"/><path d="M1161 1350l-5-1-4-2-5-2-5-1-5-2-5-2-6-1-3-1-9-2-6-1-4-1-9-1-6-1-7-1-6-1-5-1-6-2-5-2-4-2-4-2-3-2-4-2-3-3-3-2-4-2-3-2-4-3-4-2-4-2-5-1-4-2-5-2-5-2-5-1-5-2-5-2-5-1-5-2-5-2-4-1M1221 1276l-5 2-3 2-4 2-2 3-2 3 0 6 2 3 2 3 3 2 3 2 3 3 4 2 4 2 4 2 5 2 4 1 5 2M1050 1250l4 2 5 2 5 2 5 1 6 2 5 1 6 1 6 2 7 0 8 1 8 1 8 0 4 0 7-1 9 0 3-1 4 0 6-1 6-2 5-1 5-2" stroke="#d08be8"/><path d="M1157 1352l-4-2-5-2-5-1-5-2-6-1-5-2-6-1-6-1-6-1-6-1-8-1-5-1-9-1-4 0-3-1-7-1-6-1-5-2-4-2-4-2-3-2-3-2-3-3-3-2-3-3-3-2-4-2-3-3-4-2-4-2-4-2-5-1-4-2-5-2-5-2-4-1-6-2-5-2-5-1-4-2-5-2M1226 1278l-4 2-4 2-3 3-2 2-1 4 1 4 1 3 2 2 3 3 3 2 4 2 4 2 4 2 4 2 5 2 4 2M1054 1249l4 2 5 1 5 2 5 2 6 1 6 1 6 2 6 1 8 0 6 1 10 0 8 0 8-1 7-1 6-1 6-1 5-1 5-2" stroke="#6fcfb0"/><path d="M1153 1353l-4-1-4-2-6-2-5-1-6-2-6-1-5-1-7-1-7-1-8-1-5 0-11-1-8 0-8-1-6 0-7-2-5-1-4-3-2-2-3-3-2-2-2-3-2-3-3-2-3-3-3-2-3-3-4-2-3-2-5-2-4-2-5-2-4-1-5-2-5-2-5-2-4-1-5-2-5-2-5-1M1232 1280l-4 2-4 2-3 3-1 3-1 3 2 4 3 4 2 2 4 3 4 2 4 2 4 2 4 2 5 2M1057 1247l5 2 5 2 5 1 5 2 6 1 4 1 9 2 6 1 8 0 4 0 5 0 4 0 6 0 9-1 7-1 6-1 5-1 5-2" stroke="#72b8ec"/><path d="M1149 1355l-4-2-5-1-5-2-6-1-6-2-6-1-3-1-4 0-7-1-7 0-6-1-9 0-9 0-4 1-4 0-7 0-8 1-6 1-6 2M1237 1282l-4 2-3 3-2 2-2 3 1 4 2 3 2 2 3 3 4 2 4 2 4 2 4 2 5 2M1016 1340l4-2 3-3 1-3 0-4-1-3-1-3-2-3-2-3-3-2-3-3-3-2-4-2-3-2-5-2-4-2-4-2-5-2-5-1-5-2-4-2-5-1-5-2-4-2M1061 1246l5 2 5 1 5 2 6 1 6 2 4 0 8 2 6 0 10 1 9 0 8-1 5-1 8-1 5-1 5-2" stroke="#f0ac62"/><path d="M1145 1357l-5-2-5-2-5-1-6-2-6-1-6-1-8-1-4 0-4 0-6 0-9 0-5 1-9 1-5 1-7 1-5 2M1243 1285l-4 2-3 2-2 3 0 5 2 3 3 2 3 3 4 2 3 1 5 3 4 2M1003 1334l4-2 3-2 2-3 0-5-1-3-2-3-2-2-3-3-4-2-3-2-4-2-4-2-5-2-4-2-5-2-5-1-4-2-5-2-5-2-4-2M1065 1244l5 2 5 2 5 1 6 2 6 1 4 1 10 1 8 0 5 0 4 0 4 0 7-1 7-1 5-1 5-2" stroke="#eedc5a"/><path d="M1141 1358l-5-1-5-2-4-1-8-2-7-1-7 0-6-1-9 1-4 0-4 0-7 1-6 1-5 2-5 1M1249 1287l-3 2-3 3-1 3 1 4 4 4 3 2 4 2 4 2 5 2M993 1331l4-2 3-3 1-3 0-4-1-3-2-2-3-3-4-2-3-2-4-2-4-2-5-2-4-2-5-2-4-2-5-1-5-2-4-2M1070 1243l4 1 4 2 7 2 6 1 6 1 7 1 7 0 10 0 7 0 6-1 7-1 5-2" stroke="#6c9fe0"/><path d="M1135 1360l-4-1-4-1-8-2-6-1-8-1-6 0-8 0-6 1-8 1-6 2-4 1M1257 1290l-4 2-2 3 1 4 4 4 3 2 4 2 5 2M983 1327l4-2 3-3 1-3-2-4-4-4-3-2-3-2-4-2-5-2-4-2-4-2-5-2-5-2-4-1-5-2M1074 1241l5 2 3 1 8 2 6 1 6 1 8 0 3 1 6-1 10 0 4-1 7-2" stroke="#f08576"/><path d="M1129 1363l-5-2-5-1-7-1-8-1-4 0-5 0-10 1-6 2-5 1M1267 1294l-4 2 1 4 3 2 3 2 4 2M973 1323l4-2 2-3-1-4-3-2-3-3-3-2-4-2-4-2-5-2-4-2-5-2-4-1-5-2M1079 1239l5 2 6 1 6 1 6 1 8 1 4 0 5 0 9-1 6-2" stroke="#a8a8a8"/><path d="M1121 1366l-3-1-9-2-5 0-9 0-6 1-5 2M959 1318l3-3-1-4-4-3-4-2-4-2-4-2-4-2-5-2-4-2M1086 1236l5 2 6 1 4 1 10 1 9-1 5-1" stroke="#d08be8"/><path d="M1097 1232l3 1 9 0" stroke="#6fcfb0"/></g>
<path d="M918 1162V1302" stroke="#c8c8c8" stroke-width="1.2"/>
<path d="M918 1184l7-2 6 0 7 1 6 2 7 3 7 4 6 4 7 4 6 4 7 2 6 2 7 0 7 0 6-3 7-4 6-5 7-6 7-8 6-8 7-8 6-9 7-9 6-8 7-8 7-7 6-6 7-4 6-3 7 3 7 3 6 4 7 5 6 6 7 7 6 6 7 8 7 7 6 7 7 7 6 6 7 5 7 3 6 2 7 1 6 0 7-1 7-2 6-2 7-1 6-2 7-1 6 0 7 0 7 1 6 2 7 2" fill="none" stroke="#a040e0" stroke-width="2.6"/><path class=b d="M1030 1199l7-7 6-7 7-8 6-9 7-9 6-8 7-9 7-7 6-7 7-6-7-3-6 6-7 7-7 8-6 8-7 9-6 9-7 8-6 8-7 8-7 6zM1037 1201l6-6 7-7 6-8 7-9 6-8 7-9 7-8 6-8 7-6 6-6 7-5-7-3-6 4-7 6-6 7-7 7-7 9-6 8-7 9-6 9-7 8-6 7-7 7zM1050 1197l6-7 7-7 6-9 7-8 7-8 6-8 7-8 6-6 7-6 7-4-7-5-7 5-6 6-7 6-6 8-7 8-7 9-6 8-7 9-6 8-7 7zM1056 1199l7-6 6-7 7-8 7-8 6-8 7-8 6-7 7-7 7-5 6-4 7-4-7-5-6 4-7 4-7 6-6 6-7 8-6 8-7 8-7 8-6 9-7 7-6 7zM1063 1202l6-6 7-7 7-7 6-8 7-8 6-7 7-7 7-6 6-5 7-5 6-3-6-6-7 4-6 4-7 5-7 7-6 7-7 8-6 8-7 8-7 8-6 7-7 6zM1069 1205l7-6 7-6 6-7 7-7 6-8 7-7 7-6 6-6 7-5 6-4 7-3-7-7-6 3-7 5-6 5-7 6-7 7-6 7-7 8-6 8-7 7-7 7-6 6zM1076 1208l7-5 6-6 7-7 6-6 7-7 7-7 6-6 7-6 6-4 7-5 6-3-6-6-7 3-6 4-7 5-6 6-7 6-7 7-6 8-7 7-6 7-7 6-7 6zM1083 1211l6-5 7-5 6-6 7-6 7-7 6-6 7-6 6-5 7-4 6-4 7-3-7-8-6 3-7 5-6 4-7 6-6 6-7 7-7 7-6 6-7 7-6 6-7 5zM1089 1215l7-5 6-5 7-5 7-6 6-6 7-6 6-5 7-5 6-4 7-4 7-3-7-7-7 3-6 4-7 4-6 5-7 6-6 6-7 7-7 6-6 6-7 5-6 5zM1096 1219l6-4 7-5 7-6 6-5 7-5 6-6 7-5 6-4 7-4 7-4 6-3-6-7-7 3-7 4-6 4-7 5-6 5-7 6-6 6-7 6-7 5-6 5-7 5zM1102 1223l7-4 7-5 6-5 7-5 6-5 7-5 6-5 7-4 7-4 6-3 7-3-7-7-6 3-7 4-7 4-6 4-7 5-6 6-7 5-6 5-7 6-7 5-6 4zM1116 1222l6-4 7-5 6-5 7-5 6-4 7-4 7-4 6-4 7-3 6-3-6-6-7 3-6 3-7 4-7 4-6 5-7 5-6 5-7 5-6 5-7 5zM1129 1221l6-4 7-5 6-4 7-5 7-4 6-4 7-3-7-5-6 4-7 4-7 4-6 4-7 5-6 5-7 5zM1188 1249l7-6 6-8 7-8-7-1-6 8-7 6-7 6zM1188 1258l7-6 6-7 7-8 6-8 7-8-7-2-6 8-7 8-6 8-7 6-7 5zM1195 1261l6-6 7-7 6-8 7-9 7-9 6-9-6-1-7 9-7 8-6 8-7 8-6 7-7 6zM1201 1264l7-6 6-7 7-9 7-9 6-9 7-9 6-9-6-1-7 8-6 9-7 9-7 9-6 8-7 7-6 6zM1208 1267l6-6 7-8 7-8 6-10 7-9 6-9 7-9 6-7-6-2-7 7-6 9-7 9-6 9-7 9-7 9-6 7-7 6zM1214 1270l7-7 7-7 6-9 7-9 6-10 7-9 6-8 7-8 7-7-7-2-7 7-6 7-7 9-6 9-7 9-6 10-7 8-7 8-6 6z"/><path class=c d="M1096 1122l6-4-6-3-7 4zM1023 1204l7-5-7-3-6 5zM964 1195l7 4-7-3-6-4zM1109 1121l7-3-7-3-7 3zM1030 1206l7-5-7-2-7 5zM971 1197l6 4 7 4-7-2-6-4-7-4zM1116 1126l6-4-6-4-7 3zM1037 1208l6-5 7-6-7-2-6 6-7 5zM977 1199l7 4 6 4-6-2-7-4-6-4zM1043 1210l7-5 6-6-6-2-7 6-6 5zM990 1205l7 4-7-2-6-4zM1056 1207l7-5-7-3-6 6zM1063 1210l6-5-6-3-7 5zM1063 1216l6-3 7-5-7-3-6 5-7 4zM1069 1219l7-3 7-5-7-3-7 5-6 3zM1076 1222l7-3 6-4-6-4-7 5-7 3zM977 1215l7-2-7-4-6 2zM1083 1226l6-3 7-4-7-4-6 4-7 3zM984 1220l6-2-6-5-7 2zM1089 1229l7-3 6-3-6-4-7 4-6 3zM990 1226l7-3-7-5-6 2zM1102 1230l7-4 7-4-7-3-7 4-6 3zM997 1231l7-2-7-6-7 3zM1175 1192l6-3 7-3-7-5-6 3-7 3zM1109 1233l7-3 6-4 7-5-7-3-6 4-7 4-7 4zM1004 1236l6-3-6-4-7 2zM1116 1236l6-3 7-4 6-4 7-5 6-5 7-4 7-5 6-4 7-3 6-4 7-3-7-3-6 3-7 3-6 4-7 4-7 5-6 4-7 5-6 4-7 5-6 4-7 3zM1010 1240l7-2-7-5-6 3zM1129 1236l6-4 7-5 6-4 7-5 7-5 6-4 7-4-7-3-6 4-7 5-7 4-6 5-7 5-6 4-7 4zM1142 1234l6-4 7-5 7-5 6-5-6-2-7 5-7 5-6 4-7 5zM1155 1232l7-5-7-2-7 5zM1162 1240l6-5 7-6-7-1-6 5-7 5zM1168 1242l7-6 6-5 7-7-7-1-6 6-7 6-6 5zM1168 1249l7-5 6-6 7-6 7-7 6-7-6 0-7 6-7 7-6 5-7 6-6 4zM1168 1255l7-4 6-5 7-6 7-6 6-8 7-7 6-8-6 0-7 7-6 7-7 7-7 6-6 6-7 5-6 3zM1208 1227l6-8 7-8 7-7-7 0-7 7-6 8-7 7zM1175 1258l6-4 7-5-7-3-6 5-7 4zM1221 1221l7-9 6-8-6 0-7 7-7 8zM1181 1262l7-4-7-4-6 4zM1234 1213l7-8 6-7-6-1-7 7-6 8zM1188 1265l7-4-7-3-7 4zM1247 1206l7-7 6-7-6-1-7 7-6 7zM1195 1269l6-5-6-3-7 4zM1260 1201l7-7 7-5-7-1-7 4-6 7zM1201 1272l7-5-7-3-6 5zM1274 1196l6-5-6-2-7 5zM1208 1274l6-4-6-3-7 5z"/><path class=d d="M1102 1118l7-3-7-3-6 3zM1017 1208l6-4-6-3-7 4zM971 1199l6 4 7 3-7-2-6-4-7-4zM958 1191l6 4-6-3-7-4zM1023 1210l7-4-7-2-6 4zM984 1205l6 3-6-2-7-3zM964 1193l7 4-7-2-6-4zM971 1196l6 3-6-2-7-4zM984 1202l6 3-6-2-7-4zM1050 1211l6-4-6-2-7 5zM1056 1214l7-4-7-3-6 4zM958 1202l6-2-6-3-7 2zM964 1206l7-2-7-4-6 2zM971 1211l6-2-6-5-7 2zM1069 1225l7-3-7-3-6 2zM1076 1228l7-2-7-4-7 3zM990 1218l7-1-7-5-6 1zM1083 1231l6-2-6-3-7 2zM997 1223l7-1-7-5-7 1zM1089 1235l7-2 6-3-6-4-7 3-6 2zM1004 1229l6-2-6-5-7 1zM1102 1236l7-3-7-3-6 3zM1010 1233l7-1-7-5-6 2zM1188 1192l7-3-7-3-7 3zM1109 1239l7-3-7-3-7 3zM1017 1238l6-2-6-4-7 1zM1175 1205l6-4 7-4-7-2-6 4-7 3zM1122 1239l7-3-7-3-6 3zM1017 1244l6-2 7-2-7-4-6 2-7 2zM1168 1215l7-5 6-4-6-1-7 4-6 4zM1129 1241l6-3 7-4-7-2-6 4-7 3zM1023 1248l7-3-7-3-6 2zM1162 1227l6-6 7-5 6-5-6-1-7 5-6 5-7 5zM1135 1243l7-3 6-4 7-4-7-2-6 4-7 4-6 3zM1148 1242l7-4 7-5 6-5 7-5 6-6-6-1-7 5-6 6-7 5-7 4-6 4zM1175 1229l6-6 7-6-7 0-6 6-7 5zM1148 1247l7-3 7-4-7-2-7 4-6 3zM1188 1224l7-6 6-7-6 0-7 6-7 6zM1155 1250l7-4 6-4-6-2-7 4-7 3zM1201 1218l7-7-7 0-6 7zM1162 1252l6-3-6-3-7 4zM1214 1211l7-7-7 0-6 7zM1162 1258l6-3-6-3-7 3zM1228 1204l6-7-6 0-7 7zM1168 1261l7-3-7-3-6 3zM1234 1204l7-7-7 0-6 7zM1175 1265l6-3-6-4-7 3zM1247 1198l7-7-7 0-6 6zM1181 1268l7-3-7-3-6 3zM1260 1192l7-4-7-1-6 4zM1188 1271l7-2-7-4-7 3zM1195 1275l6-3-6-3-7 2zM1280 1191l7-3-7-2-6 3zM1201 1277l7-3-7-2-6 3z"/><path class=e d="M1010 1210l7-2-7-3-6 3zM1030 1211l7-3-7-2-7 4zM938 1192l6-2-6-2-7 1zM1037 1213l6-3-6-2-7 3zM977 1198l7 4-7-3-6-3zM944 1195l7-2-7-3-6 2zM1043 1215l7-4-7-1-6 3zM951 1199l7-2-7-4-7 2zM1050 1216l6-2-6-3-7 4zM1056 1219l7-3-7-2-6 2zM1063 1221l6-2-6-3-7 3zM977 1209l7-1-7-4-6 0zM984 1213l6-1-6-4-7 1zM1004 1222l6 0-6-5-7 0zM1010 1227l7 0-7-5-6 0zM1096 1238l6-2-6-3-7 2zM1017 1232l6-1-6-4-7 0zM1102 1241l7-2-7-3-6 2zM1023 1236l7-1-7-4-6 1zM1188 1197l7-3 6-3-6-2-7 3-7 3zM1116 1242l6-3-6-3-7 3zM1030 1240l7-1-7-4-7 1zM1181 1206l7-4-7-1-6 4zM1122 1244l7-3-7-2-6 3zM1030 1245l7-1-7-4-7 2zM1181 1211l7-4-7-1-6 4zM1129 1246l6-3-6-2-7 3zM1030 1250l7-2-7-3-7 3zM1181 1217l7-5 7-6-7 1-7 4-6 5zM1142 1245l6-3-6-2-7 3zM1188 1217l7-6-7 1-7 5zM1201 1211l7-6-7 1-6 5zM1148 1252l7-2-7-3-6 3zM1208 1211l6-7-6 1-7 6zM1155 1255l7-3-7-2-7 2zM1221 1204l7-7-7 1-7 6zM1241 1197l6-6-6 0-7 6zM1168 1266l7-1-7-4-6 1zM1254 1191l6-4-6-1-7 5zM1175 1269l6-1-6-3-7 1zM1274 1189l6-3-6-2-7 4z"/><path class=f d="M951 1188l7 3-7-3-7-3zM925 1187l6-2-6-3-7 2zM1017 1212l6-2-6-2-7 2zM958 1190l6 3-6-2-7-3zM931 1189l7-1-7-3-6 2zM984 1201l6 3-6-2-7-4zM1056 1223l7-2-7-2-6 1zM1063 1226l6-1-6-4-7 2zM1069 1229l7-1-7-3-6 1zM997 1217l7 0-7-5-7 0zM1076 1232l7-1-7-3-7 1zM1083 1236l6-1-6-4-7 1zM1017 1227l6 0-6-5-7 0zM1089 1239l7-1-7-3-6 1zM1023 1231l7 0-7-4-6 0zM1030 1235l7 0-7-4-7 0zM1109 1243l7-1-7-3-7 2zM1188 1202l7-4 6-3-6-1-7 3-7 4zM1116 1246l6-2-6-2-7 1zM1037 1244l6-2-6-3-7 1zM1188 1207l7-5-7 0-7 4zM1037 1248l6-2-6-2-7 1zM1135 1248l7-3-7-2-6 3zM1037 1252l6-2-6-2-7 2zM1195 1211l6-5-6 0-7 6zM1142 1250l6-3-6-2-7 3zM1214 1204l7-6-7 1-6 6zM1155 1259l7-1-7-3-7 1zM1234 1197l7-6-7 1-6 5zM1162 1262l6-1-6-3-7 1zM1247 1191l7-5-7 0-6 5zM1267 1188l7-4-7-1-7 4zM1181 1273l7-2-7-3-6 1zM1188 1276l7-1-7-4-7 2zM1102 1256l7-3-7-2-6 2z"/><path class=g d="M1023 1213l7-2-7-1-6 2zM964 1193l7 3-7-3-6-3zM1030 1215l7-2-7-2-7 2zM1037 1216l6-1-6-2-7 2zM958 1197l6-1-6-3-7 0zM1043 1218l7-2-7-1-6 1zM1050 1220l6-1-6-3-7 2zM1069 1233l7-1-7-3-6 1zM1010 1222l7 0-7-4-6-1zM1096 1242l6-1-6-3-7 1zM1037 1239l6 0-6-4-7 0zM1201 1195l7-3-7-1-6 3zM1043 1242l7 0-7-3-6 0zM1195 1202l6-4-6 0-7 4zM1122 1248l7-2-7-2-6 2zM1043 1246l7-1-7-3-6 2zM1195 1206l6-4-6 0-7 5zM1129 1250l6-2-6-2-7 2zM1043 1250l7-2-7-2-6 2zM1201 1206l7-5-7 1-6 4zM1135 1252l7-2-7-2-6 2zM1208 1205l6-6-6 2-7 5zM1142 1254l6-2-6-2-7 2zM1148 1256l7-1-7-3-6 2zM1228 1197l6-5-6 1-7 5zM1195 1279l6-2-6-2-7 1z"/><path class=h d="M1004 1211l6-1-6-2-7 0zM951 1193l7 0-7-3-7 0zM1056 1226l7 0-7-3-6 0zM1063 1230l6-1-6-3-7 0zM1004 1217l6 1-6-5-7-1zM1076 1236l7 0-7-4-7 1zM1023 1227l7 0-7-4-6-1zM1083 1239l6 0-6-3-7 0zM1030 1231l7 0-7-4-7 0zM1037 1235l6 0-6-4-7 0zM1102 1244l7-1-7-2-6 1zM1043 1239l7 0-7-4-6 0zM1109 1247l7-1-7-3-7 1zM1043 1253l7-2-7-1-6 2zM1221 1198l7-5-7 2-7 4zM1241 1191l6-5-6 1-7 5zM1155 1263l7-1-7-3-7 0zM1162 1266l6 0-6-4-7 1zM1260 1187l7-4-7 0-6 3zM1168 1269l7 0-7-3-6 0zM1096 1253l6-2-6-1-7 2z"/><path class=i d="M931 1185l7 0-7-3-6 0zM938 1188l6-1-6-2-7 0zM944 1190l7 0-7-3-6 1zM1050 1223l6 0-6-3-7 1zM1017 1222l6 1-6-4-7-1zM1089 1242l7 0-7-3-6 0zM1050 1242l6-1-6-2-7 0zM1201 1198l7-3-7 0-6 3zM1116 1249l6-1-6-2-7 1zM1050 1245l6-1-6-2-7 0zM1201 1202l7-5-7 1-6 4zM1050 1248l6-2-6-1-7 1zM1208 1201l6-5-6 1-7 5zM1050 1251l6-2-6-1-7 2zM1214 1199l7-4-7 1-6 5zM1142 1257l6-1-6-2-7 0zM1148 1259l7 0-7-3-6 1zM1254 1186l6-3-6 0-7 3zM1175 1272l6 1-6-4-7 0z"/><path class=j d="M1010 1213l7-1-7-2-6 1zM971 1196l6 2-6-2-7-3zM1017 1215l6 2-6-1-7-3zM1043 1221l7-1-7-2-6 1zM1010 1213l7 2-7-2-6-3zM1056 1229l7 1-7-4-6 0zM1010 1218l7 1-7-4-6-2zM1063 1232l6 1-6-3-7-1zM1069 1236l7 0-7-3-6-1zM1030 1227l7 1-7-3-7-2zM1076 1239l7 0-7-3-7 0zM1037 1231l6 1-6-4-7-1zM1043 1235l7 1-7-4-6-1zM1096 1245l6-1-6-2-7 0zM1050 1239l6 0-6-3-7-1zM1208 1195l6-3-6 0-7 3zM1122 1250l7 0-7-2-6 1zM1056 1246l7 0-7-2-6 1zM1129 1252l6 0-6-2-7 0zM1135 1254l7 0-7-2-6 0zM1050 1253l6-2-6 0-7 2zM1234 1192l7-5-7 2-6 4zM1089 1252l7-2-7-1-6 3zM1181 1275l7 1-7-3-6-1z"/><path class=k d="M1017 1214l6-1-6-1-7 1zM1023 1216l7-1-7-2-6 1zM1030 1217l7-1-7-1-7 1zM1037 1219l6-1-6-2-7 1zM1050 1226l6 0-6-3-7 0zM1023 1223l7 2-7-4-6-2zM1083 1242l6 0-6-3-7 0zM1102 1247l7 0-7-3-6 1zM1056 1241l7 1-7-3-6 0zM1056 1244l7 0-7-3-6 1zM1208 1197l6-3-6 1-7 3zM1056 1249l7-1-7-2-6 2zM1228 1193l6-4-6 2-7 4zM1116 1248l6 2-6-1-7-1zM1188 1278l7 1-7-3-7-1z"/><path class=l d="M990 1204l7 3-7-3-6-3zM1017 1215l6 3-6-3-7-2zM1043 1223l7 0-7-2-6 0zM1050 1228l6 1-6-3-7-1zM1056 1231l7 1-7-3-6-1zM1063 1235l6 1-6-4-7-1zM1037 1228l6 2-6-4-7-1zM1069 1238l7 1-7-3-6-1zM1043 1232l7 2-7-4-6-2zM1050 1236l6 1-6-3-7-2zM1089 1244l7 1-7-3-6 0zM1056 1239l7 1-7-3-6-1zM1109 1249l7 0-7-2-7 0zM1063 1246l6-1-6-1-7 0zM1214 1196l7-4-7 2-6 3zM1221 1195l7-4-7 1-7 4zM1056 1251l7-2-7 0-6 2zM1056 1253l7-2-7 0-6 2zM1142 1259l6 0-6-2-7-1zM1089 1247l7 1-7-1-6 0zM1247 1186l7-3-7 1-6 3zM1148 1262l7 1-7-4-6 0zM1155 1265l7 1-7-3-7-1zM1083 1252l6-3-6 0-7 3z"/><path class=m d="M997 1210l7 1-7-3-7 0zM1017 1219l6 2-6-4-7-2zM1030 1225l7 1-7-3-7-2zM1056 1233l7 2-7-4-6-1zM1043 1230l7 2-7-4-6-2zM1063 1237l6 1-6-3-7-2zM1050 1234l6 1-6-3-7-2zM1076 1241l7 1-7-3-7-1zM1056 1237l7 1-7-3-6-1zM1096 1246l6 1-6-2-7-1zM1063 1242l6 0-6-2-7-1zM1063 1244l6 0-6-2-7-1zM1214 1194l7-3-7 1-6 3zM1116 1250l6 0-6-1-7 0zM1122 1252l7 0-7-2-6 0zM1063 1248l6-1-6-1-7 0zM1129 1254l6 0-6-2-7 0zM1096 1248l6 1 7 2-7-2-6-1-7-1zM1135 1256l7 1-7-3-6 0zM1116 1252l6 2-6-2-7-1zM1089 1247l7 1-7 0-6-1zM1063 1253l6-3-6 1-7 2zM1076 1252l7-3-7 1-7 2zM1162 1268l6 1-6-3-7-1z"/><path class=n d="M990 1209l7 1-7-2-6-2zM997 1211l7 1 6 1-6-2-7-1-7-1zM1004 1212l6 2 7 0-7-1-6-1-7-1zM1010 1214l7 1 6 1-6-2-7 0-6-2zM1017 1216l6 1 7 0-7-1-6-1-7-1zM1023 1217l7 2 7 0-7-2-7 0-6-1zM1023 1218l7 2 7 1 6 0-6-2-7 0-7-2-6-2zM1004 1210l6 3-6-3-7-3zM1023 1221l7 2 7 2 6 2 7 1-7-3-6-2-7-2-7-2-6-2zM1037 1226l6 2 7 2 6 1-6-3-7-1-6-2-7-2zM1050 1232l6 1-6-3-7-2zM1056 1235l7 2-7-4-6-1zM1063 1238l6 2 7 1-7-3-6-1-7-2zM1063 1240l6 1 7 1 7 1 6 1-6-2-7-1-7-1-6-2-7-1zM1069 1242l7 1 7 2 6 1 7 0-7-2-6-1-7-1-7-1-6-1zM1069 1244l7 1 7 0 6 1 7 2 6 0 7 1-7-2-6-1-7 0-6-1-7-2-7-1-6 0zM1069 1245l7 1 7 0 6 1 7 1 6 1 7 1 7 0-7-1-7-1-6 0-7-2-6-1-7 0-7-1-6 0zM1221 1192l7-3-7 2-7 3zM1069 1247l7 0 7 0 6 0 7 1 6 1 7 2 7 1 6 0-6-2-7 0-7-1-6-1-7-1-6-1-7 0-7-1-6 1zM1228 1191l6-4-6 2-7 3zM1109 1251l7 1 6 1 7 1-7-2-6 0-7-1-7-2zM1063 1249l6-1 7-1 7 0 6 1 7 0-7-1-6 0-7 0-7 0-6 1-7 1zM1234 1189l7-3-7 1-6 4zM1122 1254l7 1 6 1-6-2-7-1-6-1zM1063 1251l6-2 7-1 7-1 6 0-6 0-7 0-7 1-6 1-7 2zM1241 1187l6-3-6 2-7 3zM1129 1256l6 1 7 2-7-3-6-1-7-1zM1069 1250l7-1 7-1 6-1-6 0-7 1-7 1-6 2zM1135 1258l7 2 6 2-6-3-7-2-6-1zM1069 1252l7-2 7-2 6-1 7 0-7 0-6 1-7 1-7 1-6 3zM1142 1260l6 3 7 2-7-3-6-2-7-2zM1083 1249l6-1 7-1 6 0-6 0-7 0-6 1-7 2zM1155 1265l7 3-7-3-7-2zM1162 1268l6 3 7 1-7-3-6-1-7-3zM1168 1271l7 3 6 1-6-3-7-1-6-3zM1181 1276l7 2-7-3-6-1z"/><path class=d d="M990 1207l7 3-7-2-6-3zM997 1209l7 3-7-2-7-3zM990 1204l7 3 7 4 6 2-6-1-7-3-7-4-6-3zM1109 1249l7 2 6 2-6-1-7-2-7-2zM1109 1248l7 1 6 3 7 2 6 3-6-2-7-2-6-2-7-2-7-1zM1122 1250l7 3 6 3 7 3-7-2-6-3-7-2-6-3zM1129 1252l6 2 7 4 6 3 7 4-7-3-6-3-7-3-6-3-7-3zM1135 1253l7 3 6 4 7 4 7 3-7-2-7-4-6-3-7-4-6-2zM1148 1259l7 3 7 4 6 4-6-3-7-3-7-4-6-4z"/><path class=e d="M997 1210l7 2-7-1-7-3zM1004 1212l6 2-6-2-7-2zM1004 1210l6 3-6-2-7-4zM1109 1250l7 2-7-2-7-1zM1122 1253l7 2-7-1-6-2zM1102 1248l7 1-7-1-6 0zM1142 1259l6 3-6-2-7-3zM1116 1249l6 1-6-1-7-1zM1122 1250l7 2-7-2-6-1zM1162 1267l6 4-6-3-7-3zM1168 1270l7 4-7-3-6-4z"/><path class=f d="M990 1208l7 3-7-2-6-3zM1010 1213l7 3-7-2-6-2zM1010 1213l7 2-7-2-6-2zM997 1207l7 3-7-3-7-3zM964 1200l7 0-7-4-6 1zM971 1204l6 0-6-4-7 0zM990 1212l7 0-7-4-6 0zM1116 1252l6 2-6-2-7-2zM1102 1248l7 2-7-1-6-1zM1135 1257l7 3-7-2-6-3zM1142 1256l6 3-6-3-7-3z"/><path class=g d="M1096 1248l6 0-6 0-7-1zM1129 1255l6 3-6-2-7-2zM1102 1247l7 1-7 0-6-1zM1109 1248l7 1-7-1-7-1zM1155 1265l7 3-7-3-7-3z"/><path class=h d="M984 1206l6 3-6-3-7-2zM1102 1249l7 1 7 2-7-1-7-2-6-1zM1096 1247l6 1-6 0-7-1zM1129 1251l6 2-6-1-7-2z"/><path class=i d="M977 1204l7 0-7-4-6 0zM1096 1248l6 1-6-1-7 0z"/><path class=j d="M971 1200l6 0-6-3-7-1zM1122 1254l7 2-7-2-6-2zM1148 1262l7 3-7-2-6-3z"/><path class=k d="M964 1196l7 1-7-3-6-1zM1175 1274l6 2-6-2-7-3z"/><path class=l d="M958 1193l6 1-6-3-7-1zM984 1204l6 1-6-3-7-2z"/><path class=m d="M951 1190l7 1-7-3-7-1z"/><path class=n d="M938 1185l6 1 7 2-7-3-6-2-7-1zM944 1187l7 1 7 2-7-2-7-2-6-1zM958 1191l6 2-6-3-7-2zM964 1194l7 2-7-3-6-2zM971 1197l6 2 7 2-7-3-6-2-7-2zM977 1200l7 2 6 2-6-3-7-2-6-2z"/><path class=g d="M984 1208l6 0-6-4-7 0z"/><path class=h d="M1109 1253l7-1-7-2-7 1z"/><path class=i d="M997 1212l7 1-7-4-7-1z"/><path class=j d="M990 1208l7 1-7-4-6-1zM1102 1251l7-1-7-1-6 1zM1116 1252l6 0-6-3-7 1z"/><path class=l d="M1004 1213l6 2-6-4-7-2zM1096 1250l6-1-6-1-7 1z"/><path class=m d="M1109 1250l7-1-7-1-7 1z"/><path class=n d="M990 1205l7 2 7 3-7-3-7-3-6-2zM997 1209l7 2 6 2 7 3 6 2 7 2 7 2 6 1-6-2-7-1-7-2-6-3-7-2-6-3-7-3-7-2zM1010 1215l7 2 6 2 7 2 7 2 6 2 7 1-7-3-6-1-7-2-7-2-6-2-7-3-6-2zM1089 1249l7-1 6-1 7 1-7-1-6 0-7 1-6 1zM1102 1249l7-1 7 0-7 0-7-1-6 1zM1116 1249l6 1 7 1-7-1-6-2-7 0zM1122 1252l7 0 6 1 7 3-7-3-6-2-7-1-6-1z"/><path d="M918 1184l7 3 6 2 7 3 6 3 7 4 7 3 6 4 7 5 6 4 7 5 6 6 7 5 7 5 6 4 7 4 6 4 7 2 7 2 6 1 7 0 6 0 7 0 6-1 7 0 7 0 6 0 7 1 6 3 7-3 7-1 6 0 7 0 6 1 7 3 6 3 7 3 7 4 6 4 7 4 6 2 7 2 7 1 6-2 7-3 6-4 7-7 7-7 6-9 7-9 6-10 7-9 6-8 7-8 7-7 6-5 7-3" fill="none" stroke="#a040e0" stroke-width="2.2"/>
<g fill="none" stroke-width="1.8"><path d="M1341 1302l185 71 184-71-184-72z" stroke="#c4c4c4" stroke-width="2"/><path d="M1526 1373V1162" stroke="#c4c4c4" stroke-width="2"/><path d="M1550 1311l-10 0-7-1-6-2-4-2-4-2-3-2 0-4 2-3 5-2 7 0 9 0 6 1 5 2 5 1 3 3 2 3-1 4-3 3-6 1M1439 1264l4 2 3 2-8 3-6-1-5-2" stroke="#f0ac62"/><path d="M1613 1339l-5-1-3-2 1-3 3 1 5 1 5 2M1583 1324l-11-1-7-1-7-1-7-1-7-1-6-1-7-1-4-1-7-1-5-2-5-2-3-2-4-2-3-3-2-2-2-3-2-2-2-4-1-3-1-3 8-3 9 0 9 0 9 0 8 0 4 0 4 1 7 0 8 1 6 1 5 2 4 2 2 3 2 2 2 3 2 3 1 3 1 4 1 3 1 3 1 3 1 3-2 3M1448 1260l5 2 4 2 4 2 4 2 4 2 3 2 3 3 2 2 2 3-6 1-5 0-5 0-11-1-6-1-7-1-4-1-8-2-5-1-5-2" stroke="#eedc5a"/><path d="M1600 1344l-5-1-4-2-4-2-5-2-4-2-5-2-4-2-5-1-6-2-6-1-5-1-7-2-6-1-6-1-6-1-5-1-6-2-5-2-4-2-4-2-4-2-3-2-2-3-3-2-3-3-2-2-3-3-4-2-2-2-6-2-3-1-8-2-5-1-6-2-5-1-7-1-6-2-5-1-5-2-5-2M1454 1258l5 2 4 1 5 2 4 2 5 2 4 2 5 2 4 1 6 2 5 1 5 1 9 1 4 1 11 0 9 1 8 0 9 0 4 0 5 0 4 0 5 0 7 1 4 2 2 3 1 3 1 3 0 4 1 3 1 3 1 3 2 3 2 3 2 3 2 3 3 2 4 2 3 2 4 2 5 2 4 2 4 2 5 2" stroke="#6c9fe0"/><path d="M1593 1347l-4-2-5-2-4-1-5-2-5-2-4-2-5-1-6-2-5-1-6-2-6-1-6-1-6-1-6-2-7-1-5-1-5-2-5-1-4-2-4-3-3-2-3-2-3-3-3-2-2-2-3-3-3-3-4-2-4-2-4-2-5-2-5-1-5-2-6-1-5-2-6-1-5-2-5-1-5-2-5-2M1630 1271l-4 1-5 2-4 2-3 2-4 3-3 2-2 2-2 4-2 3 0 5 1 4 1 3 1 3 2 3 3 2 2 3 4 2 3 2 4 3 4 2 4 2 4 1 5 2M1459 1256l5 2 4 1 5 2 5 2 4 2 5 1 6 2 5 1 6 2 6 1 5 1 9 0 3 1 5 0 6 0 9 0 4 0 4 0 7-1 8-1 6-1 6-1 6-2 5-1 5-2 5-1 5-2" stroke="#f08576"/><path d="M1588 1349l-5-2-4-2-5-1-5-2-5-2-5-1-5-2-5-1-6-2-6-1-6-1-7-1-6-1-5-1-8-2-6-1-5-1-5-2-4-2-3-2-3-3-3-2-2-3-2-2-4-3-2-3-3-2-4-2-3-2-4-2-5-2-5-2-5-2-5-1-5-2-6-1-5-2-5-1-5-2-4-2M1639 1274l-4 2-5 2-4 2-3 2-4 2-3 3-2 2-2 3-1 3 0 4 1 4 2 4 2 3 2 2 3 3 3 2 4 2 4 2 4 2 4 2 5 2M1464 1254l4 2 5 2 5 1 5 2 5 2 5 1 5 2 6 1 7 1 3 1 11 1 8 0 4 0 5 0 11-1 7 0 7-1 6-2 6-1 5-2 5-1 5-2 5-2" stroke="#a8a8a8"/><path d="M1583 1351l-5-2-4-2-5-1-5-2-5-2-5-1-3-1-3-1-6-1-6-1-5-1-8-1-6-1-8-1-6-1-7-1-6-1-6-2-4-2-4-2-3-2-2-3-2-2-2-2-3-4-2-2-3-3-3-3-3-2-3-2-4-2-5-2-4-2-5-2-5-1-5-2-5-1-5-2-5-2-5-1-5-2M1646 1277l-5 1-4 2-4 2-4 3-3 2-2 2-3 3-1 3-1 4 1 3 2 5 2 3 3 2 3 3 3 2 4 2 4 2 4 2 5 2M1468 1252l5 2 4 2 5 2 5 1 6 2 4 1 7 1 6 2 5 0 10 1 8 1 4 0 5-1 11 0 7-1 6-1 5-1 7-2 5-2 5-1 4-2" stroke="#d08be8"/><path d="M1578 1353l-4-2-5-2-5-1-5-2-5-2-6-1-6-1-6-2-5 0-8-1-5-1-11-1-8 0-8 0-6-1-9-1-5-1-4-3-2-2-2-3-1-3-2-3-2-3-1-3-2-3-2-2-3-3-3-3-3-2-4-2-4-2-4-2-5-2-5-1-5-2-5-2-5-1-4-2-5-2-5-2M1652 1279l-5 2-4 2-4 2-3 2-3 2-3 3-2 3 0 6 1 4 4 5 3 3 3 2 3 2 4 2 4 2 5 2M1472 1251l5 2 5 1 5 2 5 1 5 2 6 1 6 1 7 1 8 1 4 0 4 0 6 0 4 0 4 0 7-1 7-1 6-1 6-1 5-2 5-2 5-1" stroke="#6fcfb0"/><path d="M1574 1354l-5-1-4-2-6-2-5-1-5-2-6-1-6-1-6-1-8-1-4 0-4 0-7-1-9 1-8 0-7 1-7 1-6 1-6 1-5 2M1657 1281l-4 2-4 2-4 2-3 2-3 3-2 2-1 4 0 4 1 3 2 3 2 2 3 3 4 2 3 2 4 2 5 2M1436 1339l5-2 3-3 2-2 2-3 1-3 0-4 0-4-2-4-2-3-2-2-2-3-3-2-4-3-4-2-4-2-4-2-5-1-4-2-5-2-5-2-5-1-5-2-4-2M1476 1249l5 2 5 2 5 1 5 2 6 1 6 1 7 1 4 1 11 0 9 0 8 0 5-1 8-1 6-2 6-1 5-2 4-1" stroke="#72b8ec"/><path d="M1570 1356l-5-2-5-1-5-2-6-1-3-1-9-2-7-1-7 0-5-1-4 0-5 0-4 1-4 0-7 1-7 1-6 1-5 1-5 2M1663 1283l-5 2-4 2-3 2-3 3-3 2-1 3-1 4 2 4 2 3 2 2 4 3 4 2 4 2 4 2M1424 1334l4-2 3-3 3-2 2-3 2-3-1-7-1-3-2-2-3-3-3-2-2-2-5-3-4-2-5-2-4-1-5-2-5-2-4-2-5-1-5-2M1481 1247l4 2 5 2 6 1 5 2 6 1 7 1 7 1 8 0 10 0 9-1 6 0 7-2 5-1 5-2 5-1" stroke="#f0ac62"/><path d="M1565 1358l-5-2-5-2-5-1-6-1-6-2-7 0-3-1-4 0-6 0-9 0-5 0-9 2-6 1-5 1-5 2M1668 1285l-4 2-4 2-3 3-3 2-2 3 0 6 1 3 3 2 3 3 3 2 4 2 4 2M1414 1330l4-2 4-2 2-3 2-3 1-3 0-4-3-4-2-3-4-2-3-2-4-2-4-2-5-2-4-2-5-2-4-2-5-2-4-1M1485 1246l5 1 5 2 5 1 6 2 7 1 7 1 8 0 5 0 4 0 4 0 7-1 7-1 6-1 5-2 5-1" stroke="#eedc5a"/><path d="M1561 1360l-5-2-5-2-6-1-4-1-9-1-5-1-10 0-8 1-6 0-7 2-5 1-5 2M1674 1288l-4 2-4 2-3 2-2 3-1 3 1 3 1 3 3 2 2 2 5 3 4 2M1404 1326l4-2 4-2 2-2 2-4-1-3-1-4-3-2-3-3-3-2-4-2-4-2-5-2-4-2-5-2-4-1-5-2M1490 1244l5 1 5 2 6 1 5 1 8 1 5 1 10 0 8 0 7-1 6-2 5-1 5-2" stroke="#6c9fe0"/><path d="M1556 1362l-5-2-6-2-6-1-6-1-7 0-9 0-8 0-6 1-6 2-5 1M1682 1291l-5 2-3 2-2 2-1 4 1 4 3 3 4 2 4 2M1394 1322l4-2 2-2 2-3 0-4-2-4-3-2-3-2-4-2-4-2-4-2-5-2-4-2-5-2M1496 1242l5 1 5 2 5 1 8 1 5 0 3 1 7-1 7 0 7-1 3-1 3-1 5-1" stroke="#f08576"/><path d="M1550 1364l-5-2-5-1-7-1-7-1-9 0-7 1-6 1-5 2M1691 1294l-4 2-2 3-1 3 4 5 4 2M1380 1317l4-2 1-3-1-5-4-3-3-2-4-2-3-2-5-2-5-2M1503 1239l5 2 5 1 7 1 8 0 4 0 7 0 7-2 5-1" stroke="#a8a8a8"/><path d="M1543 1366l-5-1-7-1-3-1-5 0-4 1-7 0-4 2-1 0M1513 1235l6 1 6 1 9 0 5-2" stroke="#d08be8"/><path d="M1530 1371l-9 0 0 0" stroke="#6fcfb0"/></g>
<path d="M1341 1162V1302" stroke="#c8c8c8" stroke-width="1.2"/>
<path d="M1341 1188l7-3 6-1 7 0 7 0 6 1 7 3 6 2 7 3 6 3 7 3 7 2 6 1 7 0 6-2 7-3 7-5 6-7 7-7 6-8 7-9 7-8 6-8 7-7 6-7 7-5 6-5 7-4 7-3 6 3 7 4 6 4 7 5 7 6 6 6 7 7 6 7 7 7 6 7 7 7 7 5 6 5 7 3 6 2 7 1 7 0 6-1 7-1 6-2 7-2 6-2 7-1 7 0 6 0 7 0 6 2 7 2" fill="none" stroke="#a040e0" stroke-width="2.6"/><path class=b d="M1453 1194l7-6 6-8 7-8 7-8 6-8 7-8 6-7 7-7 6-5-6-3-7 5-6 7-7 7-6 8-7 8-7 9-6 8-7 7-6 7zM1460 1196l6-6 7-7 7-8 6-8 7-8 6-8 7-7 6-6 7-6 7-4-7-4-7 5-6 5-7 7-6 7-7 8-6 8-7 8-7 8-6 8-7 6zM1473 1192l7-7 6-7 7-8 6-8 7-7 6-7 7-6 7-6 6-4 7-4-7-4-6 4-7 4-7 6-6 6-7 7-6 8-7 8-6 8-7 8-7 7zM1480 1195l6-7 7-7 6-7 7-8 6-7 7-6 7-6 6-6 7-4 6-4-6-5-7 4-6 4-7 6-7 6-6 7-7 7-6 8-7 8-6 7-7 7zM1486 1197l7-6 6-6 7-7 6-7 7-7 7-6 6-6 7-5 6-5 7-3 7-3-7-6-7 3-6 4-7 4-6 6-7 6-7 6-6 7-7 8-6 7-7 7-6 7zM1493 1200l6-6 7-6 6-6 7-7 7-6 6-6 7-5 6-5 7-4 7-4 6-3-6-6-7 3-7 3-6 5-7 5-6 6-7 6-7 7-6 7-7 7-6 6-7 6zM1499 1203l7-5 6-6 7-6 7-6 6-5 7-6 6-5 7-5 7-4 6-3 7-3-7-7-6 3-7 4-7 4-6 5-7 5-6 6-7 6-7 7-6 6-7 6-6 6zM1506 1206l6-4 7-6 7-5 6-6 7-5 6-5 7-5 7-4 6-4 7-3 6-3-6-7-7 3-6 3-7 4-7 5-6 5-7 6-6 5-7 6-7 6-6 6-7 5zM1512 1210l7-5 7-4 6-5 7-5 6-5 7-5 7-4 6-4 7-4 6-3 7-3-7-7-6 3-7 3-6 4-7 4-7 5-6 5-7 5-6 6-7 5-7 6-6 4zM1519 1214l7-5 6-4 7-5 6-4 7-5 7-4 6-4 7-4 6-3 7-3 6-3-6-7-7 3-6 3-7 4-6 4-7 4-7 5-6 5-7 5-6 5-7 4-7 5zM1532 1213l7-4 6-4 7-5 7-4 6-4 7-3 6-4 7-3 6-3 7-2-7-7-6 3-7 3-6 3-7 4-6 4-7 4-7 5-6 4-7 5-6 4zM1539 1217l6-4 7-4 7-4 6-4 7-4 6-3 7-4 6-2 7-3-7-6-6 3-7 3-6 4-7 3-6 4-7 4-7 5-6 4-7 4zM1631 1251l7-7 6-7 7-8 6-7-6-2-7 8-6 7-7 7-7 6zM1631 1259l7-6 6-7 7-7 6-7 7-8 6-7 7-6-7-3-6 7-7 7-6 7-7 8-6 7-7 7-7 5z"/><path class=c d="M1512 1129l7-5 7-4-7-3-7 4-6 5zM1447 1199l6-5-6-2-7 5zM1526 1128l6-4 7-3-7-4-6 3-7 4zM1453 1201l7-5-7-2-6 5zM1539 1128l6-3-6-4-7 3zM1460 1203l6-5 7-6-7-2-6 6-7 5zM1545 1133l7-3-7-5-6 3zM1473 1200l7-5-7-3-7 6zM1480 1202l6-5-6-2-7 5zM1486 1205l7-5-7-3-6 5zM1493 1207l6-4-6-3-7 5zM1499 1210l7-4-7-3-6 4zM1394 1215l6-2-6-5-7 3zM1499 1217l7-3 6-4-6-4-7 4-6 4zM1400 1220l7-2-7-5-6 2zM1506 1220l6-3 7-3-7-4-6 4-7 3zM1407 1225l7-2 6-2-6-5-7 2-7 2zM1512 1224l7-3 7-4 6-4-6-4-7 5-7 3-6 3zM1414 1230l6-2 7-2-7-5-6 2-7 2zM1598 1185l7-3-7-5-7 2zM1519 1227l7-3 6-3 7-4-7-4-6 4-7 4-7 3zM1420 1235l7-2 6-2-6-5-7 2-6 2zM1532 1228l7-4 6-4 7-4 7-4 6-4 7-3 6-4 7-3 6-3 7-3 7-3 6-2-6-5-7 3-7 3-6 2-7 4-6 3-7 4-6 4-7 4-7 4-6 4-7 4-6 3zM1427 1240l6-2 7-2-7-5-6 2-7 2zM1539 1231l6-4 7-3 7-5 6-4 7-4 6-3 7-4 6-3-6-3-7 3-6 4-7 3-6 4-7 4-7 4-6 4-7 4zM1433 1245l7-3-7-4-6 2zM1552 1230l7-4 6-4 7-4 6-4-6-3-7 4-6 4-7 5-7 3zM1605 1242l6-5 7-6-7-1-6 6-7 5zM1605 1249l6-5 7-6 6-6 7-7 7-7-7 0-7 6-6 7-7 6-6 5-7 5zM1605 1256l6-4 7-6 6-6 7-7 7-7 6-7 7-7-7 0-6 6-7 7-7 7-6 6-7 6-6 5-7 5zM1611 1259l7-5 6-6 7-6 7-7 6-7 7-8 6-7 7-6-7-1-6 6-7 7-6 7-7 7-7 7-6 6-7 6-6 4zM1657 1222l7-7 6-7 7-6 7-5-7-1-7 5-6 6-7 6-6 7zM1618 1261l6-5 7-5-7-3-6 6-7 5zM1677 1211l7-6 6-6 7-4-7-2-6 4-7 5-7 6zM1624 1264l7-5-7-3-6 5z"/><path class=d d="M1526 1120l6-3-6-3-7 3zM1440 1202l7-3-7-2-7 3zM1447 1204l6-3-6-2-7 3zM1466 1205l7-5-7-2-6 5zM1368 1199l6-2-6-3-7 2zM1473 1206l7-4-7-2-7 5zM1374 1203l7-2-7-4-6 2zM1480 1208l6-3-6-3-7 4zM1381 1207l6-3-6-3-7 2zM1486 1211l7-4-7-2-6 3zM1387 1211l7-3 6-1-6-4-7 1-6 3zM1493 1214l6-4-6-3-7 4zM1400 1213l7-2-7-4-6 1zM1493 1219l6-2-6-3-7 2zM1407 1218l7-2 6-1-6-4-7 0-7 2zM1499 1222l7-2-7-3-6 2zM1420 1221l7-1-7-5-6 1zM1506 1226l6-2-6-4-7 2zM1427 1226l6-1-6-5-7 1zM1512 1230l7-3-7-3-6 2zM1433 1231l7-1-7-5-6 1zM1519 1233l7-2 6-3-6-4-7 3-7 3zM1440 1236l7-2-7-4-7 1zM1591 1201l7-3 7-3 6-2 7-3-7-3-6 2-7 3-7 3-6 3zM1526 1236l6-2 7-3-7-3-6 3-7 2zM1440 1242l7-2 6-1-6-5-7 2-7 2zM1578 1214l7-4 6-3 7-4-7-2-6 3-7 4-6 3zM1539 1237l6-3 7-4-7-3-6 4-7 3zM1440 1248l7-2 6-2-6-4-7 2-7 3zM1552 1236l7-4 6-4 7-4 6-4 7-4 6-4-6-2-7 4-6 4-7 4-6 4-7 4-7 4zM1447 1252l6-3-6-3-7 2zM1559 1238l6-4 7-4 6-4 7-5 6-4-6-1-7 4-6 4-7 4-6 4-7 4zM1572 1236l6-5 7-4 6-5-6-1-7 5-6 4-7 4zM1578 1237l7-4 6-5-6-1-7 4-6 5zM1585 1238l6-4 7-6-7 0-6 5-7 4zM1585 1244l6-4 7-5 7-6 6-6-6 0-7 5-7 6-6 4-7 4zM1585 1249l6-3 7-5 7-5 6-6 7-6 6-6-6 0-7 5-6 6-7 6-7 5-6 4-7 3zM1618 1231l6-7 7-6 7-7-7 1-7 6-6 6-7 6zM1591 1251l7-4 7-5-7-1-7 5-6 3zM1638 1218l6-6 7-7-7 0-6 6-7 7zM1591 1257l7-3 7-5-7-2-7 4-6 3zM1651 1212l6-6 7-6-7 0-6 5-7 7zM1598 1259l7-3-7-2-7 3zM1664 1207l6-6 7-5-7-1-6 5-7 6zM1605 1262l6-3-6-3-7 3zM1684 1197l6-4-6-2-7 5zM1611 1265l7-4-7-2-6 3zM1697 1195l6-4-6-2-7 4zM1618 1267l6-3-6-3-7 4z"/><path class=e d="M1348 1190l6-2-6-3-7 3zM1407 1198l7 3-7-2-7-3zM1354 1193l7-2-7-3-6 2zM1453 1206l7-3-7-2-6 3zM1361 1196l7-2-7-3-7 2zM1460 1208l6-3-6-2-7 3zM1381 1201l6-2-6-3-7 1zM1473 1211l7-3-7-2-7 3zM1387 1204l7-1-7-4-6 2zM1480 1213l6-2-6-3-7 3zM1400 1207l7-1-7-4-6 1zM1486 1216l7-2-7-3-6 2zM1407 1211l7 0-7-5-7 1zM1420 1215l7 0-7-5-6 1zM1493 1224l6-2-6-3-7 1zM1427 1220l6-1-6-4-7 0zM1499 1227l7-1-7-4-6 2zM1433 1225l7-1-7-5-6 1zM1506 1231l6-1-6-4-7 1zM1440 1230l7-1-7-5-7 1zM1512 1235l7-2-7-3-6 1zM1447 1234l6 0-6-5-7 1zM1519 1238l7-2-7-3-7 2zM1453 1239l7-1-7-4-6 0zM1598 1203l7-3 6-2 7-3 6-3-6-2-7 3-6 2-7 3-7 3zM1532 1239l7-2-7-3-6 2zM1453 1244l7-2 6-1-6-3-7 1-6 1zM1591 1212l7-4-7-1-6 3zM1539 1241l6-2 7-3-7-2-6 3-7 2zM1453 1249l7-2 6-1-6-4-7 2-6 2zM1591 1217l7-4-7-1-6 4zM1552 1241l7-3-7-2-7 3zM1453 1254l7-2-7-3-6 3zM1591 1222l7-5 7-4-7 0-7 4-6 4zM1559 1243l6-3 7-4-7-2-6 4-7 3zM1591 1228l7-5 7-5-7-1-7 5-6 5zM1565 1244l7-3 6-4-6-1-7 4-6 3zM1598 1228l7-5 6-5-6 0-7 5-7 5zM1572 1246l6-4 7-4-7-1-6 4-7 3zM1611 1223l7-5 6-6-6 0-7 6-6 5zM1578 1247l7-3-7-2-6 4zM1624 1218l7-6-7 0-6 6zM1578 1252l7-3-7-2-6 3zM1638 1211l6-6-6 1-7 6zM1585 1254l6-3-6-2-7 3zM1651 1205l6-5-6 0-7 5zM1664 1200l6-5-6 0-7 5zM1591 1262l7-3-7-2-6 2zM1677 1196l7-5-7-1-7 5zM1598 1264l7-2-7-3-7 3zM1690 1193l7-4-7-2-6 4zM1605 1267l6-2-6-3-7 2zM1703 1191l7-3-7-2-6 3zM1611 1270l7-3-7-2-6 2z"/><path class=f d="M1433 1204l7-2-7-2-6 2zM1394 1193l6 3 7 3-7-3-6-3-7-3zM1400 1195l7 3-7-2-6-3zM1361 1191l7-1-7-3-7 1zM1368 1194l6-2-6-2-7 1zM1374 1197l7-1-7-4-6 2zM1466 1209l7-3-7-1-6 3zM1394 1203l6-1-6-4-7 1zM1414 1211l6-1-6-4-7 0zM1486 1220l7-1-7-3-6 1zM1433 1219l7 0-7-4-6 0zM1493 1228l6-1-6-3-7 0zM1440 1224l7 0-7-5-7 0zM1499 1232l7-1-7-4-6 1zM1447 1229l6 0-6-5-7 0zM1506 1235l6 0-6-4-7 1zM1453 1234l7-1-7-4-6 0zM1460 1238l6-1-6-4-7 1zM1526 1241l6-2-6-3-7 2zM1466 1241l7 0-7-4-6 1zM1598 1208l7-3 6-4-6-1-7 3-7 4zM1466 1246l7-2-7-3-6 1zM1598 1213l7-4-7-1-7 4zM1545 1243l7-2-7-2-6 2zM1460 1252l6-2-6-3-7 2zM1605 1213l6-4-6 0-7 4zM1552 1245l7-2-7-2-7 2zM1605 1218l6-5-6 0-7 4zM1611 1218l7-6-7 1-6 5zM1565 1248l7-2-7-2-6 3zM1624 1212l7-5-7 0-6 5zM1572 1250l6-3-6-1-7 2zM1631 1212l7-6-7 1-7 5zM1644 1205l7-5-7 1-6 5zM1578 1256l7-2-7-2-6 2zM1657 1200l7-5-7 0-6 5zM1585 1259l6-2-6-3-7 2zM1670 1195l7-5-7 0-6 5zM1684 1191l6-4-6 0-7 3zM1697 1189l6-3-6-2-7 3z"/><path class=g d="M1354 1188l7-1-7-3-6 1zM1440 1206l7-2-7-2-7 2zM1407 1198l7 2-7-2-7-3zM1381 1196l6-1-6-3-7 0zM1387 1199l7-1-7-3-6 1zM1473 1215l7-2-7-2-7 2zM1407 1206l7 0-7-4-7 0zM1480 1217l6-1-6-3-7 2zM1427 1215l6 0-6-4-7-1zM1486 1224l7 0-7-4-6 1zM1440 1219l7 1-7-4-7-1zM1486 1228l7 0-7-4-6 0zM1447 1224l6 0-6-4-7-1zM1493 1232l6 0-6-4-7 0zM1453 1229l7 0-7-5-6 0zM1499 1236l7-1-7-3-6 0zM1460 1233l6 0-6-4-7 0zM1512 1239l7-1-7-3-6 0zM1466 1237l7 0-7-4-6 0zM1519 1241l7 0-7-3-7 1zM1611 1201l7-2 6-3-6-1-7 3-6 2zM1532 1243l7-2-7-2-6 2zM1473 1244l7 0-7-3-7 0zM1605 1209l6-4-6 0-7 3zM1539 1245l6-2-6-2-7 2zM1466 1250l7-2-7-2-6 1zM1460 1255l6-2-6-1-7 2zM1611 1213l7-5-7 1-6 4zM1559 1247l6-3-6-1-7 2zM1618 1212l6-5-6 1-7 5zM1565 1252l7-2-7-2-6 2zM1638 1206l6-5-6 1-7 5zM1572 1254l6-2-6-2-7 2zM1651 1200l6-5-6 1-7 5zM1664 1195l6-5-6 1-7 4zM1677 1190l7-3-7-1-7 4zM1585 1263l6-1-6-3-7 1zM1690 1187l7-3-7 0-6 3zM1591 1265l7-1-7-2-6 1zM1598 1268l7-1-7-3-7 1zM1526 1255l6-2-6-2-7 2z"/><path class=h d="M1407 1199l7 3-7-3-7-3zM1447 1208l6-2-6-2-7 2zM1374 1192l7 0-7-3-6 1zM1453 1209l7-1-7-2-6 2zM1460 1211l6-2-6-1-7 1zM1466 1213l7-2-7-2-6 2zM1400 1202l7 0-7-3-6-1zM1420 1210l7 1-7-5-6 0zM1480 1221l6-1-6-3-7 1zM1433 1215l7 1-7-5-6 0zM1480 1224l6 0-6-3-7 0zM1453 1224l7 1-7-4-6-1zM1486 1232l7 0-7-4-6 0zM1460 1229l6 0-6-4-7-1zM1493 1235l6 1-6-4-7 0zM1466 1233l7 0-7-4-6 0zM1506 1239l6 0-6-4-7 1zM1473 1237l7 0-7-4-7 0zM1473 1241l7-1-7-3-7 0zM1624 1196l7-3-7-1-6 3zM1526 1244l6-1-6-2-7 0zM1611 1205l7-3-7-1-6 4zM1473 1248l7-1-7-3-7 2zM1611 1209l7-4-7 0-6 4zM1545 1247l7-2-7-2-6 2zM1466 1253l7-2 7-2-7-1-7 2-6 2zM1618 1208l6-4-6 1-7 4zM1552 1248l7-1-7-2-7 2zM1624 1207l7-4-7 1-6 4zM1559 1250l6-2-6-1-7 1zM1631 1207l7-5-7 1-7 4zM1572 1257l6-1-6-2-7 1zM1578 1260l7-1-7-3-6 1zM1605 1271l6-1-6-3-7 1z"/><path class=i d="M1361 1187l7-1-7-2-7 0zM1368 1190l6-1-6-3-7 1zM1394 1198l6 1-6-4-7 0zM1414 1206l6 0-6-3-7-1zM1473 1218l7-1-7-2-7 0zM1427 1211l6 0-6-4-7-1zM1473 1221l7 0-7-3-7 0zM1473 1224l7 0-7-3-7-1zM1447 1220l6 1-6-4-7-1zM1460 1225l6 1 7 1 7 1 6 0-6-4-7 0-7-1-6-1-7-1zM1466 1229l7 1 7 1 6 1-6-4-7-1-7-1-6-1zM1473 1233l7 1 6 1 7 0-7-3-6-1-7-1-7-1zM1499 1239l7 0-7-3-6-1zM1480 1237l6 1-6-4-7-1zM1512 1242l7-1-7-2-6 0zM1480 1240l6 0-6-3-7 0zM1480 1244l6-1-6-3-7 1zM1618 1202l6-3-6 0-7 2zM1532 1246l7-1-7-2-6 1zM1480 1247l6-1-6-2-7 0zM1618 1205l6-4-6 1-7 3zM1466 1256l7-2-7-1-6 2zM1644 1201l7-5-7 1-6 5zM1565 1255l7-1-7-2-6 1zM1657 1195l7-4-7 1-6 4zM1670 1190l7-4-7 1-6 4zM1684 1187l6-3-6 0-7 2zM1519 1253l7-2-7-1-7 2z"/><path class=j d="M1427 1205l6-1-6-2-7 0zM1414 1200l6 2-6-2-7-2zM1387 1195l7 0-7-3-6 0zM1407 1202l7 1-7-4-7 0zM1466 1215l7 0-7-2-6 0zM1440 1216l7 1-7-4-7-2zM1453 1221l7 1 6 1 7 1-7-4-6-1-7-1-6-1zM1486 1238l7 0 6 1-6-4-7 0-6-1zM1506 1242l6 0-6-3-7 0zM1486 1240l7 1-7-3-6-1zM1519 1244l7 0-7-3-7 1zM1486 1243l7 0-7-3-6 0zM1624 1199l7-3-7 0-6 3zM1486 1246l7-1-7-2-6 1zM1539 1248l6-1-6-2-7 1zM1480 1249l6-1-6-1-7 1zM1624 1204l7-4-7 1-6 4zM1545 1249l7-1-7-1-6 1zM1473 1254l7-2-7-1-7 2zM1631 1203l7-4-7 1-7 4zM1552 1251l7-1-7-2-7 1zM1638 1202l6-5-6 2-7 4zM1559 1253l6-1-6-2-7 1z"/><path class=k d="M1387 1190l7 3-7-3-6-2zM1433 1207l7-1-7-2-6 1zM1394 1193l6 2-6-2-7-3zM1374 1189l7 0-7-2-6-1zM1427 1205l6 2-6-1-7-2zM1381 1192l6 0-6-3-7 0zM1433 1207l7 2-7-2-6-2zM1420 1206l7 1-7-3-6-1zM1466 1218l7 0-7-3-6 0zM1433 1211l7 2-7-4-6-2zM1466 1220l7 1-7-3-6-1zM1447 1217l6 1-6-4-7-1zM1493 1241l6 0 7 1-7-3-6-1-7 0zM1512 1244l7 0-7-2-6 0zM1493 1243l6 0-6-2-7-1zM1631 1196l7-3-7 0-7 3zM1526 1246l6 0-6-2-7 0zM1624 1201l7-3-7 1-6 3zM1486 1248l7-1-7-1-6 1zM1480 1252l6-2-6-1-7 2zM1473 1256l7-2-7 0-7 2zM1651 1196l6-4-6 1-7 4zM1664 1191l6-4-6 1-7 4zM1565 1257l7 0-7-2-6 0zM1677 1186l7-2-7 0-7 3zM1572 1260l6 0-6-3-7 0zM1578 1262l7 1-7-3-6 0zM1585 1265l6 0-6-2-7-1zM1591 1268l7 0-7-3-6 0zM1598 1270l7 1-7-3-7 0z"/><path class=l d="M1368 1186l6 1-6-3-7 0zM1433 1207l7 2-7-2-6-2zM1427 1205l6 2-6-2-7-3zM1400 1199l7 0-7-3-6-1zM1460 1213l6 0-6-2-7 0zM1453 1218l7 1 6 1-6-3-7-2-6-1zM1499 1243l7 1 6 0-6-2-7-1-6 0zM1519 1246l7 0-7-2-7 0zM1493 1245l6 0-6-2-7 0zM1631 1198l7-3-7 1-7 3zM1532 1248l7 0-7-2-6 0zM1493 1247l6 0-6-2-7 1zM1631 1200l7-4-7 2-7 3zM1539 1250l6-1-6-1-7 0zM1486 1250l7-1-7-1-6 1zM1545 1251l7 0-7-2-6 1zM1644 1197l7-4-7 2-6 4zM1552 1253l7 0-7-2-7 0zM1559 1255l6 0-6-2-7 0zM1512 1249l7 0-7 0-6 1zM1559 1257l6 3-6-3-7-2zM1512 1252l7-2-7 0-6 2z"/><path class=m d="M1440 1208l7 0-7-2-7 1zM1447 1210l6-1-6-1-7 0zM1394 1195l6 1-6-3-7-1zM1453 1211l7 0-7-2-6 1zM1460 1215l6 0-6-2-7-1zM1427 1207l6 2-6-3-7-2zM1460 1217l6 1-6-3-7-1zM1440 1213l7 1-7-3-7-2zM1499 1245l7 1 6 0 7 0-7-2-6 0-7-1-6 0zM1493 1249l6 0-6-2-7 1zM1638 1199l6-4-6 1-7 4zM1480 1254l6-2-6 0-7 2zM1657 1192l7-4-7 2-6 3z"/><path class=n d="M1414 1202l6 2 7 1-7-3-6-1-7-2zM1374 1187l7 1 6 2-6-2-7-3-6-1zM1427 1206l6 1-6-2-7-1zM1420 1204l7 2-7-2-6-2zM1381 1189l6 2 7 2-7-3-6-2-7-1zM1433 1207l7 1-7-1-6-1zM1440 1209l7 1-7-2-7-1zM1440 1209l7 1 6 1-6-1-7-1-7-2zM1433 1209l7 2 7 1 6 2 7 1-7-3-6-1-7-2-7-1-6-2zM1447 1214l6 1 7 2-7-3-6-2-7-1zM1638 1195l6-3-6 1-7 3zM1499 1247l7 0 6 0 7 1 7 0 6 0-6-2-7 0-7 0-6 0-7-1-6 0zM1638 1196l6-3 7-2-7 1-6 3-7 3zM1499 1249l7-1 6 0 7 1 7 0 6 1 7 0-7-2-6 0-7 0-7-1-6 0-7 0-6 0zM1644 1195l7-3 6-3-6 2-7 2-6 3zM1486 1252l7-2 6 0 7-1 6 0 7 0 7 1 6 1 7 0 6 0-6-1-7 0-6-1-7 0-7-1-6 0-7 1-6 0-7 1-6 2zM1651 1193l6-3 7-3-7 2-6 3-7 3zM1480 1255l6-2 7-2 6-1 7 0 6-1 7 1 7 0 6 1 7 1 6 1 7 0-7-2-6 0-7 0-6-1-7-1-7 0-6 0-7 1-6 0-7 2-6 2-7 2zM1664 1188l6-3-6 2-7 3zM1532 1251l7 1 6 2 7 1 7 0-7-2-7 0-6-1-7-1-6-1zM1486 1254l7-2 6-1 7-1 6-1-6 1-7 0-6 1-7 2-6 2zM1670 1187l7-3-7 1-6 3zM1545 1254l7 1 7 2 6 0-6-2-7 0-7-1-6-2zM1493 1253l6-2 7-1 6-1-6 1-7 1-6 1-7 2zM1552 1255l7 2 6 2 7 1-7-3-6 0-7-2-7-1zM1499 1252l7-2 6-1-6 1-7 1-6 2zM1565 1260l7 1 6 1-6-2-7-1-6-2zM1572 1262l6 2 7 1-7-3-6-1-7-1zM1578 1264l7 2 6 2-6-3-7-1-6-2zM1585 1267l6 2 7 1-7-2-6-2-7-2z"/><path class=d d="M1539 1251l6 2-6-1-7-2z"/><path class=e d="M1414 1200l6 3-6-2-7-3zM1526 1249l6 1 7 2 6 1-6-1-7-1-6-1-7-1zM1545 1253l7 2-7-2-6-1zM1532 1249l7 2-7-1-6-1zM1545 1252l7 2 7 3-7-2-7-2-6-2zM1559 1256l6 3-6-2-7-3z"/><path class=f d="M1414 1201l6 3-6-2-7-3zM1420 1203l7 2-7-1-6-3zM1519 1249l7 1 6 1-6-1-7 0-7-1zM1552 1255l7 2-7-2-7-2zM1559 1257l6 2-6-2-7-2zM1539 1250l6 2-6-1-7-2zM1565 1259l7 3-7-3-6-2zM1552 1253l7 3-7-2-7-2zM1565 1258l7 3-7-2-6-3z"/><path class=g d="M1420 1202l7 3 6 2-6-2-7-2-6-3zM1532 1251l7 1-7-1-6-1zM1545 1253l7 2-7-1-6-2zM1519 1249l7 0-7 0-7 0zM1526 1248l6 1-6 0-7 0zM1572 1261l6 3-6-2-7-3z"/><path class=i d="M1512 1249l7 0-7 0-6 1zM1545 1251l7 2-7-1-6-2zM1559 1256l6 2-6-2-7-3z"/><path class=j d="M1519 1250l7 0-7 0-7-1zM1539 1252l6 2-6-2-7-1zM1565 1259l7 3-7-2-6-3zM1532 1249l7 1-7-1-6-1zM1572 1262l6 2-6-2-7-3zM1578 1264l7 3-7-3-6-2z"/><path class=k d="M1526 1250l6 1-6-1-7 0z"/><path class=l d="M1512 1249l7 1-7-1-6 1z"/><path class=n d="M1387 1192l7 1 6 2 7 3-7-3-6-2-7-2-6-2zM1400 1196l7 2 7 2-7-2-7-3-6-2z"/><path class=i d="M1532 1253l7-1-7-2-6 1z"/><path class=l d="M1526 1251l6-1-6-1-7 1z"/><path class=m d="M1414 1203l6 1-6-3-7-2zM1539 1252l6 0-6-2-7 0z"/><path class=n d="M1407 1199l7 2 6 2 7 2-7-3-6-2-7-2-7-2zM1420 1204l7 2 6 2 7 1 7 2 6 1 7 1-7-2-6-1-7-1-7-2-6-2-7-2-6-2zM1506 1252l6-2 7-1 7-1-7 1-7 0-6 1-7 2zM1519 1250l7-1 6 0-6-1-7 1-7 1zM1532 1250l7 0 6 1-6-1-7-1-6 0zM1545 1252l7 2 7 2-7-3-7-2-6-1z"/><path d="M1341 1188l7 2 6 3 7 3 7 3 6 4 7 4 6 4 7 4 6 5 7 5 7 5 6 5 7 5 6 5 7 3 7 4 6 2 7 1 6 1 7 0 7-1 6-1 7-1 6-1 7 0 6 0 7 1 7 2 6-2 7-1 6 0 7 2 7 2 6 2 7 3 6 3 7 3 6 2 7 1 7 1 6-1 7-3 6-3 7-5 7-6 6-7 7-7 6-7 7-8 6-7 7-6 7-6 6-6 7-4 6-4 7-3" fill="none" stroke="#a040e0" stroke-width="2.2"/>
<g fill="none" stroke-width="1.8"><path d="M73 1782l184 72 185-72-185-72z" stroke="#c4c4c4" stroke-width="2"/><path d="M257 1854V1643" stroke="#c4c4c4" stroke-width="2"/><path d="M368 1753l-6 2-6 1-4 0-7-1-2-3 3-3 4-2" stroke="#a8a8a8"/><path d="M377 1757l-5 1-6 2-6 1-4 1-11 0-8 0-5-1-5-2-2-3 2-4 3-3 3-2 4-2 5-2" stroke="#d08be8"/><path d="M383 1759l-5 2-5 2-6 1-6 1-7 1-8 1-4 0-4 0-5 0-5-1-9-1-4-2-4-2-1-3 3-5 3-2 3-2 4-2 4-2 4-2 3-1 2-1" stroke="#6fcfb0"/><path d="M389 1761l-5 2-5 2-6 1-3 1-9 2-7 0-7 1-5 1-11 0-9 0-8 0-6-1-5-2-4-2-3-3 1-5 2-3 3-2 3-3 4-2 4-2 4-2 4-2 5-1 4-2M172 1820l6-1 8 0 9 1 4 3 1 3-5 4" stroke="#72b8ec"/><path d="M394 1764l-5 1-5 2-5 1-6 2-6 1-7 1-5 1-8 1-6 0-9 1-8 1-5 0-4 0-5 0-4 0-5 0-7-1-5-2-5-1-3-3-2-3 0-4 2-3 2-3 3-2 4-2 4-2 4-2 5-2 4-2 5-2 4-2 5-1 4-2M152 1813l5-2 6-1 5 0 3-1 7 0 8 0 5 1 9 1 5 2 5 2 3 2 3 3 1 3-1 4-2 3-3 2-4 2" stroke="#f0ac62"/><path d="M400 1766l-5 1-5 2-6 2-5 1-6 1-7 1-6 1-5 1-8 1-6 1-8 1-5 1-10 1-7 0-7 1-10 0-9 0-8 0-5-1-6-2-3-3-2-2-2-4 0-5 1-3 2-3 3-3 3-2 4-2 5-2 5-1 5-2 5-2 5-1 4-2 5-2 5-2 5-1 4-2M134 1806l5-2 6-1 4 0 3-1 8 0 9 0 10 0 8 0 8 0 6 1 8 1 5 2 5 2 3 2 2 2 2 3 2 4 0 5-2 3-2 3-2 3-4 2-4 2" stroke="#eedc5a"/><path d="M406 1768l-5 2-5 1-6 2-6 1-5 1-6 2-7 1-6 1-4 0-3 1-6 1-7 1-6 1-7 1-7 1-6 1-4 0-3 1-7 1-4 0-3 1-7 1-7 0-8 1-7 1-6 0-9 1-6 2-4 2-1 3 0 4 0 6 0 4 0 4-1 3-1 5-3 4-2 3-3 2-4 2-4 2M120 1800l5-1 6-2 6-1 8 0 9-1 4 0 4 0 6 0 9 0 10 0 10 0 9-1 8 0 4 0 4-1 7-1 4-1 3-3 1-3 1-3 0-4 1-3 0-4 1-3 0-4 0-4 1-4 2-4 4-3 6-1 6-1 7-1 6-1 6-1 6-2 6-1 5-1 6-2 5-2 5-1 4-2" stroke="#6c9fe0"/><path d="M412 1771l-5 1-5 2-5 1-6 2-6 1-6 1-6 1-7 1-6 2-5 0-8 2-6 1-6 1-7 1-6 1-6 1-6 2-7 1-6 1-6 1-5 1-8 1-5 2-6 1-5 2-4 2-3 2-3 3-2 3-1 3-2 3-1 3-1 3-2 3-2 3-2 2-2 3-4 2-3 2-5 2M108 1796l5-2 6-1 7-1 6-1 9 0 8-1 4 0 5 0 6 0 10-1 8 0 3-1 5 0 6-1 5-1 6-2 5-2 3-2 3-2 2-3 2-3 1-3 0-4-1-4-2-4-3-2-3-3-3-2-4-2-4-2-4-2-5-2-5-2-4-2M222 1724l5 2 4 2 4 2 4 2 4 2 4 2 5 1 7 1 7 1 9 0 7-1 6-1 6-1 6-2 5-2 4-1" stroke="#f08576"/><path d="M421 1774l-5 2-6 1-5 1-6 2-6 1-6 1-7 1-7 1-3 1-9 1-6 2-7 1-6 1-6 1-3 1-9 2-6 1-4 1-8 1-6 2-5 1-7 1-6 1-5 2-5 2-4 2-4 2-3 2-2 3-2 3-2 2-2 3-2 3-2 3-2 3-2 3-3 2-3 2-4 2-4 2M97 1791l5-1 6-2 5 0 9-1 8-1 6 0 11 0 8-1 8 0 5-1 9-1 5-1 8-1 5-2 4-2 3-2 3-3 2-2 1-4-1-4-2-3-2-2-3-3-4-2-3-2-4-2-5-2-4-2-5-2M235 1719l4 2 4 2 4 2 4 2 5 2 4 2 6 1 8 1 4 0 6-1 7-1 6-2 5-1" stroke="#a8a8a8"/><path d="M437 1780l-6 2-6 1-4 0-4 0-7 1-7 1-7 1-7 1-7 1-6 1-7 1-4 0-8 2-6 1-5 1-7 2-6 1-7 1-6 1-6 2-6 1-6 1-6 1-5 2-6 1-4 2-5 2-4 2-3 2-3 3-2 2-3 3-2 3-2 2-2 3-1 3-3 3-3 2-3 3-4 2-4 2M81 1785l5-1 8-1 4 0 4 0 7-1 10 0 8 0 9-1 8 0 6 0 10-1 7-1 6-1 6-1 5-2 4-2 3-3 2-2 0-4-1-3-2-3-3-2-3-2-4-3-4-2-4-2-5-2M256 1711l3 2 2 3 3 2 4 3 4 1 7 2 9-2" stroke="#d08be8"/><path d="M408 1795l-5-1-6-1-9 0-4 1-4 0-7 1-6 1-7 1-6 1-6 1-6 2-6 1-7 1-6 1-4 1-9 1-6 1-5 2-6 1-5 2-4 2-4 2-3 1-4 3-3 3-2 2-2 3-2 3-2 3-3 3-2 2-2 3-3 2-3 2-5 3M95 1773l5 2 7 1 7 0 9 1 10 0 8-1 8 0 6-1 7-1 6-2 4-1 4-3 2-2 0-4-3-5-4-2-3-3-5-2-4-1" stroke="#6fcfb0"/><path d="M381 1806l-7-1-4 0-5-1-3 1-8 0-7 1-6 1-8 1-6 1-7 1-7 1-6 1-6 1-5 2-5 2-4 2-4 2-3 2-3 2-2 3-3 3-2 3-1 3-2 3-1 3-1 4 3 3M109 1768l3 1 9 1 6 1 9 0 8-1 6-1 5-1 4-3 2-2-1-4-3-3-3-2-5-2" stroke="#72b8ec"/><path d="M353 1816l-6-1-6 0-9 0-8 0-6 1-8 1-5 1-6 2-4 2-4 2-3 2-3 2-2 3-2 3-1 3 1 4 3 2 1 0" stroke="#f0ac62"/><path d="M332 1825l-4-1-10 0-7 1-5 1-4 2-3 2-1 4 3 3" stroke="#eedc5a"/></g>
<path d="M73 1643V1782" stroke="#c8c8c8" stroke-width="1.2"/>
<path d="M73 1667l6-3 7-3 7-4 6-4 7-4 6-5 7-4 6-3 7-3 7-2 6-1 7 0 6 0 7 0 7 0 6 1 7 0 6-1 7-2 7-2 6-3 7-4 6-4 7-5 6-4 7-4 7-4 6-3 7 3 6 2 7 2 7 3 6 3 7 4 6 5 7 6 6 7 7 7 7 8 6 7 7 6 6 6 7 4 7 2 6 1 7 0 6-1 7-2 7-2 6-1 7-2 6-1 7 0 6 1 7 1 7 3" fill="none" stroke="#a040e0" stroke-width="2.6"/><path class=b d="M106 1672l6-4 7-5 6-4 7-4-7-4-6 4-7 4-6 5-7 3zM112 1676l7-4 6-4 7-4 7-5 6-4-6-4-7 4-7 4-6 4-7 5-6 4zM112 1684l7-3 6-4 7-4 7-5 6-4 7-4 6-4-6-4-7 3-6 4-7 5-7 4-6 4-7 4-6 4zM119 1689l6-3 7-4 7-5 6-4 7-4 6-4 7-4-7-5-6 4-7 4-6 4-7 5-7 4-6 4-7 3zM270 1635l7-3 7-4 6-4 7-3-7-5-6 3-7 4-7 4-6 4zM132 1690l7-4 6-4 7-4 6-4 7-4 7-4-7-5-7 4-6 4-7 4-6 4-7 5-7 4zM270 1644l7-4 7-3 6-4 7-3 6-3 7-3-7-6-6 3-7 3-6 4-7 4-7 3-6 4zM139 1695l6-4 7-4 6-4 7-5 7-4 6-3-6-5-7 4-7 4-6 4-7 4-6 4-7 4zM277 1648l7-3 6-3 7-3 6-3 7-2 6-3-6-7-7 3-6 3-7 3-6 4-7 3-7 4zM145 1699l7-4 6-4 7-4 7-4 6-4 7-4-7-4-6 3-7 4-7 5-6 4-7 4-6 4zM290 1651l7-2 6-3 7-2 6-3 7-3-7-7-6 3-7 2-6 3-7 3-6 3zM158 1699l7-4 7-4 6-4 7-4 6-3-6-5-7 4-6 4-7 4-7 4-6 4zM303 1655l7-2 6-2 7-3 7-2-7-8-7 3-6 3-7 2-6 3zM172 1699l6-4 7-4-7-4-6 4-7 4zM316 1659l7-1 7-3 6-2-6-7-7 2-7 3-6 2zM336 1662l7-3-7-6-6 2z"/><path class=c d="M224 1623l7-5 6-4 7-5 7-4-7-2-7 4-6 4-7 5-6 4zM93 1664l6-4 7-4 6-5 7-4 6-4-6-3-7 4-6 5-7 4-6 4-7 4zM231 1625l6-4 7-5 7-4 6-5-6-2-7 4-7 5-6 4-7 5zM86 1674l7-3 6-4 7-3 6-5 7-4 6-4 7-4 7-4-7-3-7 3-6 4-7 4-6 5-7 4-6 4-7 3-7 3zM237 1627l7-4 7-5 6-4 7-4-7-3-6 5-7 4-7 5-6 4zM132 1655l7-4 6-4 7-3-7-4-6 3-7 4-7 4zM93 1678l6-3 7-3-7-5-6 4-7 3zM244 1630l7-5 6-4 7-5 6-4-6-2-7 4-6 4-7 5-7 4zM145 1655l7-3 6-3 7-3-7-4-6 2-7 3-6 4zM99 1682l7-2 6-4-6-4-7 3-6 3zM244 1636l7-4 6-4 7-4 6-5 7-3 7-4-7-3-7 3-6 4-7 5-6 4-7 5-7 3zM158 1656l7-3 7-2-7-5-7 3-6 3zM106 1687l6-3-6-4-7 2zM251 1639l6-4 7-4 6-4 7-4 7-4 6-3 7-3-7-4-6 3-7 4-7 3-6 5-7 4-6 4-7 4zM165 1661l7-3 6-3-6-4-7 2-7 3zM112 1692l7-3-7-5-6 3zM297 1621l6-3-6-5-7 3zM251 1646l6-3 7-4 6-4-6-4-7 4-6 4-7 3zM172 1666l6-3 7-3 6-2-6-5-7 2-6 3-7 3zM119 1696l6-2 7-4-7-4-6 3-7 3zM257 1649l7-2 6-3-6-5-7 4-6 3zM178 1671l7-3 6-3 7-2-7-5-6 2-7 3-6 3zM125 1701l7-3 7-3-7-5-7 4-6 2zM264 1654l6-3 7-3-7-4-6 3-7 2zM185 1675l6-3 7-3 7-2-7-4-7 2-6 3-7 3zM132 1705l7-3 6-3-6-4-7 3-7 3zM270 1658l7-2 7-2 6-3-6-6-7 3-7 3-6 3zM191 1680l7-3 7-3 6-2-6-5-7 2-7 3-6 3zM139 1709l6-3 7-3 6-4-6-4-7 4-6 3-7 3zM284 1661l6-2 7-2 6-2-6-6-7 2-6 3-7 2zM185 1691l6-3 7-4 7-3 6-3 7-2-7-4-6 2-7 3-7 3-6 3-7 4zM145 1713l7-3 6-3 7-4 7-4-7-4-7 4-6 4-7 3-6 3zM297 1664l6-1 7-2 6-2-6-6-7 2-6 2-7 2zM152 1717l6-3 7-3 7-4 6-4 7-4 6-4 7-3 7-4 6-3 7-3-7-4-6 3-7 3-7 4-6 3-7 4-6 4-7 4-7 4-6 3-7 3zM316 1667l7-2 7-1 6-2-6-7-7 3-7 1-6 2zM158 1721l7-3 7-3 6-4 7-4 6-4 7-4 7-4 6-3 7-3-7-4-6 3-7 4-7 3-6 4-7 4-6 4-7 4-7 3-6 3zM336 1669l7-2 6-2-6-6-7 3-6 2zM165 1724l7-2 6-4 7-3 6-4 7-4 7-5 6-3 7-4 6-3-6-3-7 3-6 3-7 4-7 4-6 4-7 4-6 4-7 3-7 3zM172 1728l6-3 7-3 6-4 7-4 7-4 6-5 7-3 6-4-6-3-7 4-6 3-7 5-7 4-6 4-7 3-6 4-7 2zM185 1729l6-4 7-4 7-4 6-5 7-4 6-4-6-2-7 3-6 5-7 4-7 4-6 4-7 3zM198 1728l7-4 6-5 7-4 6-5-6-2-7 4-6 5-7 4-7 4z"/><path class=d d="M251 1605l6-4 7-2-7-3-6 3-7 4zM211 1630l7-4 6-3-6-3-7 4-6 3zM125 1643l7-3 7-3-7-3-7 3-6 3zM79 1670l7-3 7-3-7-3-7 3-6 3zM257 1607l7-3-7-3-6 4zM218 1632l6-3 7-4-7-2-6 3-7 4zM139 1643l6-3 7-2-7-3-6 2-7 3zM264 1610l6-4-6-2-7 3zM224 1634l7-3 6-4-6-2-7 4-6 3zM152 1644l6-2-6-4-7 2zM270 1612l7-3 7-3-7-3-7 3-6 4zM231 1637l6-4 7-3-7-3-6 4-7 3zM165 1646l7-1-7-4-7 1zM284 1612l6-3-6-3-7 3zM237 1639l7-3-7-3-6 4zM172 1651l6-2-6-4-7 1zM237 1645l7-3 7-3-7-3-7 3-6 3zM178 1655l7-2 6-1-6-4-7 1-6 2zM244 1648l7-2-7-4-7 3zM191 1658l7-2-7-4-6 1zM244 1654l7-2 6-3-6-3-7 2-7 2zM198 1663l7-2 6-1-6-5-7 1-7 2zM251 1658l6-2 7-2-7-5-6 3-7 2zM205 1667l6-2 7-1-7-4-6 1-7 2zM257 1661l7-1 6-2-6-4-7 2-6 2zM211 1672l7-2 6-2 7-1-7-4-6 1-7 1-6 2zM264 1665l6-1 7-2 7-1-7-5-7 2-6 2-7 1zM218 1676l6-2 7-2 6-1-6-4-7 1-6 2-7 2zM277 1668l7-1 6-2 7-1-7-5-6 2-7 1-7 2zM218 1682l6-2 7-2 6-2-6-4-7 2-6 2-7 2zM297 1670l6-1 7-1 6-1-6-6-7 2-6 1-7 1zM218 1689l6-3 7-3 6-2-6-3-7 2-6 2-7 3zM323 1671l7-1 6-1-6-5-7 1-7 2zM224 1692l7-3 6-2-6-4-7 3-6 3zM343 1673l6-2 7-2-7-4-6 2-7 2zM224 1698l7-3 6-3-6-3-7 3-6 3zM224 1704l7-4 6-3-6-2-7 3-6 4zM178 1731l7-2-7-4-6 3zM224 1710l7-4 6-4-6-2-7 4-6 4zM185 1734l6-3 7-3-7-3-6 4-7 2zM198 1734l7-4 6-4 7-5 6-5 7-4 6-5-6-1-7 4-6 5-7 4-6 5-7 4-7 3zM218 1727l6-5 7-5-7-1-6 5-7 5zM270 1726l7-3 7-5 6-4 7-4 6-4-6-2-7 4-6 4-7 4-7 5-6 4z"/><path class=e d="M205 1632l6-2-6-3-7 2zM139 1637l6-2-6-3-7 2zM264 1604l6-3-6-2-7 2zM211 1634l7-2-7-2-6 2zM270 1606l7-3-7-2-6 3zM218 1637l6-3-6-2-7 2zM158 1642l7-1-7-4-6 1zM224 1639l7-2-7-3-6 3zM172 1645l6-1-6-4-7 1zM231 1642l6-3-6-2-7 2zM178 1649l7-1-7-4-6 1zM231 1647l6-2-6-3-7 2zM191 1652l7-1-7-4-6 1zM231 1652l6-2 7-2-7-3-6 2-7 1zM198 1656l7-1 6-1-6-4-7 1-7 1zM211 1660l7-1 6-1 7-1 6-2 7-1-7-4-6 2-7 1-6 1-7 0-6 1zM218 1664l6-1 7-1 6-2 7-1 7-1-7-4-7 1-6 2-7 1-6 1-7 1zM231 1667l6-1 7-2 7-1 6-2-6-3-7 1-7 1-6 2-7 1zM237 1671l7-2 7-1 6-1 7-2-7-4-6 2-7 1-7 2-6 1zM237 1676l7-1 7-2 6-1 7-2 6-1 7-1-7-4-6 1-7 2-6 1-7 1-7 2-6 1zM277 1673l7-1 6-1 7-1-7-5-6 2-7 1-7 1zM237 1681l7-1 7-2 6-1 7-2-7-3-6 1-7 2-7 1-6 2zM310 1673l6-1 7-1-7-4-6 1-7 1zM237 1687l7-2 7-2 6-2-6-3-7 2-7 1-6 2zM336 1674l7-1-7-4-6 1zM237 1692l7-3 7-2-7-2-7 2-6 2zM356 1673l7-2-7-2-7 2zM237 1697l7-3-7-2-6 3zM237 1702l7-4-7-1-6 3zM237 1707l7-4-7-1-6 4zM191 1737l7-3-7-3-6 3zM231 1717l6-5 7-4-7-1-6 5-7 4zM205 1735l6-4 7-4-7-1-6 4-7 4zM224 1727l7-5 6-5-6 0-7 5-6 5zM270 1721l7-5 7-4 6-4 7-4-7-1-6 4-7 4-7 5-6 4zM303 1706l7-3 6-3-6-2-7 3-6 3zM257 1733l7-3 6-4-6-1-7 3-6 3z"/><path class=f d="M152 1638l6-1-6-3-7 1zM211 1638l7-1-7-3-6 2zM165 1641l7-1-7-4-7 1zM218 1641l6-2-6-2-7 1zM218 1645l6-1 7-2-7-3-6 2-7 1zM185 1648l6-1-6-4-7 1zM224 1648l7-1-7-3-6 1zM198 1651l7-1-7-3-7 0zM211 1654l7 0 6-1 7-1-7-4-6 1-7 1-6 0zM264 1675l6-1 7-1-7-4-6 1-7 2zM257 1681l7-2 6-1 7-1 7-1 6-1 7-1 6-1 7 0-7-4-6 1-7 1-6 1-7 1-7 1-6 1-7 2-6 1zM330 1675l6-1-6-4-7 1zM251 1687l6-2 7-1-7-3-6 2-7 2zM349 1675l7-2-7-2-6 2zM244 1694l7-3 6-2-6-2-7 2-7 3zM244 1698l7-3-7-1-7 3zM244 1703l7-4-7-1-7 4zM244 1708l7-5-7 0-7 4zM198 1738l7-3-7-1-7 3zM237 1717l7-5 7-4-7 0-7 4-6 5zM218 1731l6-4-6 0-7 4zM297 1704l6-3-6-1-7 3zM264 1725l6-4-6-1-7 4zM428 1672l7-2 7-2-7-3-7 3-6 2zM316 1700l7-2-7-2-6 2z"/><path class=g d="M198 1633l7-1-7-3-7 2zM145 1635l7-1-7-3-6 1zM205 1636l6-2-6-2-7 1zM158 1637l7-1-7-3-6 1zM211 1642l7-1-7-3-6 1zM178 1644l7-1-7-3-6 0zM211 1646l7-1-7-3-6 1zM191 1647l7 0-7-4-6 0zM205 1650l6 0 7-1 6-1-6-3-7 1-6 0-7 1zM316 1676l7-1 7 0-7-4-7 1-6 1zM264 1684l6-2 7-1 7-2-7-2-7 1-6 1-7 2zM257 1689l7-2 6-2-6-1-7 1-6 2zM251 1695l6-2 7-2-7-2-6 2-7 3zM251 1699l6-3-6-1-7 3zM251 1703l6-3-6-1-7 4zM251 1708l6-5-6 0-7 5zM211 1735l7-4-7 0-6 4zM231 1726l6-4 7-5 7-5 6-5-6 1-7 4-7 5-6 5-7 5zM264 1720l6-4 7-5 7-4 6-4-6 0-7 4-7 5-6 4-7 5zM428 1668l7-3-7-1-6 2zM303 1701l7-3-7-1-6 3zM257 1728l7-3-7-1-6 4zM349 1692l7-2 7-1 6-2 7-2 6-1 7-2 7-2 6-2 7-1 6-2 7-1 6-2-6-2-7 2-6 1-7 2-6 1-7 2-7 2-6 1-7 2-6 2-7 2-7 1-6 2zM323 1698l7-2 6-1-6-2-7 1-7 2z"/><path class=h d="M191 1634l7-1-7-2-6 1zM152 1634l6-1-6-2-7 0zM198 1637l7-1-7-3-7 1zM205 1639l6-1-6-2-7 1zM172 1640l6 0-6-4-7 0zM205 1643l6-1-6-3-7 1zM185 1643l6 0-6-3-7 0zM198 1647l7-1 6 0-6-3-7 0-7 0zM284 1679l6-1 7-1 6 0 7-1 6 0-6-3-7 0-6 1-7 1-6 1-7 1zM343 1676l6-1-6-2-7 1zM270 1685l7-1 7-2-7-1-7 1-6 2zM363 1675l6-3-6-1-7 2zM264 1691l6-2-6-2-7 2zM257 1696l7-2-7-1-6 2zM257 1700l7-3-7-1-6 3zM257 1703l7-3-7 0-6 3zM205 1738l6-3-6 0-7 3zM257 1707l7-4-7 0-6 5zM224 1731l7-5-7 1-6 4zM237 1725l7-5 7-5 6-4 7-5-7 1-6 5-7 5-7 5-6 4zM264 1716l6-4 7-5 7-4-7 1-7 4-6 5-7 4zM290 1703l7-3 6-3-6 0-7 3-6 3zM257 1724l7-4-7 1-6 4zM415 1672l7-2 6-2-6-2-7 2-6 2zM356 1687l7-2 6-2 7-2 6-1 7-2-7-2-6 2-7 2-6 2-7 1-7 2zM310 1698l6-2 7-2-7-1-6 2-7 2zM251 1731l6-3-6 0-7 3zM336 1695l7-2 6-1-6-2-7 1-6 2z"/><path class=i d="M165 1636l7 0-7-3-7 0zM198 1640l7-1-7-2-7 0zM178 1640l7 0-7-3-6-1zM191 1643l7 0 7 0-7-3-7 0-6 0zM336 1677l7-1-7-2-6 1zM284 1682l6-1 7-1-7-2-6 1-7 2zM270 1689l7-2 7-2-7-1-7 1-6 2zM264 1694l6-3-6 0-7 2zM264 1697l6-3-6 0-7 2zM264 1700l6-3-6 0-7 3zM264 1703l6-4-6 1-7 3zM218 1735l6-4-6 0-7 4zM264 1706l6-4-6 1-7 4zM231 1730l6-5-6 1-7 5zM244 1724l7-5 6-5 7-5 6-4-6 1-7 5-6 4-7 5-7 5zM257 1717l7-4 6-5 7-4-7 1-6 4-7 5-6 5zM284 1703l6-3-6 0-7 4zM257 1721l7-5-7 1-6 5zM422 1666l6-2-6-1-7 3zM303 1697l7-2-7-1-6 3zM389 1678l7-2 6-1 7-2 6-1-6-2-7 2-6 1-7 2-7 1zM323 1694l7-1 6-2 7-1 6-2 7-1-7-2-6 2-7 1-6 2-7 1-7 2z"/><path class=j d="M185 1634l6 0-6-2-7 0zM158 1633l7 0-7-2-6 0zM191 1637l7 0-7-3-6 0zM172 1636l6 1-6-3-7-1zM185 1640l6 0 7 0-7-3-6 0-7 0zM330 1677l6 0-6-2-7 0zM297 1680l6-1 7 0-7-2-6 0-7 1zM356 1676l7-1-7-2-7 2zM284 1685l6-1 7-1-7-2-6 1-7 2zM270 1691l7-2 7-1-7-1-7 2-6 2zM270 1694l7-2-7-1-6 3zM270 1699l7-3-7 1-6 3zM270 1702l7-4-7 1-6 4zM270 1705l7-4-7 1-6 4zM277 1704l7-4-7 1-7 4zM251 1722l6-5-6 2-7 5zM290 1700l7-3-7 0-6 3zM251 1725l6-4-6 1-7 4zM415 1668l7-2-7 0-6 2zM349 1685l7-2 7-1 6-2 7-2 6-2-6 0-7 1-6 2-7 2-7 2-6 1zM310 1695l6-2-6-1-7 2zM251 1728l6-4-6 1-7 3z"/><path class=k d="M178 1634l7 0-7-2-6-1zM165 1633l7 1-7-3-7 0zM178 1637l7 0 6 0-6-3-7 0-6 0zM310 1679l6-1 7 0 7-1-7-2-7 1-6 0-7 1zM297 1683l6-2-6-1-7 1zM284 1688l6-2 7-1-7-1-6 1-7 2zM277 1692l7-2-7-1-7 2zM270 1697l7-3-7 0-6 3zM211 1738l7-3-7 0-6 3zM382 1671l7-1-7 2-6 1zM224 1733l7-3-7 1-6 4zM277 1701l7-3-7 0-7 4zM237 1728l7-4-7 1-6 5zM284 1700l6-3-6 1-7 3zM244 1726l7-4-7 2-7 4zM415 1666l7-3-7 0-6 3zM297 1697l6-3-6 0-7 3zM382 1676l7-1 7-2 6-1 7-2 6-2-6 0-7 1-6 2-7 2-7 1-6 2zM316 1693l7-2 7-1 6-2 7-1 6-2-6-1-7 2-6 1-7 2-7 1-6 2z"/><path class=l d="M172 1634l6 0-6-3-7 0zM349 1677l7-1-7-1-6 1zM303 1681l7-1-7-1-6 1zM369 1674l7-2-7 0-6 3zM297 1685l6-2-6 0-7 1zM356 1677l7-1-7 1-7 1zM284 1690l6-2 7-2-7 0-6 2-7 1zM343 1678l6-1-6 1-7 1zM277 1694l7-2-7 0-7 2zM349 1677l7-1-7 1-6 1zM277 1696l7-2-7 0-7 3zM363 1675l6-1-6 1-7 1zM277 1698l7-3-7 1-7 3zM284 1698l6-3-6 0-7 3zM290 1697l7-3-7 1-6 3zM336 1686l7-2 6-1 7-2 7-2 6-2-6 0-7 2-7 1-6 2-7 2-6 2zM303 1694l7-2-7 0-6 2zM244 1728l7-3-7 1-7 4zM244 1731l7-3-7 0-7 3z"/><path class=m d="M343 1678l6-1-6-1-7 1zM310 1680l6 0-6-1-7 0zM303 1683l7-1-7-1-6 2zM343 1678l6 0-6 0-7 1zM297 1686l6-1-6 0-7 1zM284 1692l6-2-6 0-7 2zM382 1672l7-2-7 2-6 1zM284 1694l6-3-6 1-7 2zM284 1695l6-2-6 1-7 2zM290 1695l7-3-7 1-6 2zM231 1732l6-4-6 2-7 3zM297 1694l6-2-6 0-7 3zM237 1730l7-4-7 2-6 4zM409 1668l6-2-6 0-7 2zM369 1677l7-1-7-1-6 2zM310 1692l6-2 7-1 7-2 6-1-6 0-7 1-7 2-6 1-7 2z"/><path class=n d="M316 1680l7-1 7 0 6-1 7 0-7-1-6 0-7 1-7 0-6 1zM310 1682l6-1 7-1 7-1 6 0 7-1 6 0 7-1 7-1 6-2-6 1-7 1-7 1-6 1-7 0-6 1-7 0-7 1-6 0-7 1zM363 1676l6-1 7-2 6-2-6 1-7 2-6 2-7 1zM303 1685l7-2 6-1 7-1 7-1 6-1 7-1-7 1-6 0-7 1-7 1-6 1-7 1-6 2zM376 1673l6-1 7-3-7 2-6 2-7 2zM290 1690l7-2 6-2 7-1 6-2 7-1 7-1 6-2 7-1-7 1-6 1-7 1-7 1-6 1-7 2-6 1-7 2-6 2zM389 1670l7-3-7 2-7 3zM290 1691l7-2 6-1 7-2 6-1 7-2 7-2 6-1 7-1 6-2-6 1-7 1-6 2-7 1-7 1-6 2-7 1-6 2-7 2-6 2zM389 1670l7-2 6-2-6 1-7 3-7 2zM218 1736l6-3-6 2-7 3zM224 1735l7-3-7 1-6 3zM231 1733l6-3-6 2-7 3zM376 1676l6-2 7-1 7-2 6-2 7-1-7 0-6 1-7 2-7 1-6 2-7 1zM237 1731l7-3-7 2-6 3z"/><path class=g d="M356 1677l7-1 6-1-6 1-7 1-7 1zM363 1675l6-1 7-1-7 2-6 1-7 1z"/><path class=h d="M349 1677l7 0-7 1-6 0zM376 1673l6-1-6 1-7 2zM356 1676l7-1-7 2-7 0z"/><path class=i d="M369 1675l7-2-7 2-6 1zM369 1674l7-1 6-2-6 2-7 1-6 1z"/><path class=k d="M349 1678l7-1-7 1-6 0z"/><path class=n d="M290 1693l7-2 6-2 7-2 6-1 7-2 7-1 6-2 7-2 6-1 7-2 7-1-7 1-7 1-6 2-7 1-6 1-7 2-7 2-6 1-7 2-6 1-7 2-6 3zM297 1692l6-2 7-1 6-2 7-1 7-2 6-2 7-1 6-2 7-2 7-1 6-2 7-1 6-1 7-2 7-2 6-1 7-3-7 2-6 2-7 2-7 1-6 2-7 1-6 1-7 1-7 2-6 1-7 2-6 2-7 1-7 2-6 1-7 2-6 2-7 2zM303 1692l7-2 6-1 7-2 7-1 6-2 7-2 6-2 7-1 7-2 6-2 7-1 6-2 7-1 7-2 6-1 7-2 6-3-6 1-7 3-6 1-7 2-7 2-6 1-7 1-6 2-7 1-7 2-6 2-7 1-6 2-7 2-7 1-6 2-7 1-6 2z"/><path d="M73 1667l6 3 7 4 7 4 6 4 7 5 6 5 7 4 6 5 7 4 7 4 6 4 7 4 6 4 7 3 7 4 6 3 7 3 6 3 7 1 7 0 6 0 7-2 6-1 7-2 6-2 7 0 7 0 6 2 7-3 6-4 7-3 7-5 6-4 7-4 6-4 7-3 6-3 7-2 7-2 6-1 7-2 6-1 7-2 7-1 6-2 7-2 6-1 7-2 7-2 6-2 7-1 6-2 7-1 6-2 7-2 7-2" fill="none" stroke="#a040e0" stroke-width="2.2"/>
<g fill="none" stroke-width="1.8"><path d="M496 1782l185 72 184-72-184-72z" stroke="#c4c4c4" stroke-width="2"/><path d="M681 1854V1643" stroke="#c4c4c4" stroke-width="2"/><path d="M651 1722l5 2 3 2 2 2 1 4-2 3-3 2-4 2-6 1-7 1-9 0-8-1-6-1-5-2" stroke="#d08be8"/><path d="M670 1714l5 2 4 2 3 3 3 2 1 3 0 4-2 3-2 3-3 2-4 2-4 2-5 2-5 2-6 1-6 1-8 0-3 1-7-1-9-1-5-1-7-1-5-2-5-1" stroke="#6fcfb0"/><path d="M720 1725l-5 2-4 2-3 3-3 2-4 2-3 3-4 2-3 2-4 2-5 2-4 2-5 1-5 2-4 1-9 1-6 1-9 0-9 0-8-1-6-1-6-1-6-1-5-2-5-2-5-1" stroke="#72b8ec"/><path d="M806 1805l-3-2 3-4 4-3 4-2 4-2 5-1 4-2 5-2 4-2 5-2 4-2 5-1 4-2M593 1820l5-2 6-1 7-1 7-1 5 0 5 0 4 0 7 1 6 1 6 2 5 1 5 2 4 2 4 2 3 2 3 3 4 2 3 2 3 2 4 3 4 2 4 2 4 2M732 1730l-4 2-4 2-4 2-4 2-4 2-4 3-3 2-4 2-4 2-4 2-4 2-4 2-5 2-5 1-5 2-6 1-4 1-11 1-8 0-10 0-9-1-3-1-4 0-6-1-6-2-5-1-5-2-5-1-5-2-5-2" stroke="#f0ac62"/><path d="M767 1820l-5-2-4-1-4-2-3-2-4-3-2-3-1-3 2-4 3-2 3-3 5-1 5-2 5-2 6-1 5-1 6-2 6-1 6-1 6-2 5-1 5-2 6-1 5-2 4-2 5-1 5-2M570 1811l5-2 5-2 6-1 6-1 4-1 10-1 8 0 4 0 6 0 11 1 7 0 6 1 7 1 7 1 3 1 8 2 5 2 5 1 4 2 4 2 3 2 4 3 2 3 3 2 3 2 3 3 3 1 5 3 4 2M742 1734l-5 2-4 2-4 2-4 2-4 2-2 2-4 3-4 2-3 2-3 3-3 2-3 2-3 2-5 3-4 1-5 2-6 2-6 1-6 1-4 0-3 1-8 0-8 1-4 0-5 0-4 0-5 0-4 0-7-1-8-1-5 0-9-1-6-1-8-1-4 0-5 1-3 3-2 2-2 3-2 3-3 2-3 2-3 3-4 2-4 2-4 2-5 2" stroke="#eedc5a"/><path d="M750 1737l-4 2-4 2-4 2-4 2-3 3-3 2-3 3-2 2-2 3-1 3 0 4 1 4 3 3 4 3 4 1 6 2 7 0 8 1 10 0 10-1 7 0 6-1 7-1 6-2 6-1 6-1 5-2 5-2 5-1" stroke="#6c9fe0"/><path d="M759 1741l-4 2-4 2-4 2-3 2-2 2-2 4 0 4 1 3 3 3 4 2 5 1 5 1 9 1 9 0 11-1 6-1 6-1 6-1 5-2 5-1" stroke="#f08576"/><path d="M770 1745l-4 2-4 2-2 2-1 4 2 3 4 2 6 1 6 1 8 0 5-1 8-2 5-1" stroke="#a8a8a8"/></g>
<path d="M496 1643V1782" stroke="#c8c8c8" stroke-width="1.2"/>
<path d="M496 1686l7-3 7-3 6-3 7-3 6-3 7-3 6-3 7-3 7-2 6-2 7-2 6-1 7-1 7 0 6-1 7 0 6 0 7-1 7-1 6-2 7-3 6-3 7-4 6-4 7-4 7-4 6-3 7-3 6 3 7 2 7 2 6 2 7 2 6 1 7 1 6 1 7 0 7-1 6 0 7 0 6 0 7 1 7 1 6 2 7 3 6 4 7 4 7 5 6 5 7 4 6 5 7 5 6 4 7 4 7 3 6 3" fill="none" stroke="#a040e0" stroke-width="2.6"/><path class=c d="M661 1638l7-4-7-3-7 4zM595 1712l7-3 6-3-6-3-7 3-6 3zM595 1718l7-2 6-3 7-4 7-3 6-3-6-3-7 3-7 3-6 3-7 3-6 3zM602 1722l6-3 7-3 7-3 6-4 7-3 6-4-6-3-7 4-6 3-7 3-7 4-6 3-7 2zM608 1726l7-3 7-4 6-3 7-3 6-4 7-4 6-3-6-3-7 3-6 4-7 3-6 4-7 3-7 3-6 3zM747 1667l6-4 7-4 6-4 7-4 7-4-7-3-7 4-6 4-7 4-6 4-7 4zM622 1726l6-3 7-4 6-3 7-4 6-4 7-3-7-3-6 3-7 4-6 4-7 3-6 3-7 4zM747 1673l6-3 7-4 6-4 7-4 7-4 6-3 7-3 6-3-6-4-7 3-6 3-7 4-7 4-6 4-7 4-6 4-7 3zM628 1729l7-3 6-4 7-3 6-4 7-4 7-3-7-3-7 3-6 4-7 4-6 3-7 4-6 3zM747 1680l6-4 7-3 6-4 7-3 7-4 6-4 7-3 6-3 7-3-7-4-6 3-7 3-6 3-7 4-7 4-6 4-7 4-6 3-7 4zM641 1729l7-4 6-4 7-3 7-4-7-3-7 4-6 4-7 3-6 4zM753 1683l7-3 6-4 7-3 7-3 6-4 7-3 6-4 7-3 7-2-7-5-7 3-6 3-7 3-6 4-7 4-7 3-6 4-7 3-6 4zM760 1686l6-3 7-3 7-3 6-3 7-4 6-3 7-3 7-3 6-2-6-5-7 2-7 3-6 4-7 3-6 4-7 3-7 3-6 4-7 3zM766 1690l7-3 7-3 6-3 7-3 6-3 7-3 7-3 6-3 7-3-7-4-6 2-7 3-7 3-6 3-7 4-6 3-7 3-7 3-6 3zM773 1693l7-2 6-3 7-3 6-3 7-3 7-3 6-2 7-3 6-3-6-5-7 3-6 3-7 3-7 3-6 3-7 3-6 3-7 3-7 3zM786 1694l7-2 6-3 7-3 7-3 6-2 7-3 6-3 7-2-7-5-6 3-7 3-6 2-7 3-7 3-6 3-7 3-6 3zM806 1693l7-3 6-3 7-2 6-3 7-2 6-3-6-4-7 2-6 3-7 3-6 2-7 3-7 3z"/><path class=d d="M668 1634l6-4 7-3 6-3-6-3-7 3-6 3-7 4zM641 1648l7-3 6-4 7-3-7-3-6 4-7 4-6 3zM516 1683l7-3 6-3 7-3 6-3 7-3-7-3-6 3-7 3-6 3-7 3-6 3zM654 1647l7-3 7-4 6-4 7-4 6-3-6-2-7 3-6 4-7 4-7 3-6 4zM542 1676l7-3-7-2-6 3zM668 1645l6-3 7-4 6-4 7-3-7-2-6 3-7 4-6 4-7 4zM562 1707l7-2 6-3 7-3 7-2 6-3-6-3-7 3-7 2-6 3-7 3-6 2zM569 1710l6-2 7-3 7-3 6-3 7-2 6-3 7-3-7-3-6 3-7 3-6 3-7 2-7 3-6 3-7 2zM575 1714l7-3 7-2 6-3 7-3 6-3 7-3 7-3 6-3-6-3-7 3-7 3-6 3-7 2-6 3-7 3-7 3-6 2zM608 1706l7-3 7-3 6-3 7-4 6-3-6-2-7 3-6 3-7 3-7 3-6 3zM582 1717l7-2 6-3-6-3-7 2-7 3zM628 1703l7-4 6-3 7-3 6-3-6-2-7 2-6 3-7 4-6 3zM589 1721l6-3-6-3-7 2zM720 1669l7-4 6-3 7-4 7-4 6-4-6-2-7 4-7 4-6 4-7 3-6 4zM641 1702l7-3 6-3 7-3 7-3-7-3-7 3-6 3-7 3-6 3zM595 1725l7-3-7-4-6 3zM720 1674l7-3 6-3 7-4 7-4 6-4 7-4 6-4 7-4 7-3-7-2-7 3-6 4-7 4-6 4-7 4-7 4-6 3-7 4-6 3zM654 1702l7-3 7-3 6-3-6-3-7 3-7 3-6 3zM602 1728l6-2-6-4-7 3zM780 1647l6-3 7-3-7-3-6 3-7 3zM720 1680l7-3 6-3 7-4 7-3-7-3-7 4-6 3-7 3-6 3zM661 1705l7-3 6-4 7-3 6-2-6-3-7 3-6 3-7 3-7 3zM608 1732l7-3 7-3-7-3-7 3-6 2zM720 1685l7-2 6-3 7-3 7-4-7-3-7 4-6 3-7 3-6 2zM668 1708l6-4 7-3 6-3 7-3 7-2-7-3-7 3-6 2-7 3-6 4-7 3zM615 1735l7-3 6-3-6-3-7 3-7 3zM668 1714l6-3 7-4 6-3 7-3 7-3 6-2 7-3 6-2 7-3 6-2 7-3 7-3-7-3-7 3-6 3-7 2-6 3-7 2-6 3-7 2-7 3-6 3-7 3-6 4-7 3zM622 1738l6-3 7-3 6-3-6-3-7 3-6 3-7 3zM628 1740l7-2 6-3 7-4 6-3 7-4 7-4 6-3 7-4 6-3 7-3 7-3 6-3 7-2 6-3 7-2 6-3 7-2 7-3 6-3-6-3-7 3-7 3-6 2-7 3-6 2-7 3-6 2-7 3-7 3-6 3-7 4-6 3-7 4-7 3-6 4-7 4-6 3-7 3-6 3zM641 1740l7-3 6-3 7-4 7-3 6-4 7-4 6-3 7-4 7-3 6-2 7-3 6-2 7-3 6-2 7-3 7-2 6-3 7-3-7-3-6 3-7 3-7 2-6 3-7 2-6 3-7 2-6 3-7 3-7 3-6 3-7 4-6 3-7 4-7 4-6 3-7 4-6 3zM733 1702l7-2 7-2 6-3 7-2 6-3-6-4-7 3-6 3-7 2-7 3-6 2zM648 1743l6-3 7-4 7-3 6-4 7-4 6-3 7-4 7-3 6-3 7-3-7-2-6 2-7 3-7 4-6 3-7 4-6 4-7 3-7 4-6 3-7 3zM747 1703l6-2 7-2 6-3 7-3-7-3-6 3-7 2-6 3-7 2zM654 1745l7-3 7-4 6-3 7-4 6-4 7-3 7-4 6-3-6-2-7 3-7 4-6 3-7 4-6 4-7 3-7 4-6 3zM760 1704l6-2 7-3 7-2 6-3-6-3-7 2-7 3-6 3-7 2zM661 1747l7-3 6-3 7-4 6-4 7-3 7-4 6-3 7-3-7-3-6 3-7 4-7 3-6 4-7 4-6 3-7 4-7 3zM773 1705l7-2 6-3 7-2 6-3 7-2-7-4-6 3-7 2-6 3-7 2-7 3zM668 1750l6-3 7-4 6-4 7-4 7-3 6-4 7-3-7-2-6 3-7 4-7 3-6 4-7 4-6 3-7 3zM786 1706l7-2 6-3 7-2 7-3 6-3 7-2 6-3 7-2 6-3 7-2-7-4-6 3-7 2-6 3-7 2-6 3-7 3-7 2-6 3-7 2-6 3zM674 1752l7-3 6-4 7-3 7-4 6-4 7-4 6-3-6-2-7 3-6 4-7 3-7 4-6 4-7 4-6 3zM799 1706l7-2 7-2 6-3 7-2 6-3 7-2 6-3 7-2 7-3-7-3-7 2-6 3-7 2-6 3-7 2-6 3-7 3-7 2-6 3zM681 1754l6-3 7-3 7-4 6-4 7-4 6-3 7-3-7-3-6 3-7 4-6 4-7 4-7 3-6 4-7 3zM859 1689l6-2-6-3-7 3zM687 1757l7-3 7-4 6-4 7-3 6-4 7-4 6-3 7-3-7-2-6 3-7 3-6 3-7 4-6 4-7 4-7 3-6 3z"/><path class=e d="M635 1651l6-3-6-2-7 3zM549 1668l7-3 6-3 7-2-7-2-6 2-7 2-7 3zM503 1688l7-3 6-2-6-3-7 3-7 3zM687 1629l7-3-7-2-6 3zM648 1650l6-3-6-2-7 3zM549 1673l7-3 6-3 7-2-7-3-6 3-7 3-7 3zM510 1690l6-2 7-3 6-3 7-3 6-3-6-2-7 3-6 3-7 3-6 2-7 3zM694 1631l7-3-7-2-7 3zM661 1649l7-4-7-1-7 3zM523 1689l6-2 7-3 6-3 7-3 7-3 6-3 7-2 6-3-6-2-7 2-6 3-7 3-7 3-6 3-7 3-6 3-7 3zM674 1647l7-4 6-3 7-4 7-3 6-3-6-2-7 3-7 3-6 4-7 4-6 3zM536 1689l6-3 7-3 7-3 6-3 7-2 6-3 7-2-7-3-6 3-7 2-6 3-7 3-7 3-6 3-7 3zM687 1644l7-3 7-3 6-3-6-2-7 3-7 4-6 3zM549 1688l7-3 6-3 7-3 6-2 7-3 7-2-7-2-7 2-6 3-7 2-6 3-7 3-7 3zM556 1690l6-3 7-3 6-2 7-3 7-2-7-3-7 3-6 2-7 3-6 3-7 3zM549 1697l7-3 6-2 7-3 6-3 7-2 7-3 6-2-6-2-7 2-7 3-6 2-7 3-6 3-7 2-7 3zM549 1702l7-3 6-2 7-3 6-3 7-2 7-3 6-2 7-3-7-2-6 2-7 3-7 2-6 3-7 3-6 2-7 3-7 2zM556 1704l6-2 7-3 6-3 7-2 7-3 6-3 7-2 6-3-6-2-7 3-6 2-7 3-7 2-6 3-7 3-6 2-7 3zM595 1694l7-3 6-3 7-2 7-3-7-2-7 2-6 3-7 2-6 3zM615 1691l7-3 6-2 7-3-7-2-6 2-7 3-7 2zM628 1691l7-3 6-3 7-2-7-2-6 2-7 3-6 2zM641 1690l7-2 6-3-6-2-7 2-6 3zM701 1673l6-3 7-3 6-4 7-3 6-4 7-4 7-4-7-1-7 4-6 4-7 3-6 4-7 3-6 3-7 3zM654 1690l7-3 7-2 6-3-6-2-7 3-7 2-6 3zM753 1650l7-4 6-4 7-3-7-1-6 3-7 3-6 4zM668 1690l6-3 7-2 6-3 7-2 7-3 6-2 7-3 6-3-6-2-7 3-6 3-7 2-7 3-6 2-7 2-6 3-7 2zM780 1641l6-3-6-2-7 3zM674 1693l7-3 6-3 7-2 7-3 6-2 7-3 6-3-6-2-7 3-6 2-7 3-7 2-6 3-7 2-6 3zM687 1693l7-3 7-3 6-2 7-3 6-2-6-3-7 3-6 2-7 3-7 2-6 3zM701 1693l6-3 7-2 6-3-6-3-7 3-6 2-7 3zM635 1743l6-3-6-2-7 2zM714 1709l6-2 7-3 6-2-6-3-7 3-6 2-7 3zM641 1745l7-2-7-3-6 3zM707 1717l7-3 6-2 7-2 6-3 7-2 7-2-7-3-7 2-6 2-7 3-6 2-7 3-6 3zM648 1748l6-3-6-2-7 2zM714 1720l6-3 7-3 6-2 7-2 7-2 6-2 7-2-7-3-6 2-7 2-7 2-6 3-7 2-6 2-7 3zM654 1750l7-3-7-2-6 3zM714 1725l6-3 7-3 6-2 7-2 7-2 6-2 7-2 6-2 7-2-7-3-6 2-7 2-6 2-7 2-7 2-6 2-7 3-6 3-7 3zM661 1752l7-2-7-3-7 3zM760 1714l6-2 7-2 7-2 6-2-6-3-7 2-7 2-6 2-7 2zM720 1727l7-3 6-2 7-3-7-2-6 2-7 3-6 3zM668 1755l6-3-6-2-7 2zM773 1715l7-2 6-2 7-2 6-3-6-2-7 2-6 2-7 2-7 2zM727 1730l6-3 7-3 7-2-7-3-7 3-6 2-7 3zM674 1757l7-3-7-2-6 3zM786 1716l7-2 6-3 7-2 7-2 6-3 7-2 6-3 7-2 6-3 7-2 7-3-7-2-7 2-6 3-7 2-6 3-7 2-6 3-7 2-7 2-6 3-7 2-6 2zM740 1729l7-2 6-3-6-2-7 2-7 3zM681 1760l6-3-6-3-7 3z"/><path class=f d="M628 1653l7-2-7-2-6 2zM569 1660l6-1-6-3-7 2zM641 1653l7-3-7-2-6 3zM569 1665l6-2 7-2-7-2-6 1-7 2zM654 1652l7-3-7-2-6 3zM575 1667l7-2 7-2-7-2-7 2-6 2zM516 1692l7-3-7-1-6 2zM661 1653l7-3 6-3-6-2-7 4-7 3zM582 1670l7-2 6-2-6-3-7 2-7 2zM523 1694l6-3 7-2-7-2-6 2-7 3zM707 1635l7-3-7-2-6 3zM674 1651l7-3 6-4-6-1-7 4-6 3zM589 1672l6-2 7-2-7-2-6 2-7 2zM529 1696l7-3 6-3 7-2-7-2-6 3-7 2-6 3zM694 1645l7-3 6-3 7-3-7-1-6 3-7 3-7 3zM589 1677l6-3 7-2 6-2-6-2-7 2-6 2-7 2zM536 1697l6-2 7-3 7-2-7-2-7 2-6 3-7 3zM595 1679l7-2 6-3 7-1-7-3-6 2-7 2-6 3zM542 1699l7-2-7-2-6 2zM602 1681l6-2 7-2 7-2-7-2-7 1-6 3-7 2zM608 1683l7-2 7-2 6-2-6-2-7 2-7 2-6 2zM622 1683l6-2 7-2-7-2-6 2-7 2zM635 1683l6-2 7-3-7-1-6 2-7 2zM701 1664l6-4 7-3 6-3-6-1-7 3-6 3-7 3zM648 1683l6-3 7-2-7-2-6 2-7 3zM654 1685l7-2 7-3 6-2 7-2 6-3 7-2 7-3 6-3 7-3 6-4 7-3 6-4 7-4-7-1-6 4-7 4-6 3-7 3-6 4-7 2-7 3-6 2-7 3-6 2-7 2-7 2-6 3zM747 1648l6-4 7-3-7-1-6 3-7 4zM674 1682l7-2 6-2 7-3 7-2-7-2-7 2-6 3-7 2-6 2zM773 1639l7-3-7-1-7 3zM740 1719l7-2 6-1 7-2-7-3-6 2-7 2-7 2zM747 1722l6-2 7-2 6-2 7-1-7-3-6 2-7 2-6 1-7 2zM753 1724l7-1 6-2 7-2 7-2 6-1-6-3-7 2-7 1-6 2-7 2-6 2z"/><path class=g d="M622 1654l6-1-6-2-7 1zM575 1659l7-2-7-2-6 1zM635 1655l6-2-6-2-7 2zM582 1661l7-1-7-3-7 2zM648 1654l6-2-6-2-7 3zM589 1663l6-1-6-2-7 1zM654 1655l7-2-7-1-6 2zM595 1666l7-2-7-2-6 1zM668 1654l6-3-6-1-7 3zM602 1668l6-1-6-3-7 2zM714 1636l6-3-6-1-7 3zM681 1651l6-3 7-3-7-1-6 4-7 3zM608 1670l7-1-7-2-6 1zM701 1646l6-3 7-3 6-3-6-1-7 3-6 3-7 3zM615 1673l7-2-7-2-7 1zM622 1675l6-2-6-2-7 2zM628 1677l7-2 6-2-6-2-7 2-6 2zM635 1679l6-2 7-2 6-2-6-2-7 2-6 2-7 2zM648 1678l6-2 7-2 7-2 6-2 7-2 6-3 7-3 7-3 6-3 7-3-7 0-6 3-7 3-7 2-6 3-7 2-6 2-7 3-7 2-6 2-7 2zM720 1654l7-4 6-4-6 0-7 4-6 3zM661 1678l7-2 6-2 7-3 6-2 7-3 7-2-7-2-7 3-6 3-7 2-6 2-7 2-7 2zM740 1647l7-4 6-3-6 0-7 3-7 3zM760 1641l6-3-6-1-7 3z"/><path class=h d="M582 1657l7-1-7-2-7 1zM628 1656l7-1-7-2-6 1zM589 1660l6-1-6-3-7 1zM641 1656l7-2-7-1-6 2zM595 1662l7-1-7-2-6 1zM602 1664l6-1-6-2-7 1zM661 1656l7-2-7-1-7 2zM608 1667l7-2-7-2-6 1zM674 1654l7-3-7 0-6 3zM615 1669l7-2-7-2-7 2zM720 1637l7-3-7-1-6 3zM687 1652l7-3 7-3-7-1-7 3-6 3zM622 1671l6-2-6-2-7 2zM701 1649l6-3 7-3 6-3-6 0-7 3-6 3-7 3zM628 1673l7-2 6-2-6-1-7 1-6 2zM641 1673l7-2 6-2-6-1-7 1-6 2zM654 1673l7-2 7-3 6-2 7-2 6-3 7-2 7-3 6-3 7-4-7 0-6 3-7 3-7 3-6 3-7 2-6 2-7 2-7 2-6 2zM714 1653l6-3 7-4-7 0-6 3-7 4zM733 1646l7-3-7 0-6 3zM753 1640l7-3-7 0-6 3zM766 1638l7-3-7-1-6 3z"/><path class=i d="M615 1655l7-1-7-2-7 1zM589 1656l6 0-6-2-7 0zM595 1659l7-1-7-2-6 0zM635 1658l6-2-6-1-7 1zM602 1661l6-1-6-2-7 1zM648 1657l6-2-6-1-7 2zM608 1663l7-1-7-2-6 1zM654 1658l7-2-7-1-6 2zM615 1665l7-1-7-2-7 1zM668 1657l6-3-6 0-7 2zM622 1667l6-1-6-2-7 1zM674 1657l7-2 6-3-6-1-7 3-6 3zM628 1669l7-1 6-2-6-1-7 1-6 1zM720 1640l7-3 6-2-6-1-7 3-6 3zM681 1658l6-3 7-3 7-3-7 0-7 3-6 3-7 2zM641 1669l7-1 6-2-6-1-7 1-6 2zM654 1669l7-2 7-2 6-2 7-2 6-3 7-3 7-3 6-3 7-3 6-3 7-3-7 0-6 3-7 3-6 3-7 3-7 3-6 3-7 2-6 2-7 2-7 2-6 2zM714 1649l6-3 7-3-7 0-6 3-7 3zM727 1646l6-3 7-3-7 0-6 3-7 3zM740 1643l7-3 6-3-6 0-7 3-7 3zM760 1637l6-3-6 0-7 3z"/><path class=j d="M595 1656l7 0 6-1 7 0-7-2-6 0-7 0-6 1zM615 1658l7-1 6-1-6-2-7 1-7 0zM602 1658l6 0-6-2-7 0zM628 1659l7-1-7-2-6 1zM608 1660l7 0-7-2-6 0zM641 1659l7-2-7-1-6 2zM615 1662l7 0-7-2-7 0zM648 1660l6-2-6-1-7 2zM622 1664l6-1-6-1-7 0zM661 1659l7-2-7-1-7 2zM628 1666l7-1-7-2-6 1zM641 1666l7-1 6-2 7-2 7-2 6-2-6 0-7 2-7 2-6 1-7 2-6 1zM654 1666l7-2 7-2 6-2 7-2-7-1-6 2-7 2-7 2-6 2zM727 1640l6-3 7-2-7 0-6 2-7 3zM727 1643l6-3 7-3-7 0-6 3-7 3zM740 1640l7-3-7 0-7 3zM753 1637l7-3-7 0-6 3z"/><path class=k d="M608 1658l7 0-7-3-6 1zM615 1660l7-1 6 0-6-2-7 1-7 0zM622 1662l6-1 7-1 6-1-6-1-7 1-6 0-7 1zM628 1663l7-1 6-1 7-1-7-1-6 1-7 1-6 1zM635 1665l6-1 7-2 6-1 7-2-7-1-6 2-7 1-6 1-7 1zM740 1637l7-3-7 1-7 2zM747 1637l6-3-6 0-7 3z"/><path d="M496 1686l7 2 7 2 6 2 7 2 6 2 7 1 6 2 7 3 7 2 6 3 7 3 6 4 7 3 7 4 6 4 7 3 6 4 7 3 7 3 6 2 7 3 6 2 7 3 6 2 7 2 7 3 6 2 7 3 6-3 7-3 7-4 6-4 7-3 6-4 7-4 6-3 7-3 7-2 6-3 7-1 6-2 7-2 7-2 6-1 7-2 6-3 7-2 7-2 6-3 7-2 6-3 7-2 6-3 7-2 7-3 6-2" fill="none" stroke="#a040e0" stroke-width="2.2"/>
<g fill="none" stroke-width="1.8"><path d="M918 1782l184 72 185-72-185-72z" stroke="#c4c4c4" stroke-width="2"/><path d="M1102 1854V1643" stroke="#c4c4c4" stroke-width="2"/><path d="M1271 1788l-5-1-5-2-5-2-5-1-6-2-4-2-5-1-4-2-3-3-2-2 1-4 2-2 4-2" stroke="#f08576"/><path d="M1255 1794l-4-2-5-1-5-2-3-1-7-2-5-2-5-2-4-2-4-2-4-2-2-2-2-2-1-4 1-3 2-2 4-3 3-3 5-1M1096 1851l5-2 4 0 6 1 1 0M1124 1719l-4 2-5 1-5 2-5 2-5 1-5 2-6 1-6 2-6 1-6 0-10 1-8-1-5-1M936 1775l4 2 4 2 3 3 1 3-2 4-4 2" stroke="#a8a8a8"/><path d="M1242 1799l-5-1-4-2-5-2-5-1-5-2-3-1-7-3-4-1-5-2-3-2-4-3-3-2-2-3-2-3 1-7 2-2 3-3 3-2 4-2 4-2 5-2M1079 1845l5-2 6-2 6-1 6-1 7-1 5 0 5 0 4 1 6 1 5 1M1138 1724l-5 2-4 2-5 2-5 1-4 2-5 2-5 2-5 1-5 2-5 1-6 2-6 1-7 1-7 0-6 1-9 0-4-1-4 0-7-1-5-1-5-2M949 1770l5 2 4 2 4 2 3 2 2 3 2 2 1 4-1 4-2 3-4 2-4 2" stroke="#d08be8"/><path d="M1225 1806l-5-2-5-1-4-2-5-2-5-2-4-2-5-1-4-2-4-2-4-2-3-3-4-2-3-2-2-3-2-3-2-3 0-5 1-4 2-2 3-3 3-2 4-2 4-2 4-2 4-2 5-2M1069 1841l5-2 5-2 5-1 6-2 5-1 7-1 6-1 8-1 8 0 9 0 10 1 5 1 6 2M1151 1729l-4 2-5 2-4 2-4 2-5 2-4 2-4 2-5 1-5 2-5 2-5 1-5 2-6 1-4 0-3 1-7 1-4 0-3 1-8 0-9 0-9 0-8 0-5-1-9-1-6-2-4-1-6-2M963 1765l4 1 4 2 4 2 4 3 3 2 3 2 3 3 2 3 1 3-1 4-2 4-3 3-3 3-4 2-4 2" stroke="#6fcfb0"/><path d="M1059 1837l4-2 5-2 5-1 5-2 5-2 5-1 6-2 5-1 6-2 6-1 4-1 7-2 6-1 6-1 5-2 5-1 5-2 4-2 2-3 2-3-1-3-1-3-1-3-3-2-2-3-2-3-2-2-3-3-2-2-3-3-2-3-3-2-3-3-4-2-5-2-7-1-9 0-3 1-7 0-10 0-8 1-8 0-6 0-10 1-8 0-9 1-5 0-9 1-4 2-2 3-1 3 0 4 0 4 0 4-2 4-3 4-2 3-3 2-3 2-4 2-4 2-5 2" stroke="#72b8ec"/><path d="M1046 1832l5-2 4-2 5-2 4-1 5-2 4-2 5-2 4-2 4-2 4-2 4-2 3-2 4-3 3-2 2-3 1-3 1-3-1-4-3-3-3-2-4-2-5-1-6-2-5 0-9 0-5 0-8 2-5 2-4 2-4 2-3 2-2 3-3 2-3 3-3 2-2 2-4 3-4 2-4 2-4 2-4 2-4 2" stroke="#f0ac62"/></g>
<path d="M918 1643V1782" stroke="#c8c8c8" stroke-width="1.2"/>
<path d="M918 1703l7-3 6-3 7-4 6-5 7-4 7-5 6-4 7-4 6-3 7-3 6-2 7-2 7-1 6-1 7-2 6-1 7-1 7-2 6-1 7-2 6-2 7-2 6-2 7-2 7-3 6-2 7-2 6-3 7 2 7 2 6 1 7 1 6 1 7 1 6 0 7 1 7 2 6 2 7 2 6 3 7 4 7 4 6 4 7 5 6 4 7 5 7 4 6 4 7 4 6 3 7 3 6 2 7 3 7 2 6 3 7 2" fill="none" stroke="#a040e0" stroke-width="2.6"/><path class=c d="M938 1699l6-4 7-4 7-5 6-4 7-4-7-3-6 4-7 5-7 4-6 5-7 4zM951 1697l7-4 6-4 7-5 6-4-6-2-7 4-6 4-7 5-7 4zM1181 1663l7-3 7-2-7-4-7 2-6 3zM1181 1669l7-2 7-2 6-3-6-4-7 2-7 3-6 2zM1188 1674l7-3 6-2 7-2-7-5-6 3-7 2-7 2zM1201 1676l7-2 6-3-6-4-7 2-6 2zM1208 1680l6-2 7-2-7-5-6 3-7 2zM1221 1682l7-2-7-4-7 2zM1050 1738l6-2 7-3 6-3 7-2-7-4-6 2-7 3-6 3-7 2zM1056 1743l7-3 6-3 7-2 7-3 6-3 7-2 6-3-6-4-7 3-6 2-7 3-7 2-6 3-7 3-6 2zM1063 1747l6-2 7-3 7-3 6-3 7-2 6-3 7-3 7-3-7-4-7 3-6 3-7 2-6 3-7 3-7 2-6 3-7 3zM1069 1752l7-2 7-3 6-3 7-3 6-3 7-3 7-3 6-3-6-4-7 3-7 3-6 3-7 2-6 3-7 3-7 3-6 2zM1076 1757l7-2 6-3 7-3 6-4 7-3 7-3 6-4 7-3 6-3-6-3-7 3-6 3-7 3-7 3-6 3-7 3-6 3-7 3-7 2zM1083 1762l6-3 7-3 6-3 7-3 7-4 6-4 7-3 6-3 7-4-7-3-6 3-7 3-6 4-7 3-7 3-6 4-7 3-6 3-7 2zM1089 1766l7-2 6-4 7-3 7-4 6-3 7-4 6-4 7-3 6-4-6-3-7 4-6 3-7 3-6 4-7 4-7 3-6 3-7 3-6 3zM1096 1770l6-3 7-3 7-3 6-4 7-4 6-4 7-4 6-3-6-3-7 3-6 4-7 4-6 3-7 4-7 3-6 4-7 2zM1116 1767l6-4 7-3 6-4 7-4 6-4-6-3-7 4-6 4-7 4-6 4-7 3z"/><path class=d d="M971 1678l6-4 7-3-7-3-6 3-7 4zM931 1703l7-4-7-2-6 3zM977 1680l7-4 6-3-6-2-7 3-6 4zM938 1705l6-4 7-4-7-2-6 4-7 4zM951 1703l7-4 6-4 7-4 6-5 7-4 6-3 7-4-7-2-6 3-7 4-6 4-7 5-6 4-7 4-7 4zM964 1701l7-4 6-4 7-4 6-4 7-4 7-3-7-3-7 4-6 3-7 4-6 5-7 4-6 4zM971 1702l6-4 7-4 6-4 7-3 7-4-7-2-7 4-6 4-7 4-6 4-7 4zM990 1696l7-4 7-3 6-4-6-2-7 4-7 3-6 4zM1155 1660l7-2 6-3 7-2 6-3-6-3-7 3-6 2-7 3-7 3zM1148 1668l7-2 7-2 6-3 7-2 6-3 7-2-7-4-6 3-7 2-6 3-7 2-7 3-6 2zM1155 1672l7-2 6-3 7-2 6-2-6-4-7 2-6 3-7 2-7 2zM1162 1675l6-2 7-2 6-2-6-4-7 2-6 3-7 2zM1168 1679l7-2 6-2 7-1-7-5-6 2-7 2-6 2zM1181 1681l7-1 7-2 6-2-6-5-7 3-7 1-6 2zM1195 1684l6-2 7-2-7-4-6 2-7 2zM1037 1731l6-3 7-3 6-2 7-3 6-2 7-2 7-3 6-2 7-2 6-3-6-3-7 3-6 2-7 2-7 3-6 2-7 2-6 3-7 2-6 3-7 2zM1208 1686l6-2 7-2-7-4-6 2-7 2zM1043 1734l7-2 6-3 7-3 6-2 7-3 7-2 6-2 7-3 6-2 7-2 7-3-7-3-7 2-6 3-7 2-6 2-7 3-7 2-6 2-7 3-6 2-7 3-6 3zM1221 1688l7-2 6-2-6-4-7 2-7 2zM1076 1728l7-3 6-2 7-3 6-2 7-3 7-2 6-2 7-3-7-3-6 2-7 3-7 2-6 2-7 3-6 2-7 2-7 3zM1228 1692l6-2 7-2-7-4-6 2-7 2zM1102 1724l7-3 7-2 6-3 7-2 6-2 7-3-7-3-6 2-7 3-6 2-7 2-7 3-6 2zM1241 1693l6-2-6-3-7 2zM1116 1725l6-3 7-2 6-3 7-2 6-3-6-3-7 3-6 2-7 2-6 3-7 2zM1122 1729l7-3 6-3 7-3 6-2 7-3-7-3-6 3-7 2-6 3-7 2-6 3zM1135 1729l7-3 6-2 7-3 7-3-7-3-7 3-6 2-7 3-6 3zM1142 1732l6-3 7-2 7-3 6-3-6-3-7 3-7 3-6 2-7 3zM1148 1735l7-3 7-3 6-2 7-3-7-3-6 3-7 3-7 2-6 3zM1148 1742l7-4 7-3 6-3 7-3-7-2-6 2-7 3-7 3-6 4zM1148 1748l7-4 7-3 6-3 7-3 6-3-6-3-7 3-6 3-7 3-7 4-6 3zM1102 1773l7-3 7-3-7-3-7 3-6 3z"/><path class=e d="M1089 1642l7-3 6-2 7-3-7-2-6 3-7 2-6 2zM984 1671l6-3 7-2-7-3-6 2-7 3zM925 1706l6-3-6-3-7 3zM990 1673l7-3 7-2-7-2-7 2-6 3zM931 1708l7-3-7-2-6 3zM997 1675l7-2-7-3-7 3zM944 1706l7-3-7-2-6 4zM1004 1678l6-3-6-2-7 2zM951 1708l7-3 6-4-6-2-7 4-7 3zM1004 1683l6-3 7-3-7-2-6 3-7 3zM964 1706l7-4-7-1-6 4zM1010 1685l7-3 6-3-6-2-7 3-6 3zM971 1707l6-4 7-3 6-4-6-2-7 4-6 4-7 4zM984 1705l6-4 7-4 7-3 6-4 7-3 6-3 7-3-7-2-6 3-7 3-6 4-7 3-7 4-6 4-7 3zM997 1702l7-3 6-4 7-3 6-3 7-3 7-3-7-2-7 3-6 3-7 3-6 4-7 3-7 4zM1004 1704l6-4 7-3 6-3 7-3 7-3-7-2-7 3-6 3-7 3-6 4-7 3zM1017 1702l6-4 7-3 7-3 6-3-6-1-7 3-7 3-6 3-7 3zM1129 1665l6-2 7-3 6-2 7-3 7-3 6-2 7-3-7-2-6 2-7 3-7 3-6 2-7 3-6 3-7 2zM1037 1697l6-3-6-2-7 3zM1129 1670l6-2 7-3 6-2 7-3-7-2-6 2-7 3-6 2-7 2zM1129 1675l6-2 7-3 6-2-6-3-7 3-6 2-7 2zM1050 1700l6-2 7-3-7-2-6 3-7 3zM1129 1679l6-2 7-1 6-2 7-2-7-4-6 2-7 3-6 2-7 2zM1050 1705l6-3 7-2 6-3 7-2 7-2-7-3-7 3-6 2-7 3-6 2-7 3zM1135 1682l7-2 6-1 7-2 7-2-7-3-7 2-6 2-7 1-6 2zM1043 1712l7-2 6-3 7-2 6-3 7-2 7-2 6-3 7-2 6-2-6-2-7 2-6 2-7 2-7 2-6 3-7 2-6 3-7 3-6 3zM1142 1685l6-2 7-1 7-2 6-1-6-4-7 2-7 2-6 1-7 2zM1023 1725l7-3 7-2 6-3 7-2 6-3 7-2 6-3 7-2 7-2 6-3 7-2 6-2 7-2 7-2 6-2-6-3-7 2-7 2-6 2-7 2-6 3-7 2-7 2-6 3-7 2-6 3-7 2-6 3-7 3-7 2-6 3zM1155 1687l7-2 6-1 7-1 6-2-6-4-7 2-6 1-7 2-7 1zM1030 1727l7-2 6-3 7-2 6-3 7-2 6-2 7-3 7-2 6-2 7-3 6-2 7-2 7-2 6-2 7-2 6-2-6-3-7 2-6 2-7 2-7 2-6 2-7 2-6 3-7 2-7 2-6 3-7 2-6 3-7 2-6 3-7 2-7 3zM1175 1687l6-1 7-1 7-1-7-4-7 1-6 2-7 1zM1102 1706l7-2 7-2 6-2 7-2 6-2 7-2-7-3-6 2-7 2-6 2-7 2-7 2-6 2zM1188 1690l7-1 6-2 7-1-7-4-6 2-7 1-7 1zM1116 1707l6-2 7-2 6-2 7-2 6-2-6-3-7 2-6 2-7 2-6 2-7 2zM1208 1691l6-1 7-2-7-4-6 2-7 1zM1129 1708l6-2 7-2 6-2 7-2-7-3-6 2-7 2-6 2-7 2zM1221 1693l7-1-7-4-7 2zM1142 1709l6-2 7-2 7-2-7-3-7 2-6 2-7 2zM1234 1695l7-2-7-3-6 2zM1148 1712l7-2 7-2 6-2-6-3-7 2-7 2-6 2zM1241 1698l6-2 7-2-7-3-6 2-7 2zM1155 1715l7-2 6-2 7-2-7-3-6 2-7 2-7 2zM1254 1699l6-3-6-2-7 2zM1162 1718l6-2 7-2 6-2-6-3-7 2-6 2-7 2zM1260 1701l7-2-7-3-6 3zM1168 1721l7-2 6-2 7-3-7-2-6 2-7 2-6 2zM1267 1703l7-2-7-2-7 2zM1175 1724l6-2 7-3 7-2-7-3-7 3-6 2-7 2zM1274 1706l6-2-6-3-7 2zM1175 1729l6-2 7-3 7-2 6-2-6-3-7 2-7 3-6 2-7 3zM1280 1708l7-2-7-2-6 2zM1181 1732l7-3 7-2 6-3 7-2-7-2-6 2-7 2-7 3-6 2z"/><path class=f d="M1050 1654l6-2 7-2 6-2 7-2 7-2 6-2-6-3-7 3-7 2-6 2-7 2-6 2-7 2zM997 1666l7-2-7-3-7 2zM1083 1648l6-2 7-3 6-2 7-2 7-3-7-2-7 3-6 2-7 3-6 2-7 2zM1004 1668l6-2-6-2-7 2zM1004 1673l6-3 7-2-7-2-6 2-7 2zM938 1709l6-3-6-1-7 3zM1010 1675l7-2 6-2-6-3-7 2-6 3zM944 1711l7-3-7-2-6 3zM1017 1677l6-2 7-2-7-2-6 2-7 2zM958 1709l6-3-6-1-7 3zM1023 1679l7-2 7-3-7-1-7 2-6 2zM964 1710l7-3-7-1-6 3zM1030 1681l7-2 6-3-6-2-7 3-7 2zM971 1711l6-3 7-3-7-2-6 4-7 3zM1037 1683l6-3 7-2-7-2-6 3-7 2zM984 1709l6-3 7-4-7-1-6 4-7 3zM1129 1656l6-3 7-2 6-3-6-1-7 2-6 3-7 3zM1037 1688l6-3 7-3 6-2-6-2-7 2-6 3-7 3zM990 1710l7-3 7-3-7-2-7 4-6 3zM1116 1665l6-2 7-2 6-3 7-3 6-2 7-3 7-3 6-2-6-2-7 2-7 3-6 3-7 2-6 3-7 3-6 2-7 3zM1043 1689l7-2 6-3 7-2-7-2-6 2-7 3-6 3zM997 1711l7-3 6-3 7-3-7-2-6 4-7 3-7 3zM1109 1672l7-2 6-3 7-2-7-2-6 2-7 3-7 2zM1043 1694l7-3 6-2 7-3 6-2 7-2-7-2-6 2-7 2-6 3-7 2-6 3zM1010 1709l7-3 6-3 7-3 7-3-7-2-7 3-6 4-7 3-6 3zM1017 1710l6-3 7-3 7-3 6-2 7-3 6-3 7-2 6-3 7-2 7-2 6-2 7-2 6-2 7-2 7-2 6-2 7-2-7-3-6 3-7 2-7 2-6 2-7 2-6 2-7 2-7 2-6 2-7 3-6 2-7 3-6 3-7 3-7 3-6 3-7 3zM1063 1695l6-2 7-3 7-2 6-2 7-2 6-2 7-2 7-2 6-1 7-2-7-3-6 2-7 2-7 2-6 2-7 2-6 2-7 2-7 2-6 3-7 2zM1017 1714l6-2 7-3 7-3 6-3 7-3-7-1-6 2-7 3-7 3-6 3-7 3zM1083 1693l6-2 7-2 6-2 7-2 7-2 6-2 7-2-7-2-6 1-7 2-7 2-6 2-7 2-6 2-7 2zM1017 1719l6-3 7-3 7-2 6-3 7-3-7-2-6 3-7 3-7 3-6 2-7 3zM1102 1691l7-2 7-2 6-1 7-2 6-2-6-3-7 2-6 2-7 2-7 2-6 2zM1017 1723l6-3 7-2 7-3 6-3-6-1-7 2-7 3-6 3-7 2zM1122 1690l7-2 6-1 7-2-7-3-6 2-7 2-6 1zM1135 1691l7-1 6-2 7-1-7-4-6 2-7 2-6 1zM1142 1694l6-1 7-2 7-1 6-1 7-2-7-3-6 1-7 2-7 1-6 2-7 1zM1148 1697l7-1 7-2 6-1 7-1 6-1 7-1-7-4-6 1-7 2-6 1-7 1-7 2-6 1zM1155 1700l7-1 6-2 7-1 6-1 7-1 7-1 6-1 7-1-7-4-6 2-7 1-7 1-6 1-7 1-6 1-7 2-7 1zM1208 1695l6-1 7-1-7-3-6 1-7 1zM1162 1703l6-1 7-2 6-1-6-3-7 1-6 2-7 1zM1221 1697l7-1 6-1-6-3-7 1-7 1zM1168 1706l7-2 6-1-6-3-7 2-6 1zM1234 1699l7-1-7-3-6 1zM1175 1709l6-2 7-1-7-3-6 1-7 2zM1247 1700l7-1-7-3-6 2zM1181 1712l7-2 7-2-7-2-7 1-6 2zM1254 1703l6-2-6-2-7 1zM1188 1714l7-2 6-1-6-3-7 2-7 2zM1260 1705l7-2-7-2-6 2zM1195 1717l6-2 7-2-7-2-6 1-7 2zM1267 1708l7-2-7-3-7 2zM1201 1720l7-2 6-2-6-3-7 2-6 2zM1274 1710l6-2-6-2-7 2zM1208 1722l6-2 7-2 7-1-7-3-7 2-6 2-7 2z"/><path class=g d="M1004 1664l6-2 7-1 6-1 7-1 7-2 6-1 7-2-7-2-6 1-7 2-7 1-6 1-7 2-6 1-7 1zM1043 1659l7-1 6-2 7-2 6-2 7-2 7-2-7-2-7 2-6 2-7 2-6 2-7 2-6 1zM1010 1666l7-1 6-2-6-2-7 1-6 2zM1069 1656l7-2 7-2 6-2 7-3 6-2 7-3 7-2 6-3-6-1-7 3-7 2-6 2-7 3-6 2-7 2-7 2-6 2zM1017 1668l6-1-6-2-7 1zM1023 1671l7-2-7-2-6 1zM1030 1673l7-2-7-2-7 2zM951 1712l7-3-7-1-7 3zM1037 1674l6-1-6-2-7 2zM958 1713l6-3-6-1-7 3zM1043 1676l7-2-7-1-6 1zM964 1714l7-3-7-1-6 3zM1102 1662l7-2 7-3 6-2 7-3 6-3 7-2 6-3-6-1-7 3-6 2-7 3-6 3-7 2-7 3-6 2zM1050 1678l6-2 7-2-7-2-6 2-7 2zM971 1715l6-3 7-3-7-1-6 3-7 3zM1148 1648l7-3 7-2-7-2-7 3-6 3zM1096 1668l6-2 7-2 7-3 6-2 7-3-7-1-6 2-7 3-7 2-6 2-7 2zM1056 1680l7-2 6-2 7-2-7-2-6 2-7 2-6 2zM984 1713l6-3-6-1-7 3zM1063 1682l6-2 7-2 7-2 6-2 7-2 6-2 7-2 7-3-7-1-7 2-6 2-7 2-6 2-7 2-7 2-6 2-7 2zM990 1714l7-3-7-1-6 3zM1076 1682l7-2 6-2 7-2 6-2 7-2-7-2-6 2-7 2-6 2-7 2-7 2zM990 1717l7-2 7-3 6-3-6-1-7 3-7 3-6 2zM997 1719l7-3 6-3 7-3-7-1-6 3-7 3-7 2zM1004 1720l6-3 7-3-7-1-6 3-7 3zM1010 1721l7-2-7-2-6 3zM1181 1699l7-1 7-1 6-1 7-1-7-3-6 1-7 1-7 1-6 1zM1208 1699l6-1 7-1-7-3-6 1-7 1zM1181 1703l7-1 7-1 6-1-6-3-7 1-7 1-6 1zM1228 1700l6-1-6-3-7 1zM1188 1706l7-2 6-1-6-2-7 1-7 1zM1241 1702l6-2-6-2-7 1zM1195 1708l6-1 7-1-7-3-6 1-7 2zM1247 1704l7-1-7-3-6 2zM1201 1711l7-2 6-1-6-2-7 1-6 1zM1254 1707l6-2-6-2-7 1zM1208 1713l6-1 7-1-7-3-6 1-7 2zM1260 1709l7-1-7-3-6 2zM1214 1716l7-2 7-1-7-2-7 1-6 1zM1267 1711l7-1-7-2-7 1zM1228 1717l6-1-6-3-7 1z"/><path class=h d="M1023 1663l7-1 7-1 6-2-6-2-7 2-7 1-6 1zM1023 1667l7-2 7-1 6-1 7-2 6-1 7-2 6-2-6-2-7 2-6 2-7 1-6 2-7 1-7 1-6 2zM1056 1663l7-2 6-2 7-2 7-2 6-2 7-2 6-3 7-2 7-3 6-2 7-3-7-1-6 3-7 2-7 3-6 2-7 3-6 2-7 2-7 2-6 2-7 2-6 1zM1030 1669l7-2 6-1 7-2-7-1-6 1-7 1-7 2zM1069 1662l7-1 7-2 6-3 7-2 6-2 7-3 7-2 6-3 7-2 6-3-6-1-7 3-6 2-7 3-7 2-6 3-7 2-6 2-7 2-7 2-6 2zM1037 1671l6-2 7-2-7-1-6 1-7 2zM1076 1664l7-2 6-2 7-3 6-2 7-2 7-3 6-3 7-2 6-3 7-2-7-1-6 3-7 2-6 3-7 2-7 3-6 2-7 2-6 3-7 2-7 1zM1043 1673l7-2 6-2-6-2-7 2-6 2zM1050 1674l6-2 7-1 6-2 7-2 7-2 6-2 7-2 6-2 7-3 7-2 6-3 7-3 6-2 7-3 6-3-6 0-7 2-6 3-7 2-6 3-7 3-7 2-6 2-7 3-6 2-7 2-7 2-6 1-7 2-6 2-7 2zM1148 1644l7-3-7-1-6 3zM1063 1674l6-2 7-2 7-2 6-2 7-2 6-2-6-1-7 2-6 2-7 2-7 2-6 2-7 1zM1076 1674l7-2 6-2 7-2-7-2-6 2-7 2-7 2zM977 1716l7-3-7-1-6 3zM984 1716l6-2-6-1-7 3zM1201 1700l7-1-7-3-6 1zM1201 1703l7-1 6 0 7-1 7-1-7-3-7 1-6 1-7 1-6 1zM1208 1706l6-1 7-1 7-1 6 0 7-1-7-3-6 1-7 1-7 1-6 0-7 1zM1241 1705l6-1-6-2-7 1zM1214 1708l7-1-7-2-6 1zM1247 1707l7 0-7-3-6 1zM1221 1711l7-1-7-3-7 1zM1254 1710l6-1-6-2-7 0zM1228 1713l6-1 7-1-7-2-6 1-7 1zM1234 1716l7-1 6-1 7-1 6-1 7-1-7-2-6 1-7 1-6 0-7 1-6 1z"/><path class=i d="M1050 1664l6-1-6-2-7 2zM1050 1667l6-1 7-2 6-2-6-1-7 2-6 1-7 2zM1056 1669l7-2 6-1 7-2-7-2-6 2-7 2-6 1zM1221 1707l7 0 6-1 7-1-7-2-6 0-7 1-7 1zM1228 1710l6-1 7-1 6-1-6-2-7 1-6 1-7 0zM1241 1711l6 0 7-1-7-3-6 1-7 1z"/><path d="M918 1703l7 3 6 2 7 1 6 2 7 1 7 1 6 1 7 1 6 1 7 0 6 1 7 2 7 1 6 1 7 2 6 2 7 2 7 4 6 3 7 4 6 5 7 4 6 5 7 5 7 5 6 4 7 4 6 3 7-3 7-3 6-4 7-3 6-4 7-4 6-4 7-4 7-3 6-3 7-3 6-3 7-3 7-2 6-3 7-2 6-2 7-2 7-1 6-1 7-1 6-1 7-1 6-1 7-1 7-1 6-2 7-2" fill="none" stroke="#a040e0" stroke-width="2.2"/>
<g fill="none" stroke-width="1.8"><path d="M1341 1782l185 72 184-72-184-72z" stroke="#c4c4c4" stroke-width="2"/><path d="M1526 1854V1643" stroke="#c4c4c4" stroke-width="2"/><path d="M1572 1793l-4 1-9 1-10-1-7-1-6-1-6-1-5-2-4-2-4-2-3-2-2-3 1-6 4-3 4-1 6-2 7-1 8 0 5 0 9 0 5 0 8 2 4 2 3 2 1 3 1 4 1 5-1 3-2 3-4 2" stroke="#eedc5a"/><path d="M1619 1817l-5-1-5-2-6-1-5-2-6-1-6-1-6-1-7-2-5 0-8-2-6-1-7-1-6-1-5-1-7-1-6-2-5-1-5-2-4-2-4-2-4-2-3-2-3-3-2-2-3-3-2-3-2-3-2-2-2-3-3-3-2-3-4-1-6-1-8-1-7-1-7-1-6-1-5-2-6-1-4-2M1624 1749l-4 2-4 1-4 3-3 2-4 2-2 3-3 2-1 3-2 3 0 4-1 3 1 4 1 4 2 4 1 3 1 3 2 3 2 3 3 2 2 3 3 2 4 3 3 2 4 2M1447 1741l4 2 4 2 4 2 4 2 4 2 3 2 3 3 4 2 7 1 7 0 4 0 5 1 5 0 4 0 5-1 5 0 4 0 6 0 10 0 8-1 4 0 4 0 7-1 7-1 7-1 6-1 7-1 5-2 4-1 7-2 5-1 5-2" stroke="#6c9fe0"/><path d="M1602 1824l-4-2-5-2-5-1-5-2-5-2-6-1-3-1-8-2-6-1-6-1-6-1-7-2-6-1-6-1-5-1-6-2-5-2-4-1-5-2-4-2-3-2-4-3-3-2-3-2-3-3-3-2-3-3-3-2-3-1-5-3-4-2-5-2-5-2-5-1-5-2-5-1-5-2-5-1-5-2-5-2M1637 1754l-4 1-5 2-4 2-3 3-3 2-3 2-3 3-1 3-1 3 0 4 1 4 2 4 2 3 3 3 2 2 4 3 3 2 4 2 4 2 4 2 4 2M1457 1737l5 2 4 2 5 1 5 2 4 2 5 1 6 2 6 1 5 1 8 1 5 1 10 0 9 0 9 0 8-1 7 0 7-1 6-2 4 0 7-2 6-2 5-1 5-2 5-2" stroke="#f08576"/><path d="M1594 1827l-5-2-4-1-5-2-6-2-5-1-5-2-6-1-6-1-6-2-6-1-6-1-6-1-7-1-6-2-5-1-5-2-5-1-5-2-4-2-4-2-4-2-2-2-4-3-4-2-3-2-3-3-3-2-4-2-4-2-3-2-5-2-4-2-5-2-5-2-5-1-4-2-5-2-5-1-5-2-5-2M1645 1757l-5 1-4 2-4 3-3 2-3 2-2 3-2 3-1 3 0 4 2 4 2 3 2 2 3 3 3 2 3 2 4 2 4 3 4 1 5 2M1464 1734l5 2 5 2 5 1 5 2 3 1 7 2 6 1 6 2 7 1 7 0 9 1 9 0 3-1 8 0 7-1 6-1 7-1 6-1 5-2 5-1 6-2 4-2" stroke="#a8a8a8"/><path d="M1587 1830l-4-2-5-2-5-1-5-2-4-1-7-2-6-1-6-1-3-1-4-1-6-1-6-1-7-1-6-1-5-1-7-2-5-1-5-2-4-2-4-2-4-2-4-2-3-2-3-3-3-2-4-2-3-3-3-2-3-1-4-3-4-2-5-2-4-2-4-2-5-2-5-2-5-1-4-2-5-2-5-1-4-2M1651 1759l-4 2-4 2-4 2-3 3-2 2-2 3-1 3 1 4 1 3 2 3 3 3 2 2 4 2 4 2 4 2 4 2 4 2M1471 1732l5 1 4 2 5 2 6 1 5 2 6 1 3 1 9 1 6 1 10 1 9 0 9-1 7-1 7-1 6-1 6-1 5-2 5-1 5-2" stroke="#d08be8"/><path d="M1582 1832l-5-2-5-2-4-1-6-2-6-1-6-1-6-2-6-1-7-1-7-1-6-1-4 0-3-1-7-1-5 0-7-2-6-1-4-2-5-2-3-2-3-2-4-3-3-2-3-3-3-2-3-2-3-3-4-2-3-2-4-2-4-3-4-2-4-1-4-2-5-2-4-2-5-2-5-1-5-2-4-2-5-2M1658 1762l-5 2-3 2-4 2-2 3-2 2-1 4 1 3 1 3 2 3 3 2 3 2 4 3 4 2 4 2 5 1M1477 1729l5 2 5 2 5 1 5 2 5 1 7 1 6 2 4 0 11 1 9 0 9 0 7-1 7-1 6-1 5-2 6-1 4-2" stroke="#6fcfb0"/><path d="M1576 1834l-3-1-6-3-6-1-5-2-6-1-6-1-6-1-7-1-7-1-7-1-8 0-5-1-10-1-7 0-7-1-3-1-3-1-4-2-4-2-3-2-3-3-2-2-2-3-3-3-3-2-2-2-4-3-3-2-3-3-4-2-4-2-4-2-4-2-4-2-5-2-4-1-5-2-4-2-5-2-5-1-4-2M1665 1764l-5 2-3 2-3 3-2 3-1 3 1 3 4 5 2 2 4 3 4 2 4 2 5 2M1483 1727l5 2 5 1 5 2 5 1 6 2 6 1 7 1 8 0 9 0 9 0 7-1 7-1 3-1 8-2 5-1" stroke="#72b8ec"/><path d="M1571 1836l-4-2-5-2-6-1-5-1-6-2-7-1-7-1-7 0-8-1-8 0-8-1-4 0-6 0-10 1-9 0-3 1-9 2M1673 1767l-5 2-3 3-2 3 0 4 2 3 2 2 3 3 4 2 4 2 4 2M1440 1820l3-2 2-3 1-3 0-4-2-4-3-4-2-2-3-3-2-2-4-3-3-2-4-2-4-2-4-2-4-2-5-2-4-2-5-2-4-1-5-2-4-2-5-2M1489 1725l5 1 5 2 5 1 6 2 6 1 7 1 7 1 9 0 9-1 7 0 6-2 6-1 5-2" stroke="#f0ac62"/><path d="M1566 1838l-4-2-6-2-5-1-6-1-4-1-9-1-5-1-10-1-9 0-10 1-7 0-7 1-6 2-5 1M1684 1772l-4 2-2 3 3 6 3 2 3 2 5 2M1422 1813l4-2 2-2 1-3 0-4-2-3-2-3-3-2-3-3-3-1-5-3-4-2-4-2-4-2-5-2-4-2-5-1-4-2-5-2-5-2M1496 1722l5 2 5 1 5 2 6 1 7 1 5 1 10 0 8-1 5 0 8-2 4-1" stroke="#eedc5a"/><path d="M1561 1840l-5-2-5-1-5-2-6-1-7-1-7-1-9 0-10 0-8 1-4 0-8 2-5 2M1406 1807l3-1 3-4-1-4-3-3-2-2-4-2-4-2-4-2-4-2-5-2-4-2-5-2-5-1-5-2-4-2M1504 1719l4 2 6 1 6 1 4 1 10 1 10 0 6-1 6-2" stroke="#6c9fe0"/><path d="M1556 1842l-5-2-5-1-6-2-7-1-7 0-9-1-10 1-6 1-6 1-5 2M1373 1794l-3-2-5-1-2 0M1516 1714l5 2 6 1 7 0 6-1" stroke="#f08576"/><path d="M1550 1844l-5-2-6-1-6-1-7-1-9 0-8 1-6 1-6 2" stroke="#a8a8a8"/><path d="M1543 1847l-5-2-6-1-4 0-4 0-6 0-5 0-7 2" stroke="#d08be8"/><path d="M1530 1852l-8-1-2 1" stroke="#6fcfb0"/></g>
<path d="M1341 1643V1782" stroke="#c8c8c8" stroke-width="1.2"/>
<path d="M1341 1675l7-2 6-1 7-1 7 0 6 0 7 1 6 1 7 1 6 1 7 1 7 1 6 0 7-1 6-2 7-3 7-4 6-4 7-6 6-6 7-6 7-7 6-6 7-7 6-6 7-5 6-5 7-4 7-3 6 3 7 3 6 4 7 4 7 5 6 5 7 7 6 6 7 7 6 7 7 6 7 6 6 4 7 4 6 2 7 1 7 0 6 0 7-2 6-1 7-1 6 0 7 0 7 0 6 1 7 2 6 2 7 2" fill="none" stroke="#a040e0" stroke-width="2.6"/><path class=b d="M1466 1660l7-6 7-7 6-6 7-7 6-6 7-6-7-3-6 6-7 7-6 6-7 7-7 6-6 6zM1473 1662l7-5 6-7 7-6 6-7 7-6 6-6 7-5-7-3-6 5-7 6-6 6-7 7-6 6-7 7-7 6zM1480 1665l6-6 7-6 6-6 7-6 6-6 7-6 7-6 6-4-6-4-7 5-7 5-6 6-7 6-6 7-7 6-6 7-7 5zM1486 1668l7-6 6-5 7-6 6-7 7-6 7-5 6-5 7-5-7-4-6 4-7 6-7 6-6 6-7 6-6 6-7 6-6 6zM1493 1671l6-5 7-6 6-6 7-6 7-5 6-6 7-5 6-4 7-4-7-5-6 4-7 5-6 5-7 5-7 6-6 7-7 6-6 5-7 6zM1499 1674l7-5 6-5 7-5 7-6 6-6 7-5 6-5 7-4 7-4 6-3-6-5-7 3-7 4-6 4-7 5-6 6-7 5-7 6-6 6-7 6-6 5zM1506 1678l6-5 7-5 7-5 6-5 7-5 6-5 7-5 7-4 6-4 7-2-7-7-6 3-7 4-7 4-6 5-7 5-6 6-7 6-7 5-6 5-7 5zM1512 1681l7-4 7-5 6-4 7-5 6-5 7-5 7-4 6-4 7-3 6-3-6-6-7 2-6 4-7 4-7 5-6 5-7 5-6 5-7 5-7 5-6 5zM1526 1681l6-4 7-5 6-4 7-4 7-5 6-4 7-3 6-3 7-3-7-7-6 3-7 3-6 4-7 4-7 5-6 5-7 5-6 4-7 5zM1532 1685l7-4 6-4 7-4 7-4 6-4 7-3 6-4 7-3 6-2-6-7-7 3-6 3-7 3-6 4-7 5-7 4-6 4-7 5-6 4zM1545 1686l7-4 7-4 6-4 7-3 6-3 7-4 6-2 7-3-7-6-6 2-7 3-6 4-7 3-6 4-7 4-7 4-6 4zM1565 1683l7-4 6-3 7-3 6-3 7-3-7-5-6 2-7 4-6 3-7 3-6 4z"/><path class=c d="M1506 1622l6-5 7-5 7-4-7-3-7 4-6 5-7 5zM1453 1670l7-5 6-5-6-3-7 6-6 4zM1519 1620l7-5 6-4-6-3-7 4-7 5zM1460 1672l6-4 7-6-7-2-6 5-7 5zM1532 1619l7-4 6-3-6-4-7 3-6 4zM1466 1675l7-5 7-5-7-3-7 6-6 4zM1539 1623l6-4 7-3-7-4-6 3-7 4zM1473 1677l7-4 6-5-6-3-7 5-7 5zM1552 1624l7-3-7-5-7 3zM1480 1679l6-3 7-5-7-3-6 5-7 4zM1486 1682l7-4 6-4-6-3-7 5-6 3zM1493 1685l6-3 7-4-7-4-6 4-7 4zM1499 1688l7-3 6-4-6-3-7 4-6 3zM1506 1692l6-3 7-4 7-4-7-4-7 4-6 4-7 3zM1512 1695l7-3 7-3 6-4-6-4-7 4-7 4-6 3zM1519 1699l7-3 6-3 7-4 6-3-6-5-7 4-6 4-7 3-7 3zM1598 1667l7-2-7-6-7 3zM1526 1702l6-2 7-4 6-3 7-3 7-4 6-3-6-5-7 4-7 4-6 3-7 4-6 3-7 3zM1539 1703l6-3 7-3 7-4 6-3 7-4 6-3 7-3 6-3 7-3 7-2 6-3-6-4-7 2-7 3-6 3-7 3-6 3-7 4-6 3-7 4-7 3-6 3-7 4zM1552 1703l7-3 6-4 7-3 6-3 7-3 6-3-6-4-7 3-6 3-7 4-6 3-7 4-7 3zM1624 1716l7-5 7-6 6-5-6-2-7 6-7 5-6 6zM1624 1723l7-5 7-5 6-6 7-6 6-6 7-5-7-2-6 6-7 6-6 5-7 6-7 5-6 5zM1624 1730l7-5 7-5 6-5 7-6 6-6 7-6 6-6 7-5-7-1-6 5-7 5-6 6-7 6-6 6-7 5-7 5-6 4zM1631 1732l7-5 6-5 7-5 6-6 7-6 6-6 7-6 7-5 6-4-6-2-7 4-7 5-6 6-7 6-6 6-7 6-6 5-7 5-7 5zM1631 1738l7-4 6-4 7-5 6-6 7-6 6-6 7-6 7-5 6-5 7-5-7-2-6 4-7 5-7 6-6 6-7 6-6 6-7 5-6 5-7 5-7 4z"/><path class=d d="M1526 1608l6-3-6-3-7 3zM1447 1673l6-3-6-3-7 4zM1532 1611l7-3-7-3-6 3zM1453 1676l7-4-7-2-6 3zM1460 1678l6-3-6-3-7 4zM1466 1680l7-3-7-2-6 3zM1473 1683l7-4-7-2-7 3zM1480 1685l6-3-6-3-7 4zM1486 1688l7-3-7-3-6 3zM1493 1691l6-3-6-3-7 3zM1394 1697l6-2-6-3-7 2zM1493 1696l6-2 7-2-7-4-6 3-7 2zM1400 1701l7-3-7-3-6 2zM1499 1700l7-2 6-3-6-3-7 2-6 2zM1407 1704l7-2-7-4-7 3zM1506 1703l6-2 7-2-7-4-6 3-7 2zM1414 1709l6-3 7-1-7-4-6 1-7 2zM1512 1707l7-2 7-3-7-3-7 2-6 2zM1420 1713l7-2 6-2-6-4-7 1-6 3zM1526 1708l6-2 7-3-7-3-6 2-7 3zM1427 1717l6-2 7-2-7-4-6 2-7 2zM1591 1684l7-3 7-3 6-3 7-2-7-4-6 3-7 2-7 3-6 3zM1532 1711l7-2 6-3 7-3-7-3-6 3-7 3-6 2zM1433 1721l7-2 7-2-7-4-7 2-6 2zM1545 1712l7-3 7-3 6-4 7-3 6-3 7-4 6-3 7-3-7-2-6 3-7 3-6 3-7 3-6 4-7 3-7 3-6 3zM1440 1725l7-3-7-3-7 2zM1559 1711l6-3 7-3 6-4 7-3-7-2-6 3-7 3-6 4-7 3zM1447 1728l6-3-6-3-7 3zM1572 1710l6-3 7-4-7-2-6 4-7 3zM1598 1716l7-4 6-5-6-1-7 5-7 4zM1598 1722l7-4 6-5 7-5 6-5 7-5-7-1-6 5-7 5-6 5-7 4-7 4zM1605 1723l6-4 7-4 6-6 7-5 7-6 6-5-6-1-7 6-7 5-6 5-7 5-6 5-7 4zM1644 1700l7-6 6-6 7-5-7 0-6 5-7 5-6 5zM1605 1729l6-4 7-4 6-5-6-1-7 4-6 4-7 4zM1664 1690l6-5 7-5-7-1-6 4-7 5zM1611 1731l7-4 6-4-6-2-7 4-6 4zM1677 1686l7-4-7-2-7 5zM1611 1737l7-4 6-3-6-3-7 4-6 3zM1690 1684l7-4-7-2-6 4zM1618 1739l6-3 7-4-7-2-6 3-7 4zM1697 1686l6-4 7-3-7-2-6 3-7 4zM1624 1742l7-4-7-2-6 3z"/><path class=e d="M1440 1676l7-3-7-2-7 3zM1348 1678l6-2-6-3-7 2zM1447 1679l6-3-6-3-7 3zM1354 1680l7-2-7-2-6 2zM1453 1681l7-3-7-2-6 3zM1361 1683l7-2-7-3-7 2zM1460 1683l6-3-6-2-7 3zM1368 1685l6-2-6-2-7 2zM1466 1685l7-2-7-3-6 3zM1374 1688l7-2-7-3-6 2zM1473 1688l7-3-7-2-7 2zM1381 1691l6-2-6-3-7 2zM1480 1690l6-2-6-3-7 3zM1387 1694l7-2-7-3-6 2zM1486 1693l7-2-7-3-6 2zM1400 1695l7-2-7-3-6 2zM1486 1698l7-2-7-3-6 2zM1407 1698l7-1-7-4-7 2zM1493 1701l6-1-6-4-7 2zM1414 1702l6-1-6-4-7 1zM1499 1705l7-2-7-3-6 1zM1427 1705l6-1-6-4-7 1zM1506 1708l6-1-6-4-7 2zM1433 1709l7-1-7-4-6 1zM1512 1712l7-2 7-2-7-3-7 2-6 1zM1440 1713l7-1-7-4-7 1zM1526 1713l6-2-6-3-7 2zM1447 1717l6-1-6-4-7 1zM1598 1686l7-3 6-3 7-2 6-3-6-2-7 2-6 3-7 3-7 3zM1532 1716l7-2 6-2-6-3-7 2-6 2zM1447 1722l6-1 7-2-7-3-6 1-7 2zM1585 1698l6-4 7-3 7-4-7-1-7 3-6 3-7 4zM1545 1717l7-3 7-3-7-2-7 3-6 2zM1453 1725l7-1-7-3-6 1zM1585 1703l6-4 7-4-7-1-6 4-7 3zM1552 1719l7-3 6-3 7-3-7-2-6 3-7 3-7 3zM1453 1730l7-2-7-3-6 3zM1565 1718l7-3 6-3 7-4 6-4 7-4 7-4-7-1-7 4-6 4-7 4-6 3-7 3-6 3zM1572 1720l6-3 7-4 6-4 7-4 7-4 6-4-6-1-7 4-7 4-6 4-7 4-6 3-7 3zM1578 1722l7-3 6-4 7-4 7-5 6-4 7-5-7 0-6 4-7 4-7 4-6 4-7 4-6 3zM1611 1707l7-5 6-5 7-5-7 0-6 5-7 5-6 4zM1585 1723l6-3 7-4-7-1-6 4-7 3zM1631 1698l7-6 6-5-6 0-7 5-7 5zM1591 1725l7-3-7-2-6 3zM1644 1693l7-5 6-5-6-1-7 5-6 5zM1591 1730l7-3 7-4-7-1-7 3-6 3zM1664 1683l6-4-6-1-7 5zM1598 1732l7-3-7-2-7 3zM1677 1680l7-4-7-1-7 4zM1605 1734l6-3-6-2-7 3zM1684 1682l6-4-6-2-7 4zM1605 1739l6-2-6-3-7 3zM1697 1680l6-3-6-2-7 3zM1611 1741l7-2-7-2-6 2zM1618 1744l6-2-6-3-7 2z"/><path class=f d="M1433 1678l7-2-7-2-6 2zM1440 1680l7-1-7-3-7 2zM1466 1689l7-1-7-3-6 2zM1387 1689l7-2-7-3-6 2zM1473 1692l7-2-7-2-7 1zM1394 1692l6-2-6-3-7 2zM1480 1695l6-2-6-3-7 2zM1480 1699l6-1-6-3-7 1zM1414 1697l6-1-6-3-7 0zM1486 1702l7-1-7-3-6 1zM1420 1701l7-1-7-4-6 1zM1493 1706l6-1-6-4-7 1zM1499 1709l7-1-7-3-6 1zM1440 1708l7 0-7-4-7 0zM1506 1713l6-1-6-4-7 1zM1447 1712l6-1-6-3-7 0zM1519 1715l7-2-7-3-7 2zM1453 1716l7-1-7-4-6 1zM1526 1718l6-2-6-3-7 2zM1460 1719l6 0-6-4-7 1zM1605 1687l6-3 7-3-7-1-6 3-7 3zM1539 1719l6-2-6-3-7 2zM1460 1724l6-2-6-3-7 2zM1598 1695l7-3 6-4-6-1-7 4-7 3zM1545 1721l7-2-7-2-6 2zM1460 1728l6-2-6-2-7 1zM1605 1696l6-4-6 0-7 3zM1559 1721l6-3-6-2-7 3zM1460 1732l6-2-6-2-7 2zM1611 1697l7-5-7 0-6 4zM1565 1723l7-3-7-2-6 3zM1618 1697l6-5-6 0-7 5zM1572 1724l6-2-6-2-7 3zM1631 1692l7-5-7 1-7 4zM1578 1726l7-3-7-1-6 2zM1644 1687l7-5-7 1-6 4zM1585 1728l6-3-6-2-7 3zM1657 1683l7-5-7 0-6 4zM1585 1732l6-2-6-2-7 2zM1670 1679l7-4-7 0-6 3zM1591 1734l7-2-7-2-6 2zM1598 1737l7-3-7-2-7 2zM1690 1678l7-3-7-2-6 3zM1605 1743l6-2-6-2-7 2zM1611 1746l7-2-7-3-6 2zM1526 1735l6-2-6-2-7 2z"/><path class=g d="M1354 1676l7-2-7-2-6 1zM1361 1678l7-1-7-3-7 2zM1447 1683l6-2-6-2-7 1zM1368 1681l6-2-6-2-7 1zM1453 1685l7-2-7-2-6 2zM1374 1683l7-1-7-3-6 2zM1460 1687l6-2-6-2-7 2zM1381 1686l6-2-6-2-7 1zM1466 1693l7-1-7-3-6 1zM1400 1690l7-1-7-3-6 1zM1473 1696l7-1-7-3-7 1zM1407 1693l7 0-7-4-7 1zM1473 1700l7-1-7-3-7 0zM1480 1703l6-1-6-3-7 1zM1427 1700l6 0-6-4-7 0zM1486 1706l7 0-7-4-6 1zM1433 1704l7 0-7-4-6 0zM1493 1710l6-1-6-3-7 0zM1447 1708l6 0-6-4-7 0zM1499 1713l7 0-7-4-6 1zM1453 1711l7 0-7-3-6 0zM1512 1716l7-1-7-3-6 1zM1460 1715l6 0-6-4-7 0zM1519 1719l7-1-7-3-7 1zM1618 1681l6-2 7-3-7-1-6 3-7 2zM1532 1720l7-1-7-3-6 2zM1466 1722l7 0-7-3-6 0zM1611 1688l7-3-7-1-6 3zM1539 1722l6-1-6-2-7 1zM1466 1726l7-1-7-3-6 2zM1611 1692l7-4-7 0-6 4zM1552 1723l7-2-7-2-7 2zM1466 1730l7-2-7-2-6 2zM1618 1692l6-4-6 0-7 4zM1559 1725l6-2-6-2-7 2zM1624 1692l7-4-7 0-6 4zM1565 1726l7-2-7-1-6 2zM1638 1687l6-4-6 0-7 5zM1572 1728l6-2-6-2-7 2zM1651 1682l6-4-6 1-7 4zM1578 1730l7-2-7-2-6 2zM1585 1736l6-2-6-2-7 2zM1684 1676l6-3-6-1-7 3zM1591 1738l7-1-7-3-6 2zM1598 1741l7-2-7-2-7 1z"/><path class=h d="M1427 1679l6-1-6-2-7 1zM1361 1674l7-1-7-2-7 1zM1433 1681l7-1-7-2-6 1zM1368 1677l6-1-6-3-7 1zM1374 1679l7-1-7-2-6 1zM1381 1682l6-1-6-3-7 1zM1453 1688l7-1-7-2-6 1zM1387 1684l7 0-7-3-6 1zM1460 1690l6-1-6-2-7 1zM1394 1687l6-1-6-2-7 0zM1466 1696l7 0-7-3-6 0zM1414 1693l6 0-6-4-7 0zM1420 1696l7 0-7-3-6 0zM1473 1703l7 0-7-3-7 0zM1433 1700l7 0-7-4-6 0zM1480 1706l6 0-6-3-7 0zM1440 1704l7 0-7-4-7 0zM1486 1710l7 0-7-4-6 0zM1493 1713l6 0-6-3-7 0zM1460 1711l6 1-6-4-7 0zM1506 1716l6 0-6-3-7 0zM1466 1715l7 0-7-3-6-1zM1512 1719l7 0-7-3-6 0zM1466 1719l7-1-7-3-6 0zM1526 1721l6-1-6-2-7 1zM1473 1722l7-1-7-3-7 1zM1618 1685l6-3-6-1-7 3zM1532 1723l7-1-7-2-6 1zM1473 1725l7-1-7-2-7 0zM1618 1688l6-3-6 0-7 3zM1545 1724l7-1-7-2-6 1zM1552 1726l7-1-7-2-7 1zM1466 1733l7-2-7-1-6 2zM1631 1688l7-5-7 1-7 4zM1559 1728l6-2-6-1-7 1zM1565 1730l7-2-7-2-6 2zM1572 1732l6-2-6-2-7 2zM1664 1678l6-3-6 0-7 3zM1578 1734l7-2-7-2-6 2zM1677 1675l7-3-7 0-7 3zM1591 1741l7 0-7-3-6 1zM1598 1744l7-1-7-2-7 0zM1605 1746l6 0-6-3-7 1z"/><path class=i d="M1440 1683l7 0-7-3-7 1zM1447 1686l6-1-6-2-7 0zM1400 1686l7 0-7-2-6 0zM1460 1693l6 0-6-3-7 1zM1407 1689l7 0-7-3-7 0zM1460 1696l6 0-6-3-7 0zM1466 1700l7 0-7-4-6 0zM1427 1696l6 0-6-3-7 0zM1466 1703l7 0-7-3-6-1zM1440 1700l7 1-7-4-7-1zM1473 1706l7 0-7-3-7 0zM1447 1704l6 0-6-3-7-1zM1480 1710l6 0-6-4-7 0zM1453 1708l7 0 6 0-6-3-7-1-6 0zM1486 1713l7 0-7-3-6 0zM1466 1712l7 0-7-4-6 0zM1499 1716l7 0-7-3-6 0zM1473 1715l7 0-7-3-7 0zM1506 1719l6 0-6-3-7 0zM1473 1718l7 0-7-3-7 0zM1519 1722l7-1-7-2-7 0zM1480 1721l6 0-6-3-7 0zM1624 1682l7-3-7 0-6 2zM1480 1724l6 0-6-3-7 1zM1539 1725l6-1-6-2-7 1zM1473 1728l7-1-7-2-7 1zM1624 1688l7-4-7 1-6 3zM1545 1727l7-1-7-2-6 1zM1473 1731l7-2-7-1-7 2zM1644 1683l7-4-7 0-6 4zM1657 1678l7-3-7 0-6 4zM1565 1733l7-1-7-2-6 1zM1670 1675l7-3-7 0-6 3zM1572 1735l6-1-6-2-7 1zM1578 1737l7-1-7-2-6 1zM1585 1739l6-1-6-2-7 1zM1519 1733l7-2-7-1-7 2zM1532 1733l7 0-7-3-6 1z"/><path class=j d="M1420 1679l7 0-7-2-6 0zM1368 1673l6 0-6-2-7 0zM1374 1676l7 0-7-3-6 0zM1381 1678l6 0-6-2-7 0zM1387 1681l7 0-7-3-6 0zM1447 1688l6 0-6-2-7 0zM1394 1684l6 0-6-3-7 0zM1453 1691l7-1-7-2-6 0zM1453 1693l7 0-7-2-6 0zM1414 1689l6 1-6-3-7-1zM1453 1696l7 0-7-3-6 0zM1420 1693l7 0-7-3-6-1zM1453 1699l7 0 6 1-6-4-7 0-6-1zM1433 1696l7 1-7-3-6-1zM1447 1701l6 0 7 1 6 1-6-4-7 0-6-1-7-1zM1453 1704l7 1 6 1 7 0-7-3-6-1-7-1-6 0zM1466 1708l7 1 7 1-7-4-7 0-6-1zM1473 1712l7 0 6 1-6-3-7-1-7-1zM1480 1715l6 1 7 0 6 0-6-3-7 0-6-1-7 0zM1480 1718l6 0 7 1 6 0 7 0-7-3-6 0-7 0-6-1-7 0zM1512 1722l7 0-7-3-6 0zM1486 1721l7 0-7-3-6 0zM1631 1679l7-3-7 0-7 3zM1526 1724l6-1-6-2-7 1zM1486 1724l7-1-7-2-6 0zM1624 1685l7-4-7 1-6 3zM1532 1726l7-1-7-2-6 1zM1480 1727l6-1-6-2-7 1zM1631 1684l7-4-7 1-7 4zM1638 1683l6-4-6 1-7 4zM1552 1729l7-1-7-2-7 1zM1473 1734l7-3-7 0-7 2zM1559 1731l6-1-6-2-7 1z"/><path class=k d="M1427 1681l6 0-6-2-7 0zM1433 1684l7-1-7-2-6 0zM1440 1686l7 0-7-3-7 1zM1400 1684l7 0-7-3-6 0zM1447 1691l6 0-6-3-7 0zM1407 1686l7 1-7-3-7 0zM1447 1693l6 0-6-2-7-1zM1447 1695l6 1-6-3-7-1zM1427 1693l6 1-6-3-7-1zM1440 1697l7 1 6 1-6-4-7 0-7-1zM1493 1721l6 0 7 1 6 0-6-3-7 0-6 0-7-1zM1519 1724l7 0-7-2-7 0zM1493 1723l6 1-6-3-7 0zM1631 1681l7-3-7 1-7 3zM1486 1726l7 0-7-2-6 0zM1539 1728l6-1-6-2-7 1zM1480 1729l6-1-6-1-7 1zM1545 1729l7 0-7-2-6 1zM1651 1679l6-4-6 1-7 3zM1552 1731l7 0-7-2-7 0zM1664 1675l6-3-6 0-7 3zM1559 1733l6 0-6-2-7 0zM1565 1735l7 0-7-2-6 0zM1572 1737l6 0-6-2-7 0zM1578 1739l7 0-7-2-6 0zM1585 1741l6 0-6-2-7 0zM1512 1732l7-2-7 0-6 2zM1591 1744l7 0-7-3-6 0zM1598 1746l7 0-7-2-7 0z"/><path class=l d="M1374 1673l7 0-7-2-6 0zM1381 1676l6 0-6-3-7 0zM1387 1678l7 1-7-3-6 0zM1394 1681l6 0-6-2-7-1zM1440 1688l7 0-7-2-7 0zM1440 1690l7 1-7-3-7 0zM1414 1687l6 1-6-3-7-1zM1440 1692l7 1-7-3-7-1zM1420 1690l7 1 6 0-6-3-7 0-6-1zM1433 1694l7 1 7 0-7-3-7-1-6 0zM1499 1724l7 0 6 0 7 0-7-2-6 0-7-1-6 0zM1638 1678l6-2-6 0-7 3zM1526 1726l6 0-6-2-7 0zM1493 1726l6-1-6-2-7 1zM1638 1680l6-3-6 1-7 3zM1532 1728l7 0-7-2-6 0zM1486 1728l7-1-7-1-6 1zM1644 1679l7-3-7 1-6 3zM1480 1731l6-1-6-1-7 2zM1480 1734l6-3-6 0-7 3zM1545 1733l7 1-7-1-6-1z"/><path class=m d="M1414 1679l6 0-6-2-7-1zM1420 1681l7 0-7-2-6 0zM1427 1683l6 1-6-3-7 0zM1394 1679l6 0-6-2-7-1zM1433 1686l7 0-7-2-6-1zM1400 1681l7 1-7-3-6 0zM1433 1688l7 0-7-2-6-1zM1407 1684l7 1-7-3-7-1zM1420 1688l7 0 6 1 7 1-7-2-6-1-7-1-6-1zM1433 1691l7 1-7-3-6-1zM1499 1725l7 1 6 0 7 0 7 0-7-2-7 0-6 0-7 0-6-1zM1493 1727l6 0-6-1-7 0zM1539 1730l6-1-6-1-7 0zM1486 1730l7-1-7-1-6 1zM1657 1675l7-3-7 1-6 3zM1545 1731l7 0-7-2-6 1zM1506 1732l6-2-6 0-7 2zM1532 1729l7 1-7-1-6 0zM1565 1738l7 2-7-2-6-2zM1545 1732l7 1-7-1-6-2z"/><path class=n d="M1381 1673l6 1 7 1 6 2 7 1 7 1-7-3-7-1-6-1-7-1-6-1-7-1zM1387 1676l7 1 6 1 7 1 7 1 6 1-6-2-7-1-7-1-6-2-7-1-6-1zM1400 1679l7 1 7 2 6 1 7 0-7-2-6-1-7-1-7-1-6-1zM1407 1682l7 1 6 1 7 1 6 1-6-3-7 0-6-1-7-2-7-1zM1414 1685l6 1 7 1 6 1-6-3-7-1-6-1-7-1zM1644 1677l7-3-7 2-6 2zM1499 1727l7 0 6 0 7 1 7 0 6 0-6-2-7 0-7 0-6 0-7-1-6 1zM1651 1676l6-3-6 1-7 3zM1493 1729l6-1 7 0 6 0 7 1 7 0 6 0 7 1-7-2-6 0-7 0-7-1-6 0-7 0-6 0-7 1zM1486 1731l7-1 6-1 7 0 6 0 7 0 7 1 6 0 7 1 6 0-6-1-7-1-6 0-7 0-7-1-6 0-7 0-6 1-7 1-6 1zM1486 1733l7-2 6-1 7-1 6 0 7 0 7 1 6 1 7 1 6 0 7 1 7 0-7-2-7 0-6 0-7-1-6 0-7-1-7 0-6 0-7 0-6 1-7 1-6 3zM1539 1732l6 1 7 1 7 1 6 0-6-2-7 0-7-1-6 0-7-1zM1493 1732l6-2 7-1 6 0-6 0-7 1-6 1-7 2zM1552 1734l7 2 6 1 7 0-7-2-6 0-7-1-7-1zM1499 1732l7-2 6-1 7-1-7 1-6 0-7 1-6 2zM1559 1736l6 1 7 2 6 0-6-2-7 0-6-1-7-2zM1565 1738l7 1 6 2 7 0-7-2-6 0-7-2-6-1zM1572 1740l6 2 7 1 6 1-6-3-7 0-6-2-7-1z"/><path class=e d="M1539 1731l6 1-6-1-7-1z"/><path class=f d="M1526 1729l6 1 7 1-7 0-6-1-7-1zM1545 1732l7 2-7-1-6-2zM1532 1729l7 2-7-1-6-1zM1545 1732l7 2-7-2-6-1z"/><path class=g d="M1539 1731l6 2-6-1-7-1zM1552 1734l7 2-7-2-7-2zM1539 1730l6 2-6-1-7-2z"/><path class=h d="M1519 1729l7 1 6 1-6-1-7-1-7 0zM1519 1728l7 1-7 0-7 0zM1526 1729l6 0-6 0-7-1z"/><path class=i d="M1552 1733l7 3 6 2-6-2-7-2-7-2z"/><path class=j d="M1532 1731l7 1-7-1-6-1zM1512 1729l7 0-7 0-6 0zM1552 1734l7 2-7-2-7-1zM1559 1736l6 2-6-2-7-2z"/><path class=l d="M1526 1731l6-1-6-1-7 1z"/><path class=m d="M1539 1733l6 0-6-2-7-1z"/><path class=n d="M1512 1730l7-1 7 0-7-1-7 1-6 1zM1519 1730l7-1 6 0-6 0-7 0-7 1zM1532 1730l7 1 6 1-6-2-7-1-6 0zM1545 1733l7 1 7 2 6 2 7 2 6 2 7 2 6 2 7 0-7-2-6-1-7-1-6-2-7-2-6-2-7-3-7-1-6-1z"/><path d="M1341 1675l7 3 6 2 7 3 7 2 6 3 7 3 6 3 7 3 6 4 7 3 7 5 6 4 7 4 6 4 7 4 7 3 6 2 7 2 6 1 7 1 7 0 6-1 7-1 6 0 7 0 6 0 7 1 7 2 6-2 7 0 6 0 7 1 7 2 6 2 7 2 6 2 7 2 6 2 7 0 7 0 6 0 7-2 6-2 7-4 7-4 6-4 7-5 6-6 7-6 6-6 7-6 7-5 6-5 7-5 6-4 7-3" fill="none" stroke="#a040e0" stroke-width="2.2"/>
<g fill="none" stroke-width="1.8"><path d="M73 2096l184 72 185-72-185-72z" stroke="#c4c4c4" stroke-width="2"/><path d="M257 2168V1957" stroke="#c4c4c4" stroke-width="2"/><path d="M207 2044l4 2 1 3-2 3-5 2-6 1-4 1-5-1-8-1" stroke="#72b8ec"/><path d="M228 2036l5 1 3 3 3 2 2 3 1 3 0 4-4 4-3 3-4 2-4 2-5 1-6 2-6 1-7 1-8 0-5 0-4 0-5 0-6 0-8-1-6-2-5-1" stroke="#f0ac62"/><path d="M260 2025l1 4 2 4 1 3 1 3 1 3 1 4-1 3-1 4-1 3-2 2-3 3-3 2-2 2-5 3-4 2-5 2-5 1-5 1-7 2-6 1-4 0-3 1-7 0-8 1-5 0-10 1-10 0-9 0-10 0-9 0-9 0-8 0-10 0" stroke="#eedc5a"/><path d="M411 2108l-5-2-4-2-3-2-2-3-1-3 1-3 2-3 3-2 4-2 4-2M306 2043l-4 2-4 3-2 2-2 3-2 3-2 3-1 3-2 3-2 2-2 3-2 2-3 4-2 2-3 3-4 2-5 1-5 2-6 1-7 1-7 1-7 1-6 0-10 1-8 0-9 0-9 0-4 0-5 1-5 0-10 0-10 1-7 0-7 1-7 1-6 1-4 1-8 2-5 1-5 2-5 2-5 1" stroke="#6c9fe0"/><path d="M313 2146l-1 0M161 2130l5-1 4-2 5-2 2-2 6-2 3-3 3-2 0-4-3-3-5-1-5-2-5 0-10-1-9 0-9 0-7 1-7 1-5 2-6 1-4 2M344 2058l-2 2-4 3 1 4 4 3 5 2 5 0 9 0 5-1 6-2" stroke="#f08576"/></g>
<path d="M73 1957V2096" stroke="#c8c8c8" stroke-width="1.2"/>
<path d="M73 1996l6-3 7-2 7-3 6-2 7-3 6-2 7-2 6-3 7-2 7-2 6-2 7-1 6-2 7-1 7-2 6-1 7-2 6-3 7-2 7-3 6-3 7-4 6-4 7-4 6-4 7-3 7-3 6-3 7 2 6 3 7 2 7 2 6 2 7 2 6 1 7 2 6 2 7 2 7 2 6 2 7 2 6 2 7 2 7 3 6 3 7 3 6 3 7 3 7 3 6 3 7 4 6 3 7 3 6 3 7 3 7 3" fill="none" stroke="#a040e0" stroke-width="2.6"/><path class=d d="M211 1955l7-3 6-4 7-3 6-4 7-4 7-4 6-3-6-2-7 3-7 3-6 4-7 4-6 4-7 4-6 3zM224 1954l7-4 6-3 7-4 7-4 6-3 7-4-7-2-6 3-7 4-7 4-6 4-7 3-6 4zM237 1952l7-3 7-4 6-4 7-3-7-2-6 3-7 4-7 4-6 3zM251 1950l6-3 7-4-7-2-6 4-7 4zM145 2015l7-2-7-3-6 2zM152 2019l6-3 7-2 7-3-7-3-7 2-6 3-7 2zM158 2022l7-3 7-2 6-3 7-2-7-3-6 2-7 3-7 2-6 3zM165 2025l7-2 6-3 7-2 6-3 7-2 7-3-7-3-7 3-6 2-7 2-6 3-7 2-7 3zM316 1973l7-3 7-3-7-3-7 3-6 3zM172 2029l6-3 7-2 6-3 7-3 7-2 6-3 7-2-7-3-6 2-7 3-7 2-6 3-7 2-6 3-7 2zM316 1978l7-3 7-3 6-3 7-3 6-3-6-2-7 3-6 3-7 3-7 3-6 3zM178 2032l7-3 6-2 7-3 7-3 6-2 7-3 6-3-6-2-7 2-6 3-7 2-7 3-6 3-7 2-6 3zM323 1981l7-3 6-3 7-3 6-3 7-3 7-3 6-2-6-3-7 3-7 2-6 3-7 3-6 3-7 3-7 3zM185 2035l6-2 7-3 7-3 6-3 7-2 6-3 7-3-7-3-6 3-7 3-6 2-7 3-7 3-6 2-7 3zM330 1983l6-3 7-3 6-2 7-3 7-3 6-3 7-2-7-3-6 2-7 3-7 3-6 3-7 3-6 3-7 3zM191 2038l7-3 7-2 6-3 7-3 6-3 7-2 6-3-6-3-7 3-6 3-7 2-6 3-7 3-7 3-6 2zM336 1986l7-3 6-3 7-3 7-2 6-3 7-3 6-2-6-3-7 2-6 3-7 3-7 3-6 2-7 3-6 3zM205 2038l6-3 7-2 6-3 7-3 6-3 7-3-7-2-6 3-7 2-6 3-7 3-6 3-7 2zM349 1986l7-3 7-3 6-2 7-3 6-3 7-2-7-3-6 2-7 3-6 3-7 2-7 3-6 3zM356 1988l7-2 6-3 7-2 6-3 7-2 7-3-7-3-7 2-6 3-7 3-6 2-7 3-7 3zM369 1989l7-3 6-2 7-3 7-2 6-3-6-3-7 3-7 2-6 3-7 2-6 3zM382 1989l7-2 7-2 6-3 7-2-7-4-6 3-7 2-7 3-6 2zM396 1990l6-2 7-2 6-3-6-3-7 2-6 3-7 2zM409 1991l6-2 7-3-7-3-6 3-7 2zM422 1992l6-3-6-3-7 3zM264 2055l6-3 7-3 7-3-7-2-7 2-6 3-7 3zM270 2057l7-3 7-3 6-2 7-3-7-3-6 3-7 3-7 3-6 3z"/><path class=e d="M257 1930l7-3-7-2-6 3zM198 1961l7-3 6-3-6-2-7 3-7 2zM79 1998l7-2 7-3 6-2 7-3 6-2 7-3 6-2 7-2-7-3-6 3-7 2-6 2-7 3-6 2-7 3-7 2-6 3zM264 1932l6-2-6-3-7 3zM211 1960l7-3 6-3-6-2-7 3-6 3zM264 1938l6-3 7-3-7-2-6 2-7 4zM224 1959l7-3 6-4-6-2-7 4-6 3zM264 1943l6-3 7-3 7-3-7-2-7 3-6 3-7 3zM231 1960l6-3 7-3 7-4-7-1-7 3-6 4-7 3zM244 1959l7-4 6-3 7-4 6-3 7-3 7-4 6-2-6-2-7 3-7 3-6 3-7 4-6 3-7 4-7 3zM257 1957l7-4 6-3 7-4 7-3 6-3-6-2-7 4-7 3-6 3-7 4-6 3zM264 1958l6-3 7-4 7-3 6-3 7-3-7-2-6 3-7 3-7 4-6 3-7 4zM277 1956l7-3 6-3 7-3-7-2-6 3-7 3-7 4zM284 1958l6-4 7-3 6-3-6-1-7 3-6 3-7 3zM284 1962l6-3 7-3 6-3 7-3 6-3-6-1-7 2-6 3-7 3-6 4-7 3zM139 2012l6-2 7-2 6-3-6-2-7 2-6 2-7 3zM277 1970l7-3 6-3 7-3 6-3 7-3 6-3 7-3-7-2-6 3-7 3-6 3-7 3-6 3-7 3-7 3zM152 2013l6-3 7-2 7-2 6-2-6-3-7 2-7 2-6 3-7 2zM270 1978l7-3 7-3 6-3 7-3 6-3 7-3 6-3 7-3 7-3 6-2-6-2-7 2-7 3-6 3-7 3-6 3-7 3-6 3-7 3-7 3-6 3zM172 2011l6-2 7-2 6-2 7-3-7-2-6 2-7 2-6 2-7 2zM270 1982l7-2 7-3 6-3 7-3 6-3 7-3 6-3 7-3 7-3 6-3 7-2-7-2-6 2-7 3-7 3-6 3-7 3-6 3-7 3-6 3-7 3-7 3-6 2zM185 2012l6-2 7-3 7-2 6-2 7-2-7-3-6 2-7 2-7 3-6 2-7 2zM264 1989l6-2 7-3 7-2 6-3 7-3 6-3 7-3 6-3 7-3 7-3 6-3 7-2 6-3-6-2-7 2-6 3-7 3-7 3-6 3-7 3-6 3-7 3-6 3-7 3-7 2-6 3-7 2zM205 2010l6-2 7-3 6-2 7-2 6-2-6-3-7 2-6 3-7 2-6 2-7 2zM330 1967l6-3 7-3 6-3 7-3-7-2-6 3-7 2-6 3-7 3zM218 2011l6-3 7-2 6-3 7-2 7-2 6-3 7-2 6-2 7-3 7-2 6-3 7-3 6-2 7-3 6-3-6-3-7 3-6 3-7 3-6 3-7 2-7 3-6 2-7 3-6 2-7 2-7 3-6 2-7 2-6 2-7 3zM349 1963l7-2 7-3-7-3-7 3-6 3zM224 2013l7-2 6-3 7-2 7-3 6-2 7-2 6-3 7-2 7-2 6-3 7-3 6-2 7-3 6-3-6-2-7 3-6 2-7 3-6 3-7 2-7 3-6 2-7 2-6 3-7 2-7 2-6 3-7 2-6 3zM231 2016l6-3 7-2 7-3 6-2 7-3 6-2 7-2 7-3 6-2 7-3 6-2 7-3 6-3 7-2-7-3-6 3-7 3-6 2-7 3-6 3-7 2-7 2-6 3-7 2-6 2-7 3-7 2-6 3-7 2zM237 2019l7-3 7-3 6-2 7-3 6-2 7-3 7-2 6-2 7-3 6-2 7-3 6-2 7-3 7-3-7-2-7 2-6 3-7 3-6 2-7 3-6 2-7 3-7 2-6 2-7 3-6 2-7 3-7 2-6 3zM244 2021l7-2 6-3 7-3 6-2 7-3 7-2 6-3 7-2 6-2 7-3 6-2 7-3 7-3 6-2-6-3-7 3-7 3-6 2-7 3-6 2-7 3-6 2-7 2-7 3-6 2-7 3-6 2-7 3-7 3zM198 2041l7-3-7-3-7 3zM205 2043l6-2 7-3 6-3 7-3 6-3 7-2 7-3 6-3 7-3 6-2 7-3 7-2 6-3 7-2 6-3 7-2 6-2 7-3 7-3 6-2 7-3 6-2-6-3-7 3-6 2-7 3-7 3-6 2-7 3-6 2-7 2-6 3-7 2-7 3-6 2-7 3-6 3-7 2-7 3-6 3-7 3-6 3-7 2-6 3-7 3zM211 2046l7-3 6-3 7-2 6-3 7-3 7-3 6-3 7-3 6-2 7-3 7-2 6-3 7-2 6-3 7-2 6-3 7-2 7-3 6-2 7-3 6-2 7-3-7-2-6 2-7 3-6 2-7 3-7 3-6 2-7 2-6 3-7 2-6 3-7 2-7 3-6 2-7 3-6 3-7 3-7 2-6 3-7 3-6 3-7 3-6 2zM218 2048l6-3 7-2 6-3 7-3 7-3 6-3 7-2 6-3 7-3 7-2 6-3 7-2 6-3 7-2 6-3 7-2 7-3 6-2 7-3 6-2 7-3 7-2 6-2-6-3-7 2-7 3-6 2-7 3-6 2-7 3-7 2-6 3-7 2-6 3-7 2-6 3-7 2-7 3-6 2-7 3-6 3-7 3-7 3-6 3-7 2-6 3-7 3zM224 2050l7-2 6-3 7-3 7-3 6-2 7-3 6-3 7-3 7-2 6-3 7-2 6-3 7-2 6-3 7-2 7-3 6-2 7-3 6-2 7-3 7-2 6-2 7-2 6-3-6-3-7 3-6 2-7 2-7 3-6 2-7 3-6 2-7 3-7 2-6 3-7 2-6 3-7 2-6 3-7 2-7 3-6 3-7 2-6 3-7 3-7 3-6 3-7 2-6 3zM231 2053l6-3 7-3 7-2 6-3 7-3 6-3 7-3 7-2 6-3 7-3 6-2 7-2 6-3 7-2 7-3 6-2 7-3 6-2 7-3 7-2 6-2 7-2 6-3 7-2 7-2-7-3-7 2-6 3-7 2-6 2-7 2-7 3-6 2-7 3-6 2-7 3-7 2-6 3-7 2-6 3-7 2-6 3-7 2-7 3-6 3-7 3-6 2-7 3-7 3-6 3-7 2zM237 2055l7-2 7-3 6-3 7-3 6-3 7-3 7-2 6-3 7-3 6-2 7-3 6-2 7-2 7-3 6-2 7-3 6-2 7-3 7-2 6-2 7-3 6-2 7-2 7-2 6-2 7-2-7-3-6 2-7 2-7 2-6 3-7 2-6 2-7 2-7 3-6 2-7 3-6 2-7 3-7 2-6 3-7 2-6 2-7 3-6 3-7 2-7 3-6 3-7 3-6 3-7 2-7 3-6 3zM244 2058l7-3 6-3 7-3 6-3 7-2 7-3 6-3 7-3 6-2 7-3 6-2 7-2 7-3 6-2 7-3 6-2 7-3 7-2 6-3 7-2 6-2 7-2 7-2 6-2 7-2 6-2 7-2-7-3-6 2-7 2-6 2-7 2-7 2-6 2-7 3-6 2-7 2-7 3-6 2-7 3-6 2-7 3-7 2-6 2-7 3-6 2-7 3-6 3-7 2-7 3-6 3-7 3-6 3-7 3-7 2zM402 2003l7-2 6-2 7-2 6-2 7-3-7-3-6 3-7 2-6 2-7 2-6 2zM284 2046l6-3 7-3 6-2 7-3 6-2 7-3 7-2 6-2 7-3 6-2 7-3 7-2 6-3 7-2 6-2 7-2 7-2-7-3-7 2-6 2-7 2-6 3-7 2-7 3-6 2-7 3-6 2-7 3-7 2-6 2-7 3-6 2-7 3-6 3-7 3zM251 2060l6-2 7-3-7-3-6 3-7 3zM422 2002l6-2 7-3 7-2-7-3-7 3-6 2-7 2zM297 2046l6-3 7-3 6-2 7-3 7-2 6-2 7-3 6-2 7-3 7-2 6-3 7-2 6-2 7-3 7-2-7-2-7 2-6 2-7 2-6 3-7 2-7 3-6 2-7 3-6 2-7 2-7 3-6 2-7 3-6 2-7 3zM257 2063l7-3 6-3-6-2-7 3-6 2z"/><path class=f d="M178 1967l7-2 6-2 7-2-7-3-6 3-7 2-6 1zM132 1979l7-2 6-2 7-2 6-2-6-2-7 1-6 2-7 2-7 2zM198 1965l7-2 6-3-6-2-7 3-7 2zM86 2000l7-2 6-3 7-2 6-3 7-2 6-3 7-2 7-2 6-2 7-2-7-2-6 2-7 2-7 2-6 2-7 3-6 2-7 3-6 2-7 3-7 2zM211 1964l7-2 6-3-6-2-7 3-6 3zM139 1985l6-2-6-2-7 2zM224 1963l7-3-7-1-6 3zM231 1965l6-3 7-3-7-2-6 3-7 3zM290 1940l7-2-7-2-6 2zM244 1963l7-3 6-3-6-2-7 4-7 3zM297 1942l6-3-6-1-7 2zM251 1964l6-3 7-3-7-1-6 3-7 3zM297 1947l6-3 7-3-7-2-6 3-7 3zM257 1965l7-3 6-3 7-3-7-1-6 3-7 3-6 3zM125 2008l7-3-7-1-6 2zM303 1948l7-2 6-3-6-2-7 3-6 3zM257 1970l7-3 6-3 7-3 7-3-7-2-7 3-6 3-7 3-6 3zM132 2010l7-3 6-2 7-2 6-2-6-2-7 2-6 2-7 2-7 3zM316 1947l7-2-7-2-6 3zM244 1979l7-3 6-2 7-3 6-3 7-3 7-3-7-1-7 3-6 3-7 3-6 2-7 3-7 2zM158 2005l7-2 7-2 6-2 7-2-7-2-6 2-7 2-7 2-6 2zM323 1949l7-2-7-2-7 2zM178 2004l7-2 6-2 7-2 7-2 6-2 7-2 6-2 7-3 6-2 7-2 7-2 6-3 7-2 6-3 7-3-7-2-6 3-7 3-6 2-7 3-7 2-6 2-7 3-6 2-7 2-6 2-7 2-7 2-6 1-7 2-6 2zM198 2002l7-2 6-2 7-2 6-2 7-2 6-2 7-3 7-2 6-2 7-3 6-2-6-2-7 2-6 3-7 2-7 2-6 2-7 3-6 2-7 2-6 2-7 2-7 2zM218 2001l6-3 7-2 6-2 7-2 7-3 6-2 7-2 6-3-6-2-7 3-6 2-7 2-7 3-6 2-7 2-6 2-7 2zM237 1999l7-3 7-2 6-2 7-3-7-2-6 2-7 3-7 2-6 2zM396 2005l6-2-6-3-7 2zM396 2009l6-2 7-2 6-2 7-1-7-3-6 2-7 2-6 2-7 2z"/><path class=g d="M158 1971l7-1 7-2 6-1-6-3-7 2-7 1-6 2zM152 1977l6-2 7-2 7-1 6-2 7-1 6-2 7-2-7-2-6 2-7 2-6 1-7 2-7 1-6 2-7 2zM198 1969l7-2 6-3-6-1-7 2-7 2zM145 1983l7-2 6-2 7-2 7-2 6-1-6-2-7 1-7 2-6 2-7 2-6 2zM93 2001l6-2 7-3 6-2 7-2 6-3 7-2 7-2-7-2-7 2-6 3-7 2-6 3-7 2-6 3-7 2zM211 1968l7-2 6-3-6-1-7 2-6 3zM119 1995l6-2 7-2 7-2 6-2 7-2 6-2 7-2 7-2 6-2-6-2-7 2-7 2-6 2-7 2-6 2-7 2-7 2-6 3-7 2zM99 2003l7-3-7-1-6 2zM224 1967l7-2-7-2-6 3zM152 1988l6-2 7-2 7-1 6-2-6-2-7 2-7 2-6 2-7 2zM231 1968l6-2 7-3-7-1-6 3-7 2zM231 1972l6-2 7-3 7-3-7-1-7 3-6 2-7 3zM178 1988l7-2-7-2-6 2zM119 2006l6-2 7-3-7-1-6 2-7 3zM132 2005l7-2 6-2 7-2 6-2 7-2 7-2 6-1 7-2 6-2 7-2 7-2 6-2 7-2 6-2 7-2 6-3 7-2 7-3 6-3-6-1-7 3-7 3-6 2-7 2-6 2-7 2-6 2-7 2-7 2-6 2-7 2-6 2-7 2-7 1-6 2-7 2-6 2-7 2-7 3zM158 2001l7-2 7-2 6-2 7-2 6-1 7-2 7-2 6-2 7-2 6-2 7-3 6-2 7-2 7-3 6-2-6-2-7 3-7 2-6 3-7 2-6 2-7 2-6 2-7 2-7 2-6 2-7 2-6 1-7 2-7 2-6 2zM185 1997l6-1 7-2 7-2 6-2 7-2 6-2 7-3 6-2 7-2-7-2-6 2-7 3-6 2-7 2-6 2-7 2-7 2-6 1-7 2z"/><path class=h d="M178 1974l7-2 6-2 7-1-7-2-6 2-7 1-6 2zM178 1977l7-1 6-2 7-2 7-2 6-2-6-1-7 2-7 1-6 2-7 2-6 1zM106 2000l6-2 7-3-7-1-6 2-7 3zM178 1981l7-2 6-2 7-2 7-1 6-2 7-3 6-2-6-1-7 2-6 2-7 2-7 2-6 2-7 1-6 2zM106 2004l6-3 7-2 6-2 7-3 7-2 6-2 7-2-7-1-6 2-7 2-7 2-6 2-7 3-6 2-7 3zM112 2005l7-3 6-2 7-2 7-2 6-2 7-2 6-2 7-2 7-2 6-2 7-2 6-1 7-2 7-2 6-2 7-2 6-2 7-3-7-1-6 2-7 3-6 2-7 1-7 2-6 2-7 2-6 2-7 1-7 2-6 2-7 2-6 2-7 2-7 3-6 2-7 2-6 3zM185 1986l6-2 7-2 7-2 6-2 7-2 6-2 7-2-7-1-6 2-7 2-6 2-7 2-7 2-6 1-7 2zM132 2001l7-2 6-2 7-2 6-2 7-1 7-2 6-2-6-2-7 2-7 2-6 2-7 2-6 2-7 2-7 2z"/><path d="M73 1996l6 2 7 2 7 1 6 2 7 1 6 1 7 1 6 2 7 2 7 2 6 3 7 4 6 3 7 3 7 4 6 3 7 3 6 3 7 3 7 2 6 3 7 2 6 2 7 3 6 2 7 3 7 2 6 3 7-3 6-3 7-3 7-3 6-2 7-3 6-3 7-3 6-2 7-3 7-2 6-2 7-3 6-2 7-3 7-2 6-3 7-2 6-2 7-3 7-2 6-2 7-2 6-2 7-1 6-2 7-3 7-2" fill="none" stroke="#a040e0" stroke-width="2.2"/>
<g fill="none" stroke-width="1.8"><path d="M496 2096l185 72 184-72-184-72z" stroke="#c4c4c4" stroke-width="2"/><path d="M681 2168V1957" stroke="#c4c4c4" stroke-width="2"/><path d="M788 2066l-4 2-5 2-4 2-4 2-3 2-4 2-3 3-3 2-3 2-3 3-3 2-2 2-5 3-4 2-4 2-6 1-4 1-11 0-9 0-7-1-6-1-4-2-5-2-3-2-2-2-2-3-1-4 1-5 2-2 4-2 5-2 7-1 6-1 7-1 6-1 3-1 4 0 6-1 6-2 6-1 5-1 6-2 5-2 5-1 4-2" stroke="#6fcfb0"/><path d="M799 2070l-4 2-4 2-4 2-4 2-4 3-3 2-3 2-3 3-2 2-3 3-2 3-2 2-3 3-3 2-4 2-5 2-5 1-7 1-6 1-10 0-9 0-9 0-8 0-6-1-7-1-6-2-4-2-4-2-4-2-2-3-3-2-2-2-2-4-2-2-2-3-3-3-2-2-4-3-3-2-4-2-5-2-5-1-5-2-5-2-5-1-5-2-4-2-5-2M628 2045l4 2 5 2 4 1 5 2 4 2 5 2 4 2 6 1 5 2 4 0 3 1 7 0 9 1 10-1 9-1 4 0 9-2 6-1 4-1 7-2 5-1 4-2" stroke="#72b8ec"/><path d="M808 2074l-4 2-5 2-3 2-4 2-3 2-3 3-3 2-2 3-2 3-1 3-2 3-1 3-1 3-2 3-3 2-4 2-5 2-7 1-7 0-9 0-10 0-9 0-9 0-9 0-10 0-9 0-8 0-4-1-9-1-5-2-3-2-3-2-3-3-2-3-3-2-2-3-2-3-2-2-2-3-2-3-3-3-3-2-3-2-4-3-4-2-4-2-5-1-4-2-5-2-4-2-5-2-5-1M637 2041l4 2 5 2 5 2 4 2 5 1 5 2 6 1 3 1 3 1 6 1 6 0 10 1 9-1 7 0 7-1 3-1 3-1 5-1 5-2 5-1" stroke="#f0ac62"/><path d="M776 2131l-5-2-6-1-5-1-8-1-6-1-9-1-8 0-5 0-3-1-7 0-9 0-3 1-5 0-6 0-9 1-4 1-9 1-5 2-5 1-5 2-4 2-4 2-4 2-3 2-4 3-5 1-4 2M816 2077l-4 2-4 2-4 2-2 2-4 3-2 3-2 2-1 4-1 3 1 6 1 3 1 3 3 3 3 2 4 2M594 2134l5-2 5-2 4-1 4-2 5-2 3-2 4-3 2-2 1-3 1-4-1-4-2-4-1-3-2-2-2-3-2-3-3-3-2-2-3-3-4-2-3-2-4-2-4-2-4-2-5-2-4-2-4-2-5-2M644 2039l5 1 4 2 5 2 5 2 5 1 6 2 6 1 6 1 8 1 9 0 9-1 7-1 6-1 5-2 5-1" stroke="#eedc5a"/><path d="M762 2136l-5-2-5-1-6-1-7-1-7-1-7-1-6 0-9 0-4 0-4 0-7 1-7 1-6 1-6 2-5 1-5 2-4 2-5 2-4 1-4 2-5 2-4 2-5 2M826 2081l-5 1-4 3-3 2-3 2-2 3-1 3 0 4 1 4 2 3 2 2 5 3 4 2M582 2129l4-2 5-2 4-2 4-2 3-2 3-2 2-3 1-3 1-4-1-3-2-4-1-3-2-3-3-3-2-2-3-3-3-2-4-2-3-2-4-2-5-2-4-2-4-2-5-2M651 2036l5 2 4 1 5 2 6 2 5 1 6 1 7 1 3 1 5 0 5 0 4 0 4-1 7-1 5-1 5-2" stroke="#6c9fe0"/><path d="M752 2140l-5-2-6-1-6-1-7-1-4-1-10 0-8 0-5 1-9 1-6 1-6 2-5 1-5 2-5 2-4 2-5 1-4 2-5 2-4 2M837 2085l-4 2-4 2-2 3-1 3 0 4 3 4 3 2 5 2M570 2125l4-2 5-2 3-2 3-3 2-2 3-3 0-4 0-4-2-3-2-3-1-3-3-2-3-3-3-2-4-3-3-2-4-2-4-2-4-2-5-2M658 2033l5 2 5 2 5 1 6 2 6 1 7 1 6 0 8-1 7-1 5-1" stroke="#f08576"/><path d="M742 2144l-5-2-5-1-7-1-6-1-10 0-8 1-6 1-6 1-6 1-5 2-5 2-5 1-5 2-4 2-5 2-4 1M555 2119l5-2 3-2 3-3 2-3 0-5-1-3-2-3-3-2-3-3-3-2-3-3-4-2-4-2-4-2-5-2M667 2030l5 2 5 1 6 1 7 1 9 0 6-1" stroke="#a8a8a8"/><path d="M731 2148l-5-2-6-1-6 0-9 0-7 1-6 1-6 1-3 1-8 2-4 2-5 2-5 1-4 2" stroke="#d08be8"/><path d="M718 2153l-6-1-8 0-7 0-7 1-5 2-6 1-5 2-5 2-4 1" stroke="#6fcfb0"/></g>
<path d="M496 1957V2096" stroke="#c8c8c8" stroke-width="1.2"/>
<path d="M496 1982l7-2 7-3 6-2 7-2 6-2 7-1 6-1 7-1 7-1 6 0 7 0 6 0 7 0 7 0 6-1 7-1 6-2 7-2 7-4 6-4 7-6 6-5 7-6 6-6 7-6 7-5 6-4 7-4 6 3 7 3 7 4 6 4 7 4 6 5 7 5 6 5 7 6 7 6 6 5 7 5 6 4 7 3 7 3 6 1 7 1 6 0 7 0 7 0 6-1 7 0 6 1 7 0 6 2 7 1 7 2 6 3" fill="none" stroke="#a040e0" stroke-width="2.6"/><path class=b d="M641 1950l7-6 6-6 7-6 7-6-7-2-7 6-6 6-7 6-6 5zM654 1947l7-6 7-6 6-6-6-3-7 6-7 6-6 6zM661 1950l7-6 6-6 7-5 6-5-6-4-7 5-6 6-7 6-7 6zM668 1953l6-6 7-6 6-5 7-5-7-3-6 5-7 5-6 6-7 6zM674 1956l7-6 6-5 7-5 7-4 6-4-6-4-7 3-7 5-6 5-7 6-6 6zM674 1964l7-5 6-5 7-5 7-4 6-5 7-3-7-5-6 4-7 4-7 5-6 5-7 6-6 5zM681 1967l6-4 7-5 7-4 6-5 7-4 6-3-6-5-7 3-6 5-7 4-7 5-6 5-7 5zM694 1967l7-5 6-4 7-4 6-3 7-4 6-3-6-5-7 3-6 3-7 4-6 5-7 4-7 5zM701 1971l6-4 7-4 6-4 7-3 6-3 7-3-7-6-6 3-7 4-6 3-7 4-6 4-7 5zM714 1971l6-3 7-3 6-4 7-3 7-2-7-6-7 3-6 3-7 3-6 4-7 4zM733 1970l7-3-7-6-6 4z"/><path class=c d="M668 1926l6-5 7-4-7-2-6 4-7 5zM628 1960l7-5 6-5-6-3-7 6-6 4zM674 1929l7-5 6-4-6-3-7 4-6 5zM635 1962l6-4 7-5 6-6-6-3-7 6-6 5-7 5zM687 1928l7-4 7-3-7-4-7 3-6 4zM641 1964l7-4 6-5 7-5-7-3-6 6-7 5-6 4zM694 1931l7-3 6-3-6-4-7 3-7 4zM648 1967l6-4 7-5 7-5-7-3-7 5-6 5-7 4zM707 1932l7-3-7-4-6 3zM654 1969l7-4 7-4 6-5-6-3-7 5-7 5-6 4zM714 1937l6-3-6-5-7 3zM661 1972l7-4 6-4-6-3-7 4-7 4zM720 1942l7-3-7-5-6 3zM668 1975l6-4 7-4-7-3-6 4-7 4zM674 1978l7-4 6-3 7-4-7-4-6 4-7 4-6 4zM681 1981l6-3 7-4 7-3-7-4-7 4-6 3-7 4zM687 1984l7-2 7-4 6-3 7-4-7-4-6 4-7 3-7 4-6 3zM562 2013l7-3-7-4-6 2zM740 1967l7-3 6-3-6-5-7 2-7 3zM694 1988l7-3 6-3 7-3 6-3 7-3 6-3-6-5-7 3-6 3-7 4-6 3-7 4-7 2zM569 2017l6-3 7-2-7-4-6 2-7 3zM707 1989l7-3 6-3 7-3 6-3 7-3 7-3 6-2 7-3-7-5-6 3-7 3-7 3-6 3-7 3-6 3-7 3-6 3zM575 2021l7-2 7-2 6-2-6-5-7 2-7 2-6 3zM727 1986l6-2 7-3 7-3 6-3 7-2 6-3-6-4-7 3-6 2-7 3-7 3-6 3-7 3zM582 2026l7-2 6-3 7-2-7-4-6 2-7 2-7 2zM589 2031l6-3 7-2 6-3-6-4-7 2-6 3-7 2zM595 2035l7-3 6-2 7-3-7-4-6 3-7 2-6 3zM602 2039l6-3 7-2-7-4-6 2-7 3zM813 2016l6-5 7-4 6-4 7-4-7-3-6 5-7 4-6 4-7 4z"/><path class=d d="M681 1917l6-3-6-3-7 4zM622 1963l6-3-6-3-7 4zM687 1920l7-3-7-3-6 3zM628 1965l7-3-7-2-6 3zM635 1968l6-4-6-2-7 3zM641 1970l7-3-7-3-6 4zM648 1972l6-3-6-2-7 3zM654 1975l7-3-7-3-6 3zM536 1998l6-2-6-3-7 2zM661 1978l7-3-7-3-7 3zM542 2001l7-2-7-3-6 2zM661 1983l7-2 6-3-6-3-7 3-7 2zM549 2005l7-3 6-2-6-3-7 2-7 2zM668 1986l6-2 7-3-7-3-6 3-7 2zM556 2008l6-2 7-2 6-2-6-4-7 2-6 2-7 3zM674 1989l7-2 6-3-6-3-7 3-6 2zM569 2010l6-2 7-2 7-2-7-4-7 2-6 2-7 2zM681 1993l6-2 7-3-7-4-6 3-7 2zM582 2012l7-2 6-2 7-1-7-4-6 1-7 2-7 2zM687 1996l7-2 7-3 6-2-6-4-7 3-7 3-6 2zM595 2015l7-2 6-2-6-4-7 1-6 2zM701 1997l6-2 7-3 6-3 7-3-7-3-6 3-7 3-6 2-7 3zM602 2019l6-2 7-2 7-2-7-4-7 2-6 2-7 2zM714 1997l6-2 7-3 6-2 7-3 7-3 6-3 7-2 6-3 7-3-7-3-6 3-7 2-6 3-7 3-7 3-6 2-7 3-6 3-7 3zM608 2023l7-2 7-2 6-2-6-4-7 2-7 2-6 2zM615 2027l7-2 6-2 7-2-7-4-6 2-7 2-7 2zM615 2034l7-3 6-3 7-2 6-2-6-3-7 2-6 2-7 2-7 3zM608 2042l7-2 7-3 6-3 7-3 6-2-6-3-7 2-6 3-7 3-7 2-6 3zM793 2015l6-4 7-4 7-4 6-4 7-5 6-3-6-2-7 4-6 4-7 4-7 4-6 4-7 4zM793 2020l6-3 7-4 7-4 6-4 7-4 6-5 7-3 6-4-6-2-7 4-6 3-7 5-6 4-7 4-7 4-6 4-7 3zM839 1999l6-4 7-4 7-3-7-2-7 3-6 4-7 3zM793 2026l6-3 7-4 7-3-7-3-7 4-6 3-7 4z"/><path class=e d="M615 1966l7-3-7-2-7 2zM503 1985l7-3 6-2 7-2-7-3-6 2-7 3-7 2zM622 1968l6-3-6-2-7 3zM510 1987l6-2 7-3 6-2-6-2-7 2-6 2-7 3zM628 1970l7-2-7-3-6 3zM516 1990l7-3 6-2 7-2-7-3-6 2-7 3-6 2zM635 1973l6-3-6-2-7 2zM523 1993l6-3 7-2 6-2-6-3-7 2-6 2-7 3zM641 1975l7-3-7-2-6 3zM529 1995l7-2 6-2 7-2 7-2-7-3-7 2-6 2-7 2-6 3zM648 1978l6-3-6-3-7 3zM542 1996l7-2 7-2 6-2-6-3-7 2-7 2-6 2zM648 1982l6-2 7-2-7-3-6 3-7 2zM549 1999l7-2 6-2 7-2 6-1-6-3-7 1-6 2-7 2-7 2zM654 1985l7-2-7-3-6 2zM562 2000l7-2 6-1 7-2-7-3-6 1-7 2-6 2zM654 1990l7-2 7-2-7-3-7 2-6 2zM575 2002l7-2 7-1 6-1-6-4-7 1-7 2-6 1zM661 1993l7-2 6-2-6-3-7 2-7 2zM589 2004l6-1 7-1 6-2-6-3-7 1-6 1-7 1zM661 1998l7-2 6-1 7-2-7-4-6 2-7 2-7 1zM602 2007l6-2 7-1-7-4-6 2-7 1zM668 2001l6-1 7-2 6-2-6-3-7 2-6 1-7 2zM608 2011l7-2 7-1 6-1-6-4-7 1-7 1-6 2zM681 2003l6-2 7-2 7-2-7-3-7 2-6 2-7 2zM622 2013l6-1 7-1-7-4-6 1-7 1zM694 2004l7-2 6-2 7-3-7-2-6 2-7 2-7 2zM628 2017l7-2 6-1-6-3-7 1-6 1zM707 2005l7-3 6-2 7-3 6-2 7-3 7-3 6-3 7-2 6-3 7-3 7-2-7-3-7 3-6 3-7 2-6 3-7 3-7 3-6 2-7 3-6 2-7 3-6 2zM635 2021l6-2 7-2-7-3-6 1-7 2zM720 2005l7-3 6-2 7-3 7-3 6-3-6-2-7 3-7 3-6 2-7 3-6 2zM641 2024l7-2-7-3-6 2zM641 2029l7-3 6-2-6-2-7 2-6 2zM615 2045l7-3 6-3 7-3 6-2 7-3-7-2-6 2-7 3-6 3-7 3-7 2zM780 2012l6-4 7-4 6-4 7-4 7-4-7-1-7 4-6 4-7 4-6 4-7 3zM780 2017l6-4 7-4 6-4 7-4 7-4 6-4 7-4 6-4-6-1-7 4-6 4-7 4-7 4-6 4-7 4-6 4-7 3zM832 1991l7-4 6-3-6-2-7 3-6 4zM780 2021l6-3 7-3-7-2-6 4-7 3zM845 1989l7-3 7-3-7-2-7 3-6 3zM786 2024l7-4-7-2-6 3zM859 1988l6-2-6-3-7 3zM786 2028l7-2-7-2-6 2z"/><path class=f d="M608 1968l7-2-7-3-6 2zM523 1978l6-2 7-2 6-1-6-3-7 1-6 2-7 2zM615 1970l7-2-7-2-7 2zM529 1980l7-2 6-1 7-2-7-2-6 1-7 2-6 2zM622 1972l6-2-6-2-7 2zM536 1983l6-2 7-1 7-2-7-3-7 2-6 1-7 2zM628 1975l7-2-7-3-6 2zM542 1986l7-2 7-2 6-1 7-1-7-3-6 1-7 2-7 1-6 2zM635 1977l6-2-6-2-7 2zM556 1987l6-2 7-1 6-1-6-3-7 1-6 1-7 2zM641 1980l7-2-7-3-6 2zM562 1990l7-1 6-2 7-1-7-3-6 1-7 1-6 2zM641 1984l7-2-7-2-6 1zM575 1992l7-1 7-1 6-1-6-4-7 1-7 1-6 2zM641 1988l7-1 6-2-6-3-7 2-6 1zM582 1995l7-1 6-1 7-1 6 0-6-4-7 1-6 1-7 1-7 1zM635 1993l6-1 7-1 6-1-6-3-7 1-6 1-7 1zM595 1998l7-1 6-1 7-1 7-1-7-3-7 1-6 0-7 1-6 1zM608 2000l7 0 7-1 6-1 7-1 6 0 7-1 6-2 7-1-7-3-6 1-7 1-6 1-7 1-6 0-7 1-7 1-6 1zM615 2004l7-1 6-1 7 0 6-1 7-1 6-1 7-1-7-4-6 2-7 1-6 0-7 1-6 1-7 1-7 0zM628 2007l7-1 6-1 7-1 6-1 7-1 7-1-7-3-7 1-6 1-7 1-6 1-7 0-6 1zM635 2011l6-2 7-1 6 0 7-1 7-1 6-2 7-1-7-3-6 1-7 1-7 1-6 1-7 1-6 1-7 1zM674 2008l7-1 6-1 7-2-7-3-6 2-7 1-6 2zM641 2014l7-1 6-1-6-4-7 1-6 2zM687 2010l7-2 7-1 6-2-6-3-7 2-7 2-6 1zM648 2017l6-1 7-2-7-2-6 1-7 1zM753 1991l7-3 6-3 7-2 7-3 6-3-6-1-7 2-7 3-6 3-7 2-6 3zM707 2009l7-2 6-2-6-3-7 3-6 2zM648 2022l6-2 7-2-7-2-6 1-7 2zM720 2009l7-2 6-3 7-3 7-3 6-3 7-3 6-3-6-1-7 3-6 3-7 3-7 3-6 2-7 3-6 2zM654 2024l7-2-7-2-6 2zM733 2008l7-3 7-2 6-4 7-3-7-1-6 3-7 3-7 3-6 3zM648 2031l6-3 7-2-7-2-6 2-7 3zM622 2046l6-2 7-3 6-3 7-3 6-3-6-1-7 3-6 2-7 3-6 3-7 3zM760 2009l6-4 7-3-7-1-6 3-7 4zM766 2009l7-3 7-4 6-4 7-4-7 0-6 4-7 4-7 3-6 4zM766 2014l7-4 7-3 6-4 7-4 6-4 7-4-7-1-6 4-7 4-6 4-7 4-7 3-6 4zM813 1992l6-4 7-4-7 0-6 3-7 4zM766 2018l7-3 7-3-7-2-7 4-6 3zM832 1985l7-3-7-1-6 3zM773 2020l7-3-7-2-7 3zM845 1984l7-3-7-1-6 2zM773 2024l7-3-7-1-7 2zM780 2026l6-2-6-3-7 3zM780 2030l6-2-6-2-7 2zM681 2046l6-2 7-2 7-2-7-3-7 3-6 2-7 2z"/><path class=g d="M542 1973l7-2-7-2-6 1zM549 1975l7-1 6-1-6-3-7 1-7 2zM556 1978l6-1 7-1-7-3-6 1-7 1zM622 1976l6-1-6-3-7 1zM569 1980l6-1-6-3-7 1zM628 1978l7-1-7-2-6 1zM575 1983l7-1 7-1-7-3-7 1-6 1zM628 1982l7-1 6-1-6-3-7 1-6 1zM582 1986l7-1 6 0 7-1-7-3-6 0-7 1-7 1zM595 1989l7-1 6-1 7 0 7-1 6 0 7-1 6-1-6-3-7 1-6 1-7 0-7 1-6 0-7 1-6 0zM608 1992l7-1 7-1 6 0 7-1 6-1-6-3-7 1-6 0-7 1-7 0-6 1zM622 1994l6 0 7-1-7-3-6 0-7 1zM654 2012l7-1 7-1 6-2-6-2-7 1-7 1-6 0zM661 2014l7-1 6-1 7-1 6-1-6-3-7 1-6 2-7 1-7 1zM687 2013l7-1 7-1 6-2-6-2-7 1-7 2-6 1zM661 2018l7-1 6-1-6-3-7 1-7 2zM766 1989l7-3 7-3-7 0-7 2-6 3zM707 2013l7-2 6-2-6-2-7 2-6 2zM661 2022l7-1-7-3-7 2zM760 1996l6-3 7-3-7-1-6 3-7 3zM720 2013l7-2 6-3-6-1-7 2-6 2zM661 2026l7-2-7-2-7 2zM733 2012l7-3 7-2 6-3 7-4 6-3 7-4-7 0-6 3-7 3-6 4-7 2-7 3-6 3zM654 2032l7-2 7-2-7-2-7 2-6 3zM740 2013l7-2 6-3 7-4 6-3 7-4 7-3-7-1-7 4-6 3-7 4-6 3-7 2-7 3zM773 2002l7-4 6-4 7-4-7 0-6 4-7 3-7 4zM747 2014l6-2 7-3-7-1-6 3-7 2zM793 1994l6-4 7-3-7 0-6 3-7 4zM753 2015l7-2 6-4-6 0-7 3-6 2zM806 1991l7-4 6-3-6-1-7 4-7 3zM760 2017l6-3-6-1-7 2zM826 1984l6-3-6-1-7 4zM760 2020l6-2-6-1-7 2zM839 1982l6-2-6-2-7 3zM766 2022l7-2-7-2-6 2zM766 2026l7-2-7-2-6 2zM773 2028l7-2-7-2-7 2zM773 2032l7-2-7-2-7 1zM701 2040l6-2 7-2-7-2-6 2-7 1z"/><path class=h d="M602 1969l6-1-6-3-7 1zM549 1971l7-1 6 0-6-3-7 1-7 1zM608 1971l7-1-7-2-6 1zM562 1973l7 0-7-3-6 0zM615 1973l7-1-7-2-7 1zM569 1976l6-1-6-2-7 0zM575 1979l7-1 7 0-7-3-7 0-6 1zM622 1979l6-1-6-2-7 1zM589 1981l6 0 7 0-7-3-6 0-7 0zM602 1984l6 0 7-1 7 0 6-1-6-3-7 1-7 0-6 1-7 0zM674 2016l7-1 6-2-6-2-7 1-6 1zM780 1983l6-2 7-3-7-1-6 3-7 3zM668 2021l6-2 7-1 6-1 7-2 7-1 6-1-6-2-7 1-7 1-6 2-7 1-6 1-7 1zM773 1990l7-3 6-3-6-1-7 3-7 3zM707 2016l7-2 6-1-6-2-7 2-6 1zM668 2024l6-2 7-1-7-2-6 2-7 1zM773 1993l7-3 6-3-6 0-7 3-7 3zM720 2016l7-2 6-2-6-1-7 2-6 1zM668 2028l6-3-6-1-7 2zM780 1994l6-4 7-3-7 0-6 3-7 3zM733 2015l7-2-7-1-6 2zM628 2047l7-3 6-3 7-2 6-3 7-3 7-2-7-1-7 2-6 3-7 3-6 3-7 3-6 2zM793 1990l6-3-6 0-7 3zM740 2017l7-3-7-1-7 2zM806 1987l7-4-7 0-7 4zM747 2018l6-3-6-1-7 3zM819 1984l7-4-7 0-6 3zM753 2019l7-2-7-2-6 3zM832 1981l7-3-7 0-6 2zM753 2022l7-2-7-1-6 2zM760 2024l6-2-6-2-7 2zM760 2027l6-1-6-2-7 1zM766 2029l7-1-7-2-6 1zM674 2044l7-2 6-2-6-1-7 2-6 3zM766 2033l7-1-7-3-6 1zM714 2036l6-1-6-2-7 1z"/><path class=i d="M595 1969l7 0-7-3-6 1zM562 1970l7-1-7-2-6 0zM602 1972l6-1-6-2-7 0zM569 1973l6-1-6-3-7 1zM608 1974l7-1-7-2-6 1zM575 1975l7 0 7 0-7-3-7 0-6 1zM589 1978l6 0 7-1 6 0 7 0 7-1-7-3-7 1-6 0-7 1-6 0-7 0zM602 1981l6-1 7 0 7-1-7-2-7 0-6 0-7 1zM786 1984l7-3-7 0-6 2zM681 2021l6-1 7-2 7-1 6-1-6-2-7 1-7 2-6 1-7 1zM786 1987l7-3-7 0-6 3zM714 2017l6-1-6-2-7 2zM674 2025l7-1 6-2-6-1-7 1-6 2zM793 1987l6-4-6 1-7 3zM727 2017l6-2-6-1-7 2zM668 2031l6-3 7-2-7-1-6 3-7 2zM799 1987l7-4-7 0-6 4zM733 2018l7-1-7-2-6 2zM813 1983l6-3-6 0-7 3zM740 2020l7-2-7-1-7 1zM826 1980l6-2-6-1-7 3zM747 2021l6-2-6-1-7 2zM747 2024l6-2-6-1-7 1zM753 2025l7-1-7-2-6 2zM760 2030l6-1-6-2-7 1zM687 2040l7-3 7-1-7-1-7 1-6 3zM720 2035l7-1-7-2-6 1z"/><path class=j d="M569 1969l6 0 7 0 7 0 6 0-6-2-7 0-7 0-6 0-7 0zM575 1972l7 0 7 0 6 0 7 0-7-3-6 0-7 0-7 0-6 0zM589 1975l6 0 7-1 6 0-6-2-7 0-6 0-7 0zM793 1981l6-3-6 0-7 3zM793 1984l6-3-6 0-7 3zM687 2022l7-1 7-1 6-1 7-2-7-1-6 1-7 1-7 2-6 1zM799 1983l7-3-7 1-6 3zM714 2020l6-1 7-2-7-1-6 1-7 2zM681 2026l6-1-6-1-7 1zM806 1983l7-3-7 0-7 3zM727 2020l6-2-6-1-7 2zM641 2044l7-3 6-2 7-3 7-3 6-2 7-2-7-1-6 3-7 2-7 3-6 3-7 2-6 3zM819 1980l7-3-7 0-6 3zM733 2021l7-1-7-2-6 2zM740 2022l7-1-7-1-7 1zM747 2026l6-1-6-1-7 1zM753 2028l7-1-7-2-6 1zM753 2031l7-1-7-2-6 1zM701 2036l6-2 7-1-7-2-6 2-7 2zM753 2033l7 0 6 0-6-3-7 1-6 0zM727 2034l6 0-6-3-7 1z"/><path class=k d="M799 1981l7-3-7 0-6 3zM806 1980l7-2-7 0-7 3zM687 2025l7-2 7-1 6-1 7-1-7-1-6 1-7 1-7 1-6 2zM813 1980l6-3-6 1-7 2zM720 2021l7-1-7-1-6 1zM681 2029l6-2 7-1-7-1-6 1-7 2zM635 2047l6-3-6 0-7 3zM727 2022l6-1-6-1-7 1zM733 2023l7-1-7-1-6 1zM740 2025l7-1-7-2-7 1zM747 2029l6-1-6-2-7 1zM668 2044l6-3 7-2 6-3 7-1-7-1-6 2-7 3-6 2-7 2zM714 2033l6-1-6-2-7 1zM733 2034l7-1 7 0 6 0-6-2-7 0-7 0-6 0z"/><path class=l d="M694 2026l7-2 6-1 7-1 6-1-6-1-7 1-6 1-7 1-7 2zM720 2023l7-1-7-1-6 1zM648 2044l6-3 7-3 7-2 6-3 7-2 6-2 7-2-7 0-6 2-7 2-6 2-7 3-7 3-6 2-7 3zM727 2024l6-1-6-1-7 1zM733 2025l7 0-7-2-6 1zM740 2027l7-1-7-1-7 0zM740 2029l7 0-7-2-7 0zM694 2035l7-2 6-2-6 0-7 1-7 2zM720 2032l7-1 6 0 7 0 7 0 6 0-6-2-7 0-7 0-6 0-7 1-6 0z"/><path class=m d="M694 2027l7-1 6-1 7-1 6-1-6-1-7 1-6 1-7 2-7 1zM641 2046l7-2-7 0-6 3zM720 2025l7-1-7-1-6 1zM668 2037l6-2 7-2 6-2 7-2-7 0-6 2-7 2-6 3-7 2zM727 2026l6-1-6-1-7 1zM733 2027l7 0-7-2-6 1zM661 2043l7-2 6-2 7-3 6-2 7-2-7 0-6 2-7 3-6 2-7 3-7 2zM733 2029l7 0-7-2-6 1zM707 2031l7-1 6 0-6-1-7 1-6 1z"/><path class=n d="M694 2029l7-1 6-1 7-1 6-1-6-1-7 1-6 1-7 1-7 2zM648 2045l6-2 7-3 7-3-7 1-7 3-6 3-7 2zM654 2044l7-2 7-3 6-2 7-3 6-2 7-1 7-2 6-1 7-1 6 0 7-1-7-1-6 1-7 1-6 1-7 1-7 2-6 2-7 2-6 2-7 3-7 3-6 2zM694 2032l7-1 6-1 7-1 6-1 7 0 6-1-6-1-7 1-6 0-7 1-6 1-7 2-7 1zM720 2030l7-1 6 0-6-1-7 0-6 1z"/><path d="M496 1982l7 3 7 2 6 3 7 3 6 2 7 3 6 3 7 4 7 3 6 5 7 4 6 4 7 5 7 5 6 4 7 4 6 3 7 3 7 1 6 1 7 0 6-1 7-1 6-1 7-1 7 1 6 0 7 2 6-2 7-2 7-2 6-2 7-2 6-1 7-1 6 0 7-1 7 0 6 0 7 0 6 0 7-1 7-2 6-2 7-2 6-3 7-4 7-3 6-5 7-4 6-4 7-4 6-4 7-4 7-3 6-2" fill="none" stroke="#a040e0" stroke-width="2.2"/>
<g fill="none" stroke-width="1.8"><path d="M918 2096l184 72 185-72-185-72z" stroke="#c4c4c4" stroke-width="2"/><path d="M1102 2168V1957" stroke="#c4c4c4" stroke-width="2"/><path d="M1178 2054l-5 2-5 1-6 1-7 1-4 0-6-1-1-3 2-3 4-2 4-2 4-2" stroke="#6fcfb0"/><path d="M1190 2058l-5 2-5 2-5 1-5 2-5 2-6 1-5 1-3 1-4 0-7 1-8 1-4 0-7-1-6-1-5-2-4-2-3-2-1-4 3-3 3-2 4-2 4-2 5-2 4-1 5-2 4-2 5-2 5-2" stroke="#72b8ec"/><path d="M1024 2137l5-1 6-2 6-1 5-1 10 0 7 1 5 1 4 2 3 3 1 3 0 4-3 3-4 2-4 2M1197 2061l-4 2-5 2-5 2-4 1-5 2-5 2-4 2-5 1-5 2-5 2-5 1-6 2-6 1-7 1-9 0-9-1-4-1-8-1-6-2-5-1-4-2-5-2-4-2-5-2-4-2-4-2-4-2-4-2-4-2-4-1-5-3-4-1-5-2M1055 2043l5 1 3 1 3 1 8 0 9 0 10 0 6-1 6-2 6-1 6-1 5-2 5-2 5-1" stroke="#f0ac62"/><path d="M1204 2064l-5 2-4 1-5 2-4 2-4 2-4 2-4 2-4 2-3 3-3 2-4 2-3 3-3 2-4 2-5 2-5 1-7 1-7 1-9 0-10 0-8-1-5-1-7-1-5-2-5-1-5-2-4-2-4-2-3-2-4-3-4-2-4-2-4-2-4-2-4-2-3-2-5-2-4-2-5-2-4-1-5-2M1013 2133l5-2 5-2 5-1 4-1 8-2 6-1 8 0 6-1 8 1 6 1 5 2 4 1 4 3 2 2 2 3 1 3 1 3-1 3-2 3-3 3-2 2-4 3-5 1M1084 2032l5 1 9 0 7-1 6-1 5-1" stroke="#eedc5a"/><path d="M1209 2126l-5-2-4-1-5-2-5-2-4-2-6-1-5-2-6-1-5 0-3-1-7 0-9 0-10 0-9 0-7 1-6 2-4 1-3 3-1 3 1 4 1 4 1 3 0 4 0 4-1 3-1 3-2 3-2 3-3 3-3 2-3 2-5 2M1210 2066l-4 2-5 2-4 2-3 2-4 2-3 3-3 2-2 2-2 4 0 4 2 3 2 2 4 3 5 1 6 2 7 0 5 0 4 1 5-1 4 0 5 0 6 0 9-1 8-1 7-1 7 0 6-2 4 0 3-1 6-1M1001 2128l5-1 5-2 4-2 5-2 5-1 5-2 5-2 5-1 4-2 4-2 2-3 1-3-1-3-2-3-2-2-2-2-3-4-2-2-4-3-2-2-3-3-4-2-3-2-3-2-4-3-4-2-5-2-4-1-4-2" stroke="#6c9fe0"/><path d="M1190 2134l-5-2-5-2-5-1-6-1-7-2-7 0-4 0-6 0-7 2-4 2-3 2-3 3-1 3-2 3-1 3-1 5 0 4 1 3 3 2M1217 2069l-4 2-4 2-4 2-3 2-3 3-1 3 0 4 3 3 5 2 5 1 6 1 9 0 10 0 7-1 7-1 6-1 5-1 5-2M981 2121l5-2 4-2 4-2 4-2 3-2 3-3 2-3 1-3 1-3 0-4 0-5-1-3-2-3-2-3-3-2-3-2-4-3-4-2-5-2M941 2087l5 2 4 2 4 2 4 2 4 2 3 2 2 3-1 4-4 4-4 1" stroke="#f08576"/><path d="M1226 2073l-4 1-3 3-3 2 1 4 4 3 7 1 7 0 7-1 6-1 6-2" stroke="#a8a8a8"/></g>
<path d="M918 1957V2096" stroke="#c8c8c8" stroke-width="1.2"/>
<path d="M918 1991l7-3 6-3 7-3 6-4 7-3 7-3 6-3 7-2 6-2 7-2 6-1 7 0 7-1 6-1 7-1 6-1 7-1 7-2 6-3 7-3 6-3 7-3 6-4 7-3 7-3 6-4 7-3 6-2 7 3 7 3 6 4 7 4 6 4 7 5 6 5 7 4 7 3 6 3 7 3 6 1 7 0 7 0 6-1 7-1 6-2 7 0 7 0 6 1 7 2 6 4 7 4 6 4 7 5 7 4 6 4 7 3" fill="none" stroke="#a040e0" stroke-width="2.6"/><path class=c d="M1076 1949l7-4 6-3 7-3 6-3-6-4-7 3-6 4-7 3-7 4zM1083 1952l6-3 7-4 6-3 7-3 7-3 6-2-6-4-7 3-7 3-6 3-7 3-6 3-7 4zM1089 1955l7-3 6-3 7-3 7-3 6-2 7-3-7-4-6 2-7 3-7 3-6 3-7 4-6 3zM1096 1959l6-3 7-3 7-3 6-2 7-3 6-3-6-4-7 3-6 2-7 3-7 3-6 3-7 3zM1109 1960l7-3 6-2 7-3 6-2 7-3-7-5-6 3-7 3-6 2-7 3-7 3zM1122 1961l7-2 6-2 7-3 6-2-6-5-7 3-6 2-7 3-6 2zM1142 1961l6-3 7-2-7-4-6 2-7 3zM997 2022l7-2 6-3-6-4-7 3-7 2zM1004 2027l6-3 7-3 6-2 7-3 7-3-7-3-7 2-6 3-7 2-6 3-7 2zM1010 2031l7-2 6-3 7-3 7-3 6-3 7-3-7-3-6 2-7 3-7 3-6 2-7 3-6 3zM1017 2036l6-3 7-2 7-4 6-3 7-3 6-3-6-4-7 3-6 3-7 3-7 3-6 3-7 2zM1023 2041l7-3 7-3 6-3 7-4 6-3 7-4 6-3-6-3-7 3-6 3-7 3-6 3-7 4-7 2-6 3zM1030 2045l7-3 6-3 7-3 6-4 7-4 6-3 7-4-7-3-6 3-7 4-6 3-7 4-6 3-7 3-7 3zM1037 2049l6-3 7-3 6-4 7-3 6-4 7-5 7-3-7-3-7 4-6 3-7 4-6 4-7 3-6 3-7 3zM1050 2049l6-3 7-4 6-4 7-4 7-4-7-3-7 5-6 4-7 3-6 4-7 3zM1201 1988l7-5 6-4-6-2-7 4-6 4zM1201 1994l7-4 6-4 7-4 7-4 6-3 7-4-7-3-6 4-7 3-7 4-6 4-7 5-6 4zM1201 2001l7-4 6-3 7-4 7-4 6-4 7-3 6-4 7-2-7-4-6 2-7 4-6 3-7 4-7 4-6 4-7 4-6 4zM1208 2004l6-3 7-4 7-3 6-4 7-4 6-3 7-3 6-3-6-4-7 2-6 4-7 3-6 4-7 4-7 4-6 3-7 4zM1221 2004l7-3 6-3 7-4 6-3 7-3 6-3 7-3-7-5-6 3-7 3-6 3-7 4-6 4-7 3-7 4zM1228 2008l6-3 7-4 6-3 7-3 6-3 7-3 7-3-7-4-7 3-6 3-7 3-6 3-7 4-6 3-7 3zM1241 2008l6-3 7-3 6-4 7-3 7-2 6-3-6-4-7 3-7 3-6 3-7 3-6 3-7 4z"/><path class=d d="M1050 1955l6-3 7-3 6-3 7-4 7-3 6-4 7-3 6-3 7-2-7-3-6 2-7 3-6 4-7 3-7 3-6 4-7 3-6 3-7 3zM931 1991l7-3 6-4 7-3 7-3 6-4 7-2-7-3-6 3-7 3-7 3-6 4-7 3-6 3zM1102 1936l7-3 7-3-7-3-7 2-6 3zM1056 1958l7-3 6-3 7-3-7-3-6 3-7 3-6 3zM938 1993l6-3 7-3 7-3 6-4 7-3 6-3-6-2-7 2-6 4-7 3-7 3-6 4-7 3zM1063 1960l6-2 7-3 7-3-7-3-7 3-6 3-7 3zM951 1992l7-3 6-3 7-3 6-3 7-3-7-3-6 3-7 3-6 4-7 3-7 3zM1069 1963l7-2 7-3 6-3-6-3-7 3-7 3-6 2zM958 1995l6-3 7-3 6-3 7-3 6-3-6-3-7 3-6 3-7 3-6 3-7 3zM1076 1966l7-2 6-3 7-2-7-4-6 3-7 3-7 2zM971 1994l6-3 7-3 6-2 7-3-7-3-6 3-7 3-6 3-7 3zM1089 1967l7-2 6-3 7-2-7-4-6 3-7 2-6 3zM984 1994l6-3 7-3-7-2-6 2-7 3zM1102 1968l7-2 7-2 6-3-6-4-7 3-7 2-6 3zM1116 1969l6-2 7-2 6-2 7-2-7-4-6 2-7 2-6 3-7 2zM1135 1968l7-2 6-2 7-2 7-3-7-3-7 2-6 3-7 2-6 2zM1162 1965l6-3-6-3-7 3zM984 2015l6-3 7-2 7-3 6-2 7-2-7-3-6 2-7 2-7 3-6 2-7 3zM990 2018l7-2 7-3 6-2 7-3 6-2 7-2-7-3-6 2-7 2-6 2-7 3-7 2-6 3zM1010 2017l7-2 6-3 7-2 7-3 6-2-6-3-7 2-7 2-6 2-7 3-6 2zM1037 2013l6-2 7-3 6-2-6-3-7 2-6 2-7 3zM1050 2014l6-2 7-3-7-3-6 2-7 3zM1056 2018l7-3 6-3 7-3-7-2-6 2-7 3-6 2zM1069 2018l7-3 7-3-7-3-7 3-6 3zM1076 2021l7-3 6-4-6-2-7 3-7 3zM1083 2024l6-4 7-3-7-3-6 4-7 3zM1083 2030l6-4 7-4 6-3-6-2-7 3-6 4-7 3zM1043 2052l7-3-7-3-6 3zM1181 1993l7-4 7-4 6-4 7-4-7-1-6 4-7 4-7 3-6 4zM1056 2052l7-4 6-3 7-4 7-5 6-4 7-4 6-4-6-2-7 4-6 4-7 4-7 4-6 4-7 4-6 3zM1214 1979l7-4 7-3 6-4-6-2-7 3-7 4-6 4zM1181 1999l7-4 7-3 6-4-6-3-7 4-7 4-6 3zM1076 2046l7-4 6-4 7-4 6-4 7-4-7-2-6 4-7 4-6 4-7 5-7 4zM1241 1971l6-2-6-4-7 3zM1188 2001l7-3 6-4-6-2-7 3-7 4zM1188 2007l7-3 6-3-6-3-7 3-7 3zM1201 2007l7-3-7-3-6 3zM1208 2010l6-3 7-3-7-3-6 3-7 3zM1214 2013l7-3 7-2-7-4-7 3-6 3zM1228 2013l6-2 7-3-7-3-6 3-7 2zM1241 2013l6-3 7-2 6-4 7-3 7-3 6-2 7-3-7-3-6 3-7 2-7 3-6 4-7 3-6 3-7 3zM1116 2057l6-3 7-4 6-3 7-4 6-3-6-2-7 3-6 4-7 3-6 3-7 4z"/><path class=e d="M1043 1957l7-2-7-3-6 3zM971 1972l6-3-6-2-7 2zM925 1993l6-2-6-3-7 3zM1050 1960l6-2-6-3-7 2zM977 1974l7-2 6-2-6-3-7 2-6 3zM931 1996l7-3-7-2-6 2zM1056 1963l7-3-7-2-6 2zM984 1977l6-2 7-2-7-3-6 2-7 2zM938 1998l6-3 7-3-7-2-6 3-7 3zM1063 1965l6-2-6-3-7 3zM990 1980l7-2 7-2-7-3-7 2-6 2zM944 2000l7-2 7-3-7-3-7 3-6 3zM1069 1968l7-2-7-3-6 2zM997 1983l7-2 6-2-6-3-7 2-7 2zM951 2002l7-2 6-3 7-3-7-2-6 3-7 3-7 2zM1076 1971l7-2 6-2-6-3-7 2-7 2zM997 1988l7-2 6-2 7-2-7-3-6 2-7 2-7 3zM958 2004l6-2 7-3 6-3 7-2-7-3-6 3-7 3-6 3-7 2zM1089 1972l7-2 6-2-6-3-7 2-6 2zM964 2007l7-3 6-3 7-2 6-3 7-2 7-3 6-2 7-2 6-1-6-4-7 2-6 2-7 2-7 3-6 3-7 2-6 3-7 3-6 2zM1096 1975l6-2 7-2 7-2-7-3-7 2-6 2-7 2zM971 2009l6-2 7-3 6-3 7-2 7-2 6-3 7-2 6-2 7-1-7-3-6 1-7 2-6 2-7 3-7 2-6 3-7 2-6 3-7 3zM1116 1974l6-2 7-2 6-2-6-3-7 2-6 2-7 2zM977 2012l7-3 6-2 7-3 7-2 6-2 7-3 6-2 7-1 7-2-7-3-7 1-6 2-7 2-6 3-7 2-7 2-6 3-7 3-6 2zM1142 1971l6-2 7-2 7-2-7-3-7 2-6 2-7 2zM1017 2003l6-2 7-2 7-2 6-2 7-2-7-3-6 2-7 2-7 1-6 2-7 3zM1030 2004l7-2 6-2 7-2 6-2-6-3-7 2-6 2-7 2-7 2zM1043 2005l7-2 6-2 7-2-7-3-6 2-7 2-6 2zM1056 2006l7-2 6-2-6-3-7 2-6 2zM1063 2009l6-2 7-3-7-2-6 2-7 2zM1076 2009l7-2-7-3-7 3zM1083 2012l6-3-6-2-7 2zM1089 2014l7-2-7-3-6 3zM1096 2017l6-3-6-2-7 2zM1162 1997l6-3 7-3 6-4 7-3 7-4-7-1-7 3-6 4-7 4-6 3-7 3zM1102 2019l7-3-7-2-6 3zM1208 1977l6-4 7-4-7-1-6 4-7 4zM1168 1999l7-3 6-3-6-2-7 3-6 3zM1102 2024l7-4 7-3-7-1-7 3-6 3zM1050 2055l6-3-6-3-7 3zM1234 1968l7-3-7-2-6 3zM1168 2004l7-2 6-3-6-3-7 3-6 3zM1109 2026l7-4 6-3-6-2-7 3-7 4zM1063 2053l6-3 7-4-7-1-6 3-7 4zM1175 2006l6-2 7-3-7-2-6 3-7 2zM1076 2051l7-4 6-4 7-4 6-4 7-4 7-4 6-3-6-2-7 4-7 4-6 4-7 4-6 4-7 4-7 4zM1181 2009l7-2-7-3-6 2zM1096 2044l6-4 7-4 7-4 6-4 7-3-7-1-6 3-7 4-7 4-6 4-7 4zM1188 2011l7-2 6-2-6-3-7 3-7 2zM1109 2041l7-4 6-4 7-3-7-2-6 4-7 4-7 4zM1195 2014l6-2 7-2-7-3-6 2-7 2zM1116 2042l6-4 7-3 6-4-6-1-7 3-6 4-7 4zM1208 2015l6-2-6-3-7 2zM1116 2046l6-3 7-4 6-3 7-3-7-2-6 4-7 3-6 4-7 3zM1214 2017l7-2 7-2-7-3-7 3-6 2zM1109 2055l7-4 6-3 7-3 6-4 7-3 6-3 7-3-7-2-6 3-7 3-6 3-7 4-6 3-7 4-7 3zM1228 2018l6-2 7-3-7-2-6 2-7 2zM1148 2040l7-3 7-2 6-3-6-2-7 2-7 3-6 3zM1102 2063l7-3 7-3-7-2-7 3-6 2z"/><path class=f d="M1030 1961l7-2 6-2-6-2-7 2-7 1zM977 1969l7-2-7-2-6 2zM1037 1963l6-1 7-2-7-3-6 2-7 2zM990 1970l7-1-7-3-6 1zM1043 1966l7-1 6-2-6-3-7 2-6 1zM997 1973l7-1-7-3-7 1zM1050 1969l6-2 7-2-7-2-6 2-7 1zM1004 1976l6-1 7-1-7-3-6 1-7 1zM1056 1971l7-1 6-2-6-3-7 2-6 2zM1010 1979l7-1 6-1-6-3-7 1-6 1zM1063 1974l6-1 7-2-7-3-6 2-7 1zM1017 1982l6-1 7-1-7-3-6 1-7 1zM1069 1977l7-2 7-1 6-2-6-3-7 2-7 2-6 1zM1023 1986l7-2 7-1 6-1-6-3-7 1-7 1-6 1zM1083 1978l6-2 7-1-7-3-6 2-7 1zM1030 1989l7-2 6-1 7-2 6-1-6-3-7 2-6 1-7 1-7 2zM1089 1980l7-1 6-2 7-1 7-2-7-3-7 2-6 2-7 1-6 2zM1037 1992l6-2 7-1 6-2 7-1-7-3-6 1-7 2-6 1-7 2zM1109 1980l7-2 6-2 7-1 6-2 7-2-7-3-6 2-7 2-6 2-7 2-7 1zM1050 1993l6-1 7-2 6-1 7-2-7-2-6 1-7 1-6 2-7 1zM1148 1973l7-2 7-2 6-2 7-2-7-3-6 3-7 2-7 2-6 2zM1056 1996l7-1 6-2 7-2 7-1-7-3-7 2-6 1-7 2-6 1zM1063 1999l6-2 7-1 7-2 6-2-6-2-7 1-7 2-6 2-7 1zM1069 2002l7-2 7-2 6-2-6-2-7 2-7 1-6 2zM1076 2004l7-2 6-2 7-1-7-3-6 2-7 2-7 2zM1083 2007l6-2 7-2 6-2-6-2-7 1-6 2-7 2zM1089 2009l7-2 6-2-6-2-7 2-6 2zM1148 1994l7-3 7-3-7-1-7 3-6 2zM1096 2012l6-3 7-2-7-2-6 2-7 2zM1142 2000l6-2 7-2 7-3 6-3 7-4 6-4 7-3-7-1-6 4-7 3-6 3-7 3-7 3-6 2-7 3zM1102 2014l7-3 7-2-7-2-7 2-6 3zM1195 1980l6-4 7-4-7-1-6 4-7 4zM1148 2002l7-2 7-3-7-1-7 2-6 2zM1109 2016l7-3 6-3-6-1-7 2-7 3zM1221 1969l7-3-7-1-7 3zM1155 2004l7-2 6-3-6-2-7 3-7 2zM1116 2017l6-2 7-3-7-2-6 3-7 3zM1162 2006l6-2-6-2-7 2zM1122 2019l7-3 6-2-6-2-7 3-6 2zM1056 2056l7-3-7-1-6 3zM1168 2009l7-3-7-2-6 2zM1122 2024l7-3 6-3-6-2-7 3-6 3zM1069 2054l7-3-7-1-6 3zM1175 2011l6-2-6-3-7 3zM1129 2025l6-3 7-2-7-2-6 3-7 3zM1083 2052l6-4 7-4-7-1-6 4-7 4zM1181 2013l7-2-7-2-6 2zM1129 2030l6-3 7-3 6-2-6-2-7 2-6 3-7 3zM1096 2048l6-3 7-4-7-1-6 4-7 4zM1188 2016l7-2-7-3-7 2zM1135 2031l7-3 6-2 7-3-7-1-6 2-7 3-6 3zM1102 2049l7-4 7-3-7-1-7 4-6 3zM1195 2018l6-1 7-2-7-3-6 2-7 2zM1142 2033l6-3 7-2 7-2-7-3-7 3-6 2-7 3zM1102 2053l7-3 7-4-7-1-7 4-6 3zM1201 2021l7-2 6-2-6-2-7 2-6 1zM1155 2032l7-2 6-2-6-2-7 2-7 2zM1096 2060l6-2 7-3-7-2-6 3-7 3zM1214 2022l7-2 7-2-7-3-7 2-6 2zM1168 2032l7-2 6-1-6-3-7 2-6 2z"/><path class=g d="M1023 1962l7-1-7-3-6 1zM984 1967l6-1 7-1-7-3-6 1-7 2zM1030 1965l7-2-7-2-7 1zM997 1969l7-1-7-3-7 1zM1037 1967l6-1-6-3-7 2zM1004 1972l6-1 7-1-7-3-6 1-7 1zM1037 1971l6-1 7-1-7-3-6 1-7 1zM1017 1974l6-1 7-1-7-3-6 1-7 1zM1023 1977l7-1 7-1 6-1 7-1 6-2-6-2-7 1-6 1-7 1-7 1-6 1zM1030 1980l7-1 6-1 7-2 6-1 7-1-7-3-6 2-7 1-6 1-7 1-7 1zM1043 1982l7-2 6-1 7-1 6-1-6-3-7 1-6 1-7 2-6 1zM1056 1983l7-1 6-1 7-2 7-1-7-3-7 2-6 1-7 1-6 1zM1063 1986l6-1 7-2 7-1 6-2-6-2-7 1-7 2-6 1-7 1zM1076 1987l7-1 6-2 7-1 6-2 7-1-7-3-6 2-7 1-6 2-7 1-7 2zM1083 1990l6-2 7-1 6-2 7-1 7-2 6-2 7-1 6-2 7-2 6-2-6-2-7 2-6 2-7 1-6 2-7 2-7 1-6 2-7 1-6 2-7 1zM1175 1968l6-2-6-1-7 2zM1089 1992l7-1 6-2 7-2 7-1 6-2 7-2-7-2-6 2-7 2-7 1-6 2-7 1-6 2zM1089 1996l7-1 6-2 7-2 7-2 6-2 7-1-7-2-6 2-7 1-7 2-6 2-7 1-6 2zM1096 1999l6-2 7-2 7-2 6-2 7-2 6-2-6-1-7 1-6 2-7 2-7 2-6 2-7 1zM1102 2001l7-2 7-2 6-2 7-2 6-2 7-3-7-1-6 2-7 2-6 2-7 2-7 2-6 2zM1102 2005l7-2 7-2 6-2 7-2 6-2 7-3 6-2 7-3 7-3-7-1-7 3-6 2-7 3-6 2-7 2-6 2-7 2-7 2-6 2zM1162 1988l6-3 7-3-7-1-6 3-7 3zM1109 2007l7-2 6-2 7-2 6-2 7-3 6-2-6-2-7 3-6 2-7 2-6 2-7 2-7 2zM1188 1979l7-4-7 0-7 3zM1116 2009l6-2 7-2 6-2 7-3-7-1-6 2-7 2-6 2-7 2zM1208 1972l6-4-6 0-7 3zM1122 2010l7-2 6-2 7-2 6-2-6-2-7 3-6 2-7 2-6 2zM1228 1966l6-3-6-1-7 3zM1129 2012l6-2 7-2 6-2 7-2-7-2-6 2-7 2-6 2-7 2zM1135 2014l7-2 6-2 7-2 7-2-7-2-7 2-6 2-7 2-6 2zM1135 2018l7-2 6-2 7-2 7-2 6-1-6-3-7 2-7 2-6 2-7 2-6 2zM1063 2057l6-3-6-1-7 3zM1142 2020l6-2 7-2 7-2 6-1 7-2-7-2-6 1-7 2-7 2-6 2-7 2zM1076 2055l7-3-7-1-7 3zM1148 2022l7-2 7-2 6-2 7-1 6-2-6-2-7 2-6 1-7 2-7 2-6 2zM1089 2052l7-4-7 0-6 4zM1155 2023l7-1 6-2 7-1 6-2 7-1-7-3-6 2-7 1-6 2-7 2-7 2zM1096 2052l6-3-6-1-7 4zM1162 2026l6-2 7-2 6-1 7-1 7-2-7-2-7 1-6 2-7 1-6 2-7 1zM1096 2056l6-3-6-1-7 4zM1168 2028l7-2 6-1 7-2 7-1 6-1-6-3-7 2-7 1-6 1-7 2-6 2zM1181 2029l7-2 7-1 6-1 7-2 6-1-6-3-7 2-6 1-7 1-7 2-6 1z"/><path class=h d="M997 1965l7-1 6 0 7-1 6-1-6-3-7 1-6 1-7 1-7 0zM1004 1968l6-1 7-1 6 0 7-1-7-3-6 1-7 1-6 0-7 1zM1017 1970l6-1 7-1 7-1-7-2-7 1-6 0-7 1zM1030 1972l7-1-7-3-7 1zM1129 1982l6-2 7-1 6-2 7-2 7-2 6-2 7-3-7-1-6 2-7 2-7 2-6 2-7 2-6 2-7 1zM1129 1986l6-2 7-2-7-2-6 2-7 2zM1135 1987l7-2 6-2-6-1-7 2-6 2zM1142 1988l6-2 7-3-7 0-6 2-7 2zM1162 1984l6-3-6 0-7 2zM1175 1982l6-4-6 0-7 3zM1195 1975l6-4-6 0-7 4zM1214 1968l7-3-7 0-6 3zM1069 2058l7-3-7-1-6 3zM1083 2055l6-3-6 0-7 3zM1089 2056l7-4-7 0-6 3zM1089 2059l7-3-7 0-6 2z"/><path class=i d="M1142 1982l6-2 7-2-7-1-6 2-7 1zM1148 1983l7-3-7 0-6 2zM1155 1983l7-2-7-1-7 3zM1168 1981l7-3-7 0-6 3zM1181 1978l7-3-7 0-6 3zM1201 1971l7-3-7 0-6 3zM1221 1965l7-3-7 0-7 3zM1076 2058l7-3-7 0-7 3zM1083 2058l6-2-6-1-7 3z"/><path class=j d="M1155 1978l7-3 6-2 7-2 6-2 7-3-7 0-6 2-7 3-6 2-7 2-7 2zM1155 1980l7-2-7 0-7 2zM1162 1981l6-3-6 0-7 2zM1175 1978l6-3-6 0-7 3zM1188 1975l7-4-7 1-7 3z"/><path class=k d="M1162 1978l6-2 7-3-7 0-6 2-7 3zM1168 1978l7-3-7 1-6 2zM1181 1975l7-3-7 1-6 2zM1195 1971l6-3-6 1-7 3zM1208 1968l6-3-6 0-7 3z"/><path class=l d="M1175 1973l6-2 7-3 7-2-7 0-7 3-6 2-7 2zM1175 1975l6-2-6 0-7 3zM1214 1965l7-3-7 0-6 3z"/><path class=m d="M1181 1973l7-3-7 1-6 2zM1188 1972l7-3-7 1-7 3zM1201 1968l7-3-7 1-6 3z"/><path class=n d="M1188 1970l7-3 6-2-6 1-7 2-7 3zM1195 1969l6-3 7-2-7 1-6 2-7 3zM1208 1965l6-3-6 2-7 2z"/><path d="M918 1991l7 2 6 3 7 2 6 2 7 2 7 2 6 3 7 2 6 3 7 3 6 3 7 4 7 5 6 4 7 5 6 5 7 4 7 4 6 3 7 3 6 1 7 1 6 1 7 0 7 0 6 1 7 1 6 3 7-3 7-3 6-3 7-4 6-3 7-4 6-3 7-3 7-2 6-3 7-2 6-1 7-2 7-1 6-1 7-2 6-1 7-2 7-2 6-2 7-3 6-3 7-2 6-4 7-3 7-3 6-2 7-3" fill="none" stroke="#a040e0" stroke-width="2.2"/>
<g fill="none" stroke-width="1.8"><path d="M1341 2096l185 72 184-72-184-72z" stroke="#c4c4c4" stroke-width="2"/><path d="M1526 2168V1957" stroke="#c4c4c4" stroke-width="2"/><path d="M1480 2042l3 2 2 3-3 3-6 2-10-1-6-1" stroke="#f08576"/><path d="M1490 2038l4 2 2 2 3 3 0 4-2 4-3 2-5 2-7 1-6 0-8 0-6-1-7-2-5-1" stroke="#a8a8a8"/><path d="M1653 2118l-4-2-3-2-2-3 3-4 4-2 6-1 6-1 8 0 4-1 6 1 8 1M1498 2035l4 2 3 2 3 3 1 3 1 4-2 4-2 3-4 2-4 2-6 1-7 1-9 1-10-1-7-1-6-1-5-2-5-1" stroke="#d08be8"/><path d="M1643 2122l-4-2-4-2-4-2-2-3-2-3 1-3 2-3 3-2 5-2 6-1 5-1 8-1 6-1 8-1 5 0 9-1 6-2 3-1 2 0M1506 2032l4 2 3 2 2 3 2 3 1 3 1 4-1 3-2 5-2 2-3 3-5 1-5 2-6 1-4 0-4 1-6 0-8-1-6 0-9-1-6-1-6-2-5-1-5-2" stroke="#6fcfb0"/><path d="M1636 2125l-5-2-4-2-4-2-3-2-3-3-3-2-2-3 0-5 1-3 3-2 4-2 6-1 4-1 9-2 6 0 8-1 5-1 9-1 6-1 6-2 5-1M1516 2028l4 2 2 3 2 3 1 3 1 3 1 3 0 4 0 5-2 6-2 3-3 2-4 2-5 2-6 1-6 1-10 0-9 0-8-1-4 0-4 0-7-1-6-1-6-1-6-2-5-1-5-2" stroke="#72b8ec"/><path d="M1629 2127l-4-2-4-1-4-2-4-3-4-2-3-2-3-2-3-2-3-4-2-2-1-3-1-3 1-4 3-3 5-2 6-1 9-1 8 0 5 0 3-1 8 0 7-1 6 0 7-2 6-1 5-2M1541 2031l-3 2-2 3-1 3 0 4 1 3 0 4 1 4 0 4 1 3 0 4-1 3-3 3-4 2-6 1-6 1-8 1-6 0-9 0-9 0-4-1-4 0-7 0-8-1-5-1-9-1-6-1-7-1-5-2-5-1-5-2" stroke="#f0ac62"/><path d="M1623 2130l-4-2-5-2-4-2-4-2-4-2-4-2-4-2-3-2-4-3-3-2-3-2-3-3-4-2-3-2-2-2-5-3-4-2-4-2-5-1-4-2-6-2-6-1-6-1-7-1-8-1-6 0-9-1-8 0-5 0-3-1-8 0-8-1-4 0-10-1-8-1-6-1-7-1-7-1-5-1-6-2-5-1M1553 2035l-4 2-2 3-1 3 0 4 1 5 1 3 2 3 2 3 3 2 3 3 4 2 4 1 6 2 5 1 7 1 6 1 7 2 6 1 7 0 7 1 8 1 5 0 9 0 5 0 9-2 5-1M1359 2089l2 3-3 3-3 3-4 2-1 0" stroke="#eedc5a"/><path d="M1617 2132l-5-2-4-1-5-2-4-2-4-2-4-2-5-2-4-2-4-2-4-2-3-2-4-2-4-2-5-2-4-2-4-2-5-2-4-2-5-1-5-2-4-1-7-2-7-1-6-1-7-1-6-1-8-1-5 0-10-1-8 0-4-1-4 0-7 0-10 0-8 0-8 0-6 2-5 1-4 2-4 2-4 3-3 2-4 2-4 2-4 2-5 2-4 2-4 1M1521 2166l7 1M1564 2039l-3 3-2 2-1 4 1 3 2 2 3 3 4 2 5 2 5 1 6 1 4 1 11 1 9 0 9-1 5-1" stroke="#6c9fe0"/><path d="M1610 2135l-5-2-5-2-4-1-5-2-4-2-5-2-4-2-5-2-4-1-5-2-4-2-5-2-4-2-5-1-5-2-4-2-5-2-5-1-5-2-5-2-6-1-6-1-6-1-4-1-9-1-4-1-4 0-8-1-8 0-10 0-8 1-4 1-8 1-6 2-5 1-4 2-5 2-4 2-5 2-4 2-5 1-4 2-5 2M1483 2151l6-1 6-1 7-1 9 0 7 1 7 1 6 1 6 2 5 1 5 2 4 2" stroke="#f08576"/><path d="M1600 2139l-5-2-4-2-5-2-5-1-5-2-5-1-5-2-6-2-5-1-5-2-5-1-5-2-6-1-5-2-5-2-5-1-5-2-5-1-5-2-6-1-6-2-6-1-5 0-11-1-9 0-7 1-7 1-5 1-6 2-5 1-5 2-5 2-5 1-5 2-4 2-5 2M1457 2141l5-2 5-1 6-1 6-1 8-1 4 0 5-1 4 1 6 0 9 1 5 1 7 1 6 2 5 1 5 2 4 2 5 2 5 1 5 2 4 2" stroke="#a8a8a8"/></g>
<path d="M1341 1957V2096" stroke="#c8c8c8" stroke-width="1.2"/>
<path d="M1341 1997l7-3 6-2 7-3 7-3 6-3 7-3 6-3 7-3 6-2 7-2 7 0 6-1 7 1 6 0 7 1 7 1 6 1 7-1 6-1 7-2 7-4 6-5 7-5 6-6 7-6 6-5 7-4 7-3 6 2 7 1 6 1 7 0 7 1 6 0 7 1 6 2 7 2 6 2 7 4 7 3 6 3 7 4 6 3 7 3 7 3 6 3 7 3 6 4 7 4 6 4 7 5 7 5 6 4 7 4 6 4 7 3" fill="none" stroke="#a040e0" stroke-width="2.6"/><path class=b d="M1638 2001l6-3 7-4-7-5-6 4-7 4zM1644 2006l7-4 6-4 7-3-7-5-6 4-7 4-6 3zM1651 2010l6-3 7-4 6-3-6-5-7 3-6 4-7 4zM1657 2015l7-4 6-3 7-4-7-4-6 3-7 4-6 3z"/><path class=c d="M1486 1967l7-5 6-5 7-6 6-5 7-6-7-2-6 5-7 6-6 6-7 5-6 5zM1506 1958l6-6 7-5-7-1-6 5-7 6zM1565 1958l7-4 6-4-6-3-7 4-6 5zM1565 1965l7-4 6-4 7-4 6-4-6-3-7 4-6 4-7 4-6 4zM1565 1971l7-4 6-4 7-3 6-4 7-3-7-4-6 4-7 4-6 4-7 4-6 4zM1572 1974l6-4 7-3 6-4 7-4 7-3-7-3-7 3-6 4-7 3-6 4-7 4zM1578 1977l7-4 6-3 7-4 7-4 6-3-6-3-7 3-7 4-6 4-7 3-6 4zM1585 1980l6-4 7-3 7-4 6-3-6-4-7 4-7 4-6 3-7 4zM1591 1983l7-4 7-3 6-4 7-3-7-3-6 3-7 4-7 3-6 4zM1598 1986l7-4 6-3 7-4 6-3-6-3-7 3-6 4-7 3-7 4zM1605 1989l6-4 7-3 6-4 7-3-7-3-6 3-7 4-6 3-7 4zM1605 1995l6-3 7-3 6-4 7-3 7-4 6-3-6-3-7 3-7 3-6 4-7 3-6 4-7 3zM1611 1999l7-3 6-3 7-4 7-4 6-3 7-3 6-3-6-4-7 3-6 3-7 4-7 3-6 4-7 3-6 3zM1486 2033l7-3-7-3-6 3zM1611 2006l7-3 6-3 7-3 7-4 6-4 7-3 6-3 7-3-7-4-6 3-7 3-6 3-7 4-7 4-6 3-7 3-6 3zM1486 2040l7-3 6-4 7-3 6-3-6-3-7 3-6 3-7 3-6 3zM1651 1994l6-4 7-3 6-3-6-4-7 3-6 3-7 3zM1618 2010l6-3 7-2 7-4-7-4-7 3-6 3-7 3zM1493 2043l6-3 7-3 6-4 7-3-7-3-6 3-7 3-6 4-7 3zM1664 1995l6-3 7-3-7-5-6 3-7 3zM1624 2014l7-2 7-3 6-3-6-5-7 4-7 2-6 3zM1499 2046l7-3 6-3 7-4 7-3 6-4-6-3-7 4-7 3-6 4-7 3-6 3zM1670 2000l7-4 7-2-7-5-7 3-6 3zM1631 2018l7-2 6-2 7-4-7-4-6 3-7 3-7 2zM1506 2050l6-3 7-4 7-4 6-4 7-3-7-3-6 4-7 3-7 4-6 3-7 3zM1677 2004l7-3 6-3-6-4-7 2-7 4zM1644 2021l7-3 6-3-6-5-7 4-6 2zM1512 2053l7-3 7-4 6-4 7-4 6-4-6-2-7 3-6 4-7 4-7 4-6 3zM1651 2025l6-3 7-3 6-3 7-4 7-4 6-3 7-3-7-4-6 3-7 3-7 4-6 3-7 4-6 3-7 3zM1526 2053l6-4 7-4 6-4 7-4-7-3-6 4-7 4-6 4-7 4zM1664 2026l6-3 7-4 7-3 6-4 7-3 6-3-6-4-7 3-6 3-7 4-7 4-6 3-7 3zM1532 2056l7-4 6-4 7-4 7-5 6-4-6-2-7 4-7 4-6 4-7 4-6 4zM1677 2026l7-4 6-3 7-4-7-3-6 4-7 3-7 4zM1539 2058l6-4 7-4 7-4 6-4 7-4-7-3-6 4-7 5-7 4-6 4-7 4z"/><path class=d d="M1519 1940l7-4-7-2-7 4zM1480 1971l6-4-6-2-7 4zM1374 1988l7-3 6-3-6-2-7 3-6 3zM1519 1947l7-5 6-5-6-1-7 4-7 6zM1493 1968l6-4 7-6-7-1-6 5-7 5zM1506 1964l6-5 7-6 7-6 6-5-6 0-7 5-7 5-6 6-7 6zM1545 1959l7-5 7-4 6-5-6-1-7 5-7 5-6 5zM1545 1965l7-4 7-5 6-5 7-4 6-3-6-2-7 3-6 5-7 4-7 5-6 5zM1578 1950l7-4 6-3-6-2-7 3-6 3zM1545 1971l7-4 7-5 6-4-6-2-7 5-7 4-6 4zM1591 1949l7-2-7-4-6 3zM1552 1972l7-3 6-4-6-3-7 5-7 4zM1598 1953l7-3-7-3-7 2zM1552 1978l7-3 6-4-6-2-7 3-7 4zM1605 1956l6-3-6-3-7 3zM1559 1980l6-3 7-3-7-3-6 4-7 3zM1611 1959l7-2-7-4-6 3zM1565 1983l7-3 6-3-6-3-7 3-6 3zM1611 1966l7-4 6-2-6-3-7 2-6 3zM1572 1986l6-3 7-3-7-3-6 3-7 3zM1440 2022l7-2 6-3 7-3 6-2-6-3-7 2-6 3-7 3-7 2zM1618 1969l6-3 7-3-7-3-6 2-7 4zM1578 1988l7-2 6-3-6-3-7 3-6 3zM1447 2025l6-2 7-3 6-3 7-2 7-3-7-3-7 3-6 2-7 3-6 3-7 2zM1624 1972l7-3 7-3-7-3-7 3-6 3zM1585 1991l6-2 7-3-7-3-6 3-7 2zM1453 2028l7-2 6-3 7-3 7-2 6-3 7-3-7-3-6 3-7 3-7 2-6 3-7 3-6 2zM1631 1975l7-3 6-3-6-3-7 3-7 3zM1591 1995l7-3 7-3-7-3-7 3-6 2zM1460 2032l6-3 7-3 7-2 6-3 7-3 6-3 7-3-7-3-6 3-7 3-6 3-7 2-7 3-6 3-7 2zM1644 1975l7-3-7-3-6 3zM1591 2000l7-2 7-3-7-3-7 3-6 2zM1466 2035l7-2 7-3 6-3 7-3 6-3 7-3 6-3-6-3-7 3-6 3-7 3-6 3-7 2-7 3-6 3zM1598 2004l7-2 6-3-6-4-7 3-7 2zM1493 2030l6-3 7-3 6-3 7-3-7-3-6 3-7 3-6 3-7 3zM1473 2039l7-3 6-3-6-3-7 3-7 2zM1605 2007l6-1-6-4-7 2zM1512 2027l7-4 7-3 6-3-6-2-7 3-7 3-6 3zM1480 2042l6-2-6-4-7 3zM1611 2011l7-1-7-4-6 1zM1519 2030l7-4 6-3 7-3-7-3-6 3-7 3-7 4zM1486 2046l7-3-7-3-6 2zM1618 2016l6-2-6-4-7 1zM1532 2029l7-4 6-3-6-2-7 3-6 3zM1493 2049l6-3-6-3-7 3zM1624 2020l7-2-7-4-6 2zM1539 2032l6-4 7-3-7-3-6 3-7 4zM1499 2053l7-3-7-4-6 3zM1638 2023l6-2-6-5-7 2zM1545 2034l7-4 7-3-7-2-7 3-6 4zM1506 2056l6-3-6-3-7 3zM1644 2026l7-1-7-4-6 2zM1552 2037l7-4 6-4-6-2-7 3-7 4zM1512 2059l7-3 7-3-7-3-7 3-6 3zM1657 2028l7-2-7-4-6 3zM1565 2035l7-3-7-3-6 4zM1519 2062l7-3 6-3-6-3-7 3-7 3zM1697 2015l6-3 7-3-7-3-6 3-7 3zM1670 2029l7-3-7-3-6 3zM1572 2038l6-4 7-2-7-3-6 3-7 3zM1526 2064l6-2 7-4-7-2-6 3-7 3z"/><path class=e d="M1526 1936l6-3-6-2-7 3zM1387 1982l7-3 6-2-6-3-7 3-6 3zM1348 1999l6-2 7-3 7-3 6-3-6-2-7 3-7 3-6 2-7 3zM1486 1972l7-4-7-1-6 4zM1368 1996l6-3 7-3 6-3 7-3 6-3 7-2-7-2-6 2-7 3-6 3-7 3-6 3-7 3zM1532 1942l7-4-7-1-6 5zM1499 1969l7-5-7 0-6 4zM1512 1964l7-5 7-6 6-5 7-5-7-1-6 5-7 6-7 6-6 5zM1526 1958l6-5 7-5 6-5-6 0-7 5-6 5-7 6zM1532 1958l7-5 6-5 7-5-7 0-6 5-7 5-6 5zM1532 1963l7-4 6-5 7-5 7-5-7-1-7 5-6 5-7 5-6 5zM1565 1945l7-3-7-2-6 4zM1539 1964l6-5-6 0-7 4zM1578 1944l7-3-7-2-6 3zM1539 1969l6-4-6-1-7 4zM1539 1974l6-3-6-2-7 4zM1545 1976l7-4-7-1-6 3zM1545 1980l7-2-7-2-6 2zM1420 2014l7-2 6-3-6-2-7 2-6 3zM1552 1983l7-3-7-2-7 2zM1427 2017l6-3 7-3 7-2 6-3 7-2 6-3-6-2-7 3-6 2-7 3-7 2-6 3-7 2zM1559 1985l6-2-6-3-7 3zM1433 2019l7-2 7-3 6-3 7-2 6-3 7-2 7-2-7-3-7 2-6 3-7 2-6 3-7 2-7 3-6 3zM1565 1988l7-2-7-3-6 2zM1466 2012l7-3 7-2 6-3 7-2-7-3-6 3-7 2-7 2-6 3zM1572 1991l6-3-6-2-7 2zM1480 2012l6-3 7-2 6-3-6-2-7 2-6 3-7 2zM1578 1994l7-3-7-3-6 3zM1493 2012l6-3 7-2 6-2-6-3-7 2-6 3-7 2zM1578 1998l7-1 6-2-6-4-7 3-6 1zM1506 2012l6-2 7-3-7-2-6 2-7 2zM1585 2001l6-1-6-3-7 1zM1512 2015l7-3 7-2-7-3-7 3-6 2zM1591 2005l7-1-7-4-6 1zM1519 2018l7-3 6-3-6-2-7 2-7 3zM1598 2009l7-2-7-3-7 1zM1532 2017l7-2-7-3-6 3zM1605 2012l6-1-6-4-7 2zM1539 2020l6-3-6-2-7 2zM1611 2016l7 0-7-5-6 1zM1545 2022l7-2-7-3-6 3zM1552 2025l7-3-7-2-7 2zM1631 2024l7-1-7-5-7 2zM1559 2027l6-3-6-2-7 3zM1638 2027l6-1-6-3-7 1zM1565 2029l7-2-7-3-6 3zM1651 2030l6-2-6-3-7 1zM1572 2032l6-3-6-2-7 2zM1664 2031l6-2-6-3-7 2z"/><path class=f d="M1473 1973l7-2-7-2-7 2zM1400 1977l7-2-7-3-6 2zM1532 1937l7-3-7-1-6 3zM1407 1979l7-2-7-2-7 2zM1354 2001l7-3 7-2-7-2-7 3-6 2zM1361 2003l7-3 6-3 7-3 6-2 7-3 6-3 7-3 7-2-7-2-7 2-6 3-7 3-6 3-7 3-6 3-7 2-7 3zM1539 1943l6-4-6-1-7 4zM1506 1969l6-5-6 0-7 5zM1387 1996l7-3 6-3 7-3 7-2-7-2-7 3-6 3-7 3-6 2zM1545 1943l7-4-7 0-6 4zM1519 1964l7-6-7 1-7 5zM1552 1943l7-4-7 0-7 4zM1526 1963l6-5-6 0-7 6zM1559 1944l6-4-6-1-7 4zM1526 1968l6-5-6 0-7 5zM1572 1942l6-3-6-2-7 3zM1532 1968l7-4-7-1-6 5zM1532 1973l7-4-7-1-6 4zM1532 1977l7-3-7-1-6 3zM1539 1978l6-2-6-2-7 3zM1414 2012l6-3 7-2 6-3 7-2 7-2 6-3-6-2-7 3-7 2-6 3-7 2-6 3-7 2zM1539 1983l6-3-6-2-7 3zM1433 2009l7-2 7-3 6-2 7-3 6-2 7-2-7-2-6 2-7 2-6 3-7 2-7 2-6 3zM1545 1985l7-2-7-3-6 3zM1466 2001l7-2 7-2-7-2-7 2-6 2zM1552 1987l7-2-7-2-7 2zM1480 2002l6-3 7-1-7-3-6 2-7 2zM1559 1990l6-2-6-3-7 2zM1493 2002l6-2 7-2-7-2-6 2-7 1zM1565 1992l7-1-7-3-6 2zM1499 2004l7-2 6-1-6-3-7 2-6 2zM1565 1996l7-1 6-1-6-3-7 1-6 2zM1512 2005l7-2-7-2-6 1zM1572 1999l6-1-6-3-7 1zM1519 2007l7-1-7-3-7 2zM1578 2003l7-2-7-3-6 1zM1526 2010l6-2-6-2-7 1zM1585 2006l6-1-6-4-7 2zM1532 2012l7-2-7-2-6 2zM1591 2009l7 0-7-4-6 1zM1539 2015l6-2-6-3-7 2zM1598 2013l7-1-7-3-7 0zM1545 2017l7-2-7-2-6 2zM1552 2020l7-2-7-3-7 2zM1618 2020l6 0-6-4-7 0zM1559 2022l6-2-6-2-7 2zM1624 2024l7 0-7-4-6 0zM1565 2024l7-2-7-2-6 2zM1572 2027l6-2-6-3-7 2zM1644 2031l7-1-7-4-6 1zM1578 2029l7-2-7-2-6 2zM1657 2033l7-2-7-3-6 2zM1585 2032l6-2-6-3-7 2z"/><path class=g d="M1407 1975l7-2-7-3-7 2zM1480 1975l6-3-6-1-7 2zM1414 1977l6-2-6-2-7 2zM1539 1938l6-3-6-1-7 3zM1493 1972l6-3-6-1-7 4zM1414 1981l6-2-6-2-7 2zM1414 1985l6-3 7-2-7-1-6 2-7 2zM1368 2004l6-3 7-3 6-2-6-2-7 3-6 3-7 3zM1512 1968l7-4-7 0-6 5zM1381 2002l6-3 7-2 6-3 7-3 7-2 6-3 7-2-7-2-6 3-7 2-7 3-6 3-7 3-6 2-7 3zM1519 1968l7-5-7 1-7 4zM1400 1998l7-3 7-3 6-2 7-3 6-2-6-1-7 2-6 3-7 2-7 3-6 3zM1565 1940l7-3-7-1-6 3zM1407 1999l7-3 6-2 7-3 6-2-6-2-7 3-6 2-7 3-7 3zM1526 1972l6-4-6 0-7 4zM1400 2005l7-3 7-2 6-3 7-2 6-3 7-2-7-1-6 2-7 3-6 2-7 3-7 2-6 3zM1526 1976l6-3-6-1-7 3zM1400 2009l7-3 7-2 6-3 7-2 6-3 7-2 7-2 6-3-6-1-7 2-7 2-6 3-7 2-6 3-7 2-7 3-6 2zM1407 2010l7-2 6-3 7-2 6-3 7-2 7-3 6-2 7-2-7-2-6 3-7 2-7 2-6 3-7 2-6 3-7 2-7 3zM1532 1981l7-3-7-1-6 2zM1453 1997l7-2 6-2 7-2-7-2-6 2-7 2-6 2zM1473 1995l7-2 6-2-6-2-7 2-7 2zM1539 1986l6-1-6-2-7 1zM1480 1997l6-2 7-1-7-3-6 2-7 2zM1545 1989l7-2-7-2-6 1zM1493 1998l6-2 7-2-7-2-6 2-7 1zM1552 1991l7-1-7-3-7 2zM1506 1998l6-1-6-3-7 2zM1552 1995l7-1 6-2-6-2-7 1-7 1zM1512 2001l7-2-7-2-6 1zM1559 1997l6-1-6-2-7 1zM1519 2003l7-1 6-2-6-2-7 1-7 2zM1565 2000l7-1-7-3-6 1zM1526 2006l6-2 7-1-7-3-6 2-7 1zM1572 2003l6 0-6-4-7 1zM1532 2008l7-1 6-2-6-2-7 1-6 2zM1578 2006l7 0-7-3-6 0zM1539 2010l6-1-6-2-7 1zM1585 2010l6-1-6-3-7 0zM1545 2013l7-2-7-2-6 1zM1552 2015l7-1-7-3-7 2zM1605 2016l6 0-6-4-7 1zM1559 2018l6-2-6-2-7 1zM1611 2020l7 0-7-4-6 0zM1565 2020l7-2-7-2-6 2zM1572 2022l6-1-6-3-7 2zM1631 2028l7-1-7-3-7 0zM1578 2025l7-2-7-2-6 1zM1585 2027l6-1-6-3-7 2zM1651 2034l6-1-6-3-7 1zM1591 2030l7-2-7-2-6 1z"/><path class=h d="M1466 1975l7-2-7-2-6 1zM1414 1973l6-1-6-2-7 0zM1420 1979l7-2-7-2-6 2zM1545 1939l7-4-7 0-6 3zM1499 1972l7-3-7 0-6 3zM1427 1980l6-1-6-2-7 2zM1552 1939l7-3-7-1-7 4zM1506 1972l6-4-6 1-7 3zM1427 1984l6-2-6-2-7 2zM1374 2005l7-3-7-1-6 3zM1559 1939l6-3-6 0-7 3zM1512 1972l7-4-7 0-6 4zM1433 1985l7-2-7-1-6 2zM1381 2006l6-3 7-3 6-2-6-1-7 2-6 3-7 3zM1519 1972l7-4-7 0-7 4zM1433 1989l7-2 7-2-7-2-7 2-6 2zM1387 2006l7-2 6-3 7-2-7-1-6 2-7 3-6 3zM1519 1975l7-3-7 0-7 3zM1440 1990l7-2 6-2-6-1-7 2-7 2zM1394 2007l6-2-6-1-7 2zM1453 1989l7-1-7-2-6 2zM1526 1979l6-2-6-1-7 2zM1460 1991l6-2 7-1-7-2-6 2-7 1zM1526 1982l6-1-6-2-7 2zM1473 1991l7-2-7-1-7 1zM1532 1984l7-1-7-2-6 1zM1486 1991l7-1-7-2-6 1zM1532 1987l7-1-7-2-6 1zM1493 1994l6-2 7-1-7-2-6 1-7 1zM1539 1990l6-1-6-3-7 1zM1506 1994l6-1-6-2-7 1zM1539 1993l6-1 7-1-7-2-6 1-7 1zM1512 1997l7-1 7-1-7-3-7 1-6 1zM1519 1999l7-1 6-1 7-1 6 0 7-1-7-3-6 1-7 1-6 1-7 1-7 1zM1532 2000l7 0 6-1 7-1 7-1-7-2-7 1-6 0-7 1-6 1zM1539 2003l6-1 7-1 7 0 6-1-6-3-7 1-7 1-6 1-7 0zM1545 2005l7 0 7-1 6 0 7-1-7-3-6 1-7 0-7 1-6 1zM1572 2007l6-1-6-3-7 1zM1545 2009l7-1 7-1-7-2-7 0-6 2zM1578 2010l7 0-7-4-6 1zM1552 2011l7-1-7-2-7 1zM1591 2013l7 0-7-4-6 1zM1559 2014l6-1-6-3-7 1zM1598 2016l7 0-7-3-7 0zM1565 2016l7-1-7-2-6 1zM1618 2024l6 0-6-4-7 0zM1638 2031l6 0-6-4-7 1z"/><path class=i d="M1420 1975l7-1-7-2-6 1zM1486 1975l7-3-7 0-6 3zM1427 1977l6-1-6-2-7 1zM1433 1982l7-2-7-1-6 1zM1440 1983l7-1-7-2-7 2zM1447 1985l6-2-6-1-7 1zM1453 1986l7-2-7-1-6 2zM1519 1978l7-2-7-1-7 2zM1460 1988l6-2-6-2-7 2zM1519 1981l7-2-7-1-7 2zM1473 1988l7-2-7-1-7 1zM1480 1989l6-1 7-1-7-2-6 1-7 2zM1526 1985l6-1-6-2-7 2zM1493 1990l6-1 7-1-7-2-6 1-7 1zM1506 1991l6-1 7-1 7-1 6-1-6-2-7 1-7 1-6 1-7 1zM1512 1993l7-1 7-1 6 0 7-1-7-3-6 1-7 1-7 1-6 1zM1526 1995l6-1 7-1-7-2-6 0-7 1zM1559 2007l6 0 7 0-7-3-6 0-7 1zM1559 2010l6 0 7 0 6 0-6-3-7 0-6 0-7 1zM1585 2013l6 0-6-3-7 0zM1565 2013l7-1-7-2-6 0zM1591 2016l7 0-7-3-6 0zM1572 2015l6 0-6-3-7 1zM1605 2020l6 0-6-4-7 0zM1572 2018l6 0-6-3-7 1zM1578 2021l7-1-7-2-6 0zM1624 2027l7 1-7-4-6 0zM1585 2023l6 0-6-3-7 1zM1591 2026l7-1-7-2-6 0zM1598 2028l7 0-7-3-7 1z"/><path class=j d="M1420 1972l7 0-7-3-6 1zM1473 1976l7-1-7-2-7 2zM1493 1975l6-3-6 0-7 3zM1433 1979l7-1-7-2-6 1zM1440 1980l7-1-7-1-7 1zM1506 1975l6-3-6 0-7 3zM1447 1982l6-2-6-1-7 1zM1512 1975l7-3-7 0-6 3zM1453 1983l7-1-7-2-6 2zM1460 1984l6-1-6-1-7 1zM1466 1986l7-1-7-2-6 1zM1480 1986l6-1-6-1-7 1zM1519 1984l7-2-7-1-7 1zM1493 1987l6-1-6-2-7 1zM1506 1988l6-1 7-1 7-1-7-1-7 0-6 1-7 1zM1572 2012l6 0 7 1-7-3-6 0-7 0zM1578 2015l7 0 6 1-6-3-7-1-6 0zM1598 2019l7 1-7-4-7 0zM1578 2018l7 0-7-3-6 0zM1611 2023l7 1-7-4-6 0zM1644 2034l7 0-7-3-6 0z"/><path class=k d="M1460 1975l6 0-6-3-7 1zM1427 1974l6 0-6-2-7 0zM1499 1975l7-3-7 0-6 3zM1512 1977l7-2-7 0-6 2zM1466 1983l7-1-7-1-6 1zM1512 1980l7-2-7-1-6 2zM1473 1985l7-1-7-2-7 1zM1512 1982l7-1-7-1-6 1zM1486 1985l7-1-7-1-6 1zM1499 1986l7-1 6-1 7 0-7-2-6 1-7 1-6 0zM1585 2018l6 0 7 1-7-3-6-1-7 0zM1605 2022l6 1-6-3-7-1zM1585 2020l6 0-6-2-7 0zM1618 2026l6 1-6-3-7-1zM1591 2023l7 0-7-3-6 0zM1631 2030l7 1-7-3-7-1zM1598 2025l7 1-7-3-7 0z"/><path class=l d="M1427 1972l6 0-6-2-7-1zM1480 1977l6-2-6 0-7 1zM1433 1976l7-1-7-1-6 0zM1440 1978l7-1-7-2-7 1zM1447 1979l6-1-6-1-7 1zM1453 1980l7 0-7-2-6 1zM1506 1977l6-2-6 0-7 2zM1460 1982l6-1-6-1-7 0zM1506 1981l6-1-6-1-7 1zM1480 1984l6-1-6-1-7 0zM1493 1984l6 0 7-1 6-1-6-1-7 1-6 0-7 1zM1591 2020l7 1 7 1-7-3-7-1-6 0zM1638 2033l6 1-6-3-7-1zM1605 2028l6 0-6-2-7-1z"/><path class=m d="M1453 1974l7 1-7-2-6-1zM1466 1976l7 0-7-1-6 0zM1433 1974l7 0-7-2-6 0zM1486 1977l7-2-7 0-6 2zM1499 1977l7-2-7 0-6 2zM1506 1979l6-2-6 0-7 1zM1473 1982l7 0-7-2-7 1zM1486 1983l7-1 6 0 7-1-7-1-6 1-7 0-6 1zM1598 2023l7 1 6 1 7 1-7-3-6-1-7-1-7-1zM1624 2029l7 1-7-3-6-1zM1605 2026l6 1-6-3-7-1z"/><path class=n d="M1433 1972l7 1 7 1 6 0-6-2-7-1-7-1-6 0zM1440 1974l7 1 6 0 7 1 6 0-6-1-7-1-6 0-7-1-7-1zM1440 1975l7 1 6 0 7 1 6 0 7 0 7 0-7-1-7 0-6 0-7-1-6 0-7-1-7 0zM1447 1977l6 0 7 0 6 1 7 0 7 0 6-1-6 0-7 0-7 0-6 0-7-1-6 0-7-1zM1453 1978l7 0 6 0 7 0 7 0 6 0 7-1 6-2-6 0-7 2-6 1-7 0-7 0-6-1-7 0-6 0zM1460 1980l6-1 7 0 7 0 6 0 7-1 6-1-6 0-7 1-6 0-7 0-7 0-6 0-7 0zM1466 1981l7-1 7 0 6 0 7-1 6-1 7-1-7 0-6 1-7 1-6 0-7 0-7 0-6 1zM1480 1982l6-1 7 0 6-1 7-1-7-1-6 1-7 1-6 0-7 0zM1611 2027l7 1 6 1-6-3-7-1-6-1zM1611 2028l7 1 6 1 7 2 7 1-7-3-7-1-6-1-7-1-6-1z"/><path d="M1341 1997l7 2 6 2 7 2 7 1 6 1 7 1 6 0 7 1 6 2 7 1 7 2 6 2 7 3 6 2 7 3 7 3 6 3 7 4 6 3 7 4 7 3 6 4 7 3 6 4 7 3 6 3 7 3 7 2 6-2 7-4 6-4 7-4 7-4 6-4 7-4 6-4 7-2 6-2 7-2 7 0 6 0 7 1 6 1 7 2 7 1 6 1 7 0 6-1 7-2 6-2 7-3 7-4 6-3 7-4 6-3 7-3" fill="none" stroke="#a040e0" stroke-width="2.2"/>
</g></svg>
<div class="zt" style="right:426.1px;top:52.8px">100</div><div class="zt" style="right:426.1px;top:58.0px">80</div><div class="zt" style="right:426.1px;top:63.1px">60</div><div class="zt" style="right:426.1px;top:68.3px">40</div><div class="zt" style="right:426.1px;top:73.5px">20</div><div class="fl" style="right:381.2px;top:103.8px">0</div><div class="fl" style="right:387.4px;top:99.9px">1/ 4π</div><div class="fl" style="right:398.9px;top:95.5px">1/ 2π</div><div class="fl" style="right:410.5px;top:91.0px">3/ 4π</div><div class="fl" style="right:427.1px;top:86.7px">π</div><div class="fl" style="left:69.6px;top:103.8px">0</div><div class="fl" style="left:77.4px;top:99.9px">1/ 4π</div><div class="fl" style="left:88.9px;top:95.5px">1/ 2π</div><div class="fl" style="left:100.5px;top:91.0px">3/ 4π</div><div class="fl" style="left:115.7px;top:86.5px">π</div><div class="ax" style="left:25.5px;top:98.2px">Φ</div><div class="ax" style="left:99.6px;top:97.4px">Θ</div>
<div class="zt" style="right:320.2px;top:52.8px">100</div><div class="zt" style="right:320.2px;top:58.0px">80</div><div class="zt" style="right:320.2px;top:63.1px">60</div><div class="zt" style="right:320.2px;top:68.3px">40</div><div class="zt" style="right:320.2px;top:73.5px">20</div><div class="fl" style="right:275.3px;top:103.8px">0</div><div class="fl" style="right:281.5px;top:99.9px">1/ 4π</div><div class="fl" style="right:293.1px;top:95.5px">1/ 2π</div><div class="fl" style="right:304.6px;top:91.0px">3/ 4π</div><div class="fl" style="left:175.5px;top:103.8px">0</div><div class="fl" style="left:183.3px;top:99.9px">1/ 4π</div><div class="fl" style="left:194.8px;top:95.5px">1/ 2π</div><div class="fl" style="left:206.4px;top:91.0px">3/ 4π</div><div class="fl" style="left:221.6px;top:86.5px">π</div><div class="ax" style="left:131.4px;top:98.2px">Φ</div><div class="ax" style="left:205.5px;top:97.4px">Θ</div>
<div class="zt" style="right:214.8px;top:52.8px">100</div><div class="zt" style="right:214.8px;top:58.0px">80</div><div class="zt" style="right:214.8px;top:63.1px">60</div><div class="zt" style="right:214.8px;top:68.3px">40</div><div class="zt" style="right:214.8px;top:73.5px">20</div><div class="fl" style="right:169.9px;top:103.8px">0</div><div class="fl" style="right:176.1px;top:99.9px">1/ 4π</div><div class="fl" style="right:187.6px;top:95.5px">1/ 2π</div><div class="fl" style="right:199.2px;top:91.0px">3/ 4π</div><div class="fl" style="left:280.9px;top:103.8px">0</div><div class="fl" style="left:288.7px;top:99.9px">1/ 4π</div><div class="fl" style="left:300.3px;top:95.5px">1/ 2π</div><div class="fl" style="left:311.8px;top:91.0px">3/ 4π</div><div class="fl" style="left:327.0px;top:86.5px">π</div><div class="ax" style="left:236.8px;top:98.2px">Φ</div><div class="ax" style="left:310.9px;top:97.4px">Θ</div>
<div class="zt" style="right:109.0px;top:52.8px">100</div><div class="zt" style="right:109.0px;top:58.0px">80</div><div class="zt" style="right:109.0px;top:63.1px">60</div><div class="zt" style="right:109.0px;top:68.3px">40</div><div class="zt" style="right:109.0px;top:73.5px">20</div><div class="fl" style="right:64.1px;top:103.8px">0</div><div class="fl" style="right:70.3px;top:99.9px">1/ 4π</div><div class="fl" style="right:81.8px;top:95.5px">1/ 2π</div><div class="fl" style="right:93.4px;top:91.0px">3/ 4π</div><div class="fl" style="left:386.7px;top:103.8px">0</div><div class="fl" style="left:394.5px;top:99.9px">1/ 4π</div><div class="fl" style="left:406.1px;top:95.5px">1/ 2π</div><div class="fl" style="left:417.6px;top:91.0px">3/ 4π</div><div class="fl" style="left:432.8px;top:86.5px">π</div><div class="ax" style="left:342.6px;top:98.2px">Φ</div><div class="ax" style="left:416.7px;top:97.4px">Θ</div>
<div class="zt" style="right:426.1px;top:131.4px">100</div><div class="zt" style="right:426.1px;top:136.6px">80</div><div class="zt" style="right:426.1px;top:141.7px">60</div><div class="zt" style="right:426.1px;top:146.9px">40</div><div class="zt" style="right:426.1px;top:152.1px">20</div><div class="fl" style="right:381.2px;top:182.4px">0</div><div class="fl" style="right:387.4px;top:178.5px">1/ 4π</div><div class="fl" style="right:398.9px;top:174.1px">1/ 2π</div><div class="fl" style="right:410.5px;top:169.6px">3/ 4π</div><div class="fl" style="right:427.1px;top:165.3px">π</div><div class="fl" style="left:69.6px;top:182.4px">0</div><div class="fl" style="left:77.4px;top:178.5px">1/ 4π</div><div class="fl" style="left:88.9px;top:174.1px">1/ 2π</div><div class="fl" style="left:100.5px;top:169.6px">3/ 4π</div><div class="fl" style="left:115.7px;top:165.1px">π</div><div class="ax" style="left:25.5px;top:176.8px">Φ</div><div class="ax" style="left:99.6px;top:176.0px">Θ</div>
<div class="zt" style="right:320.2px;top:131.4px">100</div><div class="zt" style="right:320.2px;top:136.6px">80</div><div class="zt" style="right:320.2px;top:141.7px">60</div><div class="zt" style="right:320.2px;top:146.9px">40</div><div class="zt" style="right:320.2px;top:152.1px">20</div><div class="fl" style="right:275.3px;top:182.4px">0</div><div class="fl" style="right:281.5px;top:178.5px">1/ 4π</div><div class="fl" style="right:293.1px;top:174.1px">1/ 2π</div><div class="fl" style="right:304.6px;top:169.6px">3/ 4π</div><div class="fl" style="left:175.5px;top:182.4px">0</div><div class="fl" style="left:183.3px;top:178.5px">1/ 4π</div><div class="fl" style="left:194.8px;top:174.1px">1/ 2π</div><div class="fl" style="left:206.4px;top:169.6px">3/ 4π</div><div class="fl" style="left:221.6px;top:165.1px">π</div><div class="ax" style="left:131.4px;top:176.8px">Φ</div><div class="ax" style="left:205.5px;top:176.0px">Θ</div>
<div class="zt" style="right:214.8px;top:131.4px">100</div><div class="zt" style="right:214.8px;top:136.6px">80</div><div class="zt" style="right:214.8px;top:141.7px">60</div><div class="zt" style="right:214.8px;top:146.9px">40</div><div class="zt" style="right:214.8px;top:152.1px">20</div><div class="fl" style="right:169.9px;top:182.4px">0</div><div class="fl" style="right:176.1px;top:178.5px">1/ 4π</div><div class="fl" style="right:187.6px;top:174.1px">1/ 2π</div><div class="fl" style="right:199.2px;top:169.6px">3/ 4π</div><div class="fl" style="left:280.9px;top:182.4px">0</div><div class="fl" style="left:288.7px;top:178.5px">1/ 4π</div><div class="fl" style="left:300.3px;top:174.1px">1/ 2π</div><div class="fl" style="left:311.8px;top:169.6px">3/ 4π</div><div class="fl" style="left:327.0px;top:165.1px">π</div><div class="ax" style="left:236.8px;top:176.8px">Φ</div><div class="ax" style="left:310.9px;top:176.0px">Θ</div>
<div class="zt" style="right:109.0px;top:131.4px">100</div><div class="zt" style="right:109.0px;top:136.6px">80</div><div class="zt" style="right:109.0px;top:141.7px">60</div><div class="zt" style="right:109.0px;top:146.9px">40</div><div class="zt" style="right:109.0px;top:152.1px">20</div><div class="fl" style="right:64.1px;top:182.4px">0</div><div class="fl" style="right:70.3px;top:178.5px">1/ 4π</div><div class="fl" style="right:81.8px;top:174.1px">1/ 2π</div><div class="fl" style="right:93.4px;top:169.6px">3/ 4π</div><div class="fl" style="left:386.7px;top:182.4px">0</div><div class="fl" style="left:394.5px;top:178.5px">1/ 4π</div><div class="fl" style="left:406.1px;top:174.1px">1/ 2π</div><div class="fl" style="left:417.6px;top:169.6px">3/ 4π</div><div class="fl" style="left:432.8px;top:165.1px">π</div><div class="ax" style="left:342.6px;top:176.8px">Φ</div><div class="ax" style="left:416.7px;top:176.0px">Θ</div>
<div class="zt" style="right:426.1px;top:206.6px">100</div><div class="zt" style="right:426.1px;top:211.8px">80</div><div class="zt" style="right:426.1px;top:216.9px">60</div><div class="zt" style="right:426.1px;top:222.1px">40</div><div class="zt" style="right:426.1px;top:227.3px">20</div><div class="fl" style="right:381.2px;top:257.6px">0</div><div class="fl" style="right:387.4px;top:253.7px">1/ 4π</div><div class="fl" style="right:398.9px;top:249.3px">1/ 2π</div><div class="fl" style="right:410.5px;top:244.8px">3/ 4π</div><div class="fl" style="right:427.1px;top:240.5px">π</div><div class="fl" style="left:69.6px;top:257.6px">0</div><div class="fl" style="left:77.4px;top:253.7px">1/ 4π</div><div class="fl" style="left:88.9px;top:249.3px">1/ 2π</div><div class="fl" style="left:100.5px;top:244.8px">3/ 4π</div><div class="fl" style="left:115.7px;top:240.3px">π</div><div class="ax" style="left:25.5px;top:252.0px">Φ</div><div class="ax" style="left:99.6px;top:251.2px">Θ</div>
<div class="zt" style="right:320.2px;top:206.6px">100</div><div class="zt" style="right:320.2px;top:211.8px">80</div><div class="zt" style="right:320.2px;top:216.9px">60</div><div class="zt" style="right:320.2px;top:222.1px">40</div><div class="zt" style="right:320.2px;top:227.3px">20</div><div class="fl" style="right:275.3px;top:257.6px">0</div><div class="fl" style="right:281.5px;top:253.7px">1/ 4π</div><div class="fl" style="right:293.1px;top:249.3px">1/ 2π</div><div class="fl" style="right:304.6px;top:244.8px">3/ 4π</div><div class="fl" style="left:175.5px;top:257.6px">0</div><div class="fl" style="left:183.3px;top:253.7px">1/ 4π</div><div class="fl" style="left:194.8px;top:249.3px">1/ 2π</div><div class="fl" style="left:206.4px;top:244.8px">3/ 4π</div><div class="fl" style="left:221.6px;top:240.3px">π</div><div class="ax" style="left:131.4px;top:252.0px">Φ</div><div class="ax" style="left:205.5px;top:251.2px">Θ</div>
<div class="zt" style="right:214.8px;top:206.6px">100</div><div class="zt" style="right:214.8px;top:211.8px">80</div><div class="zt" style="right:214.8px;top:216.9px">60</div><div class="zt" style="right:214.8px;top:222.1px">40</div><div class="zt" style="right:214.8px;top:227.3px">20</div><div class="fl" style="right:169.9px;top:257.6px">0</div><div class="fl" style="right:176.1px;top:253.7px">1/ 4π</div><div class="fl" style="right:187.6px;top:249.3px">1/ 2π</div><div class="fl" style="right:199.2px;top:244.8px">3/ 4π</div><div class="fl" style="left:280.9px;top:257.6px">0</div><div class="fl" style="left:288.7px;top:253.7px">1/ 4π</div><div class="fl" style="left:300.3px;top:249.3px">1/ 2π</div><div class="fl" style="left:311.8px;top:244.8px">3/ 4π</div><div class="fl" style="left:327.0px;top:240.3px">π</div><div class="ax" style="left:236.8px;top:252.0px">Φ</div><div class="ax" style="left:310.9px;top:251.2px">Θ</div>
<div class="zt" style="right:109.0px;top:206.6px">100</div><div class="zt" style="right:109.0px;top:211.8px">80</div><div class="zt" style="right:109.0px;top:216.9px">60</div><div class="zt" style="right:109.0px;top:222.1px">40</div><div class="zt" style="right:109.0px;top:227.3px">20</div><div class="fl" style="right:64.1px;top:257.6px">0</div><div class="fl" style="right:70.3px;top:253.7px">1/ 4π</div><div class="fl" style="right:81.8px;top:249.3px">1/ 2π</div><div class="fl" style="right:93.4px;top:244.8px">3/ 4π</div><div class="fl" style="left:386.7px;top:257.6px">0</div><div class="fl" style="left:394.5px;top:253.7px">1/ 4π</div><div class="fl" style="left:406.1px;top:249.3px">1/ 2π</div><div class="fl" style="left:417.6px;top:244.8px">3/ 4π</div><div class="fl" style="left:432.8px;top:240.3px">π</div><div class="ax" style="left:342.6px;top:252.0px">Φ</div><div class="ax" style="left:416.7px;top:251.2px">Θ</div>
<div class="zt" style="right:426.1px;top:291.1px">100</div><div class="zt" style="right:426.1px;top:296.3px">80</div><div class="zt" style="right:426.1px;top:301.4px">60</div><div class="zt" style="right:426.1px;top:306.6px">40</div><div class="zt" style="right:426.1px;top:311.8px">20</div><div class="fl" style="right:381.2px;top:342.1px">0</div><div class="fl" style="right:387.4px;top:338.2px">1/ 4π</div><div class="fl" style="right:398.9px;top:333.7px">1/ 2π</div><div class="fl" style="right:410.5px;top:329.3px">3/ 4π</div><div class="fl" style="right:427.1px;top:325.0px">π</div><div class="fl" style="left:69.6px;top:342.1px">0</div><div class="fl" style="left:77.4px;top:338.2px">1/ 4π</div><div class="fl" style="left:88.9px;top:333.7px">1/ 2π</div><div class="fl" style="left:100.5px;top:329.3px">3/ 4π</div><div class="fl" style="left:115.7px;top:324.8px">π</div><div class="ax" style="left:25.5px;top:336.5px">Φ</div><div class="ax" style="left:99.6px;top:335.7px">Θ</div>
<div class="zt" style="right:320.2px;top:291.1px">100</div><div class="zt" style="right:320.2px;top:296.3px">80</div><div class="zt" style="right:320.2px;top:301.4px">60</div><div class="zt" style="right:320.2px;top:306.6px">40</div><div class="zt" style="right:320.2px;top:311.8px">20</div><div class="fl" style="right:275.3px;top:342.1px">0</div><div class="fl" style="right:281.5px;top:338.2px">1/ 4π</div><div class="fl" style="right:293.1px;top:333.7px">1/ 2π</div><div class="fl" style="right:304.6px;top:329.3px">3/ 4π</div><div class="fl" style="left:175.5px;top:342.1px">0</div><div class="fl" style="left:183.3px;top:338.2px">1/ 4π</div><div class="fl" style="left:194.8px;top:333.7px">1/ 2π</div><div class="fl" style="left:206.4px;top:329.3px">3/ 4π</div><div class="fl" style="left:221.6px;top:324.8px">π</div><div class="ax" style="left:131.4px;top:336.5px">Φ</div><div class="ax" style="left:205.5px;top:335.7px">Θ</div>
<div class="zt" style="right:214.8px;top:291.1px">100</div><div class="zt" style="right:214.8px;top:296.3px">80</div><div class="zt" style="right:214.8px;top:301.4px">60</div><div class="zt" style="right:214.8px;top:306.6px">40</div><div class="zt" style="right:214.8px;top:311.8px">20</div><div class="fl" style="right:169.9px;top:342.1px">0</div><div class="fl" style="right:176.1px;top:338.2px">1/ 4π</div><div class="fl" style="right:187.6px;top:333.7px">1/ 2π</div><div class="fl" style="right:199.2px;top:329.3px">3/ 4π</div><div class="fl" style="left:280.9px;top:342.1px">0</div><div class="fl" style="left:288.7px;top:338.2px">1/ 4π</div><div class="fl" style="left:300.3px;top:333.7px">1/ 2π</div><div class="fl" style="left:311.8px;top:329.3px">3/ 4π</div><div class="fl" style="left:327.0px;top:324.8px">π</div><div class="ax" style="left:236.8px;top:336.5px">Φ</div><div class="ax" style="left:310.9px;top:335.7px">Θ</div>
<div class="zt" style="right:109.0px;top:291.1px">100</div><div class="zt" style="right:109.0px;top:296.3px">80</div><div class="zt" style="right:109.0px;top:301.4px">60</div><div class="zt" style="right:109.0px;top:306.6px">40</div><div class="zt" style="right:109.0px;top:311.8px">20</div><div class="fl" style="right:64.1px;top:342.1px">0</div><div class="fl" style="right:70.3px;top:338.2px">1/ 4π</div><div class="fl" style="right:81.8px;top:333.7px">1/ 2π</div><div class="fl" style="right:93.4px;top:329.3px">3/ 4π</div><div class="fl" style="left:386.7px;top:342.1px">0</div><div class="fl" style="left:394.5px;top:338.2px">1/ 4π</div><div class="fl" style="left:406.1px;top:333.7px">1/ 2π</div><div class="fl" style="left:417.6px;top:329.3px">3/ 4π</div><div class="fl" style="left:432.8px;top:324.8px">π</div><div class="ax" style="left:342.6px;top:336.5px">Φ</div><div class="ax" style="left:416.7px;top:335.7px">Θ</div>
<div class="zt" style="right:426.1px;top:411.2px">100</div><div class="zt" style="right:426.1px;top:416.4px">80</div><div class="zt" style="right:426.1px;top:421.5px">60</div><div class="zt" style="right:426.1px;top:426.7px">40</div><div class="zt" style="right:426.1px;top:431.9px">20</div><div class="fl" style="right:381.2px;top:462.2px">0</div><div class="fl" style="right:387.4px;top:458.3px">1/ 4π</div><div class="fl" style="right:398.9px;top:453.8px">1/ 2π</div><div class="fl" style="right:410.5px;top:449.4px">3/ 4π</div><div class="fl" style="right:427.1px;top:445.1px">π</div><div class="fl" style="left:69.6px;top:462.2px">0</div><div class="fl" style="left:77.4px;top:458.3px">1/ 4π</div><div class="fl" style="left:88.9px;top:453.8px">1/ 2π</div><div class="fl" style="left:100.5px;top:449.4px">3/ 4π</div><div class="fl" style="left:115.7px;top:444.9px">π</div><div class="ax" style="left:25.5px;top:456.6px">Φ</div><div class="ax" style="left:99.6px;top:455.8px">Θ</div>
<div class="zt" style="right:320.2px;top:411.2px">100</div><div class="zt" style="right:320.2px;top:416.4px">80</div><div class="zt" style="right:320.2px;top:421.5px">60</div><div class="zt" style="right:320.2px;top:426.7px">40</div><div class="zt" style="right:320.2px;top:431.9px">20</div><div class="fl" style="right:275.3px;top:462.2px">0</div><div class="fl" style="right:281.5px;top:458.3px">1/ 4π</div><div class="fl" style="right:293.1px;top:453.8px">1/ 2π</div><div class="fl" style="right:304.6px;top:449.4px">3/ 4π</div><div class="fl" style="left:175.5px;top:462.2px">0</div><div class="fl" style="left:183.3px;top:458.3px">1/ 4π</div><div class="fl" style="left:194.8px;top:453.8px">1/ 2π</div><div class="fl" style="left:206.4px;top:449.4px">3/ 4π</div><div class="fl" style="left:221.6px;top:444.9px">π</div><div class="ax" style="left:131.4px;top:456.6px">Φ</div><div class="ax" style="left:205.5px;top:455.8px">Θ</div>
<div class="zt" style="right:214.8px;top:411.2px">100</div><div class="zt" style="right:214.8px;top:416.4px">80</div><div class="zt" style="right:214.8px;top:421.5px">60</div><div class="zt" style="right:214.8px;top:426.7px">40</div><div class="zt" style="right:214.8px;top:431.9px">20</div><div class="fl" style="right:169.9px;top:462.2px">0</div><div class="fl" style="right:176.1px;top:458.3px">1/ 4π</div><div class="fl" style="right:187.6px;top:453.8px">1/ 2π</div><div class="fl" style="right:199.2px;top:449.4px">3/ 4π</div><div class="fl" style="left:280.9px;top:462.2px">0</div><div class="fl" style="left:288.7px;top:458.3px">1/ 4π</div><div class="fl" style="left:300.3px;top:453.8px">1/ 2π</div><div class="fl" style="left:311.8px;top:449.4px">3/ 4π</div><div class="fl" style="left:327.0px;top:444.9px">π</div><div class="ax" style="left:236.8px;top:456.6px">Φ</div><div class="ax" style="left:310.9px;top:455.8px">Θ</div>
<div class="zt" style="right:109.0px;top:411.2px">100</div><div class="zt" style="right:109.0px;top:416.4px">80</div><div class="zt" style="right:109.0px;top:421.5px">60</div><div class="zt" style="right:109.0px;top:426.7px">40</div><div class="zt" style="right:109.0px;top:431.9px">20</div><div class="fl" style="right:64.1px;top:462.2px">0</div><div class="fl" style="right:70.3px;top:458.3px">1/ 4π</div><div class="fl" style="right:81.8px;top:453.8px">1/ 2π</div><div class="fl" style="right:93.4px;top:449.4px">3/ 4π</div><div class="fl" style="left:386.7px;top:462.2px">0</div><div class="fl" style="left:394.5px;top:458.3px">1/ 4π</div><div class="fl" style="left:406.1px;top:453.8px">1/ 2π</div><div class="fl" style="left:417.6px;top:449.4px">3/ 4π</div><div class="fl" style="left:432.8px;top:444.9px">π</div><div class="ax" style="left:342.6px;top:456.6px">Φ</div><div class="ax" style="left:416.7px;top:455.8px">Θ</div>
<div class="zt" style="right:426.1px;top:489.7px">100</div><div class="zt" style="right:426.1px;top:494.9px">80</div><div class="zt" style="right:426.1px;top:500.0px">60</div><div class="zt" style="right:426.1px;top:505.2px">40</div><div class="zt" style="right:426.1px;top:510.4px">20</div><div class="fl" style="right:381.2px;top:540.7px">0</div><div class="fl" style="right:387.4px;top:536.8px">1/ 4π</div><div class="fl" style="right:398.9px;top:532.3px">1/ 2π</div><div class="fl" style="right:410.5px;top:527.9px">3/ 4π</div><div class="fl" style="right:427.1px;top:523.6px">π</div><div class="fl" style="left:69.6px;top:540.7px">0</div><div class="fl" style="left:77.4px;top:536.8px">1/ 4π</div><div class="fl" style="left:88.9px;top:532.3px">1/ 2π</div><div class="fl" style="left:100.5px;top:527.9px">3/ 4π</div><div class="fl" style="left:115.7px;top:523.4px">π</div><div class="ax" style="left:25.5px;top:535.1px">Φ</div><div class="ax" style="left:99.6px;top:534.3px">Θ</div>
<div class="zt" style="right:320.2px;top:489.7px">100</div><div class="zt" style="right:320.2px;top:494.9px">80</div><div class="zt" style="right:320.2px;top:500.0px">60</div><div class="zt" style="right:320.2px;top:505.2px">40</div><div class="zt" style="right:320.2px;top:510.4px">20</div><div class="fl" style="right:275.3px;top:540.7px">0</div><div class="fl" style="right:281.5px;top:536.8px">1/ 4π</div><div class="fl" style="right:293.1px;top:532.3px">1/ 2π</div><div class="fl" style="right:304.6px;top:527.9px">3/ 4π</div><div class="fl" style="left:175.5px;top:540.7px">0</div><div class="fl" style="left:183.3px;top:536.8px">1/ 4π</div><div class="fl" style="left:194.8px;top:532.3px">1/ 2π</div><div class="fl" style="left:206.4px;top:527.9px">3/ 4π</div><div class="fl" style="left:221.6px;top:523.4px">π</div><div class="ax" style="left:131.4px;top:535.1px">Φ</div><div class="ax" style="left:205.5px;top:534.3px">Θ</div>
<div class="zt" style="right:214.8px;top:489.7px">100</div><div class="zt" style="right:214.8px;top:494.9px">80</div><div class="zt" style="right:214.8px;top:500.0px">60</div><div class="zt" style="right:214.8px;top:505.2px">40</div><div class="zt" style="right:214.8px;top:510.4px">20</div><div class="fl" style="right:169.9px;top:540.7px">0</div><div class="fl" style="right:176.1px;top:536.8px">1/ 4π</div><div class="fl" style="right:187.6px;top:532.3px">1/ 2π</div><div class="fl" style="right:199.2px;top:527.9px">3/ 4π</div><div class="fl" style="left:280.9px;top:540.7px">0</div><div class="fl" style="left:288.7px;top:536.8px">1/ 4π</div><div class="fl" style="left:300.3px;top:532.3px">1/ 2π</div><div class="fl" style="left:311.8px;top:527.9px">3/ 4π</div><div class="fl" style="left:327.0px;top:523.4px">π</div><div class="ax" style="left:236.8px;top:535.1px">Φ</div><div class="ax" style="left:310.9px;top:534.3px">Θ</div>
<div class="zt" style="right:109.0px;top:489.7px">100</div><div class="zt" style="right:109.0px;top:494.9px">80</div><div class="zt" style="right:109.0px;top:500.0px">60</div><div class="zt" style="right:109.0px;top:505.2px">40</div><div class="zt" style="right:109.0px;top:510.4px">20</div><div class="fl" style="right:64.1px;top:540.7px">0</div><div class="fl" style="right:70.3px;top:536.8px">1/ 4π</div><div class="fl" style="right:81.8px;top:532.3px">1/ 2π</div><div class="fl" style="right:93.4px;top:527.9px">3/ 4π</div><div class="fl" style="left:386.7px;top:540.7px">0</div><div class="fl" style="left:394.5px;top:536.8px">1/ 4π</div><div class="fl" style="left:406.1px;top:532.3px">1/ 2π</div><div class="fl" style="left:417.6px;top:527.9px">3/ 4π</div><div class="fl" style="left:432.8px;top:523.4px">π</div><div class="ax" style="left:342.6px;top:535.1px">Φ</div><div class="ax" style="left:416.7px;top:534.3px">Θ</div>
<div class="nm" style="left:19.6px;top:46.9px">Stilbene</div>
<div class="nm" style="left:19.6px;top:113.1px">Stiff-stilbene</div>
<div class="nm" style="left:19.6px;top:187.8px">OHBP</div>
<div class="nm" style="left:19.6px;top:270.3px">Azobenzene</div>
<div class="nm" style="left:234.2px;top:46.9px">NAIP</div>
<div class="nm" style="left:234.2px;top:113.1px">NABP</div>
<div class="nm" style="left:234.2px;top:187.8px">GFP</div>
<div class="nm" style="left:234.2px;top:270.3px">Hemithioindigo</div>
<div class="nm" style="left:19.6px;top:395.3px">DASA</div>
<div class="nm" style="left:19.6px;top:472.4px">Diarylethene</div>
<div class="nm" style="left:234.2px;top:395.3px">Spirooxazine</div>
<div class="nm" style="left:234.2px;top:472.4px">Spiropyran</div>
<div class="hd" style="left:57.5px;top:21.3px">trans</div>
<div class="hd" style="left:150.1px;top:21.3px">cis</div>
<div class="hd" style="left:256.3px;top:21.3px">trans</div>
<div class="hd" style="left:358.6px;top:21.3px">cis</div>
<div class="hd" style="left:49.2px;top:370.5px">open</div>
<div class="hd" style="left:153.2px;top:370.5px">closed</div>
<div class="hd" style="left:260.5px;top:370.5px">open</div>
<div class="hd" style="left:350.9px;top:370.5px">closed</div>
<div class="big" style="left:2.8px;top:3.2px">A</div>
<div class="big" style="left:1.7px;top:357.6px">B</div>
</body></html>
